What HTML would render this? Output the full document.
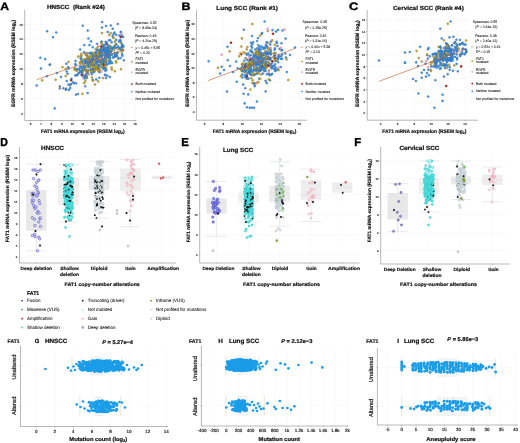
<!DOCTYPE html>
<html lang="en"><head><meta charset="utf-8"><title>FAT1 figure</title>
<style>html,body{margin:0;padding:0;background:#fff}body{width:520px;height:443px;overflow:hidden}svg{display:block}text{font-family:"Liberation Sans",Arial,sans-serif;text-rendering:geometricPrecision}
.c0{fill:#d0ac2c;stroke:#7a6414;stroke-width:0.34}
.c1{fill:#3c98ea;stroke:#2c5c9e;stroke-width:0.34}
.c2{fill:#f2a6cf;stroke:#c878a8;stroke-width:0.34}
.c3{fill:#b01818;stroke:#701010;stroke-width:0.34}
.c4{fill:#8a8a8a;stroke:#666;stroke-width:0.34}
.c5{fill:#c9a227;stroke:#8a6d10;stroke-width:0.2}
.c6{fill:#f2a6cf;stroke:#c878a8;stroke-width:0.2}
.c7{fill:#b01818;stroke:#701010;stroke-width:0.2}
.c8{fill:#3a9be6;stroke:#2a6fb8;stroke-width:0.2}
.c9{fill:#ededed;stroke:#dddddd;stroke-width:0.2}
.c10{fill:#dcdcf8;stroke:#3838bc;stroke-width:0.5}
.c11{fill:#111;stroke:#111;stroke-width:0.2}
.c12{fill:#52e4e0;stroke:#36c2c8;stroke-width:0.3}
.c13{fill:#111;stroke:#111;stroke-width:0.2}
.c14{fill:#c4f2f2;stroke:#8adcdc;stroke-width:0.25}
.c15{fill:#d4dde3;stroke:#aab8c0;stroke-width:0.28}
.c16{fill:#d0d0d0;stroke:#b0b0b0;stroke-width:0.3}
.c17{fill:#f8ccd6;stroke:#e69cb0;stroke-width:0.3}
.c18{fill:#e46060;stroke:#c84040;stroke-width:0.3}
.c19{fill:#8e8eea;stroke:#3a3abc;stroke-width:0.4}
.c20{fill:#d0d0d0;stroke:#b0b0b0;stroke-width:0.3}
.c21{fill:#7cc860;stroke:#50a040;stroke-width:0.3}
.c22{fill:#8aa830;stroke:#607818;stroke-width:0.3}
.c23{fill:#f8ccd6;stroke:#e69cb0;stroke-width:0.3}
.c24{fill:#8aa830;stroke:#607818;stroke-width:0.3}
.c25{fill:#8c8cc8;stroke:#5454a4;stroke-width:0.4}
.c26{fill:#2a2a90;stroke:#2a2a90;stroke-width:0.25}
.c27{fill:#38a838;stroke:#2a8a2a;stroke-width:0.25}
.c28{fill:#e05858;stroke:#c03030;stroke-width:0.25}
.c29{fill:#8adede;stroke:#60c0c0;stroke-width:0.25}
.c30{fill:#111;stroke:#111;stroke-width:0.25}
.c31{fill:#d0ecec;stroke:#c0dcdc;stroke-width:0.25}
.c32{fill:#f6c0cc;stroke:#e8a0b0;stroke-width:0.25}
.c33{fill:#e8e8fb;stroke:#3434b4;stroke-width:0.5}
.c34{fill:#7a8a18;stroke:#5c6c10;stroke-width:0.25}
.c35{fill:#e4e4e4;stroke:#d8d8d8;stroke-width:0.25}
.c36{fill:#d4dade;stroke:#c0c8cc;stroke-width:0.25}
.c37{fill:#1b9de8;stroke:none;stroke-width:0.3}
.c38{fill:#1b9de8;stroke:none;stroke-width:0.3}</style>
</head><body>
<svg width="520" height="443" viewBox="0 0 520 443" font-family="'Liberation Sans', Arial, sans-serif">
<rect width="520" height="443" fill="#fff"/>
<line x1="30.5" y1="12" x2="30.5" y2="120.5" stroke="#f5f5f5" stroke-width="0.5"/>
<line x1="40.96" y1="12" x2="40.96" y2="120.5" stroke="#f5f5f5" stroke-width="0.5"/>
<line x1="51.42" y1="12" x2="51.42" y2="120.5" stroke="#f5f5f5" stroke-width="0.5"/>
<line x1="61.88" y1="12" x2="61.88" y2="120.5" stroke="#f5f5f5" stroke-width="0.5"/>
<line x1="72.34" y1="12" x2="72.34" y2="120.5" stroke="#f5f5f5" stroke-width="0.5"/>
<line x1="82.8" y1="12" x2="82.8" y2="120.5" stroke="#f5f5f5" stroke-width="0.5"/>
<line x1="93.26" y1="12" x2="93.26" y2="120.5" stroke="#f5f5f5" stroke-width="0.5"/>
<line x1="103.72" y1="12" x2="103.72" y2="120.5" stroke="#f5f5f5" stroke-width="0.5"/>
<line x1="114.18" y1="12" x2="114.18" y2="120.5" stroke="#f5f5f5" stroke-width="0.5"/>
<line x1="124.64" y1="12" x2="124.64" y2="120.5" stroke="#f5f5f5" stroke-width="0.5"/>
<line x1="135.1" y1="12" x2="135.1" y2="120.5" stroke="#f5f5f5" stroke-width="0.5"/>
<line x1="24.7" y1="113.42" x2="135.5" y2="113.42" stroke="#f5f5f5" stroke-width="0.5"/>
<line x1="24.7" y1="98.6" x2="135.5" y2="98.6" stroke="#f5f5f5" stroke-width="0.5"/>
<line x1="24.7" y1="83.78" x2="135.5" y2="83.78" stroke="#f5f5f5" stroke-width="0.5"/>
<line x1="24.7" y1="68.96" x2="135.5" y2="68.96" stroke="#f5f5f5" stroke-width="0.5"/>
<line x1="24.7" y1="54.14" x2="135.5" y2="54.14" stroke="#f5f5f5" stroke-width="0.5"/>
<line x1="24.7" y1="39.32" x2="135.5" y2="39.32" stroke="#f5f5f5" stroke-width="0.5"/>
<line x1="24.7" y1="24.5" x2="135.5" y2="24.5" stroke="#f5f5f5" stroke-width="0.5"/>
<line x1="24.7" y1="10" x2="24.7" y2="120.5" stroke="#8a8a8a" stroke-width="0.6"/>
<line x1="24.7" y1="120.5" x2="136.5" y2="120.5" stroke="#8a8a8a" stroke-width="0.6"/>
<line x1="30.5" y1="120.5" x2="30.5" y2="121.7" stroke="#8a8a8a" stroke-width="0.4"/>
<text x="30.5" y="125.1" font-size="3" fill="#333" font-weight="bold" stroke="#333" stroke-width="0.11" text-anchor="middle">6</text>
<line x1="40.96" y1="120.5" x2="40.96" y2="121.7" stroke="#8a8a8a" stroke-width="0.4"/>
<text x="40.96" y="125.1" font-size="3" fill="#333" font-weight="bold" stroke="#333" stroke-width="0.11" text-anchor="middle">7</text>
<line x1="51.42" y1="120.5" x2="51.42" y2="121.7" stroke="#8a8a8a" stroke-width="0.4"/>
<text x="51.42" y="125.1" font-size="3" fill="#333" font-weight="bold" stroke="#333" stroke-width="0.11" text-anchor="middle">8</text>
<line x1="61.88" y1="120.5" x2="61.88" y2="121.7" stroke="#8a8a8a" stroke-width="0.4"/>
<text x="61.88" y="125.1" font-size="3" fill="#333" font-weight="bold" stroke="#333" stroke-width="0.11" text-anchor="middle">9</text>
<line x1="72.34" y1="120.5" x2="72.34" y2="121.7" stroke="#8a8a8a" stroke-width="0.4"/>
<text x="72.34" y="125.1" font-size="3" fill="#333" font-weight="bold" stroke="#333" stroke-width="0.11" text-anchor="middle">10</text>
<line x1="82.8" y1="120.5" x2="82.8" y2="121.7" stroke="#8a8a8a" stroke-width="0.4"/>
<text x="82.8" y="125.1" font-size="3" fill="#333" font-weight="bold" stroke="#333" stroke-width="0.11" text-anchor="middle">11</text>
<line x1="93.26" y1="120.5" x2="93.26" y2="121.7" stroke="#8a8a8a" stroke-width="0.4"/>
<text x="93.26" y="125.1" font-size="3" fill="#333" font-weight="bold" stroke="#333" stroke-width="0.11" text-anchor="middle">12</text>
<line x1="103.72" y1="120.5" x2="103.72" y2="121.7" stroke="#8a8a8a" stroke-width="0.4"/>
<text x="103.72" y="125.1" font-size="3" fill="#333" font-weight="bold" stroke="#333" stroke-width="0.11" text-anchor="middle">13</text>
<line x1="114.18" y1="120.5" x2="114.18" y2="121.7" stroke="#8a8a8a" stroke-width="0.4"/>
<text x="114.18" y="125.1" font-size="3" fill="#333" font-weight="bold" stroke="#333" stroke-width="0.11" text-anchor="middle">14</text>
<line x1="124.64" y1="120.5" x2="124.64" y2="121.7" stroke="#8a8a8a" stroke-width="0.4"/>
<text x="124.64" y="125.1" font-size="3" fill="#333" font-weight="bold" stroke="#333" stroke-width="0.11" text-anchor="middle">15</text>
<line x1="135.1" y1="120.5" x2="135.1" y2="121.7" stroke="#8a8a8a" stroke-width="0.4"/>
<text x="135.1" y="125.1" font-size="3" fill="#333" font-weight="bold" stroke="#333" stroke-width="0.11" text-anchor="middle">16</text>
<line x1="23.5" y1="113.42" x2="24.7" y2="113.42" stroke="#8a8a8a" stroke-width="0.4"/>
<text x="22.7" y="114.52" font-size="3" fill="#333" font-weight="bold" stroke="#333" stroke-width="0.11" text-anchor="end">4</text>
<line x1="23.5" y1="98.6" x2="24.7" y2="98.6" stroke="#8a8a8a" stroke-width="0.4"/>
<text x="22.7" y="99.7" font-size="3" fill="#333" font-weight="bold" stroke="#333" stroke-width="0.11" text-anchor="end">6</text>
<line x1="23.5" y1="83.78" x2="24.7" y2="83.78" stroke="#8a8a8a" stroke-width="0.4"/>
<text x="22.7" y="84.88" font-size="3" fill="#333" font-weight="bold" stroke="#333" stroke-width="0.11" text-anchor="end">8</text>
<line x1="23.5" y1="68.96" x2="24.7" y2="68.96" stroke="#8a8a8a" stroke-width="0.4"/>
<text x="22.7" y="70.06" font-size="3" fill="#333" font-weight="bold" stroke="#333" stroke-width="0.11" text-anchor="end">10</text>
<line x1="23.5" y1="54.14" x2="24.7" y2="54.14" stroke="#8a8a8a" stroke-width="0.4"/>
<text x="22.7" y="55.24" font-size="3" fill="#333" font-weight="bold" stroke="#333" stroke-width="0.11" text-anchor="end">12</text>
<line x1="23.5" y1="39.32" x2="24.7" y2="39.32" stroke="#8a8a8a" stroke-width="0.4"/>
<text x="22.7" y="40.42" font-size="3" fill="#333" font-weight="bold" stroke="#333" stroke-width="0.11" text-anchor="end">14</text>
<line x1="23.5" y1="24.5" x2="24.7" y2="24.5" stroke="#8a8a8a" stroke-width="0.4"/>
<text x="22.7" y="25.6" font-size="3" fill="#333" font-weight="bold" stroke="#333" stroke-width="0.11" text-anchor="end">16</text>
<circle class="c0" r="1.05" cx="93.1" cy="60.1"/>
<circle class="c1" r="1.05" cx="89.6" cy="66.4"/>
<circle class="c1" r="1.05" cx="107.5" cy="53.3"/>
<circle class="c0" r="1.05" cx="109.4" cy="50.8"/>
<circle class="c1" r="1.05" cx="86.4" cy="60.3"/>
<circle class="c1" r="1.05" cx="113.7" cy="33.7"/>
<circle class="c0" r="1.05" cx="111.1" cy="51.3"/>
<circle class="c1" r="1.05" cx="104.7" cy="49"/>
<circle class="c1" r="1.05" cx="103.4" cy="66.2"/>
<circle class="c0" r="1.05" cx="76.7" cy="70.9"/>
<circle class="c2" r="1.05" cx="92" cy="60.2"/>
<circle class="c1" r="1.05" cx="98.9" cy="71.6"/>
<circle class="c0" r="1.05" cx="95.7" cy="49.3"/>
<circle class="c1" r="1.05" cx="91.6" cy="64.6"/>
<circle class="c0" r="1.05" cx="105.8" cy="59.3"/>
<circle class="c1" r="1.05" cx="105.1" cy="63.1"/>
<circle class="c0" r="1.05" cx="96.2" cy="55.9"/>
<circle class="c0" r="1.05" cx="99.5" cy="69.1"/>
<circle class="c0" r="1.05" cx="92.3" cy="56.3"/>
<circle class="c1" r="1.05" cx="112.8" cy="48.3"/>
<circle class="c1" r="1.05" cx="108.6" cy="56.5"/>
<circle class="c0" r="1.05" cx="82.3" cy="73.3"/>
<circle class="c0" r="1.05" cx="74.6" cy="69.8"/>
<circle class="c0" r="1.05" cx="82.3" cy="69.9"/>
<circle class="c1" r="1.05" cx="101.3" cy="66.3"/>
<circle class="c1" r="1.05" cx="111.7" cy="42.3"/>
<circle class="c1" r="1.05" cx="105.1" cy="58.6"/>
<circle class="c1" r="1.05" cx="100.4" cy="49.7"/>
<circle class="c1" r="1.05" cx="84.5" cy="67.7"/>
<circle class="c0" r="1.05" cx="90.2" cy="63.6"/>
<circle class="c1" r="1.05" cx="94.7" cy="65.2"/>
<circle class="c0" r="1.05" cx="80" cy="63.1"/>
<circle class="c0" r="1.05" cx="97.2" cy="68.5"/>
<circle class="c1" r="1.05" cx="100.5" cy="62.4"/>
<circle class="c1" r="1.05" cx="108.7" cy="53.9"/>
<circle class="c1" r="1.05" cx="93.3" cy="60"/>
<circle class="c1" r="1.05" cx="79.5" cy="72.7"/>
<circle class="c1" r="1.05" cx="113.3" cy="47.5"/>
<circle class="c1" r="1.05" cx="67.6" cy="73.8"/>
<circle class="c1" r="1.05" cx="87.3" cy="56"/>
<circle class="c0" r="1.05" cx="111.9" cy="69.7"/>
<circle class="c0" r="1.05" cx="96.7" cy="54.7"/>
<circle class="c3" r="1.05" cx="120.8" cy="37.1"/>
<circle class="c0" r="1.05" cx="98.5" cy="69.8"/>
<circle class="c1" r="1.05" cx="111.4" cy="51.4"/>
<circle class="c1" r="1.05" cx="73" cy="82.3"/>
<circle class="c1" r="1.05" cx="122.5" cy="46.8"/>
<circle class="c3" r="1.05" cx="101.1" cy="55.8"/>
<circle class="c1" r="1.05" cx="116.5" cy="52.9"/>
<circle class="c0" r="1.05" cx="100.2" cy="70.6"/>
<circle class="c1" r="1.05" cx="110.1" cy="51.1"/>
<circle class="c1" r="1.05" cx="98.6" cy="67.3"/>
<circle class="c1" r="1.05" cx="108.8" cy="63.6"/>
<circle class="c0" r="1.05" cx="83.3" cy="70.4"/>
<circle class="c1" r="1.05" cx="112.1" cy="54.6"/>
<circle class="c1" r="1.05" cx="122" cy="50"/>
<circle class="c0" r="1.05" cx="92.4" cy="57.8"/>
<circle class="c1" r="1.05" cx="110.8" cy="48.1"/>
<circle class="c0" r="1.05" cx="102.7" cy="54.6"/>
<circle class="c1" r="1.05" cx="94.7" cy="56.4"/>
<circle class="c1" r="1.05" cx="86.6" cy="77.1"/>
<circle class="c1" r="1.05" cx="89.6" cy="64.7"/>
<circle class="c1" r="1.05" cx="93.2" cy="63.4"/>
<circle class="c1" r="1.05" cx="103.6" cy="61.2"/>
<circle class="c1" r="1.05" cx="97.2" cy="49.8"/>
<circle class="c0" r="1.05" cx="82.9" cy="68.7"/>
<circle class="c1" r="1.05" cx="121.1" cy="32.5"/>
<circle class="c0" r="1.05" cx="94.5" cy="69.6"/>
<circle class="c1" r="1.05" cx="85.8" cy="62.8"/>
<circle class="c1" r="1.05" cx="123.8" cy="60.3"/>
<circle class="c1" r="1.05" cx="85.6" cy="61.6"/>
<circle class="c1" r="1.05" cx="86.6" cy="59.1"/>
<circle class="c0" r="1.05" cx="99" cy="51.4"/>
<circle class="c1" r="1.05" cx="88.7" cy="58.4"/>
<circle class="c0" r="1.05" cx="99.1" cy="59.2"/>
<circle class="c0" r="1.05" cx="91.8" cy="72.3"/>
<circle class="c0" r="1.05" cx="114.9" cy="41.7"/>
<circle class="c1" r="1.05" cx="104.5" cy="63.2"/>
<circle class="c0" r="1.05" cx="68.5" cy="61.9"/>
<circle class="c1" r="1.05" cx="96.9" cy="59.5"/>
<circle class="c1" r="1.05" cx="122.4" cy="44.6"/>
<circle class="c1" r="1.05" cx="121.6" cy="35.4"/>
<circle class="c1" r="1.05" cx="102" cy="63.7"/>
<circle class="c1" r="1.05" cx="121.8" cy="46.2"/>
<circle class="c1" r="1.05" cx="104.1" cy="49.1"/>
<circle class="c1" r="1.05" cx="92.7" cy="47.3"/>
<circle class="c0" r="1.05" cx="111.5" cy="67.6"/>
<circle class="c1" r="1.05" cx="106.2" cy="47.8"/>
<circle class="c1" r="1.05" cx="116.1" cy="39.9"/>
<circle class="c1" r="1.05" cx="111.7" cy="49.7"/>
<circle class="c1" r="1.05" cx="101.9" cy="51.1"/>
<circle class="c0" r="1.05" cx="102.5" cy="44.9"/>
<circle class="c0" r="1.05" cx="104" cy="49.2"/>
<circle class="c0" r="1.05" cx="105.1" cy="58"/>
<circle class="c1" r="1.05" cx="99.9" cy="51.7"/>
<circle class="c1" r="1.05" cx="106.2" cy="62.1"/>
<circle class="c1" r="1.05" cx="98.9" cy="54.1"/>
<circle class="c0" r="1.05" cx="107.6" cy="47.2"/>
<circle class="c1" r="1.05" cx="97.5" cy="59.2"/>
<circle class="c0" r="1.05" cx="93.9" cy="60"/>
<circle class="c1" r="1.05" cx="104" cy="50.3"/>
<circle class="c1" r="1.05" cx="84.3" cy="45.1"/>
<circle class="c1" r="1.05" cx="110.9" cy="49.5"/>
<circle class="c0" r="1.05" cx="92" cy="52.6"/>
<circle class="c0" r="1.05" cx="104" cy="61"/>
<circle class="c1" r="1.05" cx="107.6" cy="51.3"/>
<circle class="c0" r="1.05" cx="97.1" cy="66"/>
<circle class="c1" r="1.05" cx="105.2" cy="52.8"/>
<circle class="c1" r="1.05" cx="70.3" cy="88"/>
<circle class="c1" r="1.05" cx="99.6" cy="72.2"/>
<circle class="c3" r="1.05" cx="98.8" cy="61.2"/>
<circle class="c0" r="1.05" cx="87.7" cy="64.5"/>
<circle class="c0" r="1.05" cx="87" cy="53.2"/>
<circle class="c0" r="1.05" cx="91.1" cy="61.4"/>
<circle class="c0" r="1.05" cx="123.1" cy="36.9"/>
<circle class="c1" r="1.05" cx="96.7" cy="56.8"/>
<circle class="c3" r="1.05" cx="106.5" cy="43.9"/>
<circle class="c1" r="1.05" cx="68.1" cy="67.2"/>
<circle class="c1" r="1.05" cx="108.9" cy="50.8"/>
<circle class="c1" r="1.05" cx="91.8" cy="74.3"/>
<circle class="c0" r="1.05" cx="113" cy="37.4"/>
<circle class="c1" r="1.05" cx="106.5" cy="50.7"/>
<circle class="c0" r="1.05" cx="94.3" cy="70.5"/>
<circle class="c0" r="1.05" cx="96.7" cy="61.6"/>
<circle class="c1" r="1.05" cx="97.6" cy="49.9"/>
<circle class="c0" r="1.05" cx="100" cy="62.1"/>
<circle class="c1" r="1.05" cx="114.6" cy="47.4"/>
<circle class="c1" r="1.05" cx="85" cy="61.6"/>
<circle class="c1" r="1.05" cx="104.1" cy="50.3"/>
<circle class="c0" r="1.05" cx="86.8" cy="70.4"/>
<circle class="c0" r="1.05" cx="94.5" cy="70.5"/>
<circle class="c1" r="1.05" cx="105.6" cy="63.5"/>
<circle class="c1" r="1.05" cx="105.3" cy="70.8"/>
<circle class="c0" r="1.05" cx="109.2" cy="35"/>
<circle class="c0" r="1.05" cx="94.6" cy="70.8"/>
<circle class="c0" r="1.05" cx="97.7" cy="70.4"/>
<circle class="c0" r="1.05" cx="80.4" cy="62.3"/>
<circle class="c2" r="1.05" cx="109.7" cy="53.7"/>
<circle class="c1" r="1.05" cx="104.3" cy="63.7"/>
<circle class="c1" r="1.05" cx="94" cy="72.2"/>
<circle class="c1" r="1.05" cx="117" cy="56.3"/>
<circle class="c0" r="1.05" cx="116.2" cy="62.5"/>
<circle class="c1" r="1.05" cx="91.5" cy="61.9"/>
<circle class="c0" r="1.05" cx="86.2" cy="66.4"/>
<circle class="c0" r="1.05" cx="115.6" cy="54.1"/>
<circle class="c0" r="1.05" cx="101.7" cy="41.7"/>
<circle class="c1" r="1.05" cx="105.1" cy="51.3"/>
<circle class="c1" r="1.05" cx="82.3" cy="72.2"/>
<circle class="c3" r="1.05" cx="96.8" cy="56.7"/>
<circle class="c1" r="1.05" cx="86.5" cy="76.3"/>
<circle class="c1" r="1.05" cx="110.3" cy="52.6"/>
<circle class="c1" r="1.05" cx="114.8" cy="55.1"/>
<circle class="c0" r="1.05" cx="99.9" cy="64.9"/>
<circle class="c0" r="1.05" cx="90.7" cy="53.8"/>
<circle class="c0" r="1.05" cx="104.7" cy="59.9"/>
<circle class="c0" r="1.05" cx="106.6" cy="65.1"/>
<circle class="c1" r="1.05" cx="109.2" cy="54.7"/>
<circle class="c1" r="1.05" cx="70.1" cy="85.1"/>
<circle class="c1" r="1.05" cx="93.4" cy="64.2"/>
<circle class="c0" r="1.05" cx="78.2" cy="56.6"/>
<circle class="c0" r="1.05" cx="81.5" cy="55.7"/>
<circle class="c0" r="1.05" cx="66.2" cy="88.6"/>
<circle class="c0" r="1.05" cx="93" cy="55.2"/>
<circle class="c0" r="1.05" cx="92" cy="77.5"/>
<circle class="c2" r="1.05" cx="98.3" cy="46.3"/>
<circle class="c1" r="1.05" cx="88" cy="73.9"/>
<circle class="c1" r="1.05" cx="114.6" cy="32.6"/>
<circle class="c1" r="1.05" cx="89.2" cy="65.9"/>
<circle class="c1" r="1.05" cx="92.4" cy="60.1"/>
<circle class="c1" r="1.05" cx="112.2" cy="63"/>
<circle class="c1" r="1.05" cx="81.4" cy="59.5"/>
<circle class="c1" r="1.05" cx="102.1" cy="58.8"/>
<circle class="c0" r="1.05" cx="81.3" cy="61.7"/>
<circle class="c0" r="1.05" cx="98.1" cy="54.9"/>
<circle class="c0" r="1.05" cx="84.5" cy="66.2"/>
<circle class="c0" r="1.05" cx="80.7" cy="56"/>
<circle class="c1" r="1.05" cx="122.1" cy="54.2"/>
<circle class="c1" r="1.05" cx="100.4" cy="53.4"/>
<circle class="c1" r="1.05" cx="110.3" cy="40.3"/>
<circle class="c1" r="1.05" cx="87.6" cy="72.5"/>
<circle class="c1" r="1.05" cx="110.5" cy="55.2"/>
<circle class="c1" r="1.05" cx="106.8" cy="42.6"/>
<circle class="c1" r="1.05" cx="87.9" cy="62.2"/>
<circle class="c1" r="1.05" cx="86.2" cy="74.1"/>
<circle class="c1" r="1.05" cx="116" cy="48"/>
<circle class="c0" r="1.05" cx="96.6" cy="68.8"/>
<circle class="c0" r="1.05" cx="100.2" cy="60"/>
<circle class="c1" r="1.05" cx="109.1" cy="61.1"/>
<circle class="c1" r="1.05" cx="114.6" cy="53.3"/>
<circle class="c0" r="1.05" cx="92.3" cy="69.7"/>
<circle class="c0" r="1.05" cx="107.3" cy="60.3"/>
<circle class="c0" r="1.05" cx="90.3" cy="56.5"/>
<circle class="c1" r="1.05" cx="105" cy="75.1"/>
<circle class="c1" r="1.05" cx="106" cy="56"/>
<circle class="c1" r="1.05" cx="97.3" cy="59.2"/>
<circle class="c0" r="1.05" cx="120.4" cy="49.3"/>
<circle class="c1" r="1.05" cx="96.3" cy="58.9"/>
<circle class="c1" r="1.05" cx="66.3" cy="63.8"/>
<circle class="c1" r="1.05" cx="121" cy="49.1"/>
<circle class="c1" r="1.05" cx="104.7" cy="62.9"/>
<circle class="c1" r="1.05" cx="113.5" cy="57.2"/>
<circle class="c1" r="1.05" cx="119.3" cy="35.5"/>
<circle class="c1" r="1.05" cx="100.1" cy="52"/>
<circle class="c1" r="1.05" cx="101.3" cy="56"/>
<circle class="c1" r="1.05" cx="107.4" cy="75.8"/>
<circle class="c1" r="1.05" cx="87.4" cy="64"/>
<circle class="c1" r="1.05" cx="119.9" cy="48.1"/>
<circle class="c1" r="1.05" cx="116.8" cy="55.2"/>
<circle class="c1" r="1.05" cx="120.8" cy="42.8"/>
<circle class="c1" r="1.05" cx="83.2" cy="76.5"/>
<circle class="c1" r="1.05" cx="91.5" cy="72.5"/>
<circle class="c1" r="1.05" cx="105.7" cy="41.8"/>
<circle class="c1" r="1.05" cx="103.1" cy="60.1"/>
<circle class="c1" r="1.05" cx="96.6" cy="61.4"/>
<circle class="c0" r="1.05" cx="107.9" cy="52.5"/>
<circle class="c0" r="1.05" cx="85.3" cy="81.1"/>
<circle class="c0" r="1.05" cx="69.6" cy="85.2"/>
<circle class="c0" r="1.05" cx="81.3" cy="53.8"/>
<circle class="c1" r="1.05" cx="107.8" cy="47.9"/>
<circle class="c1" r="1.05" cx="102.6" cy="67.4"/>
<circle class="c0" r="1.05" cx="110.4" cy="46.6"/>
<circle class="c0" r="1.05" cx="98.7" cy="59.7"/>
<circle class="c2" r="1.05" cx="100.1" cy="59.1"/>
<circle class="c1" r="1.05" cx="99.9" cy="55.5"/>
<circle class="c1" r="1.05" cx="110.8" cy="25.5"/>
<circle class="c0" r="1.05" cx="82.4" cy="93.8"/>
<circle class="c0" r="1.05" cx="100.1" cy="54.2"/>
<circle class="c1" r="1.05" cx="120.7" cy="40.6"/>
<circle class="c0" r="1.05" cx="74.5" cy="68"/>
<circle class="c1" r="1.05" cx="84.2" cy="78.4"/>
<circle class="c0" r="1.05" cx="96.4" cy="66.9"/>
<circle class="c0" r="1.05" cx="85.2" cy="69"/>
<circle class="c0" r="1.05" cx="104.6" cy="55.2"/>
<circle class="c0" r="1.05" cx="85.1" cy="53.4"/>
<circle class="c1" r="1.05" cx="122.6" cy="50.2"/>
<circle class="c1" r="1.05" cx="92.5" cy="69.8"/>
<circle class="c1" r="1.05" cx="96.7" cy="61.5"/>
<circle class="c1" r="1.05" cx="101.2" cy="50.6"/>
<circle class="c1" r="1.05" cx="120.8" cy="31.9"/>
<circle class="c1" r="1.05" cx="108.9" cy="52"/>
<circle class="c1" r="1.05" cx="89" cy="58"/>
<circle class="c0" r="1.05" cx="93" cy="68.8"/>
<circle class="c1" r="1.05" cx="98.3" cy="65.9"/>
<circle class="c0" r="1.05" cx="90.2" cy="63.9"/>
<circle class="c0" r="1.05" cx="104.1" cy="67"/>
<circle class="c0" r="1.05" cx="105.9" cy="68.3"/>
<circle class="c1" r="1.05" cx="110.1" cy="52"/>
<circle class="c1" r="1.05" cx="108" cy="45.2"/>
<circle class="c1" r="1.05" cx="104" cy="50.5"/>
<circle class="c1" r="1.05" cx="94" cy="53.8"/>
<circle class="c2" r="1.05" cx="101.4" cy="71.6"/>
<circle class="c0" r="1.05" cx="98.7" cy="53.7"/>
<circle class="c0" r="1.05" cx="93.7" cy="63.1"/>
<circle class="c1" r="1.05" cx="93.4" cy="65.1"/>
<circle class="c2" r="1.05" cx="121.5" cy="33.6"/>
<circle class="c2" r="1.05" cx="85.1" cy="53.9"/>
<circle class="c1" r="1.05" cx="79.3" cy="69.6"/>
<circle class="c0" r="1.05" cx="86.8" cy="78.2"/>
<circle class="c1" r="1.05" cx="88.4" cy="67.1"/>
<circle class="c1" r="1.05" cx="120.6" cy="58"/>
<circle class="c1" r="1.05" cx="122.1" cy="45.5"/>
<circle class="c2" r="1.05" cx="98.4" cy="55.5"/>
<circle class="c0" r="1.05" cx="103.4" cy="52.6"/>
<circle class="c0" r="1.05" cx="98.9" cy="70.4"/>
<circle class="c0" r="1.05" cx="80.3" cy="62.8"/>
<circle class="c0" r="1.05" cx="121.4" cy="42.9"/>
<circle class="c1" r="1.05" cx="74.2" cy="83.3"/>
<circle class="c1" r="1.05" cx="103" cy="61.2"/>
<circle class="c1" r="1.05" cx="98.1" cy="56.2"/>
<circle class="c1" r="1.05" cx="119.7" cy="40.3"/>
<circle class="c1" r="1.05" cx="82.7" cy="60.7"/>
<circle class="c1" r="1.05" cx="106.5" cy="51.7"/>
<circle class="c1" r="1.05" cx="114.5" cy="46.3"/>
<circle class="c0" r="1.05" cx="101" cy="58.1"/>
<circle class="c1" r="1.05" cx="98" cy="67.4"/>
<circle class="c1" r="1.05" cx="90.4" cy="52.8"/>
<circle class="c1" r="1.05" cx="89.5" cy="61.5"/>
<circle class="c1" r="1.05" cx="81.6" cy="67.6"/>
<circle class="c1" r="1.05" cx="105.5" cy="57.2"/>
<circle class="c1" r="1.05" cx="76.1" cy="83.2"/>
<circle class="c0" r="1.05" cx="86.1" cy="77.9"/>
<circle class="c0" r="1.05" cx="97.9" cy="54"/>
<circle class="c1" r="1.05" cx="103.4" cy="68.9"/>
<circle class="c0" r="1.05" cx="96.9" cy="63.9"/>
<circle class="c1" r="1.05" cx="104.1" cy="68.5"/>
<circle class="c0" r="1.05" cx="114.2" cy="50.2"/>
<circle class="c0" r="1.05" cx="107.3" cy="54.1"/>
<circle class="c0" r="1.05" cx="94.2" cy="53.5"/>
<circle class="c1" r="1.05" cx="98.5" cy="60.8"/>
<circle class="c0" r="1.05" cx="89.7" cy="66.6"/>
<circle class="c1" r="1.05" cx="95.8" cy="59"/>
<circle class="c1" r="1.05" cx="123.1" cy="50"/>
<circle class="c1" r="1.05" cx="122.4" cy="55.7"/>
<circle class="c0" r="1.05" cx="110" cy="46.2"/>
<circle class="c1" r="1.05" cx="110.8" cy="61.3"/>
<circle class="c0" r="1.05" cx="95.4" cy="55.5"/>
<circle class="c1" r="1.05" cx="107.4" cy="48.3"/>
<circle class="c1" r="1.05" cx="98.4" cy="61.7"/>
<circle class="c1" r="1.05" cx="94.1" cy="68.8"/>
<circle class="c1" r="1.05" cx="102.7" cy="47.8"/>
<circle class="c1" r="1.05" cx="91.1" cy="41.4"/>
<circle class="c0" r="1.05" cx="65.7" cy="68.8"/>
<circle class="c1" r="1.05" cx="111.2" cy="48.1"/>
<circle class="c2" r="1.05" cx="83.5" cy="77"/>
<circle class="c1" r="1.05" cx="85" cy="75.8"/>
<circle class="c1" r="1.05" cx="112.6" cy="35.7"/>
<circle class="c0" r="1.05" cx="84.2" cy="83"/>
<circle class="c1" r="1.05" cx="99.3" cy="59.4"/>
<circle class="c1" r="1.05" cx="82.2" cy="66.7"/>
<circle class="c1" r="1.05" cx="119.1" cy="41.5"/>
<circle class="c1" r="1.05" cx="116.3" cy="44.1"/>
<circle class="c0" r="1.05" cx="99.7" cy="58.6"/>
<circle class="c0" r="1.05" cx="84.3" cy="59.1"/>
<circle class="c1" r="1.05" cx="106.5" cy="54"/>
<circle class="c1" r="1.05" cx="81.1" cy="58.2"/>
<circle class="c0" r="1.05" cx="102.5" cy="55.1"/>
<circle class="c1" r="1.05" cx="123.5" cy="46.4"/>
<circle class="c1" r="1.05" cx="71.4" cy="78.8"/>
<circle class="c0" r="1.05" cx="82.3" cy="75.2"/>
<circle class="c1" r="1.05" cx="106.7" cy="51.6"/>
<circle class="c1" r="1.05" cx="104.4" cy="50.7"/>
<circle class="c0" r="1.05" cx="97.5" cy="47.6"/>
<circle class="c0" r="1.05" cx="86.7" cy="58.7"/>
<circle class="c1" r="1.05" cx="100.9" cy="59.6"/>
<circle class="c0" r="1.05" cx="95.5" cy="61.7"/>
<circle class="c2" r="1.05" cx="88.9" cy="74.4"/>
<circle class="c1" r="1.05" cx="105.4" cy="74.7"/>
<circle class="c1" r="1.05" cx="115.4" cy="45.2"/>
<circle class="c1" r="1.05" cx="110" cy="58.8"/>
<circle class="c0" r="1.05" cx="101.3" cy="48.8"/>
<circle class="c1" r="1.05" cx="98.9" cy="64.8"/>
<circle class="c1" r="1.05" cx="121.8" cy="48.5"/>
<circle class="c0" r="1.05" cx="97.8" cy="59.4"/>
<circle class="c1" r="1.05" cx="104.1" cy="45"/>
<circle class="c1" r="1.05" cx="104.5" cy="46.8"/>
<circle class="c1" r="1.05" cx="108.9" cy="49.8"/>
<circle class="c1" r="1.05" cx="95.6" cy="54.5"/>
<circle class="c1" r="1.05" cx="85.5" cy="77.7"/>
<circle class="c0" r="1.05" cx="83.9" cy="65.5"/>
<circle class="c1" r="1.05" cx="84.6" cy="66.3"/>
<circle class="c1" r="1.05" cx="76" cy="69"/>
<circle class="c1" r="1.05" cx="92.5" cy="63.9"/>
<circle class="c3" r="1.05" cx="103.7" cy="64.6"/>
<circle class="c1" r="1.05" cx="109.7" cy="57.4"/>
<circle class="c1" r="1.05" cx="68.9" cy="89.9"/>
<circle class="c1" r="1.05" cx="80.5" cy="66.2"/>
<circle class="c0" r="1.05" cx="86" cy="55.1"/>
<circle class="c1" r="1.05" cx="106.2" cy="54.9"/>
<circle class="c0" r="1.05" cx="94.5" cy="67.7"/>
<circle class="c0" r="1.05" cx="86.5" cy="66.9"/>
<circle class="c1" r="1.05" cx="109.6" cy="58.4"/>
<circle class="c0" r="1.05" cx="114.8" cy="71.3"/>
<circle class="c1" r="1.05" cx="96.6" cy="62.5"/>
<circle class="c0" r="1.05" cx="104.1" cy="59.5"/>
<circle class="c1" r="1.05" cx="89.3" cy="59.8"/>
<circle class="c0" r="1.05" cx="121" cy="69.3"/>
<circle class="c0" r="1.05" cx="96.1" cy="57.5"/>
<circle class="c1" r="1.05" cx="75.7" cy="64.9"/>
<circle class="c1" r="1.05" cx="99.9" cy="49.7"/>
<circle class="c1" r="1.05" cx="117.7" cy="52.9"/>
<circle class="c1" r="1.05" cx="100.6" cy="52.1"/>
<circle class="c1" r="1.05" cx="88.7" cy="57.7"/>
<circle class="c1" r="1.05" cx="89" cy="65.5"/>
<circle class="c1" r="1.05" cx="82.8" cy="25.8"/>
<circle class="c1" r="1.05" cx="90.3" cy="60.2"/>
<circle class="c0" r="1.05" cx="92.2" cy="58.5"/>
<circle class="c1" r="1.05" cx="92.4" cy="54.7"/>
<circle class="c1" r="1.05" cx="102.1" cy="55.2"/>
<circle class="c0" r="1.05" cx="90.1" cy="61.9"/>
<circle class="c0" r="1.05" cx="95.1" cy="59.2"/>
<circle class="c1" r="1.05" cx="109.9" cy="50"/>
<circle class="c1" r="1.05" cx="102.6" cy="47"/>
<circle class="c1" r="1.05" cx="107.5" cy="57.4"/>
<circle class="c1" r="1.05" cx="93.1" cy="59.2"/>
<circle class="c1" r="1.05" cx="109.7" cy="50.3"/>
<circle class="c0" r="1.05" cx="101.5" cy="66.9"/>
<circle class="c1" r="1.05" cx="96.1" cy="52.1"/>
<circle class="c0" r="1.05" cx="92" cy="62.7"/>
<circle class="c1" r="1.05" cx="108.5" cy="55.3"/>
<circle class="c0" r="1.05" cx="92.1" cy="62.4"/>
<circle class="c1" r="1.05" cx="68.5" cy="84.6"/>
<circle class="c1" r="1.05" cx="118.3" cy="47.5"/>
<circle class="c1" r="1.05" cx="106.3" cy="55.6"/>
<circle class="c3" r="1.05" cx="86.5" cy="70.8"/>
<circle class="c0" r="1.05" cx="86.5" cy="54"/>
<circle class="c1" r="1.05" cx="92.7" cy="66.2"/>
<circle class="c1" r="1.05" cx="120.8" cy="48.9"/>
<circle class="c1" r="1.05" cx="104.7" cy="50.9"/>
<circle class="c1" r="1.05" cx="102" cy="49.1"/>
<circle class="c1" r="1.05" cx="100" cy="53"/>
<circle class="c1" r="1.05" cx="92.6" cy="80"/>
<circle class="c0" r="1.05" cx="113.8" cy="37.8"/>
<circle class="c1" r="1.05" cx="93.9" cy="55.4"/>
<circle class="c1" r="1.05" cx="97.5" cy="58.1"/>
<circle class="c1" r="1.05" cx="99.1" cy="57.7"/>
<circle class="c0" r="1.05" cx="93.2" cy="66.4"/>
<circle class="c1" r="1.05" cx="108.6" cy="52.9"/>
<circle class="c1" r="1.05" cx="106.8" cy="49.9"/>
<circle class="c0" r="1.05" cx="90.2" cy="65.5"/>
<circle class="c1" r="1.05" cx="102.6" cy="62.3"/>
<circle class="c1" r="1.05" cx="80.1" cy="71.4"/>
<circle class="c1" r="1.05" cx="91.8" cy="64.6"/>
<circle class="c1" r="1.05" cx="109.8" cy="62.5"/>
<circle class="c0" r="1.05" cx="94.6" cy="68.1"/>
<circle class="c1" r="1.05" cx="91" cy="61.9"/>
<circle class="c1" r="1.05" cx="101.8" cy="51.4"/>
<circle class="c1" r="1.05" cx="75.6" cy="60.9"/>
<circle class="c1" r="1.05" cx="68.7" cy="68.4"/>
<circle class="c0" r="1.05" cx="110.6" cy="33.1"/>
<circle class="c1" r="1.05" cx="122.5" cy="37"/>
<circle class="c0" r="1.05" cx="93.5" cy="66.5"/>
<circle class="c0" r="1.05" cx="83.3" cy="64.2"/>
<circle class="c1" r="1.05" cx="91" cy="68.9"/>
<circle class="c0" r="1.05" cx="103.9" cy="59.6"/>
<circle class="c1" r="1.05" cx="106.9" cy="64.4"/>
<circle class="c2" r="1.05" cx="96" cy="60.2"/>
<circle class="c1" r="1.05" cx="79.6" cy="68.1"/>
<circle class="c0" r="1.05" cx="95" cy="84.5"/>
<circle class="c0" r="1.05" cx="98.1" cy="52"/>
<circle class="c1" r="1.05" cx="87.3" cy="70.8"/>
<circle class="c1" r="1.05" cx="97.7" cy="56.4"/>
<circle class="c1" r="1.05" cx="78.3" cy="73.5"/>
<circle class="c3" r="1.05" cx="81.7" cy="74.8"/>
<circle class="c1" r="1.05" cx="77.5" cy="69.2"/>
<circle class="c0" r="1.05" cx="115.1" cy="45.1"/>
<circle class="c0" r="1.05" cx="121.7" cy="51.8"/>
<circle class="c1" r="1.05" cx="95.5" cy="52.6"/>
<circle class="c0" r="1.05" cx="91.3" cy="71.2"/>
<circle class="c1" r="1.05" cx="83.2" cy="75.5"/>
<circle class="c0" r="1.05" cx="89.1" cy="56.7"/>
<circle class="c0" r="1.05" cx="118.4" cy="58.7"/>
<circle class="c1" r="1.05" cx="63.3" cy="88.2"/>
<circle class="c0" r="1.05" cx="103.2" cy="54.7"/>
<circle class="c0" r="1.05" cx="94.3" cy="54.6"/>
<circle class="c1" r="1.05" cx="91.9" cy="62.6"/>
<circle class="c1" r="1.05" cx="82.3" cy="62.3"/>
<circle class="c1" r="1.05" cx="75.2" cy="64"/>
<circle class="c0" r="1.05" cx="105.2" cy="63.6"/>
<circle class="c1" r="1.05" cx="89.5" cy="45.1"/>
<circle class="c0" r="1.05" cx="105" cy="66.2"/>
<circle class="c1" r="1.05" cx="105.2" cy="49.1"/>
<circle class="c1" r="1.05" cx="81.6" cy="71.3"/>
<circle class="c1" r="1.05" cx="75.3" cy="75.5"/>
<circle class="c1" r="1.05" cx="99.9" cy="54.8"/>
<circle class="c0" r="1.05" cx="116.1" cy="61.3"/>
<circle class="c0" r="1.05" cx="98" cy="54.8"/>
<circle class="c1" r="1.05" cx="97.1" cy="43.8"/>
<circle class="c0" r="1.05" cx="104.5" cy="59.2"/>
<circle class="c0" r="1.05" cx="99.2" cy="58.2"/>
<circle class="c1" r="1.05" cx="104.7" cy="54.7"/>
<circle class="c1" r="1.05" cx="88.8" cy="70.3"/>
<circle class="c1" r="1.05" cx="101.1" cy="56"/>
<circle class="c1" r="1.05" cx="88.4" cy="38.5"/>
<circle class="c1" r="1.05" cx="104.3" cy="45"/>
<circle class="c0" r="1.05" cx="88.7" cy="60.1"/>
<circle class="c0" r="1.05" cx="102.1" cy="62.4"/>
<circle class="c0" r="1.05" cx="96.9" cy="66.2"/>
<circle class="c1" r="1.05" cx="92.3" cy="58.7"/>
<circle class="c1" r="1.05" cx="109.9" cy="77"/>
<circle class="c1" r="1.05" cx="91.7" cy="69.3"/>
<circle class="c0" r="1.05" cx="93.2" cy="80.7"/>
<circle class="c1" r="1.05" cx="102.2" cy="63.3"/>
<circle class="c2" r="1.05" cx="100.3" cy="58.4"/>
<circle class="c1" r="1.05" cx="93.2" cy="58"/>
<circle class="c1" r="1.05" cx="108.4" cy="48.5"/>
<circle class="c3" r="1.05" cx="101.1" cy="46.5"/>
<circle class="c1" r="1.05" cx="109" cy="40.2"/>
<circle class="c1" r="1.05" cx="96.3" cy="63.4"/>
<circle class="c1" r="1.05" cx="84" cy="52.3"/>
<circle class="c1" r="1.05" cx="105.1" cy="68"/>
<circle class="c0" r="1.05" cx="81.7" cy="60.2"/>
<circle class="c1" r="1.05" cx="86.3" cy="60.3"/>
<circle class="c1" r="1.05" cx="117.9" cy="46.5"/>
<circle class="c1" r="1.05" cx="109" cy="46.1"/>
<circle class="c1" r="1.05" cx="118.5" cy="58.2"/>
<circle class="c1" r="1.05" cx="83.6" cy="69.5"/>
<circle class="c1" r="1.05" cx="99.4" cy="77.8"/>
<circle class="c0" r="1.05" cx="88.1" cy="57.3"/>
<circle class="c1" r="1.05" cx="109.1" cy="55.8"/>
<circle class="c1" r="1.05" cx="90.2" cy="60.3"/>
<circle class="c0" r="1.05" cx="110.8" cy="49.9"/>
<circle class="c1" r="1.05" cx="88.8" cy="62.2"/>
<circle class="c1" r="1.05" cx="116.2" cy="34.8"/>
<circle class="c1" r="1.05" cx="113.1" cy="57.6"/>
<circle class="c1" r="1.05" cx="77.4" cy="75.2"/>
<circle class="c1" r="1.05" cx="101.9" cy="55.6"/>
<circle class="c0" r="1.05" cx="98.2" cy="81.4"/>
<circle class="c1" r="1.05" cx="101.3" cy="56.6"/>
<circle class="c1" r="1.05" cx="85.3" cy="63.1"/>
<circle class="c1" r="1.05" cx="89.1" cy="62.3"/>
<circle class="c1" r="1.05" cx="102" cy="61.4"/>
<circle class="c0" r="1.05" cx="65.7" cy="76.1"/>
<circle class="c1" r="1.05" cx="95.9" cy="60.4"/>
<circle class="c1" r="1.05" cx="115.1" cy="56.8"/>
<circle class="c1" r="1.05" cx="80.6" cy="58.3"/>
<circle class="c1" r="1.05" cx="85.2" cy="61.1"/>
<circle class="c1" r="1.05" cx="86.9" cy="73.5"/>
<circle class="c1" r="1.05" cx="104.5" cy="58.7"/>
<circle class="c0" r="1.05" cx="122" cy="49.1"/>
<circle class="c0" r="1.05" cx="118.4" cy="49.3"/>
<circle class="c0" r="1.05" cx="85.7" cy="71.1"/>
<circle class="c1" r="1.05" cx="89.3" cy="53.3"/>
<circle class="c1" r="1.05" cx="80.1" cy="49.5"/>
<circle class="c1" r="1.05" cx="96.2" cy="79.4"/>
<circle class="c1" r="1.05" cx="106.4" cy="70.1"/>
<circle class="c0" r="1.05" cx="87.7" cy="70.4"/>
<circle class="c1" r="1.05" cx="76.5" cy="75"/>
<circle class="c0" r="1.05" cx="92.6" cy="63.8"/>
<circle class="c1" r="1.05" cx="115.6" cy="55.7"/>
<circle class="c0" r="1.05" cx="87.4" cy="74"/>
<circle class="c0" r="1.05" cx="101.2" cy="43.3"/>
<circle class="c1" r="1.05" cx="101.6" cy="41.7"/>
<circle class="c0" r="1.05" cx="91.2" cy="71.3"/>
<circle class="c1" r="1.05" cx="110.8" cy="63.3"/>
<circle class="c1" r="1.05" cx="103.4" cy="51.3"/>
<circle class="c1" r="1.05" cx="47.2" cy="31.2"/>
<circle class="c1" r="1.05" cx="56.2" cy="32.5"/>
<circle class="c1" r="1.05" cx="53" cy="37.2"/>
<circle class="c1" r="1.05" cx="40.3" cy="57.7"/>
<circle class="c1" r="1.05" cx="45.2" cy="59.1"/>
<circle class="c1" r="1.05" cx="49.8" cy="64.6"/>
<circle class="c1" r="1.05" cx="36.7" cy="85.5"/>
<circle class="c0" r="1.05" cx="42.1" cy="80.4"/>
<circle class="c1" r="1.05" cx="40.9" cy="68.5"/>
<circle class="c1" r="1.05" cx="49.8" cy="64.8"/>
<circle class="c1" r="1.05" cx="46.9" cy="76.3"/>
<circle class="c0" r="1.05" cx="55.6" cy="79.7"/>
<circle class="c0" r="1.05" cx="62.5" cy="67.2"/>
<circle class="c4" r="1.05" cx="59.8" cy="86.4"/>
<circle class="c4" r="1.05" cx="59.8" cy="88.4"/>
<circle class="c1" r="1.05" cx="65.9" cy="89.6"/>
<circle class="c1" r="1.05" cx="66.8" cy="81"/>
<circle class="c1" r="1.05" cx="66.8" cy="71.5"/>
<circle class="c3" r="1.05" cx="71.2" cy="80.2"/>
<circle class="c1" r="1.05" cx="71.2" cy="84"/>
<circle class="c1" r="1.05" cx="54.7" cy="108.4"/>
<circle class="c1" r="1.05" cx="102.2" cy="22"/>
<circle class="c1" r="1.05" cx="117.8" cy="24"/>
<circle class="c1" r="1.05" cx="106" cy="26"/>
<circle class="c1" r="1.05" cx="102" cy="27.5"/>
<circle class="c1" r="1.05" cx="112.7" cy="28.7"/>
<circle class="c1" r="1.05" cx="87.7" cy="30.6"/>
<circle class="c0" r="1.05" cx="102" cy="33"/>
<circle class="c1" r="1.05" cx="107.7" cy="32"/>
<circle class="c1" r="1.05" cx="75.9" cy="94.7"/>
<circle class="c1" r="1.05" cx="78" cy="94"/>
<circle class="c1" r="1.05" cx="87.7" cy="93"/>
<circle class="c1" r="1.05" cx="65.8" cy="89.6"/>
<circle class="c1" r="1.05" cx="85.3" cy="86.3"/>
<circle class="c0" r="1.05" cx="103" cy="78"/>
<circle class="c1" r="1.05" cx="106" cy="78"/>
<circle class="c1" r="1.05" cx="57" cy="73"/>
<circle class="c1" r="1.05" cx="61" cy="77"/>
<line x1="36.5" y1="79.7" x2="122.6" y2="50.2" stroke="#c0562a" stroke-width="0.6"/>
<text x="0.3" y="9.5" font-size="10.8" fill="#000" font-weight="bold" stroke="#000" stroke-width="0.38" textLength="8.8" lengthAdjust="spacingAndGlyphs">A</text>
<text x="47" y="8.9" font-size="5.9" fill="#111" font-weight="bold" stroke="#111" stroke-width="0.21" textLength="57.8" lengthAdjust="spacingAndGlyphs">HNSCC&#160; (Rank #24)</text>
<text x="41" y="133.1" font-size="5.1" fill="#111" font-weight="bold" stroke="#111" stroke-width="0.18" textLength="83.6" lengthAdjust="spacingAndGlyphs">FAT1 mRNA expression (RSEM log<tspan font-size="70%" dy="0.8">2</tspan><tspan dy="-0.8">)</tspan></text>
<text x="0" y="0" font-size="5" fill="#111" font-weight="bold" stroke="#111" stroke-width="0.18" textLength="87" lengthAdjust="spacingAndGlyphs" transform="translate(14.7 106.8) rotate(-90)">EGFR mRNA expression (RSEM log<tspan font-size="70%" dy="0.8">2</tspan><tspan dy="-0.8">)</tspan></text>
<text x="132.3" y="23.6" font-size="3.45" fill="#222" stroke="#222" stroke-width="0.08">Spearman: 0.52</text>
<text x="134.9" y="28.7" font-size="3.45" fill="#222" stroke="#222" stroke-width="0.08">(<tspan font-style="italic">P</tspan> = 8.68e-34)</text>
<text x="134.9" y="37" font-size="3.45" fill="#222" stroke="#222" stroke-width="0.08">Pearson: 0.49</text>
<text x="134.9" y="42.1" font-size="3.45" fill="#222" stroke="#222" stroke-width="0.08">(<tspan font-style="italic">P</tspan> = 4.21e-29)</text>
<line x1="130.6" y1="47.4" x2="133" y2="47.4" stroke="#c0562a" stroke-width="0.5"/>
<text x="135.5" y="48.5" font-size="3.45" fill="#222" stroke="#222" stroke-width="0.08"><tspan font-style="italic">y</tspan> = 0.45x + 5.95</text>
<text x="135.5" y="53.6" font-size="3.45" fill="#222" stroke="#222" stroke-width="0.08"><tspan font-style="italic">R</tspan>² = 0.23</text>
<circle class="c5" r="0.8" cx="131.9" cy="61.7"/>
<text x="135.5" y="60.4" font-size="3.45" fill="#222" stroke="#222" stroke-width="0.08">FAT1</text>
<text x="135.5" y="63.8" font-size="3.45" fill="#222" stroke="#222" stroke-width="0.08">mutated</text>
<circle class="c6" r="0.8" cx="131.9" cy="72.3"/>
<text x="135.5" y="71" font-size="3.45" fill="#222" stroke="#222" stroke-width="0.08">EGFR</text>
<text x="135.5" y="74.4" font-size="3.45" fill="#222" stroke="#222" stroke-width="0.08">mutated</text>
<circle class="c7" r="0.8" cx="131.9" cy="84.1"/>
<text x="135.5" y="85.2" font-size="3.45" fill="#222" stroke="#222" stroke-width="0.08">Both mutated</text>
<circle class="c8" r="0.8" cx="131.9" cy="91.7"/>
<text x="135.5" y="92.8" font-size="3.45" fill="#222" stroke="#222" stroke-width="0.08">Neither mutated</text>
<circle class="c9" r="0.8" cx="131.9" cy="99.3"/>
<text x="135.5" y="100.4" font-size="3.45" fill="#222" stroke="#222" stroke-width="0.08">Not profiled for mutations</text>
<line x1="204.5" y1="12" x2="204.5" y2="120.2" stroke="#f5f5f5" stroke-width="0.5"/>
<line x1="223.44" y1="12" x2="223.44" y2="120.2" stroke="#f5f5f5" stroke-width="0.5"/>
<line x1="242.38" y1="12" x2="242.38" y2="120.2" stroke="#f5f5f5" stroke-width="0.5"/>
<line x1="261.32" y1="12" x2="261.32" y2="120.2" stroke="#f5f5f5" stroke-width="0.5"/>
<line x1="280.26" y1="12" x2="280.26" y2="120.2" stroke="#f5f5f5" stroke-width="0.5"/>
<line x1="299.2" y1="12" x2="299.2" y2="120.2" stroke="#f5f5f5" stroke-width="0.5"/>
<line x1="196.5" y1="111.8" x2="306" y2="111.8" stroke="#f5f5f5" stroke-width="0.5"/>
<line x1="196.5" y1="97.2" x2="306" y2="97.2" stroke="#f5f5f5" stroke-width="0.5"/>
<line x1="196.5" y1="82.6" x2="306" y2="82.6" stroke="#f5f5f5" stroke-width="0.5"/>
<line x1="196.5" y1="68" x2="306" y2="68" stroke="#f5f5f5" stroke-width="0.5"/>
<line x1="196.5" y1="53.4" x2="306" y2="53.4" stroke="#f5f5f5" stroke-width="0.5"/>
<line x1="196.5" y1="38.8" x2="306" y2="38.8" stroke="#f5f5f5" stroke-width="0.5"/>
<line x1="196.5" y1="24.2" x2="306" y2="24.2" stroke="#f5f5f5" stroke-width="0.5"/>
<line x1="196.5" y1="10" x2="196.5" y2="120.2" stroke="#8a8a8a" stroke-width="0.6"/>
<line x1="196.5" y1="120.2" x2="307" y2="120.2" stroke="#8a8a8a" stroke-width="0.6"/>
<line x1="204.5" y1="120.2" x2="204.5" y2="121.4" stroke="#8a8a8a" stroke-width="0.4"/>
<text x="204.5" y="124.8" font-size="3" fill="#333" font-weight="bold" stroke="#333" stroke-width="0.11" text-anchor="middle">6</text>
<line x1="223.44" y1="120.2" x2="223.44" y2="121.4" stroke="#8a8a8a" stroke-width="0.4"/>
<text x="223.44" y="124.8" font-size="3" fill="#333" font-weight="bold" stroke="#333" stroke-width="0.11" text-anchor="middle">8</text>
<line x1="242.38" y1="120.2" x2="242.38" y2="121.4" stroke="#8a8a8a" stroke-width="0.4"/>
<text x="242.38" y="124.8" font-size="3" fill="#333" font-weight="bold" stroke="#333" stroke-width="0.11" text-anchor="middle">10</text>
<line x1="261.32" y1="120.2" x2="261.32" y2="121.4" stroke="#8a8a8a" stroke-width="0.4"/>
<text x="261.32" y="124.8" font-size="3" fill="#333" font-weight="bold" stroke="#333" stroke-width="0.11" text-anchor="middle">12</text>
<line x1="280.26" y1="120.2" x2="280.26" y2="121.4" stroke="#8a8a8a" stroke-width="0.4"/>
<text x="280.26" y="124.8" font-size="3" fill="#333" font-weight="bold" stroke="#333" stroke-width="0.11" text-anchor="middle">14</text>
<line x1="299.2" y1="120.2" x2="299.2" y2="121.4" stroke="#8a8a8a" stroke-width="0.4"/>
<text x="299.2" y="124.8" font-size="3" fill="#333" font-weight="bold" stroke="#333" stroke-width="0.11" text-anchor="middle">16</text>
<line x1="195.3" y1="111.8" x2="196.5" y2="111.8" stroke="#8a8a8a" stroke-width="0.4"/>
<text x="194.5" y="112.9" font-size="3" fill="#333" font-weight="bold" stroke="#333" stroke-width="0.11" text-anchor="end">4</text>
<line x1="195.3" y1="97.2" x2="196.5" y2="97.2" stroke="#8a8a8a" stroke-width="0.4"/>
<text x="194.5" y="98.3" font-size="3" fill="#333" font-weight="bold" stroke="#333" stroke-width="0.11" text-anchor="end">6</text>
<line x1="195.3" y1="82.6" x2="196.5" y2="82.6" stroke="#8a8a8a" stroke-width="0.4"/>
<text x="194.5" y="83.7" font-size="3" fill="#333" font-weight="bold" stroke="#333" stroke-width="0.11" text-anchor="end">8</text>
<line x1="195.3" y1="68" x2="196.5" y2="68" stroke="#8a8a8a" stroke-width="0.4"/>
<text x="194.5" y="69.1" font-size="3" fill="#333" font-weight="bold" stroke="#333" stroke-width="0.11" text-anchor="end">10</text>
<line x1="195.3" y1="53.4" x2="196.5" y2="53.4" stroke="#8a8a8a" stroke-width="0.4"/>
<text x="194.5" y="54.5" font-size="3" fill="#333" font-weight="bold" stroke="#333" stroke-width="0.11" text-anchor="end">12</text>
<line x1="195.3" y1="38.8" x2="196.5" y2="38.8" stroke="#8a8a8a" stroke-width="0.4"/>
<text x="194.5" y="39.9" font-size="3" fill="#333" font-weight="bold" stroke="#333" stroke-width="0.11" text-anchor="end">14</text>
<line x1="195.3" y1="24.2" x2="196.5" y2="24.2" stroke="#8a8a8a" stroke-width="0.4"/>
<text x="194.5" y="25.3" font-size="3" fill="#333" font-weight="bold" stroke="#333" stroke-width="0.11" text-anchor="end">16</text>
<circle class="c1" r="1.05" cx="266.1" cy="44.5"/>
<circle class="c1" r="1.05" cx="263" cy="60.4"/>
<circle class="c1" r="1.05" cx="245.8" cy="65.5"/>
<circle class="c0" r="1.05" cx="245" cy="72.5"/>
<circle class="c0" r="1.05" cx="240.9" cy="76.1"/>
<circle class="c1" r="1.05" cx="278.1" cy="62.3"/>
<circle class="c1" r="1.05" cx="258.9" cy="55.1"/>
<circle class="c1" r="1.05" cx="270" cy="80.2"/>
<circle class="c1" r="1.05" cx="261" cy="59.8"/>
<circle class="c1" r="1.05" cx="268.2" cy="57.2"/>
<circle class="c1" r="1.05" cx="272.7" cy="61.7"/>
<circle class="c1" r="1.05" cx="271.2" cy="68"/>
<circle class="c0" r="1.05" cx="261.2" cy="74.5"/>
<circle class="c1" r="1.05" cx="246" cy="70.4"/>
<circle class="c1" r="1.05" cx="261.5" cy="61.4"/>
<circle class="c0" r="1.05" cx="288.3" cy="80"/>
<circle class="c1" r="1.05" cx="261.7" cy="56.9"/>
<circle class="c1" r="1.05" cx="257.5" cy="55.7"/>
<circle class="c0" r="1.05" cx="252.5" cy="80.3"/>
<circle class="c1" r="1.05" cx="253.5" cy="62.2"/>
<circle class="c1" r="1.05" cx="266.3" cy="64.6"/>
<circle class="c1" r="1.05" cx="251.3" cy="46.2"/>
<circle class="c1" r="1.05" cx="255.2" cy="63.2"/>
<circle class="c0" r="1.05" cx="253.5" cy="75"/>
<circle class="c0" r="1.05" cx="246.9" cy="66.7"/>
<circle class="c3" r="1.05" cx="250" cy="72"/>
<circle class="c1" r="1.05" cx="248.3" cy="53.4"/>
<circle class="c1" r="1.05" cx="254.1" cy="70"/>
<circle class="c1" r="1.05" cx="250.2" cy="74.3"/>
<circle class="c1" r="1.05" cx="250.9" cy="50.4"/>
<circle class="c0" r="1.05" cx="241.9" cy="64.9"/>
<circle class="c0" r="1.05" cx="241.9" cy="67.3"/>
<circle class="c1" r="1.05" cx="262.4" cy="47.1"/>
<circle class="c0" r="1.05" cx="273.5" cy="57.6"/>
<circle class="c2" r="1.05" cx="270.7" cy="47.8"/>
<circle class="c1" r="1.05" cx="253.6" cy="64.6"/>
<circle class="c1" r="1.05" cx="250.1" cy="58.8"/>
<circle class="c1" r="1.05" cx="258.2" cy="56.9"/>
<circle class="c1" r="1.05" cx="261.9" cy="33.7"/>
<circle class="c0" r="1.05" cx="258.6" cy="73.4"/>
<circle class="c3" r="1.05" cx="272.1" cy="61.2"/>
<circle class="c0" r="1.05" cx="261.9" cy="61.1"/>
<circle class="c1" r="1.05" cx="250.9" cy="60.7"/>
<circle class="c1" r="1.05" cx="263.8" cy="55.2"/>
<circle class="c1" r="1.05" cx="264.2" cy="53.3"/>
<circle class="c3" r="1.05" cx="241.2" cy="54.3"/>
<circle class="c1" r="1.05" cx="254.2" cy="55.7"/>
<circle class="c1" r="1.05" cx="268.5" cy="62.6"/>
<circle class="c1" r="1.05" cx="264.8" cy="70.6"/>
<circle class="c1" r="1.05" cx="244.3" cy="60.7"/>
<circle class="c1" r="1.05" cx="266.8" cy="56.5"/>
<circle class="c1" r="1.05" cx="254.4" cy="69.6"/>
<circle class="c1" r="1.05" cx="258.5" cy="58.4"/>
<circle class="c0" r="1.05" cx="251.2" cy="78.2"/>
<circle class="c1" r="1.05" cx="278" cy="59.5"/>
<circle class="c1" r="1.05" cx="249.5" cy="55.7"/>
<circle class="c0" r="1.05" cx="251.5" cy="75.3"/>
<circle class="c1" r="1.05" cx="253.6" cy="75.1"/>
<circle class="c1" r="1.05" cx="253.8" cy="68.5"/>
<circle class="c1" r="1.05" cx="253.8" cy="66.2"/>
<circle class="c1" r="1.05" cx="262.1" cy="67.3"/>
<circle class="c1" r="1.05" cx="252.6" cy="71.8"/>
<circle class="c1" r="1.05" cx="263" cy="66"/>
<circle class="c1" r="1.05" cx="262.3" cy="66.9"/>
<circle class="c0" r="1.05" cx="256.2" cy="64.2"/>
<circle class="c3" r="1.05" cx="250.6" cy="59"/>
<circle class="c1" r="1.05" cx="259.1" cy="68.1"/>
<circle class="c0" r="1.05" cx="268.6" cy="73.9"/>
<circle class="c1" r="1.05" cx="241.8" cy="70.9"/>
<circle class="c0" r="1.05" cx="252" cy="60.7"/>
<circle class="c1" r="1.05" cx="259.3" cy="47.4"/>
<circle class="c0" r="1.05" cx="263.5" cy="64.2"/>
<circle class="c0" r="1.05" cx="255.4" cy="63.4"/>
<circle class="c1" r="1.05" cx="259.8" cy="58.6"/>
<circle class="c1" r="1.05" cx="250.6" cy="70.3"/>
<circle class="c1" r="1.05" cx="275.4" cy="71.1"/>
<circle class="c1" r="1.05" cx="263.6" cy="48.7"/>
<circle class="c2" r="1.05" cx="259.1" cy="60.8"/>
<circle class="c0" r="1.05" cx="258.1" cy="54.8"/>
<circle class="c1" r="1.05" cx="258.4" cy="63.5"/>
<circle class="c1" r="1.05" cx="266.1" cy="51.5"/>
<circle class="c0" r="1.05" cx="246.7" cy="49.4"/>
<circle class="c0" r="1.05" cx="262.7" cy="58.4"/>
<circle class="c1" r="1.05" cx="237.6" cy="68.4"/>
<circle class="c1" r="1.05" cx="251.1" cy="70.3"/>
<circle class="c3" r="1.05" cx="257.9" cy="70"/>
<circle class="c0" r="1.05" cx="252.5" cy="83.1"/>
<circle class="c1" r="1.05" cx="260.6" cy="61.6"/>
<circle class="c1" r="1.05" cx="259.2" cy="78.7"/>
<circle class="c1" r="1.05" cx="255.2" cy="55.3"/>
<circle class="c1" r="1.05" cx="259.4" cy="51.1"/>
<circle class="c1" r="1.05" cx="259.3" cy="57.3"/>
<circle class="c1" r="1.05" cx="256.5" cy="61.5"/>
<circle class="c1" r="1.05" cx="260.1" cy="60.8"/>
<circle class="c0" r="1.05" cx="253" cy="52.8"/>
<circle class="c1" r="1.05" cx="272.1" cy="66.3"/>
<circle class="c0" r="1.05" cx="257.8" cy="52.7"/>
<circle class="c1" r="1.05" cx="248.5" cy="78.7"/>
<circle class="c0" r="1.05" cx="242.5" cy="63.8"/>
<circle class="c1" r="1.05" cx="281.5" cy="43.3"/>
<circle class="c1" r="1.05" cx="252.7" cy="58.6"/>
<circle class="c1" r="1.05" cx="282.1" cy="50"/>
<circle class="c1" r="1.05" cx="262.9" cy="61.5"/>
<circle class="c1" r="1.05" cx="245.4" cy="65"/>
<circle class="c1" r="1.05" cx="257.2" cy="59.5"/>
<circle class="c2" r="1.05" cx="259.9" cy="59.5"/>
<circle class="c1" r="1.05" cx="247.5" cy="66.9"/>
<circle class="c1" r="1.05" cx="261.7" cy="65.7"/>
<circle class="c1" r="1.05" cx="249.2" cy="60.8"/>
<circle class="c1" r="1.05" cx="236.8" cy="81.7"/>
<circle class="c1" r="1.05" cx="253.9" cy="54.9"/>
<circle class="c1" r="1.05" cx="263.9" cy="58.9"/>
<circle class="c2" r="1.05" cx="254.3" cy="65.2"/>
<circle class="c1" r="1.05" cx="276.6" cy="41.7"/>
<circle class="c1" r="1.05" cx="259" cy="68"/>
<circle class="c1" r="1.05" cx="253.2" cy="42.3"/>
<circle class="c1" r="1.05" cx="253.2" cy="64.4"/>
<circle class="c1" r="1.05" cx="269.1" cy="73.9"/>
<circle class="c1" r="1.05" cx="253.7" cy="70.3"/>
<circle class="c1" r="1.05" cx="257.2" cy="52.6"/>
<circle class="c0" r="1.05" cx="274.2" cy="53.1"/>
<circle class="c0" r="1.05" cx="266.3" cy="68.1"/>
<circle class="c1" r="1.05" cx="245.3" cy="77.3"/>
<circle class="c1" r="1.05" cx="272.4" cy="30.1"/>
<circle class="c1" r="1.05" cx="247.1" cy="78.5"/>
<circle class="c3" r="1.05" cx="257.1" cy="56"/>
<circle class="c0" r="1.05" cx="263.7" cy="59.8"/>
<circle class="c0" r="1.05" cx="256" cy="66.4"/>
<circle class="c1" r="1.05" cx="251.3" cy="60.8"/>
<circle class="c0" r="1.05" cx="252.4" cy="64.1"/>
<circle class="c1" r="1.05" cx="258.8" cy="49.4"/>
<circle class="c1" r="1.05" cx="269.9" cy="59.7"/>
<circle class="c1" r="1.05" cx="257.1" cy="41"/>
<circle class="c1" r="1.05" cx="252" cy="51.8"/>
<circle class="c1" r="1.05" cx="259.7" cy="67.6"/>
<circle class="c0" r="1.05" cx="241.5" cy="69.6"/>
<circle class="c1" r="1.05" cx="247.9" cy="66.2"/>
<circle class="c0" r="1.05" cx="260.3" cy="62.7"/>
<circle class="c1" r="1.05" cx="281.6" cy="50.4"/>
<circle class="c1" r="1.05" cx="260.7" cy="70.3"/>
<circle class="c0" r="1.05" cx="269.8" cy="59.1"/>
<circle class="c1" r="1.05" cx="242.2" cy="74.5"/>
<circle class="c1" r="1.05" cx="265.8" cy="58.2"/>
<circle class="c1" r="1.05" cx="261.1" cy="57.8"/>
<circle class="c1" r="1.05" cx="258.6" cy="69.4"/>
<circle class="c1" r="1.05" cx="259.3" cy="69.8"/>
<circle class="c0" r="1.05" cx="256" cy="63.7"/>
<circle class="c2" r="1.05" cx="245.9" cy="58.3"/>
<circle class="c1" r="1.05" cx="265.9" cy="63.9"/>
<circle class="c2" r="1.05" cx="257.6" cy="69.4"/>
<circle class="c1" r="1.05" cx="261.3" cy="56"/>
<circle class="c1" r="1.05" cx="265.7" cy="61.9"/>
<circle class="c1" r="1.05" cx="285.3" cy="53.5"/>
<circle class="c1" r="1.05" cx="256.8" cy="68.6"/>
<circle class="c1" r="1.05" cx="262.3" cy="63"/>
<circle class="c0" r="1.05" cx="243.2" cy="63.5"/>
<circle class="c1" r="1.05" cx="255.1" cy="49.5"/>
<circle class="c1" r="1.05" cx="259.4" cy="52.7"/>
<circle class="c1" r="1.05" cx="259.2" cy="64.2"/>
<circle class="c0" r="1.05" cx="257.3" cy="63.1"/>
<circle class="c0" r="1.05" cx="263.2" cy="69.6"/>
<circle class="c0" r="1.05" cx="254.3" cy="68.5"/>
<circle class="c0" r="1.05" cx="263.9" cy="58.6"/>
<circle class="c1" r="1.05" cx="274.6" cy="49.8"/>
<circle class="c1" r="1.05" cx="247.8" cy="73.1"/>
<circle class="c1" r="1.05" cx="252.1" cy="36.1"/>
<circle class="c1" r="1.05" cx="265.8" cy="53.6"/>
<circle class="c0" r="1.05" cx="252.4" cy="65.1"/>
<circle class="c1" r="1.05" cx="265.1" cy="57.7"/>
<circle class="c1" r="1.05" cx="258.5" cy="55.2"/>
<circle class="c1" r="1.05" cx="260.5" cy="65"/>
<circle class="c1" r="1.05" cx="249.4" cy="64"/>
<circle class="c2" r="1.05" cx="269.4" cy="57.5"/>
<circle class="c0" r="1.05" cx="246.7" cy="54"/>
<circle class="c0" r="1.05" cx="252.3" cy="61.1"/>
<circle class="c1" r="1.05" cx="248.8" cy="68.7"/>
<circle class="c0" r="1.05" cx="271.4" cy="53.4"/>
<circle class="c1" r="1.05" cx="263.5" cy="54.8"/>
<circle class="c1" r="1.05" cx="275.6" cy="67.4"/>
<circle class="c0" r="1.05" cx="248.9" cy="66.4"/>
<circle class="c1" r="1.05" cx="261.8" cy="63.3"/>
<circle class="c0" r="1.05" cx="261.1" cy="64.8"/>
<circle class="c0" r="1.05" cx="245" cy="64.4"/>
<circle class="c1" r="1.05" cx="259.9" cy="69.9"/>
<circle class="c1" r="1.05" cx="256.6" cy="56.2"/>
<circle class="c1" r="1.05" cx="277.3" cy="58.1"/>
<circle class="c1" r="1.05" cx="271.4" cy="74.6"/>
<circle class="c0" r="1.05" cx="263.9" cy="66.5"/>
<circle class="c1" r="1.05" cx="246.9" cy="54.8"/>
<circle class="c1" r="1.05" cx="259.4" cy="60.7"/>
<circle class="c1" r="1.05" cx="248.8" cy="66.1"/>
<circle class="c1" r="1.05" cx="256.1" cy="52.5"/>
<circle class="c1" r="1.05" cx="270.8" cy="51.2"/>
<circle class="c1" r="1.05" cx="262.3" cy="66.9"/>
<circle class="c1" r="1.05" cx="272.2" cy="73.8"/>
<circle class="c1" r="1.05" cx="260.9" cy="49.3"/>
<circle class="c1" r="1.05" cx="267.5" cy="52.9"/>
<circle class="c0" r="1.05" cx="260.3" cy="78.7"/>
<circle class="c1" r="1.05" cx="268.1" cy="48.1"/>
<circle class="c1" r="1.05" cx="247.5" cy="67.6"/>
<circle class="c1" r="1.05" cx="258.7" cy="69.6"/>
<circle class="c1" r="1.05" cx="280.9" cy="58.7"/>
<circle class="c1" r="1.05" cx="270.7" cy="54.5"/>
<circle class="c0" r="1.05" cx="256.2" cy="83.2"/>
<circle class="c1" r="1.05" cx="259.1" cy="65"/>
<circle class="c1" r="1.05" cx="251.2" cy="66.2"/>
<circle class="c1" r="1.05" cx="269.7" cy="75.3"/>
<circle class="c1" r="1.05" cx="244" cy="69.5"/>
<circle class="c3" r="1.05" cx="261.9" cy="67.2"/>
<circle class="c2" r="1.05" cx="278.6" cy="67.5"/>
<circle class="c1" r="1.05" cx="245.1" cy="69.3"/>
<circle class="c0" r="1.05" cx="267.9" cy="42.8"/>
<circle class="c1" r="1.05" cx="268.3" cy="53.9"/>
<circle class="c1" r="1.05" cx="264.8" cy="68.8"/>
<circle class="c0" r="1.05" cx="261.4" cy="56.7"/>
<circle class="c1" r="1.05" cx="281" cy="56.3"/>
<circle class="c1" r="1.05" cx="250" cy="61.4"/>
<circle class="c3" r="1.05" cx="259.1" cy="57.3"/>
<circle class="c0" r="1.05" cx="251.1" cy="65.1"/>
<circle class="c1" r="1.05" cx="270" cy="53.2"/>
<circle class="c2" r="1.05" cx="255.4" cy="59.7"/>
<circle class="c1" r="1.05" cx="256.8" cy="69.6"/>
<circle class="c1" r="1.05" cx="252.1" cy="47.8"/>
<circle class="c1" r="1.05" cx="265.6" cy="46.4"/>
<circle class="c0" r="1.05" cx="265.1" cy="63.7"/>
<circle class="c1" r="1.05" cx="275.4" cy="53.3"/>
<circle class="c1" r="1.05" cx="277.5" cy="46"/>
<circle class="c1" r="1.05" cx="278.4" cy="57.1"/>
<circle class="c0" r="1.05" cx="259.9" cy="65.4"/>
<circle class="c1" r="1.05" cx="260.5" cy="70.2"/>
<circle class="c0" r="1.05" cx="251.9" cy="59.1"/>
<circle class="c0" r="1.05" cx="267.9" cy="62.1"/>
<circle class="c1" r="1.05" cx="248.6" cy="70.9"/>
<circle class="c0" r="1.05" cx="257.7" cy="55.4"/>
<circle class="c1" r="1.05" cx="266.7" cy="59.5"/>
<circle class="c1" r="1.05" cx="257.2" cy="73.5"/>
<circle class="c1" r="1.05" cx="266.8" cy="74.2"/>
<circle class="c1" r="1.05" cx="244.9" cy="68.2"/>
<circle class="c1" r="1.05" cx="245.7" cy="66.6"/>
<circle class="c1" r="1.05" cx="244.9" cy="65.1"/>
<circle class="c1" r="1.05" cx="257" cy="58.1"/>
<circle class="c0" r="1.05" cx="266.8" cy="64"/>
<circle class="c1" r="1.05" cx="261.1" cy="62.1"/>
<circle class="c1" r="1.05" cx="247.9" cy="64.4"/>
<circle class="c1" r="1.05" cx="259.1" cy="60.9"/>
<circle class="c1" r="1.05" cx="282.2" cy="58.8"/>
<circle class="c1" r="1.05" cx="255.1" cy="56.9"/>
<circle class="c1" r="1.05" cx="261.5" cy="52.7"/>
<circle class="c1" r="1.05" cx="264.9" cy="66.9"/>
<circle class="c1" r="1.05" cx="247" cy="64.6"/>
<circle class="c1" r="1.05" cx="250.2" cy="70.3"/>
<circle class="c0" r="1.05" cx="286.6" cy="59.4"/>
<circle class="c2" r="1.05" cx="257.5" cy="82.6"/>
<circle class="c1" r="1.05" cx="250.8" cy="74.2"/>
<circle class="c1" r="1.05" cx="260.6" cy="55.9"/>
<circle class="c1" r="1.05" cx="255.8" cy="62.5"/>
<circle class="c1" r="1.05" cx="270.5" cy="49.7"/>
<circle class="c1" r="1.05" cx="250.2" cy="62.6"/>
<circle class="c0" r="1.05" cx="260" cy="62.6"/>
<circle class="c0" r="1.05" cx="264.7" cy="54.3"/>
<circle class="c1" r="1.05" cx="278.9" cy="57.3"/>
<circle class="c1" r="1.05" cx="240.2" cy="68.7"/>
<circle class="c0" r="1.05" cx="264.6" cy="66"/>
<circle class="c1" r="1.05" cx="255.3" cy="57.8"/>
<circle class="c1" r="1.05" cx="265.5" cy="62.4"/>
<circle class="c1" r="1.05" cx="265.8" cy="66.4"/>
<circle class="c1" r="1.05" cx="269" cy="57.8"/>
<circle class="c0" r="1.05" cx="250.6" cy="72.9"/>
<circle class="c0" r="1.05" cx="272.2" cy="40.4"/>
<circle class="c0" r="1.05" cx="244" cy="69"/>
<circle class="c1" r="1.05" cx="274.3" cy="55.3"/>
<circle class="c1" r="1.05" cx="264.2" cy="71.1"/>
<circle class="c1" r="1.05" cx="278.8" cy="55.4"/>
<circle class="c1" r="1.05" cx="236.2" cy="61.6"/>
<circle class="c1" r="1.05" cx="259.9" cy="63.1"/>
<circle class="c0" r="1.05" cx="256.4" cy="63.4"/>
<circle class="c1" r="1.05" cx="270.3" cy="58.9"/>
<circle class="c0" r="1.05" cx="245.3" cy="53.3"/>
<circle class="c1" r="1.05" cx="251" cy="55.2"/>
<circle class="c1" r="1.05" cx="263.1" cy="67.5"/>
<circle class="c0" r="1.05" cx="246.9" cy="64.9"/>
<circle class="c0" r="1.05" cx="246.5" cy="78.4"/>
<circle class="c0" r="1.05" cx="268.6" cy="64.5"/>
<circle class="c1" r="1.05" cx="271.5" cy="63.7"/>
<circle class="c1" r="1.05" cx="249.9" cy="68.4"/>
<circle class="c0" r="1.05" cx="239.2" cy="56.3"/>
<circle class="c1" r="1.05" cx="251.4" cy="70"/>
<circle class="c1" r="1.05" cx="255.4" cy="74.4"/>
<circle class="c1" r="1.05" cx="265.5" cy="53.2"/>
<circle class="c0" r="1.05" cx="247.3" cy="69.4"/>
<circle class="c0" r="1.05" cx="241.4" cy="70.3"/>
<circle class="c0" r="1.05" cx="250.4" cy="65.8"/>
<circle class="c0" r="1.05" cx="246.2" cy="68.4"/>
<circle class="c1" r="1.05" cx="267.9" cy="58.9"/>
<circle class="c1" r="1.05" cx="275" cy="64.2"/>
<circle class="c1" r="1.05" cx="252.8" cy="57.5"/>
<circle class="c0" r="1.05" cx="251.5" cy="73.1"/>
<circle class="c1" r="1.05" cx="260.7" cy="69.7"/>
<circle class="c0" r="1.05" cx="241.4" cy="46.6"/>
<circle class="c1" r="1.05" cx="253.3" cy="60.1"/>
<circle class="c0" r="1.05" cx="258.3" cy="68.8"/>
<circle class="c1" r="1.05" cx="261" cy="61.5"/>
<circle class="c0" r="1.05" cx="278.1" cy="69.5"/>
<circle class="c1" r="1.05" cx="262.5" cy="68.4"/>
<circle class="c3" r="1.05" cx="274.9" cy="58.5"/>
<circle class="c1" r="1.05" cx="246.7" cy="75.1"/>
<circle class="c1" r="1.05" cx="266.6" cy="42.1"/>
<circle class="c0" r="1.05" cx="259.5" cy="61.4"/>
<circle class="c0" r="1.05" cx="259.8" cy="62"/>
<circle class="c3" r="1.05" cx="245.1" cy="66.4"/>
<circle class="c1" r="1.05" cx="259.7" cy="60.6"/>
<circle class="c1" r="1.05" cx="263.8" cy="48.1"/>
<circle class="c1" r="1.05" cx="246.2" cy="66.4"/>
<circle class="c1" r="1.05" cx="282.5" cy="30.5"/>
<circle class="c0" r="1.05" cx="254.5" cy="58.5"/>
<circle class="c0" r="1.05" cx="240.5" cy="53.3"/>
<circle class="c1" r="1.05" cx="250.4" cy="66.2"/>
<circle class="c1" r="1.05" cx="261.2" cy="53.4"/>
<circle class="c0" r="1.05" cx="250" cy="68.4"/>
<circle class="c0" r="1.05" cx="256.9" cy="50.9"/>
<circle class="c0" r="1.05" cx="251.6" cy="63.9"/>
<circle class="c1" r="1.05" cx="279.6" cy="48.9"/>
<circle class="c0" r="1.05" cx="270.1" cy="66.2"/>
<circle class="c2" r="1.05" cx="280.9" cy="47.7"/>
<circle class="c1" r="1.05" cx="265.6" cy="70.8"/>
<circle class="c1" r="1.05" cx="270.7" cy="41.7"/>
<circle class="c0" r="1.05" cx="275.2" cy="53.6"/>
<circle class="c1" r="1.05" cx="268.4" cy="64.6"/>
<circle class="c1" r="1.05" cx="265.8" cy="64.6"/>
<circle class="c1" r="1.05" cx="242.9" cy="66.9"/>
<circle class="c1" r="1.05" cx="274.9" cy="56.5"/>
<circle class="c1" r="1.05" cx="258.2" cy="45.2"/>
<circle class="c0" r="1.05" cx="245.6" cy="58.2"/>
<circle class="c1" r="1.05" cx="261.7" cy="54.9"/>
<circle class="c2" r="1.05" cx="249.3" cy="57.6"/>
<circle class="c1" r="1.05" cx="254.3" cy="60.5"/>
<circle class="c0" r="1.05" cx="261.5" cy="55.3"/>
<circle class="c1" r="1.05" cx="265.4" cy="48.2"/>
<circle class="c0" r="1.05" cx="248.1" cy="66.7"/>
<circle class="c0" r="1.05" cx="260.2" cy="35.6"/>
<circle class="c1" r="1.05" cx="250.9" cy="42.7"/>
<circle class="c0" r="1.05" cx="260.3" cy="55.2"/>
<circle class="c0" r="1.05" cx="249.2" cy="62.7"/>
<circle class="c1" r="1.05" cx="259.4" cy="50.6"/>
<circle class="c1" r="1.05" cx="256.7" cy="63.9"/>
<circle class="c1" r="1.05" cx="255.9" cy="53.2"/>
<circle class="c1" r="1.05" cx="247.6" cy="73"/>
<circle class="c0" r="1.05" cx="256.9" cy="53.3"/>
<circle class="c0" r="1.05" cx="267.7" cy="63.4"/>
<circle class="c1" r="1.05" cx="244.7" cy="75.2"/>
<circle class="c1" r="1.05" cx="257.8" cy="58.7"/>
<circle class="c1" r="1.05" cx="246.4" cy="63.4"/>
<circle class="c1" r="1.05" cx="274.1" cy="68.7"/>
<circle class="c0" r="1.05" cx="278.5" cy="70.3"/>
<circle class="c1" r="1.05" cx="263.5" cy="59.1"/>
<circle class="c0" r="1.05" cx="268.4" cy="50.1"/>
<circle class="c1" r="1.05" cx="282.2" cy="54.6"/>
<circle class="c1" r="1.05" cx="259.6" cy="57.2"/>
<circle class="c1" r="1.05" cx="256.9" cy="65.4"/>
<circle class="c1" r="1.05" cx="269.9" cy="58.2"/>
<circle class="c1" r="1.05" cx="243.3" cy="71.4"/>
<circle class="c1" r="1.05" cx="270" cy="64.3"/>
<circle class="c1" r="1.05" cx="259.5" cy="71"/>
<circle class="c0" r="1.05" cx="258.8" cy="53"/>
<circle class="c0" r="1.05" cx="249.3" cy="66"/>
<circle class="c1" r="1.05" cx="266.6" cy="54.7"/>
<circle class="c3" r="1.05" cx="247" cy="76.4"/>
<circle class="c0" r="1.05" cx="243.5" cy="52.4"/>
<circle class="c0" r="1.05" cx="269" cy="70.5"/>
<circle class="c1" r="1.05" cx="257.4" cy="63"/>
<circle class="c1" r="1.05" cx="275.7" cy="60.5"/>
<circle class="c0" r="1.05" cx="247.7" cy="63.9"/>
<circle class="c1" r="1.05" cx="259.7" cy="71.2"/>
<circle class="c1" r="1.05" cx="262.9" cy="73.5"/>
<circle class="c0" r="1.05" cx="252.4" cy="62.6"/>
<circle class="c1" r="1.05" cx="274" cy="65.9"/>
<circle class="c1" r="1.05" cx="268.9" cy="52.6"/>
<circle class="c1" r="1.05" cx="271.7" cy="66"/>
<circle class="c0" r="1.05" cx="274.9" cy="44.8"/>
<circle class="c0" r="1.05" cx="257" cy="68.8"/>
<circle class="c0" r="1.05" cx="241.6" cy="69.7"/>
<circle class="c1" r="1.05" cx="249.8" cy="73.2"/>
<circle class="c1" r="1.05" cx="275.1" cy="48.2"/>
<circle class="c0" r="1.05" cx="274.8" cy="59.5"/>
<circle class="c1" r="1.05" cx="250.6" cy="51.3"/>
<circle class="c1" r="1.05" cx="245.7" cy="71.1"/>
<circle class="c1" r="1.05" cx="261" cy="65.9"/>
<circle class="c1" r="1.05" cx="242.4" cy="77.4"/>
<circle class="c1" r="1.05" cx="253.1" cy="59.4"/>
<circle class="c1" r="1.05" cx="254.4" cy="64.1"/>
<circle class="c0" r="1.05" cx="259.1" cy="56"/>
<circle class="c1" r="1.05" cx="261.4" cy="55.1"/>
<circle class="c0" r="1.05" cx="265.2" cy="51.3"/>
<circle class="c1" r="1.05" cx="243.6" cy="69.9"/>
<circle class="c1" r="1.05" cx="257.2" cy="48.4"/>
<circle class="c1" r="1.05" cx="275.7" cy="60.9"/>
<circle class="c1" r="1.05" cx="268.9" cy="53.1"/>
<circle class="c1" r="1.05" cx="266.3" cy="56.9"/>
<circle class="c1" r="1.05" cx="262" cy="61.2"/>
<circle class="c0" r="1.05" cx="263.4" cy="64.6"/>
<circle class="c1" r="1.05" cx="267.2" cy="46.5"/>
<circle class="c0" r="1.05" cx="254" cy="73.7"/>
<circle class="c1" r="1.05" cx="270.3" cy="44.4"/>
<circle class="c1" r="1.05" cx="250.7" cy="68.8"/>
<circle class="c1" r="1.05" cx="250.8" cy="66.5"/>
<circle class="c1" r="1.05" cx="253.8" cy="62.8"/>
<circle class="c2" r="1.05" cx="268.6" cy="71.8"/>
<circle class="c1" r="1.05" cx="264.6" cy="59"/>
<circle class="c2" r="1.05" cx="268.1" cy="56.4"/>
<circle class="c1" r="1.05" cx="259.8" cy="63.2"/>
<circle class="c2" r="1.05" cx="271.8" cy="68.7"/>
<circle class="c1" r="1.05" cx="260.6" cy="46.2"/>
<circle class="c1" r="1.05" cx="265.6" cy="80.9"/>
<circle class="c0" r="1.05" cx="268.5" cy="48"/>
<circle class="c1" r="1.05" cx="285.6" cy="38.6"/>
<circle class="c0" r="1.05" cx="268.7" cy="79.4"/>
<circle class="c0" r="1.05" cx="257.7" cy="53.3"/>
<circle class="c3" r="1.05" cx="268.1" cy="65.9"/>
<circle class="c1" r="1.05" cx="246.9" cy="77.9"/>
<circle class="c1" r="1.05" cx="247.3" cy="59.9"/>
<circle class="c1" r="1.05" cx="259" cy="57.3"/>
<circle class="c1" r="1.05" cx="272.2" cy="68"/>
<circle class="c0" r="1.05" cx="257" cy="72"/>
<circle class="c1" r="1.05" cx="270.4" cy="58.2"/>
<circle class="c1" r="1.05" cx="268" cy="57.4"/>
<circle class="c1" r="1.05" cx="255.6" cy="70.7"/>
<circle class="c0" r="1.05" cx="265.7" cy="58.7"/>
<circle class="c0" r="1.05" cx="266.8" cy="67"/>
<circle class="c0" r="1.05" cx="250.3" cy="62.1"/>
<circle class="c1" r="1.05" cx="276.8" cy="43.1"/>
<circle class="c1" r="1.05" cx="268.9" cy="58.3"/>
<circle class="c1" r="1.05" cx="262.3" cy="59.6"/>
<circle class="c1" r="1.05" cx="256.7" cy="68.4"/>
<circle class="c0" r="1.05" cx="266.7" cy="57.1"/>
<circle class="c1" r="1.05" cx="286.8" cy="72"/>
<circle class="c0" r="1.05" cx="277" cy="60.4"/>
<circle class="c1" r="1.05" cx="208.7" cy="61.2"/>
<circle class="c2" r="1.05" cx="221.7" cy="54.7"/>
<circle class="c3" r="1.05" cx="231" cy="42.7"/>
<circle class="c1" r="1.05" cx="227.5" cy="46.8"/>
<circle class="c0" r="1.05" cx="229.6" cy="51.4"/>
<circle class="c0" r="1.05" cx="241.9" cy="38.4"/>
<circle class="c1" r="1.05" cx="243.8" cy="29.7"/>
<circle class="c0" r="1.05" cx="252.3" cy="24"/>
<circle class="c1" r="1.05" cx="264.6" cy="21.5"/>
<circle class="c2" r="1.05" cx="267.6" cy="28.7"/>
<circle class="c0" r="1.05" cx="267.8" cy="31"/>
<circle class="c3" r="1.05" cx="273" cy="33.8"/>
<circle class="c1" r="1.05" cx="227.7" cy="60.2"/>
<circle class="c0" r="1.05" cx="218" cy="67.7"/>
<circle class="c1" r="1.05" cx="221.7" cy="66.7"/>
<circle class="c1" r="1.05" cx="220.2" cy="73.5"/>
<circle class="c0" r="1.05" cx="247.4" cy="47"/>
<circle class="c1" r="1.05" cx="252.3" cy="44.3"/>
<circle class="c1" r="1.05" cx="243.2" cy="84.6"/>
<circle class="c1" r="1.05" cx="245.3" cy="88.2"/>
<circle class="c1" r="1.05" cx="254" cy="83"/>
<circle class="c1" r="1.05" cx="254.4" cy="84.6"/>
<circle class="c1" r="1.05" cx="254.8" cy="86.2"/>
<circle class="c0" r="1.05" cx="250.4" cy="89.6"/>
<circle class="c0" r="1.05" cx="258.4" cy="82"/>
<circle class="c1" r="1.05" cx="266.7" cy="83.1"/>
<circle class="c1" r="1.05" cx="265.6" cy="91.4"/>
<circle class="c1" r="1.05" cx="243.6" cy="93.7"/>
<circle class="c1" r="1.05" cx="248.2" cy="94.4"/>
<circle class="c1" r="1.05" cx="256.9" cy="101.5"/>
<circle class="c1" r="1.05" cx="244.6" cy="103.4"/>
<circle class="c1" r="1.05" cx="247" cy="107.3"/>
<circle class="c1" r="1.05" cx="249.7" cy="107.7"/>
<circle class="c1" r="1.05" cx="251.9" cy="107.7"/>
<circle class="c1" r="1.05" cx="254" cy="107.7"/>
<circle class="c1" r="1.05" cx="227" cy="91.5"/>
<circle class="c1" r="1.05" cx="280.8" cy="67"/>
<circle class="c1" r="1.05" cx="275" cy="70.4"/>
<circle class="c1" r="1.05" cx="276.5" cy="69.5"/>
<circle class="c1" r="1.05" cx="295" cy="47.5"/>
<circle class="c1" r="1.05" cx="290" cy="55"/>
<circle class="c1" r="1.05" cx="286" cy="57.5"/>
<circle class="c1" r="1.05" cx="224" cy="70"/>
<circle class="c1" r="1.05" cx="230" cy="66"/>
<circle class="c1" r="1.05" cx="233" cy="72"/>
<circle class="c1" r="1.05" cx="278" cy="30"/>
<circle class="c2" r="1.05" cx="284.5" cy="29.5"/>
<circle class="c1" r="1.05" cx="276" cy="31.5"/>
<circle class="c1" r="1.05" cx="262" cy="33"/>
<circle class="c1" r="1.05" cx="258" cy="38"/>
<line x1="207.9" y1="80.6" x2="295.2" y2="48.4" stroke="#c0562a" stroke-width="0.6"/>
<text x="181.6" y="9.5" font-size="10.8" fill="#000" font-weight="bold" stroke="#000" stroke-width="0.38" textLength="9" lengthAdjust="spacingAndGlyphs">B</text>
<text x="216.3" y="9.7" font-size="5.9" fill="#111" font-weight="bold" stroke="#111" stroke-width="0.21" textLength="61.7" lengthAdjust="spacingAndGlyphs">Lung SCC (Rank #1)</text>
<text x="212.7" y="132.8" font-size="5.1" fill="#111" font-weight="bold" stroke="#111" stroke-width="0.18" textLength="83.6" lengthAdjust="spacingAndGlyphs">FAT1 mRNA expression (RSEM log<tspan font-size="70%" dy="0.8">2</tspan><tspan dy="-0.8">)</tspan></text>
<text x="0" y="0" font-size="5" fill="#111" font-weight="bold" stroke="#111" stroke-width="0.18" textLength="87" lengthAdjust="spacingAndGlyphs" transform="translate(188.6 106.8) rotate(-90)">EGFR mRNA expression (RSEM log<tspan font-size="70%" dy="0.8">2</tspan><tspan dy="-0.8">)</tspan></text>
<text x="302.4" y="23.4" font-size="3.45" fill="#222" stroke="#222" stroke-width="0.08">Spearman: 0.45</text>
<text x="305" y="28.5" font-size="3.45" fill="#222" stroke="#222" stroke-width="0.08">(<tspan font-style="italic">P</tspan> = 1.25e-25)</text>
<text x="305" y="36.8" font-size="3.45" fill="#222" stroke="#222" stroke-width="0.08">Pearson: 0.36</text>
<text x="305" y="41.9" font-size="3.45" fill="#222" stroke="#222" stroke-width="0.08">(<tspan font-style="italic">P</tspan> = 1.31e-16)</text>
<line x1="300.7" y1="47.2" x2="303.1" y2="47.2" stroke="#c0562a" stroke-width="0.5"/>
<text x="305.6" y="48.3" font-size="3.45" fill="#222" stroke="#222" stroke-width="0.08"><tspan font-style="italic">y</tspan> = 0.40x + 5.98</text>
<text x="305.6" y="53.4" font-size="3.45" fill="#222" stroke="#222" stroke-width="0.08"><tspan font-style="italic">R</tspan>² = 0.13</text>
<circle class="c5" r="0.8" cx="302" cy="61.5"/>
<text x="305.6" y="60.2" font-size="3.45" fill="#222" stroke="#222" stroke-width="0.08">FAT1</text>
<text x="305.6" y="63.6" font-size="3.45" fill="#222" stroke="#222" stroke-width="0.08">mutated</text>
<circle class="c6" r="0.8" cx="302" cy="72.1"/>
<text x="305.6" y="70.8" font-size="3.45" fill="#222" stroke="#222" stroke-width="0.08">EGFR</text>
<text x="305.6" y="74.2" font-size="3.45" fill="#222" stroke="#222" stroke-width="0.08">mutated</text>
<circle class="c7" r="0.8" cx="302" cy="83.9"/>
<text x="305.6" y="85" font-size="3.45" fill="#222" stroke="#222" stroke-width="0.08">Both mutated</text>
<circle class="c8" r="0.8" cx="302" cy="91.5"/>
<text x="305.6" y="92.6" font-size="3.45" fill="#222" stroke="#222" stroke-width="0.08">Neither mutated</text>
<circle class="c9" r="0.8" cx="302" cy="99.1"/>
<text x="305.6" y="100.2" font-size="3.45" fill="#222" stroke="#222" stroke-width="0.08">Not profiled for mutations</text>
<line x1="380.7" y1="12" x2="380.7" y2="120.2" stroke="#f5f5f5" stroke-width="0.5"/>
<line x1="397.56" y1="12" x2="397.56" y2="120.2" stroke="#f5f5f5" stroke-width="0.5"/>
<line x1="414.42" y1="12" x2="414.42" y2="120.2" stroke="#f5f5f5" stroke-width="0.5"/>
<line x1="431.28" y1="12" x2="431.28" y2="120.2" stroke="#f5f5f5" stroke-width="0.5"/>
<line x1="448.14" y1="12" x2="448.14" y2="120.2" stroke="#f5f5f5" stroke-width="0.5"/>
<line x1="465" y1="12" x2="465" y2="120.2" stroke="#f5f5f5" stroke-width="0.5"/>
<line x1="367.2" y1="113.08" x2="477" y2="113.08" stroke="#f5f5f5" stroke-width="0.5"/>
<line x1="367.2" y1="101.42" x2="477" y2="101.42" stroke="#f5f5f5" stroke-width="0.5"/>
<line x1="367.2" y1="89.76" x2="477" y2="89.76" stroke="#f5f5f5" stroke-width="0.5"/>
<line x1="367.2" y1="78.1" x2="477" y2="78.1" stroke="#f5f5f5" stroke-width="0.5"/>
<line x1="367.2" y1="66.44" x2="477" y2="66.44" stroke="#f5f5f5" stroke-width="0.5"/>
<line x1="367.2" y1="54.78" x2="477" y2="54.78" stroke="#f5f5f5" stroke-width="0.5"/>
<line x1="367.2" y1="43.12" x2="477" y2="43.12" stroke="#f5f5f5" stroke-width="0.5"/>
<line x1="367.2" y1="31.46" x2="477" y2="31.46" stroke="#f5f5f5" stroke-width="0.5"/>
<line x1="367.2" y1="19.8" x2="477" y2="19.8" stroke="#f5f5f5" stroke-width="0.5"/>
<line x1="367.2" y1="10" x2="367.2" y2="120.2" stroke="#8a8a8a" stroke-width="0.6"/>
<line x1="367.2" y1="120.2" x2="478" y2="120.2" stroke="#8a8a8a" stroke-width="0.6"/>
<line x1="380.7" y1="120.2" x2="380.7" y2="121.4" stroke="#8a8a8a" stroke-width="0.4"/>
<text x="380.7" y="124.8" font-size="3" fill="#333" font-weight="bold" stroke="#333" stroke-width="0.11" text-anchor="middle">4</text>
<line x1="397.56" y1="120.2" x2="397.56" y2="121.4" stroke="#8a8a8a" stroke-width="0.4"/>
<text x="397.56" y="124.8" font-size="3" fill="#333" font-weight="bold" stroke="#333" stroke-width="0.11" text-anchor="middle">6</text>
<line x1="414.42" y1="120.2" x2="414.42" y2="121.4" stroke="#8a8a8a" stroke-width="0.4"/>
<text x="414.42" y="124.8" font-size="3" fill="#333" font-weight="bold" stroke="#333" stroke-width="0.11" text-anchor="middle">8</text>
<line x1="431.28" y1="120.2" x2="431.28" y2="121.4" stroke="#8a8a8a" stroke-width="0.4"/>
<text x="431.28" y="124.8" font-size="3" fill="#333" font-weight="bold" stroke="#333" stroke-width="0.11" text-anchor="middle">10</text>
<line x1="448.14" y1="120.2" x2="448.14" y2="121.4" stroke="#8a8a8a" stroke-width="0.4"/>
<text x="448.14" y="124.8" font-size="3" fill="#333" font-weight="bold" stroke="#333" stroke-width="0.11" text-anchor="middle">12</text>
<line x1="465" y1="120.2" x2="465" y2="121.4" stroke="#8a8a8a" stroke-width="0.4"/>
<text x="465" y="124.8" font-size="3" fill="#333" font-weight="bold" stroke="#333" stroke-width="0.11" text-anchor="middle">14</text>
<line x1="366" y1="113.08" x2="367.2" y2="113.08" stroke="#8a8a8a" stroke-width="0.4"/>
<text x="365.2" y="114.18" font-size="3" fill="#333" font-weight="bold" stroke="#333" stroke-width="0.11" text-anchor="end">0</text>
<line x1="366" y1="101.42" x2="367.2" y2="101.42" stroke="#8a8a8a" stroke-width="0.4"/>
<text x="365.2" y="102.52" font-size="3" fill="#333" font-weight="bold" stroke="#333" stroke-width="0.11" text-anchor="end">2</text>
<line x1="366" y1="89.76" x2="367.2" y2="89.76" stroke="#8a8a8a" stroke-width="0.4"/>
<text x="365.2" y="90.86" font-size="3" fill="#333" font-weight="bold" stroke="#333" stroke-width="0.11" text-anchor="end">4</text>
<line x1="366" y1="78.1" x2="367.2" y2="78.1" stroke="#8a8a8a" stroke-width="0.4"/>
<text x="365.2" y="79.2" font-size="3" fill="#333" font-weight="bold" stroke="#333" stroke-width="0.11" text-anchor="end">6</text>
<line x1="366" y1="66.44" x2="367.2" y2="66.44" stroke="#8a8a8a" stroke-width="0.4"/>
<text x="365.2" y="67.54" font-size="3" fill="#333" font-weight="bold" stroke="#333" stroke-width="0.11" text-anchor="end">8</text>
<line x1="366" y1="54.78" x2="367.2" y2="54.78" stroke="#8a8a8a" stroke-width="0.4"/>
<text x="365.2" y="55.88" font-size="3" fill="#333" font-weight="bold" stroke="#333" stroke-width="0.11" text-anchor="end">10</text>
<line x1="366" y1="43.12" x2="367.2" y2="43.12" stroke="#8a8a8a" stroke-width="0.4"/>
<text x="365.2" y="44.22" font-size="3" fill="#333" font-weight="bold" stroke="#333" stroke-width="0.11" text-anchor="end">12</text>
<line x1="366" y1="31.46" x2="367.2" y2="31.46" stroke="#8a8a8a" stroke-width="0.4"/>
<text x="365.2" y="32.56" font-size="3" fill="#333" font-weight="bold" stroke="#333" stroke-width="0.11" text-anchor="end">14</text>
<line x1="366" y1="19.8" x2="367.2" y2="19.8" stroke="#8a8a8a" stroke-width="0.4"/>
<text x="365.2" y="20.9" font-size="3" fill="#333" font-weight="bold" stroke="#333" stroke-width="0.11" text-anchor="end">16</text>
<circle class="c1" r="1.05" cx="445.4" cy="51.1"/>
<circle class="c1" r="1.05" cx="455" cy="47"/>
<circle class="c0" r="1.05" cx="441" cy="48.2"/>
<circle class="c0" r="1.05" cx="434.3" cy="60.8"/>
<circle class="c1" r="1.05" cx="460.6" cy="54.8"/>
<circle class="c1" r="1.05" cx="449.2" cy="47.3"/>
<circle class="c1" r="1.05" cx="441" cy="56.1"/>
<circle class="c1" r="1.05" cx="445.9" cy="51.6"/>
<circle class="c1" r="1.05" cx="444.7" cy="53.1"/>
<circle class="c1" r="1.05" cx="438.5" cy="51"/>
<circle class="c1" r="1.05" cx="451.2" cy="60.4"/>
<circle class="c1" r="1.05" cx="445" cy="68.1"/>
<circle class="c1" r="1.05" cx="452.4" cy="58.9"/>
<circle class="c1" r="1.05" cx="449.6" cy="58.2"/>
<circle class="c1" r="1.05" cx="451" cy="57.2"/>
<circle class="c1" r="1.05" cx="457.7" cy="49.6"/>
<circle class="c1" r="1.05" cx="452.7" cy="60.5"/>
<circle class="c1" r="1.05" cx="451.6" cy="49.7"/>
<circle class="c1" r="1.05" cx="435.6" cy="57.6"/>
<circle class="c1" r="1.05" cx="445.6" cy="65.5"/>
<circle class="c1" r="1.05" cx="450.3" cy="49.8"/>
<circle class="c1" r="1.05" cx="451.1" cy="50.8"/>
<circle class="c1" r="1.05" cx="441.8" cy="53.6"/>
<circle class="c1" r="1.05" cx="442.1" cy="53.2"/>
<circle class="c2" r="1.05" cx="451.8" cy="58.3"/>
<circle class="c1" r="1.05" cx="441.9" cy="55.9"/>
<circle class="c3" r="1.05" cx="461.2" cy="66.4"/>
<circle class="c1" r="1.05" cx="449.5" cy="37.4"/>
<circle class="c1" r="1.05" cx="437.8" cy="60.7"/>
<circle class="c1" r="1.05" cx="448.5" cy="45.7"/>
<circle class="c1" r="1.05" cx="447.2" cy="60.4"/>
<circle class="c1" r="1.05" cx="451.8" cy="54.9"/>
<circle class="c1" r="1.05" cx="439.4" cy="52.2"/>
<circle class="c1" r="1.05" cx="465.5" cy="44.6"/>
<circle class="c1" r="1.05" cx="453.9" cy="49.6"/>
<circle class="c1" r="1.05" cx="437.3" cy="56.5"/>
<circle class="c0" r="1.05" cx="446.1" cy="51.3"/>
<circle class="c1" r="1.05" cx="454.2" cy="43"/>
<circle class="c1" r="1.05" cx="433.4" cy="54.3"/>
<circle class="c1" r="1.05" cx="459.9" cy="40"/>
<circle class="c1" r="1.05" cx="428" cy="49.2"/>
<circle class="c1" r="1.05" cx="441.5" cy="59.4"/>
<circle class="c1" r="1.05" cx="441.5" cy="58.5"/>
<circle class="c1" r="1.05" cx="446.2" cy="64.6"/>
<circle class="c1" r="1.05" cx="444.7" cy="58.3"/>
<circle class="c1" r="1.05" cx="436.1" cy="54.9"/>
<circle class="c0" r="1.05" cx="440.3" cy="52.4"/>
<circle class="c1" r="1.05" cx="432.7" cy="54.2"/>
<circle class="c1" r="1.05" cx="451.7" cy="54.9"/>
<circle class="c1" r="1.05" cx="437.4" cy="59"/>
<circle class="c1" r="1.05" cx="435" cy="54"/>
<circle class="c0" r="1.05" cx="437.2" cy="54.3"/>
<circle class="c1" r="1.05" cx="445.8" cy="55.9"/>
<circle class="c1" r="1.05" cx="442.4" cy="57.4"/>
<circle class="c1" r="1.05" cx="441.3" cy="57.1"/>
<circle class="c1" r="1.05" cx="456.6" cy="51.3"/>
<circle class="c1" r="1.05" cx="441.1" cy="63.4"/>
<circle class="c1" r="1.05" cx="450.8" cy="55.1"/>
<circle class="c1" r="1.05" cx="450" cy="51.8"/>
<circle class="c1" r="1.05" cx="451.3" cy="53.7"/>
<circle class="c1" r="1.05" cx="443.5" cy="51.2"/>
<circle class="c0" r="1.05" cx="449.2" cy="64.7"/>
<circle class="c1" r="1.05" cx="462.2" cy="52.4"/>
<circle class="c1" r="1.05" cx="453.7" cy="50.8"/>
<circle class="c1" r="1.05" cx="443.9" cy="57.5"/>
<circle class="c1" r="1.05" cx="463.2" cy="48.6"/>
<circle class="c2" r="1.05" cx="454.2" cy="50.5"/>
<circle class="c0" r="1.05" cx="448.9" cy="51.3"/>
<circle class="c0" r="1.05" cx="442.6" cy="64.2"/>
<circle class="c1" r="1.05" cx="435.2" cy="63.1"/>
<circle class="c1" r="1.05" cx="450.8" cy="61"/>
<circle class="c1" r="1.05" cx="445.4" cy="60.1"/>
<circle class="c0" r="1.05" cx="437.6" cy="60.8"/>
<circle class="c1" r="1.05" cx="436.5" cy="63.1"/>
<circle class="c1" r="1.05" cx="443.1" cy="59.3"/>
<circle class="c0" r="1.05" cx="434.1" cy="59.4"/>
<circle class="c1" r="1.05" cx="445.7" cy="46.7"/>
<circle class="c1" r="1.05" cx="443.2" cy="58.7"/>
<circle class="c1" r="1.05" cx="444.2" cy="65.6"/>
<circle class="c1" r="1.05" cx="446.9" cy="43.9"/>
<circle class="c1" r="1.05" cx="447.5" cy="45"/>
<circle class="c1" r="1.05" cx="433.4" cy="66.4"/>
<circle class="c1" r="1.05" cx="451.3" cy="49.6"/>
<circle class="c1" r="1.05" cx="440.2" cy="47.1"/>
<circle class="c0" r="1.05" cx="455.8" cy="43.8"/>
<circle class="c0" r="1.05" cx="445.9" cy="55.7"/>
<circle class="c0" r="1.05" cx="430.7" cy="64.5"/>
<circle class="c1" r="1.05" cx="464.4" cy="54.2"/>
<circle class="c1" r="1.05" cx="434.8" cy="64.2"/>
<circle class="c1" r="1.05" cx="453.5" cy="36.8"/>
<circle class="c0" r="1.05" cx="435" cy="65.5"/>
<circle class="c1" r="1.05" cx="433.3" cy="54.5"/>
<circle class="c1" r="1.05" cx="441.1" cy="51.9"/>
<circle class="c2" r="1.05" cx="440.9" cy="57.9"/>
<circle class="c1" r="1.05" cx="440.1" cy="62.2"/>
<circle class="c1" r="1.05" cx="438.6" cy="66.4"/>
<circle class="c1" r="1.05" cx="443.3" cy="58.3"/>
<circle class="c1" r="1.05" cx="457.1" cy="57.9"/>
<circle class="c1" r="1.05" cx="445.7" cy="48.8"/>
<circle class="c1" r="1.05" cx="427.3" cy="55.2"/>
<circle class="c1" r="1.05" cx="427.9" cy="58.6"/>
<circle class="c1" r="1.05" cx="462.1" cy="53.7"/>
<circle class="c1" r="1.05" cx="455.9" cy="48.2"/>
<circle class="c1" r="1.05" cx="436.9" cy="65.6"/>
<circle class="c1" r="1.05" cx="466.1" cy="52.2"/>
<circle class="c1" r="1.05" cx="435.1" cy="66.7"/>
<circle class="c1" r="1.05" cx="446" cy="55.3"/>
<circle class="c1" r="1.05" cx="459.9" cy="44.4"/>
<circle class="c0" r="1.05" cx="444.5" cy="53.9"/>
<circle class="c1" r="1.05" cx="428.3" cy="69.8"/>
<circle class="c1" r="1.05" cx="447.1" cy="58.1"/>
<circle class="c1" r="1.05" cx="448.7" cy="47.9"/>
<circle class="c1" r="1.05" cx="441.7" cy="38.5"/>
<circle class="c1" r="1.05" cx="449.7" cy="69.8"/>
<circle class="c0" r="1.05" cx="427.2" cy="54.5"/>
<circle class="c0" r="1.05" cx="440.7" cy="55.9"/>
<circle class="c1" r="1.05" cx="446.5" cy="59.2"/>
<circle class="c1" r="1.05" cx="444.5" cy="56.5"/>
<circle class="c0" r="1.05" cx="458.7" cy="48.9"/>
<circle class="c1" r="1.05" cx="437.2" cy="54"/>
<circle class="c1" r="1.05" cx="449.6" cy="67.1"/>
<circle class="c0" r="1.05" cx="446.8" cy="68"/>
<circle class="c1" r="1.05" cx="455.2" cy="42"/>
<circle class="c1" r="1.05" cx="441.9" cy="57.8"/>
<circle class="c1" r="1.05" cx="459.7" cy="44.4"/>
<circle class="c1" r="1.05" cx="431.3" cy="66.5"/>
<circle class="c1" r="1.05" cx="440.7" cy="68.4"/>
<circle class="c1" r="1.05" cx="452" cy="45.4"/>
<circle class="c0" r="1.05" cx="453.1" cy="56.6"/>
<circle class="c1" r="1.05" cx="450.8" cy="58"/>
<circle class="c1" r="1.05" cx="437" cy="58"/>
<circle class="c1" r="1.05" cx="461.7" cy="43.7"/>
<circle class="c0" r="1.05" cx="457.6" cy="47.6"/>
<circle class="c0" r="1.05" cx="434.9" cy="62"/>
<circle class="c1" r="1.05" cx="436.5" cy="53.5"/>
<circle class="c1" r="1.05" cx="464.1" cy="44.6"/>
<circle class="c0" r="1.05" cx="438.1" cy="54.6"/>
<circle class="c1" r="1.05" cx="448.2" cy="51.6"/>
<circle class="c1" r="1.05" cx="446.8" cy="62.4"/>
<circle class="c1" r="1.05" cx="441.4" cy="56.1"/>
<circle class="c1" r="1.05" cx="456.4" cy="39.7"/>
<circle class="c0" r="1.05" cx="438.7" cy="46.9"/>
<circle class="c1" r="1.05" cx="441.4" cy="58.3"/>
<circle class="c1" r="1.05" cx="443.9" cy="48.1"/>
<circle class="c1" r="1.05" cx="441.4" cy="55.8"/>
<circle class="c0" r="1.05" cx="443.8" cy="64.1"/>
<circle class="c1" r="1.05" cx="451" cy="52.3"/>
<circle class="c1" r="1.05" cx="451.8" cy="58.3"/>
<circle class="c1" r="1.05" cx="451.7" cy="54.4"/>
<circle class="c1" r="1.05" cx="435.2" cy="53.6"/>
<circle class="c1" r="1.05" cx="439.7" cy="68.6"/>
<circle class="c1" r="1.05" cx="452.9" cy="70.8"/>
<circle class="c1" r="1.05" cx="451.2" cy="52.7"/>
<circle class="c1" r="1.05" cx="447.6" cy="55.3"/>
<circle class="c1" r="1.05" cx="440.3" cy="54.5"/>
<circle class="c0" r="1.05" cx="441" cy="54.3"/>
<circle class="c0" r="1.05" cx="433.5" cy="56.8"/>
<circle class="c0" r="1.05" cx="447.7" cy="54.4"/>
<circle class="c0" r="1.05" cx="432.5" cy="62.3"/>
<circle class="c0" r="1.05" cx="454.3" cy="65.4"/>
<circle class="c1" r="1.05" cx="434.4" cy="59.7"/>
<circle class="c1" r="1.05" cx="440.4" cy="55.8"/>
<circle class="c1" r="1.05" cx="435.7" cy="62.2"/>
<circle class="c0" r="1.05" cx="441.5" cy="65.6"/>
<circle class="c1" r="1.05" cx="434.8" cy="61.6"/>
<circle class="c0" r="1.05" cx="439.6" cy="60.3"/>
<circle class="c1" r="1.05" cx="448" cy="58.7"/>
<circle class="c0" r="1.05" cx="448.4" cy="49.3"/>
<circle class="c1" r="1.05" cx="451.7" cy="57.3"/>
<circle class="c1" r="1.05" cx="444.6" cy="55.3"/>
<circle class="c1" r="1.05" cx="454" cy="50.8"/>
<circle class="c1" r="1.05" cx="446.1" cy="50.6"/>
<circle class="c1" r="1.05" cx="460.1" cy="54.6"/>
<circle class="c1" r="1.05" cx="445.2" cy="51"/>
<circle class="c1" r="1.05" cx="443.5" cy="57.9"/>
<circle class="c2" r="1.05" cx="462.8" cy="53.9"/>
<circle class="c1" r="1.05" cx="447.1" cy="47.7"/>
<circle class="c1" r="1.05" cx="442.2" cy="59.6"/>
<circle class="c1" r="1.05" cx="436.6" cy="67.6"/>
<circle class="c1" r="1.05" cx="457" cy="59.4"/>
<circle class="c1" r="1.05" cx="448.5" cy="50.7"/>
<circle class="c0" r="1.05" cx="447.5" cy="45.7"/>
<circle class="c1" r="1.05" cx="436.1" cy="63.2"/>
<circle class="c0" r="1.05" cx="439.2" cy="53.4"/>
<circle class="c1" r="1.05" cx="442.3" cy="56.2"/>
<circle class="c1" r="1.05" cx="450.8" cy="59"/>
<circle class="c0" r="1.05" cx="466.1" cy="40.5"/>
<circle class="c1" r="1.05" cx="444.3" cy="54.4"/>
<circle class="c1" r="1.05" cx="425.5" cy="63.7"/>
<circle class="c2" r="1.05" cx="426.4" cy="60.9"/>
<circle class="c1" r="1.05" cx="453.4" cy="53.6"/>
<circle class="c1" r="1.05" cx="446" cy="43.2"/>
<circle class="c1" r="1.05" cx="443.5" cy="57.4"/>
<circle class="c1" r="1.05" cx="445.5" cy="51.5"/>
<circle class="c0" r="1.05" cx="443.6" cy="57.6"/>
<circle class="c1" r="1.05" cx="441.5" cy="53.7"/>
<circle class="c1" r="1.05" cx="439.5" cy="60"/>
<circle class="c1" r="1.05" cx="456.2" cy="48.9"/>
<circle class="c1" r="1.05" cx="435.8" cy="57.9"/>
<circle class="c1" r="1.05" cx="455" cy="56.9"/>
<circle class="c1" r="1.05" cx="444.5" cy="55"/>
<circle class="c1" r="1.05" cx="440.1" cy="57.4"/>
<circle class="c1" r="1.05" cx="451.2" cy="55"/>
<circle class="c1" r="1.05" cx="462.4" cy="42.7"/>
<circle class="c1" r="1.05" cx="457.2" cy="44.6"/>
<circle class="c1" r="1.05" cx="465.5" cy="49.4"/>
<circle class="c1" r="1.05" cx="443.1" cy="65.5"/>
<circle class="c1" r="1.05" cx="462.4" cy="49.3"/>
<circle class="c1" r="1.05" cx="456.6" cy="63.9"/>
<circle class="c1" r="1.05" cx="447.2" cy="55"/>
<circle class="c1" r="1.05" cx="440.2" cy="51.9"/>
<circle class="c1" r="1.05" cx="444" cy="54.7"/>
<circle class="c1" r="1.05" cx="464.7" cy="53.8"/>
<circle class="c1" r="1.05" cx="429.9" cy="56.3"/>
<circle class="c1" r="1.05" cx="435.9" cy="64.3"/>
<circle class="c0" r="1.05" cx="430.6" cy="69.9"/>
<circle class="c1" r="1.05" cx="450.7" cy="52"/>
<circle class="c1" r="1.05" cx="443.1" cy="60.6"/>
<circle class="c1" r="1.05" cx="456.8" cy="54.4"/>
<circle class="c1" r="1.05" cx="437.1" cy="60.9"/>
<circle class="c1" r="1.05" cx="449" cy="48.3"/>
<circle class="c1" r="1.05" cx="450" cy="54.5"/>
<circle class="c1" r="1.05" cx="460.1" cy="56.2"/>
<circle class="c1" r="1.05" cx="462.4" cy="43.4"/>
<circle class="c1" r="1.05" cx="447" cy="60.6"/>
<circle class="c0" r="1.05" cx="443.5" cy="54.9"/>
<circle class="c1" r="1.05" cx="448.4" cy="58.7"/>
<circle class="c1" r="1.05" cx="447.3" cy="65.7"/>
<circle class="c1" r="1.05" cx="428.9" cy="75.2"/>
<circle class="c1" r="1.05" cx="447.5" cy="60.9"/>
<circle class="c1" r="1.05" cx="444.2" cy="57.6"/>
<circle class="c1" r="1.05" cx="443.2" cy="54.6"/>
<circle class="c1" r="1.05" cx="440.1" cy="64.6"/>
<circle class="c1" r="1.05" cx="448.9" cy="60.3"/>
<circle class="c0" r="1.05" cx="431.1" cy="62.3"/>
<circle class="c1" r="1.05" cx="438.5" cy="60.4"/>
<circle class="c1" r="1.05" cx="451.5" cy="53.9"/>
<circle class="c2" r="1.05" cx="428.2" cy="67"/>
<circle class="c1" r="1.05" cx="457" cy="46.1"/>
<circle class="c1" r="1.05" cx="452.1" cy="45.2"/>
<circle class="c1" r="1.05" cx="451.6" cy="55"/>
<circle class="c1" r="1.05" cx="436.8" cy="59.9"/>
<circle class="c1" r="1.05" cx="441.1" cy="53.9"/>
<circle class="c1" r="1.05" cx="440.4" cy="50.6"/>
<circle class="c1" r="1.05" cx="454.3" cy="53.7"/>
<circle class="c1" r="1.05" cx="451.2" cy="48.8"/>
<circle class="c1" r="1.05" cx="441.4" cy="50.7"/>
<circle class="c1" r="1.05" cx="448.5" cy="47.8"/>
<circle class="c0" r="1.05" cx="446.3" cy="52.5"/>
<circle class="c0" r="1.05" cx="447.2" cy="46.5"/>
<circle class="c1" r="1.05" cx="457" cy="50.9"/>
<circle class="c1" r="1.05" cx="461.5" cy="53.8"/>
<circle class="c0" r="1.05" cx="444.7" cy="56"/>
<circle class="c1" r="1.05" cx="466.5" cy="51.8"/>
<circle class="c1" r="1.05" cx="444.5" cy="64.6"/>
<circle class="c0" r="1.05" cx="437.5" cy="57.5"/>
<circle class="c1" r="1.05" cx="452" cy="57.5"/>
<circle class="c1" r="1.05" cx="440.4" cy="46.6"/>
<circle class="c1" r="1.05" cx="448.8" cy="52.2"/>
<circle class="c1" r="1.05" cx="466.1" cy="50"/>
<circle class="c1" r="1.05" cx="450.3" cy="52.4"/>
<circle class="c1" r="1.05" cx="443.3" cy="60.7"/>
<circle class="c1" r="1.05" cx="449.7" cy="60.1"/>
<circle class="c1" r="1.05" cx="379" cy="60.5"/>
<circle class="c1" r="1.05" cx="450.6" cy="21.5"/>
<circle class="c0" r="1.05" cx="447.7" cy="23.7"/>
<circle class="c1" r="1.05" cx="440.2" cy="28.7"/>
<circle class="c0" r="1.05" cx="444" cy="40.3"/>
<circle class="c1" r="1.05" cx="405" cy="52.6"/>
<circle class="c1" r="1.05" cx="409.8" cy="52"/>
<circle class="c0" r="1.05" cx="416.6" cy="51"/>
<circle class="c1" r="1.05" cx="420.2" cy="46.8"/>
<circle class="c1" r="1.05" cx="428.6" cy="48"/>
<circle class="c1" r="1.05" cx="405" cy="62.7"/>
<circle class="c0" r="1.05" cx="418.8" cy="58"/>
<circle class="c0" r="1.05" cx="421.7" cy="61.5"/>
<circle class="c1" r="1.05" cx="416.2" cy="62.4"/>
<circle class="c3" r="1.05" cx="446.2" cy="86"/>
<circle class="c1" r="1.05" cx="418.4" cy="93.5"/>
<circle class="c1" r="1.05" cx="428.2" cy="96.6"/>
<circle class="c1" r="1.05" cx="442.6" cy="94.7"/>
<circle class="c1" r="1.05" cx="442.6" cy="100.9"/>
<circle class="c1" r="1.05" cx="434.4" cy="107.7"/>
<circle class="c1" r="1.05" cx="413" cy="79"/>
<circle class="c1" r="1.05" cx="415.9" cy="81"/>
<circle class="c1" r="1.05" cx="421.7" cy="77.8"/>
<circle class="c1" r="1.05" cx="426" cy="76.6"/>
<circle class="c1" r="1.05" cx="435.4" cy="80.2"/>
<circle class="c1" r="1.05" cx="444" cy="76.6"/>
<circle class="c1" r="1.05" cx="457.8" cy="71.3"/>
<circle class="c1" r="1.05" cx="447.7" cy="74.2"/>
<circle class="c1" r="1.05" cx="421.7" cy="72.7"/>
<circle class="c1" r="1.05" cx="405" cy="62.6"/>
<circle class="c1" r="1.05" cx="418" cy="66"/>
<circle class="c1" r="1.05" cx="424" cy="70"/>
<circle class="c1" r="1.05" cx="427" cy="73"/>
<circle class="c0" r="1.05" cx="431" cy="71"/>
<line x1="378.8" y1="81.4" x2="465.5" y2="49.2" stroke="#c0562a" stroke-width="0.6"/>
<text x="349" y="9.5" font-size="10.8" fill="#000" font-weight="bold" stroke="#000" stroke-width="0.38" textLength="9.3" lengthAdjust="spacingAndGlyphs">C</text>
<text x="393" y="9.6" font-size="5.9" fill="#111" font-weight="bold" stroke="#111" stroke-width="0.21" textLength="70.8" lengthAdjust="spacingAndGlyphs">Cervical SCC (Rank #4)</text>
<text x="382.3" y="132.8" font-size="5.1" fill="#111" font-weight="bold" stroke="#111" stroke-width="0.18" textLength="84" lengthAdjust="spacingAndGlyphs">FAT1 mRNA expression (RSEM log<tspan font-size="70%" dy="0.8">2</tspan><tspan dy="-0.8">)</tspan></text>
<text x="0" y="0" font-size="5" fill="#111" font-weight="bold" stroke="#111" stroke-width="0.18" textLength="86.5" lengthAdjust="spacingAndGlyphs" transform="translate(359.3 106.8) rotate(-90)">EGFR mRNA expression (RSEM log<tspan font-size="70%" dy="0.8">2</tspan><tspan dy="-0.8">)</tspan></text>
<text x="472.7" y="23.1" font-size="3.45" fill="#222" stroke="#222" stroke-width="0.08">Spearman: 0.55</text>
<text x="475.3" y="28.2" font-size="3.45" fill="#222" stroke="#222" stroke-width="0.08">(<tspan font-style="italic">P</tspan> = 2.34e-20)</text>
<text x="475.3" y="36.5" font-size="3.45" fill="#222" stroke="#222" stroke-width="0.08">Pearson: 0.38</text>
<text x="475.3" y="41.6" font-size="3.45" fill="#222" stroke="#222" stroke-width="0.08">(<tspan font-style="italic">P</tspan> = 2.40e-12)</text>
<line x1="471" y1="46.9" x2="473.4" y2="46.9" stroke="#c0562a" stroke-width="0.5"/>
<text x="475.9" y="48" font-size="3.45" fill="#222" stroke="#222" stroke-width="0.08"><tspan font-style="italic">y</tspan> = 0.52x + 3.61</text>
<text x="475.9" y="53.1" font-size="3.45" fill="#222" stroke="#222" stroke-width="0.08"><tspan font-style="italic">R</tspan>² = 0.15</text>
<circle class="c5" r="0.8" cx="472.3" cy="61.2"/>
<text x="475.9" y="59.9" font-size="3.45" fill="#222" stroke="#222" stroke-width="0.08">FAT1</text>
<text x="475.9" y="63.3" font-size="3.45" fill="#222" stroke="#222" stroke-width="0.08">mutated</text>
<circle class="c6" r="0.8" cx="472.3" cy="71.8"/>
<text x="475.9" y="70.5" font-size="3.45" fill="#222" stroke="#222" stroke-width="0.08">EGFR</text>
<text x="475.9" y="73.9" font-size="3.45" fill="#222" stroke="#222" stroke-width="0.08">mutated</text>
<circle class="c7" r="0.8" cx="472.3" cy="83.6"/>
<text x="475.9" y="84.7" font-size="3.45" fill="#222" stroke="#222" stroke-width="0.08">Both mutated</text>
<circle class="c8" r="0.8" cx="472.3" cy="91.2"/>
<text x="475.9" y="92.3" font-size="3.45" fill="#222" stroke="#222" stroke-width="0.08">Neither mutated</text>
<circle class="c9" r="0.8" cx="472.3" cy="98.8"/>
<text x="475.9" y="99.9" font-size="3.45" fill="#222" stroke="#222" stroke-width="0.08">Not profiled for mutations</text>
<line x1="19.5" y1="257.25" x2="176" y2="257.25" stroke="#f5f5f5" stroke-width="0.5"/>
<line x1="19.5" y1="246.2" x2="176" y2="246.2" stroke="#f5f5f5" stroke-width="0.5"/>
<line x1="19.5" y1="235.15" x2="176" y2="235.15" stroke="#f5f5f5" stroke-width="0.5"/>
<line x1="19.5" y1="224.1" x2="176" y2="224.1" stroke="#f5f5f5" stroke-width="0.5"/>
<line x1="19.5" y1="213.05" x2="176" y2="213.05" stroke="#f5f5f5" stroke-width="0.5"/>
<line x1="19.5" y1="202" x2="176" y2="202" stroke="#f5f5f5" stroke-width="0.5"/>
<line x1="19.5" y1="190.95" x2="176" y2="190.95" stroke="#f5f5f5" stroke-width="0.5"/>
<line x1="19.5" y1="179.9" x2="176" y2="179.9" stroke="#f5f5f5" stroke-width="0.5"/>
<line x1="19.5" y1="168.85" x2="176" y2="168.85" stroke="#f5f5f5" stroke-width="0.5"/>
<line x1="19.5" y1="157.8" x2="176" y2="157.8" stroke="#f5f5f5" stroke-width="0.5"/>
<line x1="36.3" y1="151" x2="36.3" y2="263" stroke="#f5f5f5" stroke-width="0.5"/>
<line x1="68.5" y1="151" x2="68.5" y2="263" stroke="#f5f5f5" stroke-width="0.5"/>
<line x1="99.1" y1="151" x2="99.1" y2="263" stroke="#f5f5f5" stroke-width="0.5"/>
<line x1="130.5" y1="151" x2="130.5" y2="263" stroke="#f5f5f5" stroke-width="0.5"/>
<line x1="161.7" y1="151" x2="161.7" y2="263" stroke="#f5f5f5" stroke-width="0.5"/>
<line x1="19.5" y1="147" x2="19.5" y2="263" stroke="#8a8a8a" stroke-width="0.6"/>
<line x1="19.5" y1="263" x2="176" y2="263" stroke="#8a8a8a" stroke-width="0.6"/>
<line x1="18.3" y1="257.25" x2="19.5" y2="257.25" stroke="#8a8a8a" stroke-width="0.4"/>
<text x="17.3" y="258.25" font-size="2.8" fill="#333" font-weight="bold" stroke="#333" stroke-width="0.1" text-anchor="end">6</text>
<line x1="18.3" y1="246.2" x2="19.5" y2="246.2" stroke="#8a8a8a" stroke-width="0.4"/>
<text x="17.3" y="247.2" font-size="2.8" fill="#333" font-weight="bold" stroke="#333" stroke-width="0.1" text-anchor="end">7</text>
<line x1="18.3" y1="235.15" x2="19.5" y2="235.15" stroke="#8a8a8a" stroke-width="0.4"/>
<text x="17.3" y="236.15" font-size="2.8" fill="#333" font-weight="bold" stroke="#333" stroke-width="0.1" text-anchor="end">8</text>
<line x1="18.3" y1="224.1" x2="19.5" y2="224.1" stroke="#8a8a8a" stroke-width="0.4"/>
<text x="17.3" y="225.1" font-size="2.8" fill="#333" font-weight="bold" stroke="#333" stroke-width="0.1" text-anchor="end">9</text>
<line x1="18.3" y1="213.05" x2="19.5" y2="213.05" stroke="#8a8a8a" stroke-width="0.4"/>
<text x="17.3" y="214.05" font-size="2.8" fill="#333" font-weight="bold" stroke="#333" stroke-width="0.1" text-anchor="end">10</text>
<line x1="18.3" y1="202" x2="19.5" y2="202" stroke="#8a8a8a" stroke-width="0.4"/>
<text x="17.3" y="203" font-size="2.8" fill="#333" font-weight="bold" stroke="#333" stroke-width="0.1" text-anchor="end">11</text>
<line x1="18.3" y1="190.95" x2="19.5" y2="190.95" stroke="#8a8a8a" stroke-width="0.4"/>
<text x="17.3" y="191.95" font-size="2.8" fill="#333" font-weight="bold" stroke="#333" stroke-width="0.1" text-anchor="end">12</text>
<line x1="18.3" y1="179.9" x2="19.5" y2="179.9" stroke="#8a8a8a" stroke-width="0.4"/>
<text x="17.3" y="180.9" font-size="2.8" fill="#333" font-weight="bold" stroke="#333" stroke-width="0.1" text-anchor="end">13</text>
<line x1="18.3" y1="168.85" x2="19.5" y2="168.85" stroke="#8a8a8a" stroke-width="0.4"/>
<text x="17.3" y="169.85" font-size="2.8" fill="#333" font-weight="bold" stroke="#333" stroke-width="0.1" text-anchor="end">14</text>
<line x1="18.3" y1="157.8" x2="19.5" y2="157.8" stroke="#8a8a8a" stroke-width="0.4"/>
<text x="17.3" y="158.8" font-size="2.8" fill="#333" font-weight="bold" stroke="#333" stroke-width="0.1" text-anchor="end">15</text>
<line x1="36.3" y1="263" x2="36.3" y2="264.2" stroke="#8a8a8a" stroke-width="0.4"/>
<line x1="36.3" y1="164.2" x2="36.3" y2="190" stroke="#d0d0d0" stroke-width="0.4"/>
<line x1="36.3" y1="230.8" x2="36.3" y2="250.8" stroke="#d0d0d0" stroke-width="0.4"/>
<line x1="26.1" y1="164.2" x2="46.5" y2="164.2" stroke="#d4d4d4" stroke-width="0.5"/>
<line x1="26.1" y1="250.8" x2="46.5" y2="250.8" stroke="#d4d4d4" stroke-width="0.5"/>
<rect x="26.1" y="190" width="20.4" height="40.8" fill="#e8e8e8" stroke="none" stroke-width="0.4"/>
<line x1="26.1" y1="204.8" x2="46.5" y2="204.8" stroke="#d2d2d2" stroke-width="0.5" stroke-dasharray="1.2 0.8"/>
<circle class="c10" r="1.25" cx="38.8" cy="180"/>
<circle class="c10" r="1.25" cx="38.3" cy="180.5"/>
<circle class="c10" r="1.25" cx="40" cy="218.7"/>
<circle class="c10" r="1.25" cx="39.7" cy="203.4"/>
<circle class="c10" r="1.25" cx="36.7" cy="187.4"/>
<circle class="c10" r="1.25" cx="32.2" cy="202.5"/>
<circle class="c10" r="1.25" cx="38.5" cy="193"/>
<circle class="c10" r="1.25" cx="38.8" cy="237.2"/>
<circle class="c10" r="1.25" cx="32.1" cy="193.5"/>
<circle class="c10" r="1.25" cx="33.9" cy="194"/>
<circle class="c10" r="1.25" cx="34.5" cy="234.3"/>
<circle class="c10" r="1.25" cx="36.6" cy="196.2"/>
<circle class="c10" r="1.25" cx="37.9" cy="211.3"/>
<circle class="c10" r="1.25" cx="39.6" cy="238.8"/>
<circle class="c10" r="1.25" cx="33.3" cy="193.4"/>
<circle class="c10" r="1.25" cx="34.6" cy="207.8"/>
<circle class="c10" r="1.25" cx="34.9" cy="225.6"/>
<circle class="c10" r="1.25" cx="39" cy="200.5"/>
<circle class="c10" r="1.25" cx="38" cy="192.2"/>
<circle class="c10" r="1.25" cx="40.3" cy="217.8"/>
<circle class="c10" r="1.25" cx="32.3" cy="200"/>
<circle class="c10" r="1.25" cx="35.2" cy="170"/>
<circle class="c10" r="1.25" cx="33.6" cy="205.3"/>
<circle class="c10" r="1.25" cx="33.8" cy="200.3"/>
<circle class="c10" r="1.25" cx="35" cy="236.7"/>
<circle class="c10" r="1.25" cx="36.5" cy="182.6"/>
<circle class="c10" r="1.25" cx="38.8" cy="222"/>
<circle class="c10" r="1.25" cx="32.4" cy="217.7"/>
<circle class="c10" r="1.25" cx="37.2" cy="213"/>
<circle class="c10" r="1.25" cx="35" cy="208.4"/>
<circle class="c10" r="1.25" cx="34.8" cy="185.9"/>
<circle class="c10" r="1.25" cx="32.8" cy="195.9"/>
<circle class="c10" r="1.25" cx="33.5" cy="178.6"/>
<circle class="c10" r="1.25" cx="40.4" cy="170"/>
<circle class="c10" r="1.25" cx="37.1" cy="189.6"/>
<circle class="c10" r="1.25" cx="35.9" cy="207"/>
<circle class="c10" r="1.25" cx="32.4" cy="235.5"/>
<circle class="c10" r="1.25" cx="39.1" cy="213"/>
<circle class="c10" r="1.25" cx="37.4" cy="195.2"/>
<circle class="c10" r="1.25" cx="33" cy="170"/>
<circle class="c10" r="1.25" cx="34.6" cy="219.4"/>
<circle class="c10" r="1.25" cx="40.5" cy="226.5"/>
<circle class="c11" r="0.9" cx="40.5" cy="164.2"/>
<circle class="c11" r="0.9" cx="36.5" cy="174.5"/>
<circle class="c11" r="0.9" cx="33" cy="194.5"/>
<circle class="c11" r="0.9" cx="35.5" cy="231"/>
<circle class="c11" r="0.9" cx="40" cy="245.5"/>
<circle class="c10" r="1.25" cx="37.5" cy="250.8"/>
<circle class="c10" r="1.25" cx="38" cy="171.5"/>
<text x="36.3" y="270.2" font-size="4.7" fill="#111" font-weight="bold" stroke="#111" stroke-width="0.16" text-anchor="middle" textLength="31.4" lengthAdjust="spacingAndGlyphs">Deep deletion</text>
<line x1="68.5" y1="263" x2="68.5" y2="264.2" stroke="#8a8a8a" stroke-width="0.4"/>
<line x1="68.5" y1="164.5" x2="68.5" y2="178" stroke="#d0d0d0" stroke-width="0.4"/>
<line x1="68.5" y1="205" x2="68.5" y2="222" stroke="#d0d0d0" stroke-width="0.4"/>
<line x1="58" y1="164.5" x2="79" y2="164.5" stroke="#d4d4d4" stroke-width="0.5"/>
<line x1="58" y1="222" x2="79" y2="222" stroke="#d4d4d4" stroke-width="0.5"/>
<rect x="58" y="178" width="21" height="27" fill="#f2eeee" stroke="none" stroke-width="0.4"/>
<line x1="58" y1="186" x2="79" y2="186" stroke="#d2d2d2" stroke-width="0.5" stroke-dasharray="1.2 0.8"/>
<circle class="c12" r="1.15" cx="68.4" cy="206.3"/>
<circle class="c13" r="0.85" cx="68.3" cy="187.5"/>
<circle class="c12" r="1.15" cx="67.4" cy="183.1"/>
<circle class="c12" r="1.15" cx="72.5" cy="194.8"/>
<circle class="c12" r="1.15" cx="64.9" cy="176.4"/>
<circle class="c12" r="1.15" cx="71.7" cy="190.1"/>
<circle class="c12" r="1.15" cx="70.2" cy="195.8"/>
<circle class="c12" r="1.15" cx="70.8" cy="165"/>
<circle class="c12" r="1.15" cx="70.9" cy="186.7"/>
<circle class="c12" r="1.15" cx="66.7" cy="207"/>
<circle class="c12" r="1.15" cx="64.2" cy="178.3"/>
<circle class="c14" r="1.15" cx="66.3" cy="174"/>
<circle class="c12" r="1.15" cx="71.1" cy="198.8"/>
<circle class="c12" r="1.15" cx="69.8" cy="170.2"/>
<circle class="c12" r="1.15" cx="71.8" cy="173"/>
<circle class="c12" r="1.15" cx="72.5" cy="213.3"/>
<circle class="c12" r="1.15" cx="71.5" cy="181.1"/>
<circle class="c12" r="1.15" cx="68.3" cy="188.3"/>
<circle class="c12" r="1.15" cx="65.6" cy="185.4"/>
<circle class="c14" r="1.15" cx="69.2" cy="166.2"/>
<circle class="c14" r="1.15" cx="69.7" cy="171.5"/>
<circle class="c12" r="1.15" cx="65.5" cy="171.8"/>
<circle class="c13" r="0.85" cx="69.7" cy="194.4"/>
<circle class="c13" r="0.85" cx="68.2" cy="212.4"/>
<circle class="c13" r="0.85" cx="66.9" cy="197.6"/>
<circle class="c13" r="0.85" cx="65.8" cy="192.7"/>
<circle class="c14" r="1.15" cx="69.5" cy="175.7"/>
<circle class="c13" r="0.85" cx="72" cy="193.2"/>
<circle class="c12" r="1.15" cx="67.7" cy="180"/>
<circle class="c12" r="1.15" cx="71.4" cy="196.8"/>
<circle class="c12" r="1.15" cx="64.9" cy="210.2"/>
<circle class="c12" r="1.15" cx="67.1" cy="194.6"/>
<circle class="c12" r="1.15" cx="67.8" cy="216.8"/>
<circle class="c12" r="1.15" cx="69.8" cy="182.8"/>
<circle class="c12" r="1.15" cx="69.1" cy="202.7"/>
<circle class="c12" r="1.15" cx="72.6" cy="205.7"/>
<circle class="c14" r="1.15" cx="64.1" cy="171.2"/>
<circle class="c13" r="0.85" cx="69.5" cy="215.6"/>
<circle class="c14" r="1.15" cx="67.4" cy="168.3"/>
<circle class="c14" r="1.15" cx="66.7" cy="167"/>
<circle class="c13" r="0.85" cx="69.3" cy="220"/>
<circle class="c12" r="1.15" cx="72.7" cy="182"/>
<circle class="c12" r="1.15" cx="72.8" cy="178.7"/>
<circle class="c12" r="1.15" cx="66.6" cy="196.7"/>
<circle class="c13" r="0.85" cx="68" cy="205.1"/>
<circle class="c12" r="1.15" cx="71" cy="204.5"/>
<circle class="c12" r="1.15" cx="66.5" cy="208.4"/>
<circle class="c13" r="0.85" cx="71" cy="191.5"/>
<circle class="c13" r="0.85" cx="72.8" cy="189"/>
<circle class="c12" r="1.15" cx="69.5" cy="198.6"/>
<circle class="c12" r="1.15" cx="70.6" cy="177.5"/>
<circle class="c14" r="1.15" cx="70.8" cy="173.9"/>
<circle class="c12" r="1.15" cx="68.8" cy="183.5"/>
<circle class="c12" r="1.15" cx="67.3" cy="200.8"/>
<circle class="c12" r="1.15" cx="66.3" cy="186.6"/>
<circle class="c12" r="1.15" cx="72.2" cy="187.8"/>
<circle class="c12" r="1.15" cx="70.9" cy="187.5"/>
<circle class="c12" r="1.15" cx="69.2" cy="189.3"/>
<circle class="c12" r="1.15" cx="72.1" cy="178.4"/>
<circle class="c12" r="1.15" cx="67.5" cy="177.3"/>
<circle class="c13" r="0.85" cx="71.4" cy="194.2"/>
<circle class="c12" r="1.15" cx="71.5" cy="201.9"/>
<circle class="c12" r="1.15" cx="71" cy="178.8"/>
<circle class="c12" r="1.15" cx="65.4" cy="195"/>
<circle class="c14" r="1.15" cx="67" cy="173.2"/>
<circle class="c13" r="0.85" cx="71.2" cy="184.7"/>
<circle class="c12" r="1.15" cx="71.1" cy="193.5"/>
<circle class="c12" r="1.15" cx="64.3" cy="217.5"/>
<circle class="c13" r="0.85" cx="70.3" cy="220"/>
<circle class="c13" r="0.85" cx="71.5" cy="182.8"/>
<circle class="c14" r="1.15" cx="70.4" cy="167.5"/>
<circle class="c12" r="1.15" cx="72.2" cy="165"/>
<circle class="c13" r="0.85" cx="69.6" cy="182.4"/>
<circle class="c12" r="1.15" cx="65.1" cy="194.6"/>
<circle class="c12" r="1.15" cx="69.2" cy="194.6"/>
<circle class="c13" r="0.85" cx="71.8" cy="192.3"/>
<circle class="c12" r="1.15" cx="69.4" cy="178.1"/>
<circle class="c12" r="1.15" cx="72.4" cy="195.4"/>
<circle class="c12" r="1.15" cx="65.4" cy="211.8"/>
<circle class="c12" r="1.15" cx="68.6" cy="198"/>
<circle class="c14" r="1.15" cx="66.4" cy="170.3"/>
<circle class="c12" r="1.15" cx="70.7" cy="182.9"/>
<circle class="c12" r="1.15" cx="67.4" cy="197.3"/>
<circle class="c12" r="1.15" cx="65.7" cy="198.2"/>
<circle class="c13" r="0.85" cx="70" cy="186.4"/>
<circle class="c12" r="1.15" cx="65.2" cy="184.8"/>
<circle class="c12" r="1.15" cx="68.3" cy="192.2"/>
<circle class="c13" r="0.85" cx="71.1" cy="220"/>
<circle class="c12" r="1.15" cx="65.4" cy="189.2"/>
<circle class="c13" r="0.85" cx="70.1" cy="185.1"/>
<circle class="c12" r="1.15" cx="70" cy="220"/>
<circle class="c12" r="1.15" cx="65.3" cy="216.8"/>
<circle class="c12" r="1.15" cx="67" cy="183.3"/>
<circle class="c12" r="1.15" cx="67.2" cy="198.7"/>
<circle class="c12" r="1.15" cx="69.8" cy="208.5"/>
<circle class="c12" r="1.15" cx="67.9" cy="211.4"/>
<circle class="c14" r="1.15" cx="69.1" cy="170"/>
<circle class="c13" r="0.85" cx="65" cy="187.8"/>
<circle class="c12" r="1.15" cx="71.9" cy="191.3"/>
<circle class="c13" r="0.85" cx="70.8" cy="194.1"/>
<circle class="c14" r="1.15" cx="69.6" cy="165"/>
<circle class="c13" r="0.85" cx="65" cy="195.9"/>
<circle class="c12" r="1.15" cx="67.5" cy="197.9"/>
<circle class="c13" r="0.85" cx="65.4" cy="202.2"/>
<circle class="c13" r="0.85" cx="66.6" cy="188.5"/>
<circle class="c13" r="0.85" cx="68.3" cy="198.8"/>
<circle class="c12" r="1.15" cx="72.4" cy="202.8"/>
<circle class="c12" r="1.15" cx="70" cy="183.4"/>
<circle class="c13" r="0.85" cx="70" cy="197.1"/>
<circle class="c12" r="1.15" cx="70" cy="187.5"/>
<circle class="c13" r="0.85" cx="64.3" cy="195.2"/>
<circle class="c12" r="1.15" cx="64.8" cy="198.6"/>
<circle class="c12" r="1.15" cx="66.8" cy="204.1"/>
<circle class="c12" r="1.15" cx="66.6" cy="187.6"/>
<circle class="c12" r="1.15" cx="66.2" cy="188.2"/>
<circle class="c12" r="1.15" cx="72.4" cy="181.2"/>
<circle class="c13" r="0.85" cx="64.2" cy="165"/>
<circle class="c12" r="1.15" cx="71" cy="207.2"/>
<circle class="c12" r="1.15" cx="72.8" cy="208.2"/>
<circle class="c13" r="0.85" cx="67.2" cy="195.3"/>
<circle class="c12" r="1.15" cx="68.4" cy="218.9"/>
<circle class="c13" r="0.85" cx="64.6" cy="203.9"/>
<circle class="c13" r="0.85" cx="64.6" cy="204.3"/>
<circle class="c12" r="1.15" cx="67.7" cy="194.7"/>
<circle class="c13" r="0.85" cx="72.7" cy="193.9"/>
<circle class="c12" r="1.15" cx="68.6" cy="191.3"/>
<circle class="c13" r="0.85" cx="66.9" cy="183.8"/>
<circle class="c12" r="1.15" cx="68.9" cy="188.8"/>
<circle class="c13" r="0.85" cx="66" cy="165.9"/>
<circle class="c14" r="1.15" cx="68.8" cy="172.9"/>
<circle class="c14" r="1.15" cx="70.5" cy="175"/>
<circle class="c12" r="1.15" cx="68.1" cy="204.7"/>
<circle class="c13" r="0.85" cx="66.8" cy="191.2"/>
<circle class="c12" r="1.15" cx="70.9" cy="197.3"/>
<circle class="c13" r="0.85" cx="64.8" cy="187"/>
<circle class="c12" r="1.15" cx="64.8" cy="197.3"/>
<circle class="c12" r="1.15" cx="64.6" cy="180"/>
<circle class="c13" r="0.85" cx="64.5" cy="184.8"/>
<circle class="c12" r="1.15" cx="65" cy="186.7"/>
<circle class="c12" r="1.15" cx="66.9" cy="204.1"/>
<circle class="c14" r="1.15" cx="69.9" cy="165"/>
<circle class="c12" r="1.15" cx="68" cy="179"/>
<circle class="c14" r="1.15" cx="70.5" cy="169.1"/>
<circle class="c14" r="1.15" cx="71.2" cy="165"/>
<circle class="c12" r="1.15" cx="66.4" cy="198.4"/>
<circle class="c13" r="0.85" cx="66.6" cy="193.7"/>
<circle class="c13" r="0.85" cx="64.3" cy="191.7"/>
<circle class="c12" r="1.15" cx="65.2" cy="170.9"/>
<circle class="c12" r="1.15" cx="66.1" cy="209.6"/>
<circle class="c12" r="1.15" cx="67.3" cy="183.5"/>
<circle class="c12" r="1.15" cx="71.4" cy="209.8"/>
<circle class="c12" r="1.15" cx="64.9" cy="191.6"/>
<circle class="c12" r="1.15" cx="68" cy="201.2"/>
<circle class="c13" r="0.85" cx="71.1" cy="210.8"/>
<circle class="c14" r="1.15" cx="68.2" cy="176.4"/>
<circle class="c12" r="1.15" cx="70.9" cy="220"/>
<circle class="c12" r="1.15" cx="69.3" cy="165"/>
<circle class="c13" r="0.85" cx="67.8" cy="181.9"/>
<circle class="c12" r="1.15" cx="69.2" cy="193.8"/>
<circle class="c12" r="1.15" cx="71.9" cy="189.5"/>
<circle class="c12" r="1.15" cx="65.9" cy="192.6"/>
<circle class="c12" r="1.15" cx="67.2" cy="201.8"/>
<circle class="c12" r="1.15" cx="66.3" cy="190.7"/>
<circle class="c12" r="1.15" cx="71.5" cy="203.9"/>
<circle class="c12" r="1.15" cx="65.4" cy="178.8"/>
<circle class="c13" r="0.85" cx="68.4" cy="179.7"/>
<circle class="c12" r="1.15" cx="70.4" cy="193.3"/>
<circle class="c12" r="1.15" cx="65.9" cy="196"/>
<circle class="c12" r="1.15" cx="71.7" cy="179.8"/>
<circle class="c12" r="1.15" cx="71.1" cy="210.3"/>
<circle class="c13" r="0.85" cx="69.3" cy="207.9"/>
<circle class="c12" r="1.15" cx="67.5" cy="191.1"/>
<circle class="c12" r="1.15" cx="67.5" cy="202.8"/>
<circle class="c12" r="1.15" cx="70.3" cy="192.2"/>
<circle class="c12" r="1.15" cx="72.2" cy="217.4"/>
<circle class="c12" r="1.15" cx="70" cy="187"/>
<circle class="c12" r="1.15" cx="69.3" cy="194.3"/>
<circle class="c14" r="1.15" cx="68.7" cy="176.4"/>
<circle class="c12" r="1.15" cx="69.2" cy="202"/>
<circle class="c12" r="1.15" cx="70.4" cy="197.3"/>
<circle class="c13" r="0.85" cx="70.4" cy="200.8"/>
<circle class="c12" r="1.15" cx="70.7" cy="184.8"/>
<circle class="c12" r="1.15" cx="70.2" cy="220"/>
<circle class="c12" r="1.15" cx="70.6" cy="181.4"/>
<circle class="c13" r="0.85" cx="72" cy="194.6"/>
<circle class="c12" r="1.15" cx="72.7" cy="207.5"/>
<circle class="c13" r="0.85" cx="67.5" cy="189.1"/>
<circle class="c12" r="1.15" cx="69.8" cy="190.7"/>
<circle class="c13" r="0.85" cx="67.5" cy="207.5"/>
<circle class="c12" r="1.15" cx="70.2" cy="178.9"/>
<circle class="c13" r="0.85" cx="71.9" cy="186.9"/>
<circle class="c12" r="1.15" cx="66.8" cy="175.8"/>
<circle class="c12" r="1.15" cx="69.7" cy="197.3"/>
<circle class="c13" r="0.85" cx="66.1" cy="184.5"/>
<circle class="c14" r="1.15" cx="71.8" cy="165"/>
<circle class="c12" r="1.15" cx="67.8" cy="178.6"/>
<circle class="c12" r="1.15" cx="66.6" cy="200.5"/>
<circle class="c13" r="0.85" cx="72.6" cy="182.8"/>
<circle class="c12" r="1.15" cx="69.1" cy="197.3"/>
<circle class="c13" r="0.85" cx="65.7" cy="191.4"/>
<circle class="c14" r="1.15" cx="70.2" cy="172.1"/>
<circle class="c12" r="1.15" cx="68.4" cy="177.9"/>
<circle class="c12" r="1.15" cx="71.6" cy="202.7"/>
<circle class="c13" r="0.85" cx="72.3" cy="186.5"/>
<circle class="c12" r="1.15" cx="68.3" cy="180.6"/>
<circle class="c14" r="1.15" cx="65.8" cy="165"/>
<circle class="c12" r="1.15" cx="65" cy="202"/>
<circle class="c12" r="1.15" cx="70.6" cy="206.9"/>
<circle class="c12" r="1.15" cx="72.2" cy="197.8"/>
<circle class="c14" r="1.15" cx="69.6" cy="167.6"/>
<circle class="c12" r="1.15" cx="65.9" cy="194.4"/>
<circle class="c12" r="1.15" cx="68.1" cy="193.3"/>
<circle class="c12" r="1.15" cx="67.6" cy="189.7"/>
<circle class="c13" r="0.85" cx="67.4" cy="183.7"/>
<circle class="c12" r="1.15" cx="70.1" cy="178.1"/>
<circle class="c12" r="1.15" cx="72.6" cy="181.7"/>
<circle class="c13" r="0.85" cx="70.4" cy="212.8"/>
<circle class="c12" r="1.15" cx="65.1" cy="201.1"/>
<circle class="c14" r="1.15" cx="72.2" cy="175.1"/>
<circle class="c12" r="1.15" cx="68.5" cy="209.5"/>
<circle class="c12" r="1.15" cx="66.7" cy="194.8"/>
<circle class="c14" r="1.15" cx="71.6" cy="170.9"/>
<circle class="c12" r="1.15" cx="70" cy="180.3"/>
<circle class="c13" r="0.85" cx="66.5" cy="195.3"/>
<circle class="c12" r="1.15" cx="68.9" cy="165"/>
<circle class="c12" r="1.15" cx="64.9" cy="196.1"/>
<circle class="c12" r="1.15" cx="70.8" cy="190.6"/>
<circle class="c13" r="0.85" cx="64.2" cy="188.6"/>
<circle class="c13" r="0.85" cx="68.6" cy="175.8"/>
<circle class="c12" r="1.15" cx="66" cy="193.8"/>
<circle class="c12" r="1.15" cx="64.9" cy="174.1"/>
<circle class="c12" r="1.15" cx="70.1" cy="196"/>
<circle class="c12" r="1.15" cx="71" cy="204.2"/>
<circle class="c12" r="1.15" cx="69.3" cy="194.9"/>
<circle class="c13" r="0.85" cx="64.4" cy="176.9"/>
<circle class="c12" r="1.15" cx="70.9" cy="173.1"/>
<circle class="c12" r="1.15" cx="67.4" cy="205.3"/>
<circle class="c14" r="1.15" cx="70.8" cy="165"/>
<circle class="c12" r="1.15" cx="72.7" cy="193"/>
<circle class="c14" r="1.15" cx="66" cy="174.6"/>
<circle class="c12" r="1.15" cx="70" cy="177.9"/>
<circle class="c12" r="1.15" cx="65.6" cy="192.3"/>
<circle class="c12" r="1.15" cx="72" cy="203.1"/>
<circle class="c13" r="0.85" cx="65.8" cy="196.6"/>
<circle class="c13" r="0.85" cx="69.4" cy="208"/>
<circle class="c12" r="1.15" cx="66.2" cy="165"/>
<circle class="c13" r="0.85" cx="67.9" cy="199.4"/>
<circle class="c12" r="1.15" cx="70.7" cy="191.9"/>
<circle class="c12" r="1.15" cx="68.7" cy="191.4"/>
<circle class="c13" r="0.85" cx="70.3" cy="181.5"/>
<circle class="c12" r="1.15" cx="67.4" cy="206.5"/>
<circle class="c12" r="1.15" cx="68.3" cy="203.8"/>
<circle class="c13" r="0.85" cx="69.1" cy="200.9"/>
<circle class="c12" r="1.15" cx="68.9" cy="187.6"/>
<circle class="c13" r="0.85" cx="70.3" cy="201.5"/>
<circle class="c12" r="1.15" cx="70.9" cy="202.8"/>
<circle class="c13" r="0.85" cx="71.1" cy="169.4"/>
<circle class="c13" r="0.85" cx="68.5" cy="189.5"/>
<circle class="c12" r="1.15" cx="64.3" cy="179.6"/>
<circle class="c12" r="1.15" cx="68.1" cy="199.1"/>
<circle class="c12" r="1.15" cx="68.8" cy="202.8"/>
<circle class="c12" r="1.15" cx="72.3" cy="183.4"/>
<circle class="c12" r="1.15" cx="65.6" cy="202.7"/>
<circle class="c12" r="1.15" cx="64.8" cy="189"/>
<circle class="c12" r="1.15" cx="67.5" cy="188.4"/>
<circle class="c12" r="1.15" cx="66.7" cy="171.7"/>
<circle class="c12" r="1.15" cx="68.4" cy="199"/>
<circle class="c12" r="1.15" cx="65.9" cy="200.6"/>
<circle class="c13" r="0.85" cx="67.1" cy="196"/>
<circle class="c13" r="0.85" cx="72.6" cy="192.4"/>
<circle class="c13" r="0.85" cx="70.6" cy="185.8"/>
<circle class="c12" r="1.15" cx="71.4" cy="215.9"/>
<circle class="c12" r="1.15" cx="66.3" cy="173.8"/>
<circle class="c12" r="1.15" cx="68" cy="203.6"/>
<circle class="c12" r="1.15" cx="64.6" cy="193.6"/>
<circle class="c13" r="0.85" cx="69" cy="197.3"/>
<circle class="c12" r="1.15" cx="68.5" cy="216.9"/>
<circle class="c12" r="1.15" cx="64.4" cy="197.5"/>
<circle class="c12" r="1.15" cx="69.5" cy="207.7"/>
<circle class="c12" r="1.15" cx="66" cy="206.1"/>
<circle class="c12" r="1.15" cx="65.5" cy="227.5"/>
<circle class="c11" r="0.9" cx="66" cy="221.5"/>
<circle class="c12" r="1.15" cx="69.5" cy="236.5"/>
<text x="69.5" y="270.2" font-size="4.7" fill="#111" font-weight="bold" stroke="#111" stroke-width="0.16" text-anchor="middle" textLength="18.5" lengthAdjust="spacingAndGlyphs">Shallow</text>
<text x="69.5" y="275.6" font-size="4.7" fill="#111" font-weight="bold" stroke="#111" stroke-width="0.16" text-anchor="middle" textLength="19" lengthAdjust="spacingAndGlyphs">deletion</text>
<line x1="99.1" y1="263" x2="99.1" y2="264.2" stroke="#8a8a8a" stroke-width="0.4"/>
<line x1="99.1" y1="161.2" x2="99.1" y2="176" stroke="#d0d0d0" stroke-width="0.4"/>
<line x1="99.1" y1="190" x2="99.1" y2="218.2" stroke="#d0d0d0" stroke-width="0.4"/>
<line x1="88.7" y1="161.2" x2="109.5" y2="161.2" stroke="#d4d4d4" stroke-width="0.5"/>
<line x1="88.7" y1="218.2" x2="109.5" y2="218.2" stroke="#d4d4d4" stroke-width="0.5"/>
<rect x="88.7" y="176" width="20.8" height="14" fill="#ebebeb" stroke="none" stroke-width="0.4"/>
<line x1="88.7" y1="182.7" x2="109.5" y2="182.7" stroke="#d2d2d2" stroke-width="0.5" stroke-dasharray="1.2 0.8"/>
<circle class="c13" r="0.85" cx="100.7" cy="190.9"/>
<circle class="c15" r="1.15" cx="95.3" cy="190.3"/>
<circle class="c13" r="0.85" cx="101" cy="169.5"/>
<circle class="c15" r="1.15" cx="100.4" cy="163.2"/>
<circle class="c13" r="0.85" cx="97" cy="204.1"/>
<circle class="c15" r="1.15" cx="94.7" cy="203.1"/>
<circle class="c15" r="1.15" cx="98.8" cy="162"/>
<circle class="c13" r="0.85" cx="96.6" cy="184"/>
<circle class="c13" r="0.85" cx="95.5" cy="196"/>
<circle class="c15" r="1.15" cx="95.4" cy="183.9"/>
<circle class="c15" r="1.15" cx="96.2" cy="172.3"/>
<circle class="c15" r="1.15" cx="99" cy="173"/>
<circle class="c15" r="1.15" cx="102.7" cy="169.7"/>
<circle class="c15" r="1.15" cx="97.1" cy="193"/>
<circle class="c15" r="1.15" cx="99.6" cy="162"/>
<circle class="c15" r="1.15" cx="98.4" cy="180.2"/>
<circle class="c13" r="0.85" cx="95.6" cy="193"/>
<circle class="c15" r="1.15" cx="97.8" cy="177"/>
<circle class="c15" r="1.15" cx="100.3" cy="185.2"/>
<circle class="c15" r="1.15" cx="95.7" cy="206.6"/>
<circle class="c15" r="1.15" cx="100.3" cy="183.6"/>
<circle class="c13" r="0.85" cx="99.8" cy="192.6"/>
<circle class="c15" r="1.15" cx="100.3" cy="200.6"/>
<circle class="c15" r="1.15" cx="97" cy="184.6"/>
<circle class="c15" r="1.15" cx="95.3" cy="184"/>
<circle class="c15" r="1.15" cx="98.3" cy="192.5"/>
<circle class="c15" r="1.15" cx="96.3" cy="197.9"/>
<circle class="c15" r="1.15" cx="101.7" cy="191.6"/>
<circle class="c13" r="0.85" cx="98.4" cy="180.4"/>
<circle class="c15" r="1.15" cx="94.9" cy="186.7"/>
<circle class="c15" r="1.15" cx="99.2" cy="185.3"/>
<circle class="c15" r="1.15" cx="103" cy="193.5"/>
<circle class="c15" r="1.15" cx="95.7" cy="206.1"/>
<circle class="c15" r="1.15" cx="95.4" cy="201.4"/>
<circle class="c15" r="1.15" cx="97.1" cy="172.5"/>
<circle class="c15" r="1.15" cx="103.3" cy="183"/>
<circle class="c15" r="1.15" cx="102.8" cy="191.3"/>
<circle class="c15" r="1.15" cx="100.3" cy="203.3"/>
<circle class="c15" r="1.15" cx="99.4" cy="175.3"/>
<circle class="c15" r="1.15" cx="95.2" cy="209.7"/>
<circle class="c15" r="1.15" cx="102.8" cy="172.2"/>
<circle class="c13" r="0.85" cx="99.1" cy="190.2"/>
<circle class="c15" r="1.15" cx="98.8" cy="186.6"/>
<circle class="c15" r="1.15" cx="100" cy="176.2"/>
<circle class="c13" r="0.85" cx="101.1" cy="193.3"/>
<circle class="c13" r="0.85" cx="103.5" cy="207.6"/>
<circle class="c15" r="1.15" cx="98.6" cy="190"/>
<circle class="c13" r="0.85" cx="102.2" cy="192.3"/>
<circle class="c13" r="0.85" cx="99.8" cy="184.9"/>
<circle class="c13" r="0.85" cx="97.8" cy="180.7"/>
<circle class="c13" r="0.85" cx="101.4" cy="185.7"/>
<circle class="c15" r="1.15" cx="99.9" cy="180"/>
<circle class="c15" r="1.15" cx="102.8" cy="162"/>
<circle class="c15" r="1.15" cx="97.6" cy="189"/>
<circle class="c15" r="1.15" cx="98.3" cy="196.8"/>
<circle class="c15" r="1.15" cx="95.8" cy="197.8"/>
<circle class="c15" r="1.15" cx="94.7" cy="188"/>
<circle class="c15" r="1.15" cx="97.4" cy="164.4"/>
<circle class="c15" r="1.15" cx="102.1" cy="179.3"/>
<circle class="c15" r="1.15" cx="97.7" cy="174.6"/>
<circle class="c15" r="1.15" cx="100.1" cy="164.9"/>
<circle class="c15" r="1.15" cx="96.1" cy="186.3"/>
<circle class="c15" r="1.15" cx="101.5" cy="211.8"/>
<circle class="c15" r="1.15" cx="95.1" cy="187.2"/>
<circle class="c15" r="1.15" cx="96.5" cy="180"/>
<circle class="c13" r="0.85" cx="102.2" cy="187.9"/>
<circle class="c15" r="1.15" cx="98.1" cy="196.7"/>
<circle class="c15" r="1.15" cx="96.7" cy="169.1"/>
<circle class="c15" r="1.15" cx="99.8" cy="207.4"/>
<circle class="c15" r="1.15" cx="99.1" cy="188.3"/>
<circle class="c15" r="1.15" cx="98" cy="179.1"/>
<circle class="c15" r="1.15" cx="101.4" cy="208.4"/>
<circle class="c15" r="1.15" cx="97" cy="185.1"/>
<circle class="c13" r="0.85" cx="96" cy="182.4"/>
<circle class="c15" r="1.15" cx="95.6" cy="210.8"/>
<circle class="c15" r="1.15" cx="98.6" cy="189.2"/>
<circle class="c15" r="1.15" cx="94.9" cy="170.2"/>
<circle class="c15" r="1.15" cx="101.5" cy="189.5"/>
<circle class="c15" r="1.15" cx="101" cy="196.8"/>
<circle class="c13" r="0.85" cx="100.1" cy="170.4"/>
<circle class="c13" r="0.85" cx="96.5" cy="218"/>
<circle class="c15" r="1.15" cx="97.7" cy="162"/>
<circle class="c13" r="0.85" cx="96.6" cy="182.9"/>
<circle class="c13" r="0.85" cx="98.5" cy="191.4"/>
<circle class="c15" r="1.15" cx="96.2" cy="185.2"/>
<circle class="c15" r="1.15" cx="102.6" cy="173.2"/>
<circle class="c15" r="1.15" cx="98.7" cy="189.9"/>
<circle class="c15" r="1.15" cx="94.9" cy="200.9"/>
<circle class="c15" r="1.15" cx="102.3" cy="189.4"/>
<circle class="c15" r="1.15" cx="101.4" cy="165.6"/>
<circle class="c15" r="1.15" cx="98.4" cy="208.6"/>
<circle class="c15" r="1.15" cx="100.5" cy="174.6"/>
<circle class="c13" r="0.85" cx="96.4" cy="183.6"/>
<circle class="c15" r="1.15" cx="96.9" cy="172.2"/>
<circle class="c15" r="1.15" cx="99.4" cy="188.1"/>
<circle class="c15" r="1.15" cx="97.9" cy="177.9"/>
<circle class="c15" r="1.15" cx="96" cy="176.5"/>
<circle class="c13" r="0.85" cx="94.8" cy="178.8"/>
<circle class="c15" r="1.15" cx="94.8" cy="181.1"/>
<circle class="c15" r="1.15" cx="103.1" cy="190"/>
<circle class="c15" r="1.15" cx="95.4" cy="172.3"/>
<circle class="c13" r="0.85" cx="94.8" cy="215.2"/>
<circle class="c15" r="1.15" cx="98.9" cy="168.1"/>
<circle class="c15" r="1.15" cx="98.7" cy="172.9"/>
<circle class="c15" r="1.15" cx="96.2" cy="173.5"/>
<circle class="c15" r="1.15" cx="98.6" cy="176.1"/>
<circle class="c13" r="0.85" cx="101.9" cy="188.5"/>
<circle class="c13" r="0.85" cx="99.4" cy="198.6"/>
<circle class="c15" r="1.15" cx="95.5" cy="177.4"/>
<circle class="c15" r="1.15" cx="98.3" cy="170.8"/>
<circle class="c15" r="1.15" cx="97.4" cy="202.1"/>
<circle class="c15" r="1.15" cx="95.8" cy="167.9"/>
<circle class="c15" r="1.15" cx="102.8" cy="204.4"/>
<circle class="c15" r="1.15" cx="95.1" cy="196.9"/>
<circle class="c15" r="1.15" cx="96" cy="172.1"/>
<circle class="c13" r="0.85" cx="98.7" cy="189.9"/>
<circle class="c13" r="0.85" cx="97.3" cy="182.2"/>
<circle class="c15" r="1.15" cx="97.4" cy="177.7"/>
<circle class="c15" r="1.15" cx="97.7" cy="185.4"/>
<circle class="c13" r="0.85" cx="95.5" cy="193.1"/>
<circle class="c13" r="0.85" cx="98.8" cy="192.4"/>
<circle class="c13" r="0.85" cx="102.3" cy="207.5"/>
<circle class="c13" r="0.85" cx="102.4" cy="181"/>
<circle class="c15" r="1.15" cx="96.7" cy="172.8"/>
<circle class="c13" r="0.85" cx="99.1" cy="184.7"/>
<circle class="c15" r="1.15" cx="99.2" cy="212.9"/>
<circle class="c15" r="1.15" cx="100.5" cy="173.1"/>
<circle class="c15" r="1.15" cx="98.3" cy="180.5"/>
<circle class="c13" r="0.85" cx="102.4" cy="197.2"/>
<circle class="c15" r="1.15" cx="97.9" cy="198.1"/>
<circle class="c15" r="1.15" cx="98.6" cy="179.7"/>
<circle class="c13" r="0.85" cx="95.1" cy="182.3"/>
<circle class="c13" r="0.85" cx="95.3" cy="188"/>
<circle class="c15" r="1.15" cx="100.2" cy="162"/>
<circle class="c13" r="0.85" cx="98.7" cy="185"/>
<circle class="c15" r="1.15" cx="97.6" cy="183.9"/>
<circle class="c15" r="1.15" cx="102.1" cy="162"/>
<circle class="c13" r="0.85" cx="102.2" cy="185.3"/>
<circle class="c15" r="1.15" cx="100.2" cy="174.9"/>
<circle class="c15" r="1.15" cx="102.5" cy="189"/>
<circle class="c15" r="1.15" cx="103" cy="194.1"/>
<circle class="c15" r="1.15" cx="102.2" cy="162"/>
<circle class="c15" r="1.15" cx="101.1" cy="202.9"/>
<circle class="c13" r="0.85" cx="97.1" cy="203.9"/>
<circle class="c15" r="1.15" cx="98.2" cy="162"/>
<circle class="c15" r="1.15" cx="100.2" cy="204.1"/>
<circle class="c13" r="0.85" cx="97.2" cy="175.3"/>
<circle class="c15" r="1.15" cx="101.9" cy="176.9"/>
<circle class="c15" r="1.15" cx="99.8" cy="187.7"/>
<circle class="c15" r="1.15" cx="102.6" cy="203.5"/>
<circle class="c13" r="0.85" cx="100.1" cy="182.6"/>
<circle class="c13" r="0.85" cx="102.9" cy="198.9"/>
<circle class="c13" r="0.85" cx="99.3" cy="175.8"/>
<circle class="c15" r="1.15" cx="96.7" cy="187"/>
<circle class="c13" r="0.85" cx="98.7" cy="189.3"/>
<circle class="c15" r="1.15" cx="95.8" cy="177.4"/>
<circle class="c13" r="0.85" cx="96.9" cy="199"/>
<circle class="c15" r="1.15" cx="95.7" cy="185.8"/>
<circle class="c15" r="1.15" cx="102.1" cy="185.1"/>
<circle class="c15" r="1.15" cx="96.9" cy="162"/>
<circle class="c15" r="1.15" cx="96.2" cy="186.4"/>
<circle class="c13" r="0.85" cx="99" cy="192.1"/>
<circle class="c15" r="1.15" cx="102.2" cy="177.8"/>
<circle class="c15" r="1.15" cx="101.1" cy="212.7"/>
<circle class="c15" r="1.15" cx="99.7" cy="174.1"/>
<circle class="c13" r="0.85" cx="95" cy="182.2"/>
<circle class="c13" r="0.85" cx="95.4" cy="180.2"/>
<circle class="c15" r="1.15" cx="97.9" cy="188.9"/>
<circle class="c15" r="1.15" cx="101.3" cy="162"/>
<circle class="c15" r="1.15" cx="97.5" cy="189.2"/>
<circle class="c15" r="1.15" cx="102.2" cy="178.9"/>
<circle class="c13" r="0.85" cx="97.3" cy="205.1"/>
<circle class="c13" r="0.85" cx="96.7" cy="205.5"/>
<circle class="c13" r="0.85" cx="97.4" cy="188"/>
<circle class="c13" r="0.85" cx="99.8" cy="192.7"/>
<circle class="c13" r="0.85" cx="101.1" cy="206.9"/>
<circle class="c15" r="1.15" cx="99.9" cy="193.2"/>
<circle class="c15" r="1.15" cx="101.1" cy="183.7"/>
<circle class="c13" r="0.85" cx="100.8" cy="200.6"/>
<circle class="c15" r="1.15" cx="96.3" cy="172.8"/>
<circle class="c13" r="0.85" cx="101.2" cy="181"/>
<circle class="c15" r="1.15" cx="98.9" cy="185.2"/>
<circle class="c15" r="1.15" cx="99.6" cy="193.3"/>
<circle class="c15" r="1.15" cx="100.5" cy="176.9"/>
<circle class="c15" r="1.15" cx="100" cy="184.1"/>
<circle class="c15" r="1.15" cx="95.9" cy="202.5"/>
<circle class="c15" r="1.15" cx="95.6" cy="178.4"/>
<circle class="c15" r="1.15" cx="94.9" cy="183.6"/>
<circle class="c13" r="0.85" cx="97.1" cy="186"/>
<circle class="c15" r="1.15" cx="98.2" cy="190.4"/>
<circle class="c11" r="0.9" cx="102" cy="226.5"/>
<circle class="c16" r="1.15" cx="100" cy="230"/>
<circle class="c16" r="1.15" cx="117" cy="210.5"/>
<circle class="c16" r="1.15" cx="117" cy="213.5"/>
<text x="99.1" y="270.2" font-size="4.7" fill="#111" font-weight="bold" stroke="#111" stroke-width="0.16" text-anchor="middle" textLength="16.6" lengthAdjust="spacingAndGlyphs">Diploid</text>
<line x1="130.5" y1="263" x2="130.5" y2="264.2" stroke="#8a8a8a" stroke-width="0.4"/>
<line x1="130.5" y1="159.5" x2="130.5" y2="168.5" stroke="#d0d0d0" stroke-width="0.4"/>
<line x1="130.5" y1="191.2" x2="130.5" y2="226.7" stroke="#d0d0d0" stroke-width="0.4"/>
<line x1="120.2" y1="159.5" x2="140.8" y2="159.5" stroke="#d4d4d4" stroke-width="0.5"/>
<line x1="120.2" y1="226.7" x2="140.8" y2="226.7" stroke="#d4d4d4" stroke-width="0.5"/>
<rect x="120.2" y="168.5" width="20.6" height="22.7" fill="#ededed" stroke="none" stroke-width="0.4"/>
<line x1="120.2" y1="177.6" x2="140.8" y2="177.6" stroke="#d2d2d2" stroke-width="0.5" stroke-dasharray="1.2 0.8"/>
<circle class="c17" r="1.15" cx="132" cy="187"/>
<circle class="c17" r="1.15" cx="126.9" cy="182.9"/>
<circle class="c17" r="1.15" cx="130.1" cy="173.5"/>
<circle class="c17" r="1.15" cx="130.3" cy="200.9"/>
<circle class="c17" r="1.15" cx="132.2" cy="187.6"/>
<circle class="c17" r="1.15" cx="130.8" cy="191.2"/>
<circle class="c17" r="1.15" cx="127" cy="192.6"/>
<circle class="c17" r="1.15" cx="131.7" cy="173.9"/>
<circle class="c17" r="1.15" cx="131.4" cy="173.8"/>
<circle class="c17" r="1.15" cx="131.8" cy="168.4"/>
<circle class="c17" r="1.15" cx="132.1" cy="173.5"/>
<circle class="c17" r="1.15" cx="131.4" cy="161.3"/>
<circle class="c17" r="1.15" cx="128.4" cy="195.1"/>
<circle class="c17" r="1.15" cx="130.7" cy="184.9"/>
<circle class="c17" r="1.15" cx="133.8" cy="179.2"/>
<circle class="c17" r="1.15" cx="131" cy="165.7"/>
<circle class="c17" r="1.15" cx="134" cy="170.2"/>
<circle class="c17" r="1.15" cx="132.6" cy="193.6"/>
<circle class="c17" r="1.15" cx="133.2" cy="160"/>
<circle class="c17" r="1.15" cx="130.4" cy="173.2"/>
<circle class="c17" r="1.15" cx="132.8" cy="169.2"/>
<circle class="c17" r="1.15" cx="127.2" cy="160"/>
<circle class="c17" r="1.15" cx="132.4" cy="200.7"/>
<circle class="c17" r="1.15" cx="132.6" cy="164.2"/>
<circle class="c17" r="1.15" cx="133.3" cy="170.2"/>
<circle class="c17" r="1.15" cx="134.1" cy="164.4"/>
<circle class="c17" r="1.15" cx="131" cy="161.9"/>
<circle class="c17" r="1.15" cx="134" cy="178.7"/>
<circle class="c17" r="1.15" cx="128.1" cy="174.8"/>
<circle class="c17" r="1.15" cx="128.8" cy="178"/>
<circle class="c17" r="1.15" cx="131.8" cy="181.1"/>
<circle class="c17" r="1.15" cx="133.5" cy="170.4"/>
<circle class="c17" r="1.15" cx="129.5" cy="174"/>
<circle class="c17" r="1.15" cx="127.6" cy="185.5"/>
<circle class="c11" r="0.9" cx="134" cy="176.5"/>
<circle class="c11" r="0.9" cx="133" cy="196"/>
<circle class="c11" r="0.9" cx="133" cy="199.5"/>
<circle class="c11" r="0.9" cx="126.5" cy="213"/>
<circle class="c11" r="0.9" cx="130" cy="220.5"/>
<circle class="c16" r="1.15" cx="128" cy="246.2"/>
<circle class="c17" r="1.15" cx="131.5" cy="206"/>
<circle class="c17" r="1.15" cx="130" cy="211"/>
<text x="130.5" y="270.2" font-size="4.7" fill="#111" font-weight="bold" stroke="#111" stroke-width="0.16" text-anchor="middle" textLength="10.4" lengthAdjust="spacingAndGlyphs">Gain</text>
<line x1="161.7" y1="263" x2="161.7" y2="264.2" stroke="#8a8a8a" stroke-width="0.4"/>
<rect x="151.7" y="175.6" width="20" height="3.4" fill="#eeeeee" stroke="none" stroke-width="0.4"/>
<line x1="151.7" y1="177.3" x2="171.7" y2="177.3" stroke="#d2d2d2" stroke-width="0.5" stroke-dasharray="1.2 0.8"/>
<circle class="c18" r="1.05" cx="159" cy="163.7"/>
<circle class="c18" r="1.05" cx="161" cy="178.4"/>
<circle class="c18" r="1.05" cx="163.2" cy="177.5"/>
<text x="163.2" y="270.2" font-size="4.7" fill="#111" font-weight="bold" stroke="#111" stroke-width="0.16" text-anchor="middle" textLength="32" lengthAdjust="spacingAndGlyphs">Amplification</text>
<text x="0.2" y="145.8" font-size="11.5" fill="#000" font-weight="bold" stroke="#000" stroke-width="0.4" textLength="7.6" lengthAdjust="spacingAndGlyphs">D</text>
<text x="41" y="150.2" font-size="6.1" fill="#111" font-weight="bold" stroke="#111" stroke-width="0.21" textLength="23" lengthAdjust="spacingAndGlyphs">HNSCC</text>
<text x="64.5" y="286.4" font-size="4.9" fill="#111" font-weight="bold" stroke="#111" stroke-width="0.17" textLength="75.3" lengthAdjust="spacingAndGlyphs">FAT1 copy-number alterations</text>
<text x="0" y="0" font-size="4.8" fill="#111" font-weight="bold" stroke="#111" stroke-width="0.17" textLength="87.4" lengthAdjust="spacingAndGlyphs" transform="translate(8.6 242.2) rotate(-90)">FAT1 mRNA expression (RSEM log<tspan font-size="70%" dy="0.8">2</tspan><tspan dy="-0.8">)</tspan></text>
<line x1="199.7" y1="254.9" x2="359.6" y2="254.9" stroke="#f5f5f5" stroke-width="0.5"/>
<line x1="199.7" y1="234.8" x2="359.6" y2="234.8" stroke="#f5f5f5" stroke-width="0.5"/>
<line x1="199.7" y1="214.7" x2="359.6" y2="214.7" stroke="#f5f5f5" stroke-width="0.5"/>
<line x1="199.7" y1="194.6" x2="359.6" y2="194.6" stroke="#f5f5f5" stroke-width="0.5"/>
<line x1="199.7" y1="174.5" x2="359.6" y2="174.5" stroke="#f5f5f5" stroke-width="0.5"/>
<line x1="199.7" y1="154.4" x2="359.6" y2="154.4" stroke="#f5f5f5" stroke-width="0.5"/>
<line x1="216.4" y1="151" x2="216.4" y2="263" stroke="#f5f5f5" stroke-width="0.5"/>
<line x1="248.7" y1="151" x2="248.7" y2="263" stroke="#f5f5f5" stroke-width="0.5"/>
<line x1="279.6" y1="151" x2="279.6" y2="263" stroke="#f5f5f5" stroke-width="0.5"/>
<line x1="311" y1="151" x2="311" y2="263" stroke="#f5f5f5" stroke-width="0.5"/>
<line x1="342.2" y1="151" x2="342.2" y2="263" stroke="#f5f5f5" stroke-width="0.5"/>
<line x1="199.7" y1="147" x2="199.7" y2="263" stroke="#8a8a8a" stroke-width="0.6"/>
<line x1="199.7" y1="263" x2="359.6" y2="263" stroke="#8a8a8a" stroke-width="0.6"/>
<line x1="198.5" y1="254.9" x2="199.7" y2="254.9" stroke="#8a8a8a" stroke-width="0.4"/>
<text x="197.5" y="255.9" font-size="2.8" fill="#333" font-weight="bold" stroke="#333" stroke-width="0.1" text-anchor="end">6</text>
<line x1="198.5" y1="234.8" x2="199.7" y2="234.8" stroke="#8a8a8a" stroke-width="0.4"/>
<text x="197.5" y="235.8" font-size="2.8" fill="#333" font-weight="bold" stroke="#333" stroke-width="0.1" text-anchor="end">8</text>
<line x1="198.5" y1="214.7" x2="199.7" y2="214.7" stroke="#8a8a8a" stroke-width="0.4"/>
<text x="197.5" y="215.7" font-size="2.8" fill="#333" font-weight="bold" stroke="#333" stroke-width="0.1" text-anchor="end">10</text>
<line x1="198.5" y1="194.6" x2="199.7" y2="194.6" stroke="#8a8a8a" stroke-width="0.4"/>
<text x="197.5" y="195.6" font-size="2.8" fill="#333" font-weight="bold" stroke="#333" stroke-width="0.1" text-anchor="end">12</text>
<line x1="198.5" y1="174.5" x2="199.7" y2="174.5" stroke="#8a8a8a" stroke-width="0.4"/>
<text x="197.5" y="175.5" font-size="2.8" fill="#333" font-weight="bold" stroke="#333" stroke-width="0.1" text-anchor="end">14</text>
<line x1="198.5" y1="154.4" x2="199.7" y2="154.4" stroke="#8a8a8a" stroke-width="0.4"/>
<text x="197.5" y="155.4" font-size="2.8" fill="#333" font-weight="bold" stroke="#333" stroke-width="0.1" text-anchor="end">16</text>
<line x1="216.4" y1="263" x2="216.4" y2="264.2" stroke="#8a8a8a" stroke-width="0.4"/>
<line x1="216.4" y1="181.5" x2="216.4" y2="198.5" stroke="#d0d0d0" stroke-width="0.4"/>
<line x1="216.4" y1="213.5" x2="216.4" y2="236.3" stroke="#d0d0d0" stroke-width="0.4"/>
<line x1="206.2" y1="181.5" x2="226.6" y2="181.5" stroke="#d4d4d4" stroke-width="0.5"/>
<line x1="206.2" y1="236.3" x2="226.6" y2="236.3" stroke="#d4d4d4" stroke-width="0.5"/>
<rect x="206.2" y="198.5" width="20.4" height="15" fill="#e8e8e8" stroke="none" stroke-width="0.4"/>
<line x1="206.2" y1="203.5" x2="226.6" y2="203.5" stroke="#d2d2d2" stroke-width="0.5" stroke-dasharray="1.2 0.8"/>
<circle class="c19" r="1.25" cx="213.6" cy="206"/>
<circle class="c19" r="1.25" cx="213.2" cy="222"/>
<circle class="c19" r="1.25" cx="217.5" cy="208.5"/>
<circle class="c19" r="1.25" cx="216" cy="203"/>
<circle class="c19" r="1.25" cx="213.3" cy="208.4"/>
<circle class="c19" r="1.25" cx="212.8" cy="217.1"/>
<circle class="c19" r="1.25" cx="215.5" cy="188.6"/>
<circle class="c19" r="1.25" cx="214.6" cy="212.5"/>
<circle class="c19" r="1.25" cx="215.5" cy="213.3"/>
<circle class="c19" r="1.25" cx="215.2" cy="207.3"/>
<circle class="c19" r="1.25" cx="219.5" cy="191.4"/>
<circle class="c19" r="1.25" cx="213.7" cy="203.2"/>
<circle class="c19" r="1.25" cx="214.1" cy="211.7"/>
<circle class="c19" r="1.25" cx="217" cy="199.9"/>
<circle class="c19" r="1.25" cx="215.3" cy="207.8"/>
<circle class="c19" r="1.25" cx="213.6" cy="198.5"/>
<circle class="c19" r="1.25" cx="217.9" cy="213"/>
<circle class="c19" r="1.25" cx="219" cy="210"/>
<circle class="c19" r="1.25" cx="216.6" cy="204.5"/>
<circle class="c19" r="1.25" cx="213.1" cy="207.3"/>
<circle class="c19" r="1.25" cx="214.3" cy="190.6"/>
<circle class="c19" r="1.25" cx="212.7" cy="202.4"/>
<circle class="c19" r="1.25" cx="215.5" cy="202.1"/>
<circle class="c19" r="1.25" cx="219.4" cy="211.3"/>
<circle class="c19" r="1.25" cx="217.6" cy="199.2"/>
<circle class="c19" r="1.25" cx="214.1" cy="205.9"/>
<circle class="c19" r="1.25" cx="218.4" cy="202.6"/>
<circle class="c19" r="1.25" cx="213.9" cy="204.2"/>
<circle class="c19" r="1.25" cx="216" cy="203.9"/>
<circle class="c19" r="1.25" cx="217.1" cy="211.2"/>
<circle class="c19" r="1.25" cx="213.4" cy="205.8"/>
<circle class="c19" r="1.25" cx="215.3" cy="204.9"/>
<circle class="c19" r="1.25" cx="220" cy="190.5"/>
<circle class="c19" r="1.25" cx="212.7" cy="202.6"/>
<circle class="c19" r="1.25" cx="213.3" cy="181.5"/>
<circle class="c19" r="1.25" cx="219.5" cy="187.5"/>
<circle class="c20" r="1.25" cx="213" cy="250.7"/>
<circle class="c11" r="0.9" cx="218" cy="213.5"/>
<text x="218.4" y="270.2" font-size="4.7" fill="#111" font-weight="bold" stroke="#111" stroke-width="0.16" text-anchor="middle" textLength="32" lengthAdjust="spacingAndGlyphs">Deep Deletion</text>
<line x1="248.7" y1="263" x2="248.7" y2="264.2" stroke="#8a8a8a" stroke-width="0.4"/>
<line x1="248.7" y1="177" x2="248.7" y2="192.5" stroke="#d0d0d0" stroke-width="0.4"/>
<line x1="248.7" y1="203" x2="248.7" y2="222" stroke="#d0d0d0" stroke-width="0.4"/>
<line x1="238.5" y1="177" x2="258.9" y2="177" stroke="#d4d4d4" stroke-width="0.5"/>
<line x1="238.5" y1="222" x2="258.9" y2="222" stroke="#d4d4d4" stroke-width="0.5"/>
<rect x="238.5" y="192.5" width="20.4" height="10.5" fill="#f2eeee" stroke="none" stroke-width="0.4"/>
<line x1="238.5" y1="196.8" x2="258.9" y2="196.8" stroke="#d2d2d2" stroke-width="0.5" stroke-dasharray="1.2 0.8"/>
<circle class="c12" r="1.15" cx="250.7" cy="187.1"/>
<circle class="c12" r="1.15" cx="244.5" cy="207.4"/>
<circle class="c12" r="1.15" cx="244.8" cy="203.6"/>
<circle class="c12" r="1.15" cx="250.9" cy="219.7"/>
<circle class="c12" r="1.15" cx="252.6" cy="192"/>
<circle class="c12" r="1.15" cx="245.2" cy="194.7"/>
<circle class="c14" r="1.15" cx="245.8" cy="185.5"/>
<circle class="c13" r="0.85" cx="248.3" cy="198.2"/>
<circle class="c14" r="1.15" cx="250.5" cy="181.6"/>
<circle class="c13" r="0.85" cx="247.5" cy="204.6"/>
<circle class="c12" r="1.15" cx="245.4" cy="201.9"/>
<circle class="c12" r="1.15" cx="250.4" cy="209.3"/>
<circle class="c13" r="0.85" cx="248.1" cy="208.4"/>
<circle class="c12" r="1.15" cx="252.6" cy="199.5"/>
<circle class="c14" r="1.15" cx="246.2" cy="180.8"/>
<circle class="c12" r="1.15" cx="250.7" cy="197.7"/>
<circle class="c12" r="1.15" cx="252.1" cy="213.1"/>
<circle class="c12" r="1.15" cx="252.3" cy="198.6"/>
<circle class="c12" r="1.15" cx="249.1" cy="199.5"/>
<circle class="c12" r="1.15" cx="247.6" cy="207.1"/>
<circle class="c12" r="1.15" cx="249.8" cy="205.8"/>
<circle class="c12" r="1.15" cx="251.1" cy="187.3"/>
<circle class="c12" r="1.15" cx="252.6" cy="201.5"/>
<circle class="c13" r="0.85" cx="247.1" cy="208"/>
<circle class="c12" r="1.15" cx="250.2" cy="182"/>
<circle class="c14" r="1.15" cx="251.4" cy="184.2"/>
<circle class="c14" r="1.15" cx="248.9" cy="186.5"/>
<circle class="c12" r="1.15" cx="245.1" cy="203.6"/>
<circle class="c12" r="1.15" cx="245.5" cy="196.5"/>
<circle class="c13" r="0.85" cx="246.8" cy="209.4"/>
<circle class="c12" r="1.15" cx="246.8" cy="202.4"/>
<circle class="c12" r="1.15" cx="248" cy="185.7"/>
<circle class="c12" r="1.15" cx="246.6" cy="202.6"/>
<circle class="c14" r="1.15" cx="249.5" cy="180.3"/>
<circle class="c12" r="1.15" cx="247.8" cy="201.8"/>
<circle class="c12" r="1.15" cx="251.1" cy="178.8"/>
<circle class="c12" r="1.15" cx="249.6" cy="199.3"/>
<circle class="c12" r="1.15" cx="245.2" cy="192.2"/>
<circle class="c13" r="0.85" cx="252.3" cy="214.2"/>
<circle class="c12" r="1.15" cx="249.6" cy="180.5"/>
<circle class="c12" r="1.15" cx="252.2" cy="196.7"/>
<circle class="c13" r="0.85" cx="250" cy="200.8"/>
<circle class="c12" r="1.15" cx="250.6" cy="207.6"/>
<circle class="c14" r="1.15" cx="247.2" cy="180.2"/>
<circle class="c12" r="1.15" cx="245.5" cy="191.8"/>
<circle class="c13" r="0.85" cx="247.4" cy="209.8"/>
<circle class="c12" r="1.15" cx="248.1" cy="197.7"/>
<circle class="c13" r="0.85" cx="245.3" cy="208.9"/>
<circle class="c13" r="0.85" cx="250.8" cy="196.2"/>
<circle class="c12" r="1.15" cx="244.9" cy="204.6"/>
<circle class="c13" r="0.85" cx="249.2" cy="196.2"/>
<circle class="c14" r="1.15" cx="251.9" cy="178"/>
<circle class="c14" r="1.15" cx="252.9" cy="178"/>
<circle class="c14" r="1.15" cx="247.2" cy="188.1"/>
<circle class="c12" r="1.15" cx="252" cy="198.3"/>
<circle class="c12" r="1.15" cx="249.7" cy="194.1"/>
<circle class="c12" r="1.15" cx="252" cy="211.3"/>
<circle class="c12" r="1.15" cx="250.3" cy="192.4"/>
<circle class="c14" r="1.15" cx="251.6" cy="187.5"/>
<circle class="c12" r="1.15" cx="250.2" cy="198.7"/>
<circle class="c12" r="1.15" cx="248.7" cy="212.6"/>
<circle class="c12" r="1.15" cx="249" cy="213.1"/>
<circle class="c12" r="1.15" cx="248.9" cy="196.1"/>
<circle class="c12" r="1.15" cx="251.4" cy="205.5"/>
<circle class="c13" r="0.85" cx="244.8" cy="205.8"/>
<circle class="c13" r="0.85" cx="252.4" cy="205.7"/>
<circle class="c12" r="1.15" cx="245.7" cy="193.2"/>
<circle class="c14" r="1.15" cx="245.2" cy="183.5"/>
<circle class="c12" r="1.15" cx="248.1" cy="217.8"/>
<circle class="c13" r="0.85" cx="252.6" cy="218.4"/>
<circle class="c12" r="1.15" cx="249.6" cy="201.1"/>
<circle class="c13" r="0.85" cx="252.8" cy="198"/>
<circle class="c13" r="0.85" cx="248.5" cy="213.1"/>
<circle class="c13" r="0.85" cx="246.5" cy="192.8"/>
<circle class="c13" r="0.85" cx="251.3" cy="192"/>
<circle class="c13" r="0.85" cx="249.8" cy="206.7"/>
<circle class="c13" r="0.85" cx="252" cy="209"/>
<circle class="c13" r="0.85" cx="244.8" cy="211.4"/>
<circle class="c12" r="1.15" cx="249.2" cy="191.3"/>
<circle class="c12" r="1.15" cx="249.9" cy="206.1"/>
<circle class="c13" r="0.85" cx="249.4" cy="201.7"/>
<circle class="c12" r="1.15" cx="251.6" cy="180.3"/>
<circle class="c14" r="1.15" cx="248.7" cy="183.4"/>
<circle class="c12" r="1.15" cx="249.4" cy="203.1"/>
<circle class="c12" r="1.15" cx="248.3" cy="188.4"/>
<circle class="c12" r="1.15" cx="247.7" cy="209.4"/>
<circle class="c12" r="1.15" cx="245.7" cy="196.3"/>
<circle class="c12" r="1.15" cx="245.2" cy="191.4"/>
<circle class="c13" r="0.85" cx="249.8" cy="198.4"/>
<circle class="c12" r="1.15" cx="251.9" cy="190.3"/>
<circle class="c13" r="0.85" cx="250.5" cy="200.2"/>
<circle class="c12" r="1.15" cx="247.1" cy="200"/>
<circle class="c12" r="1.15" cx="249.3" cy="196.4"/>
<circle class="c14" r="1.15" cx="244.6" cy="180.1"/>
<circle class="c13" r="0.85" cx="252.2" cy="205"/>
<circle class="c12" r="1.15" cx="252.7" cy="189"/>
<circle class="c12" r="1.15" cx="252.8" cy="185.4"/>
<circle class="c12" r="1.15" cx="252.1" cy="197.1"/>
<circle class="c12" r="1.15" cx="250.5" cy="201.7"/>
<circle class="c13" r="0.85" cx="250.1" cy="202.9"/>
<circle class="c14" r="1.15" cx="246.6" cy="184.8"/>
<circle class="c13" r="0.85" cx="244.7" cy="188.8"/>
<circle class="c12" r="1.15" cx="246.4" cy="181.1"/>
<circle class="c12" r="1.15" cx="246.7" cy="199.3"/>
<circle class="c12" r="1.15" cx="246.3" cy="189"/>
<circle class="c12" r="1.15" cx="250.4" cy="191.2"/>
<circle class="c12" r="1.15" cx="251.8" cy="203.7"/>
<circle class="c14" r="1.15" cx="248.7" cy="183"/>
<circle class="c12" r="1.15" cx="247.4" cy="195.4"/>
<circle class="c12" r="1.15" cx="251.9" cy="194.3"/>
<circle class="c12" r="1.15" cx="252.7" cy="216.7"/>
<circle class="c14" r="1.15" cx="249.7" cy="186"/>
<circle class="c13" r="0.85" cx="245.9" cy="202.4"/>
<circle class="c14" r="1.15" cx="246.4" cy="183.5"/>
<circle class="c13" r="0.85" cx="249.2" cy="203.1"/>
<circle class="c12" r="1.15" cx="248.2" cy="214"/>
<circle class="c12" r="1.15" cx="249.5" cy="203.1"/>
<circle class="c12" r="1.15" cx="252.2" cy="204.3"/>
<circle class="c12" r="1.15" cx="247.7" cy="198.7"/>
<circle class="c12" r="1.15" cx="250.1" cy="192.5"/>
<circle class="c12" r="1.15" cx="249.1" cy="187.6"/>
<circle class="c12" r="1.15" cx="246.2" cy="190.6"/>
<circle class="c13" r="0.85" cx="248.7" cy="212.1"/>
<circle class="c12" r="1.15" cx="248.6" cy="192.9"/>
<circle class="c13" r="0.85" cx="252.9" cy="193.9"/>
<circle class="c13" r="0.85" cx="249.1" cy="194.5"/>
<circle class="c13" r="0.85" cx="247.3" cy="195.1"/>
<circle class="c12" r="1.15" cx="247.1" cy="194.8"/>
<circle class="c12" r="1.15" cx="251.2" cy="205"/>
<circle class="c12" r="1.15" cx="252.6" cy="208.7"/>
<circle class="c14" r="1.15" cx="250.9" cy="185.8"/>
<circle class="c12" r="1.15" cx="250.1" cy="199.7"/>
<circle class="c14" r="1.15" cx="247.9" cy="184.9"/>
<circle class="c13" r="0.85" cx="251.2" cy="196.9"/>
<circle class="c12" r="1.15" cx="248.8" cy="216.4"/>
<circle class="c12" r="1.15" cx="252.2" cy="214.8"/>
<circle class="c14" r="1.15" cx="249.7" cy="178"/>
<circle class="c12" r="1.15" cx="245.8" cy="187"/>
<circle class="c12" r="1.15" cx="250.2" cy="189.6"/>
<circle class="c12" r="1.15" cx="246.8" cy="208.6"/>
<circle class="c12" r="1.15" cx="250.3" cy="181.5"/>
<circle class="c12" r="1.15" cx="246.1" cy="192.4"/>
<circle class="c12" r="1.15" cx="247" cy="189"/>
<circle class="c14" r="1.15" cx="245.4" cy="185.4"/>
<circle class="c12" r="1.15" cx="250.4" cy="183.8"/>
<circle class="c13" r="0.85" cx="244.7" cy="199.3"/>
<circle class="c12" r="1.15" cx="249.3" cy="207.7"/>
<circle class="c13" r="0.85" cx="248.2" cy="207"/>
<circle class="c12" r="1.15" cx="246.1" cy="195.5"/>
<circle class="c13" r="0.85" cx="249.3" cy="202.6"/>
<circle class="c12" r="1.15" cx="245.6" cy="199.5"/>
<circle class="c12" r="1.15" cx="247.3" cy="195.8"/>
<circle class="c12" r="1.15" cx="251.1" cy="192.6"/>
<circle class="c14" r="1.15" cx="250.2" cy="184.3"/>
<circle class="c13" r="0.85" cx="248.2" cy="204.2"/>
<circle class="c12" r="1.15" cx="249.2" cy="201.1"/>
<circle class="c13" r="0.85" cx="252.5" cy="203.5"/>
<circle class="c12" r="1.15" cx="252" cy="195"/>
<circle class="c12" r="1.15" cx="248.7" cy="185"/>
<circle class="c13" r="0.85" cx="252.4" cy="212.8"/>
<circle class="c12" r="1.15" cx="249.5" cy="202.6"/>
<circle class="c12" r="1.15" cx="246.4" cy="222"/>
<circle class="c12" r="1.15" cx="246.9" cy="201.3"/>
<circle class="c12" r="1.15" cx="247.8" cy="203.2"/>
<circle class="c12" r="1.15" cx="248.2" cy="196.9"/>
<circle class="c12" r="1.15" cx="247.3" cy="202.2"/>
<circle class="c14" r="1.15" cx="252.1" cy="186.7"/>
<circle class="c12" r="1.15" cx="249.2" cy="222"/>
<circle class="c12" r="1.15" cx="250.6" cy="191.2"/>
<circle class="c13" r="0.85" cx="250.4" cy="188.6"/>
<circle class="c14" r="1.15" cx="249.1" cy="187.3"/>
<circle class="c14" r="1.15" cx="244.6" cy="186.9"/>
<circle class="c12" r="1.15" cx="247.5" cy="211.2"/>
<circle class="c12" r="1.15" cx="251.2" cy="213.4"/>
<circle class="c12" r="1.15" cx="252.7" cy="195.1"/>
<circle class="c12" r="1.15" cx="252.2" cy="201.5"/>
<circle class="c13" r="0.85" cx="248" cy="195"/>
<circle class="c12" r="1.15" cx="245.4" cy="213.2"/>
<circle class="c12" r="1.15" cx="252.7" cy="203.2"/>
<circle class="c12" r="1.15" cx="251.9" cy="205"/>
<circle class="c12" r="1.15" cx="249.7" cy="198.5"/>
<circle class="c12" r="1.15" cx="251.1" cy="191.4"/>
<circle class="c13" r="0.85" cx="244.7" cy="191.5"/>
<circle class="c12" r="1.15" cx="251.5" cy="191.3"/>
<circle class="c12" r="1.15" cx="247" cy="183.9"/>
<circle class="c13" r="0.85" cx="249.5" cy="184.1"/>
<circle class="c13" r="0.85" cx="250.9" cy="192.2"/>
<circle class="c12" r="1.15" cx="246.8" cy="181.4"/>
<circle class="c14" r="1.15" cx="247" cy="181.5"/>
<circle class="c12" r="1.15" cx="248.3" cy="221.8"/>
<circle class="c12" r="1.15" cx="251.9" cy="191.7"/>
<circle class="c14" r="1.15" cx="249.1" cy="180.6"/>
<circle class="c13" r="0.85" cx="244.5" cy="216"/>
<circle class="c13" r="0.85" cx="251.9" cy="193.1"/>
<circle class="c12" r="1.15" cx="250.3" cy="212.5"/>
<circle class="c12" r="1.15" cx="252.6" cy="199.4"/>
<circle class="c12" r="1.15" cx="251.6" cy="193.8"/>
<circle class="c14" r="1.15" cx="245.6" cy="185.1"/>
<circle class="c13" r="0.85" cx="252.2" cy="192.9"/>
<circle class="c12" r="1.15" cx="247.7" cy="206.5"/>
<circle class="c12" r="1.15" cx="247" cy="201.4"/>
<circle class="c12" r="1.15" cx="251.2" cy="209.6"/>
<circle class="c13" r="0.85" cx="250.8" cy="206.6"/>
<circle class="c12" r="1.15" cx="247.8" cy="188.6"/>
<circle class="c12" r="1.15" cx="247.7" cy="207.8"/>
<circle class="c12" r="1.15" cx="252.5" cy="189.6"/>
<circle class="c12" r="1.15" cx="251.3" cy="203.4"/>
<circle class="c14" r="1.15" cx="247.8" cy="182.6"/>
<circle class="c12" r="1.15" cx="251.7" cy="191.3"/>
<circle class="c13" r="0.85" cx="247.8" cy="209.1"/>
<circle class="c12" r="1.15" cx="249.7" cy="194.1"/>
<circle class="c13" r="0.85" cx="252.2" cy="198.4"/>
<circle class="c13" r="0.85" cx="250.8" cy="206.7"/>
<circle class="c12" r="1.15" cx="245" cy="213.6"/>
<circle class="c12" r="1.15" cx="249.2" cy="188.3"/>
<circle class="c13" r="0.85" cx="245.6" cy="207.2"/>
<circle class="c12" r="1.15" cx="245.2" cy="214.4"/>
<circle class="c12" r="1.15" cx="249.6" cy="201.6"/>
<circle class="c12" r="1.15" cx="245.5" cy="195.6"/>
<circle class="c12" r="1.15" cx="251.5" cy="220.1"/>
<circle class="c12" r="1.15" cx="246.9" cy="203.1"/>
<circle class="c12" r="1.15" cx="245.7" cy="199.6"/>
<circle class="c12" r="1.15" cx="251.9" cy="208.8"/>
<circle class="c12" r="1.15" cx="245.8" cy="188.6"/>
<circle class="c12" r="1.15" cx="252.8" cy="209.7"/>
<circle class="c13" r="0.85" cx="250.1" cy="199.8"/>
<circle class="c12" r="1.15" cx="252.2" cy="193.5"/>
<circle class="c12" r="1.15" cx="246.8" cy="189.2"/>
<circle class="c12" r="1.15" cx="250.7" cy="206.8"/>
<circle class="c13" r="0.85" cx="248.3" cy="202.5"/>
<circle class="c13" r="0.85" cx="247.9" cy="208.3"/>
<circle class="c12" r="1.15" cx="248.1" cy="178"/>
<circle class="c13" r="0.85" cx="251.9" cy="198.7"/>
<circle class="c12" r="1.15" cx="249.7" cy="203.1"/>
<circle class="c12" r="1.15" cx="251.7" cy="202.9"/>
<circle class="c13" r="0.85" cx="245.1" cy="208.8"/>
<circle class="c13" r="0.85" cx="252.3" cy="197.8"/>
<circle class="c12" r="1.15" cx="247.6" cy="201.5"/>
<circle class="c12" r="1.15" cx="245" cy="190.2"/>
<circle class="c12" r="1.15" cx="247.1" cy="199.8"/>
<circle class="c12" r="1.15" cx="246.7" cy="185.2"/>
<circle class="c12" r="1.15" cx="245.5" cy="203.6"/>
<circle class="c13" r="0.85" cx="250.5" cy="193.6"/>
<circle class="c12" r="1.15" cx="248.6" cy="208.5"/>
<circle class="c13" r="0.85" cx="247.8" cy="193.7"/>
<circle class="c13" r="0.85" cx="248" cy="198.4"/>
<circle class="c13" r="0.85" cx="245.1" cy="180.9"/>
<circle class="c12" r="1.15" cx="249" cy="203.7"/>
<circle class="c12" r="1.15" cx="244.6" cy="198.9"/>
<circle class="c12" r="1.15" cx="246.3" cy="195.3"/>
<circle class="c13" r="0.85" cx="249.2" cy="196.7"/>
<circle class="c12" r="1.15" cx="248.6" cy="202.5"/>
<circle class="c14" r="1.15" cx="247" cy="178"/>
<circle class="c12" r="1.15" cx="247" cy="204.5"/>
<circle class="c12" r="1.15" cx="246.3" cy="210.8"/>
<circle class="c13" r="0.85" cx="246.3" cy="210.1"/>
<circle class="c12" r="1.15" cx="245.3" cy="218.7"/>
<circle class="c12" r="1.15" cx="248.4" cy="222"/>
<circle class="c13" r="0.85" cx="250.2" cy="204.3"/>
<circle class="c12" r="1.15" cx="249.7" cy="211.2"/>
<circle class="c12" r="1.15" cx="249.6" cy="195.7"/>
<circle class="c12" r="1.15" cx="248.3" cy="199.3"/>
<circle class="c12" r="1.15" cx="248.1" cy="190.6"/>
<circle class="c12" r="1.15" cx="245.1" cy="207.5"/>
<circle class="c13" r="0.85" cx="252.1" cy="203.4"/>
<circle class="c13" r="0.85" cx="248" cy="193.5"/>
<circle class="c12" r="1.15" cx="251.9" cy="212.4"/>
<circle class="c12" r="1.15" cx="245.6" cy="198.7"/>
<circle class="c13" r="0.85" cx="250.8" cy="206.5"/>
<circle class="c13" r="0.85" cx="247.2" cy="207"/>
<circle class="c12" r="1.15" cx="250.6" cy="197.5"/>
<circle class="c13" r="0.85" cx="246.1" cy="199.9"/>
<circle class="c12" r="1.15" cx="249.4" cy="210"/>
<circle class="c12" r="1.15" cx="248.2" cy="201.2"/>
<circle class="c12" r="1.15" cx="249.2" cy="202.3"/>
<circle class="c12" r="1.15" cx="247" cy="203.9"/>
<circle class="c14" r="1.15" cx="250.3" cy="183.9"/>
<circle class="c13" r="0.85" cx="252.8" cy="196.7"/>
<circle class="c13" r="0.85" cx="250.9" cy="183.2"/>
<circle class="c13" r="0.85" cx="245.5" cy="201.3"/>
<circle class="c12" r="1.15" cx="244.8" cy="194.2"/>
<circle class="c12" r="1.15" cx="245.8" cy="191.5"/>
<circle class="c12" r="1.15" cx="249.3" cy="215.5"/>
<circle class="c12" r="1.15" cx="244.7" cy="192.2"/>
<circle class="c12" r="1.15" cx="247.9" cy="188.8"/>
<circle class="c13" r="0.85" cx="247.6" cy="196.8"/>
<circle class="c12" r="1.15" cx="244.9" cy="178"/>
<circle class="c13" r="0.85" cx="248.9" cy="207.3"/>
<circle class="c12" r="1.15" cx="245.6" cy="189.6"/>
<circle class="c12" r="1.15" cx="250.3" cy="212.7"/>
<circle class="c12" r="1.15" cx="247.2" cy="199.1"/>
<circle class="c12" r="1.15" cx="248.9" cy="199.8"/>
<circle class="c13" r="0.85" cx="245.8" cy="222"/>
<circle class="c13" r="0.85" cx="245.6" cy="203.7"/>
<circle class="c13" r="0.85" cx="247.5" cy="207.2"/>
<circle class="c12" r="1.15" cx="247.6" cy="212.8"/>
<circle class="c12" r="1.15" cx="249.4" cy="194.1"/>
<circle class="c12" r="1.15" cx="248.9" cy="196.8"/>
<circle class="c12" r="1.15" cx="251" cy="208.5"/>
<circle class="c13" r="0.85" cx="247.7" cy="211.4"/>
<circle class="c12" r="1.15" cx="246" cy="229"/>
<circle class="c12" r="1.15" cx="249" cy="226"/>
<circle class="c12" r="1.15" cx="252" cy="225"/>
<circle class="c12" r="1.15" cx="247" cy="237.5"/>
<circle class="c12" r="1.15" cx="249.5" cy="236.5"/>
<circle class="c12" r="1.15" cx="251" cy="236"/>
<circle class="c12" r="1.15" cx="245.5" cy="231"/>
<circle class="c12" r="1.15" cx="252" cy="177"/>
<text x="251.4" y="270.2" font-size="4.7" fill="#111" font-weight="bold" stroke="#111" stroke-width="0.16" text-anchor="middle" textLength="18.5" lengthAdjust="spacingAndGlyphs">Shallow</text>
<text x="251.4" y="275.6" font-size="4.7" fill="#111" font-weight="bold" stroke="#111" stroke-width="0.16" text-anchor="middle" textLength="19" lengthAdjust="spacingAndGlyphs">deletion</text>
<line x1="279.6" y1="263" x2="279.6" y2="264.2" stroke="#8a8a8a" stroke-width="0.4"/>
<line x1="279.6" y1="161.7" x2="279.6" y2="185.7" stroke="#d0d0d0" stroke-width="0.4"/>
<line x1="279.6" y1="201.8" x2="279.6" y2="226.2" stroke="#d0d0d0" stroke-width="0.4"/>
<line x1="269.4" y1="161.7" x2="289.8" y2="161.7" stroke="#d4d4d4" stroke-width="0.5"/>
<line x1="269.4" y1="226.2" x2="289.8" y2="226.2" stroke="#d4d4d4" stroke-width="0.5"/>
<rect x="269.4" y="185.7" width="20.4" height="16.1" fill="#ebebeb" stroke="none" stroke-width="0.4"/>
<line x1="269.4" y1="192.5" x2="289.8" y2="192.5" stroke="#d2d2d2" stroke-width="0.5" stroke-dasharray="1.2 0.8"/>
<circle class="c15" r="1.15" cx="283.2" cy="186.3"/>
<circle class="c15" r="1.15" cx="278.2" cy="174"/>
<circle class="c15" r="1.15" cx="282.3" cy="201.5"/>
<circle class="c15" r="1.15" cx="281.4" cy="204.6"/>
<circle class="c21" r="1.15" cx="281" cy="192.2"/>
<circle class="c21" r="1.15" cx="277.1" cy="188"/>
<circle class="c15" r="1.15" cx="281.1" cy="193.6"/>
<circle class="c13" r="0.85" cx="282.2" cy="194.9"/>
<circle class="c13" r="0.85" cx="280.2" cy="189.2"/>
<circle class="c15" r="1.15" cx="283" cy="194.2"/>
<circle class="c15" r="1.15" cx="278.2" cy="198.3"/>
<circle class="c15" r="1.15" cx="278.9" cy="202.3"/>
<circle class="c15" r="1.15" cx="280" cy="192.7"/>
<circle class="c15" r="1.15" cx="278.5" cy="197.1"/>
<circle class="c15" r="1.15" cx="276.9" cy="199.2"/>
<circle class="c15" r="1.15" cx="281.9" cy="186.3"/>
<circle class="c15" r="1.15" cx="279.8" cy="188.7"/>
<circle class="c21" r="1.15" cx="281.4" cy="197.8"/>
<circle class="c15" r="1.15" cx="278" cy="204.9"/>
<circle class="c15" r="1.15" cx="276.3" cy="191.5"/>
<circle class="c15" r="1.15" cx="276.2" cy="188.1"/>
<circle class="c15" r="1.15" cx="281.9" cy="192.5"/>
<circle class="c15" r="1.15" cx="279.7" cy="205.9"/>
<circle class="c15" r="1.15" cx="278.5" cy="190.7"/>
<circle class="c15" r="1.15" cx="279.8" cy="188"/>
<circle class="c15" r="1.15" cx="276.5" cy="199.8"/>
<circle class="c15" r="1.15" cx="276.3" cy="202.8"/>
<circle class="c15" r="1.15" cx="281" cy="197.1"/>
<circle class="c21" r="1.15" cx="280.5" cy="193.2"/>
<circle class="c21" r="1.15" cx="279.1" cy="185.7"/>
<circle class="c15" r="1.15" cx="277.7" cy="207.1"/>
<circle class="c15" r="1.15" cx="278.8" cy="191.3"/>
<circle class="c15" r="1.15" cx="280.5" cy="187.7"/>
<circle class="c15" r="1.15" cx="280.1" cy="181.4"/>
<circle class="c13" r="0.85" cx="278.2" cy="193.4"/>
<circle class="c15" r="1.15" cx="280.1" cy="194.6"/>
<circle class="c15" r="1.15" cx="277.7" cy="207.9"/>
<circle class="c15" r="1.15" cx="276.9" cy="205.4"/>
<circle class="c15" r="1.15" cx="275.9" cy="181.3"/>
<circle class="c15" r="1.15" cx="276.9" cy="187.9"/>
<circle class="c15" r="1.15" cx="281.4" cy="200.3"/>
<circle class="c15" r="1.15" cx="276" cy="177.6"/>
<circle class="c15" r="1.15" cx="278.7" cy="179.3"/>
<circle class="c15" r="1.15" cx="278.2" cy="193.1"/>
<circle class="c15" r="1.15" cx="282.8" cy="186.2"/>
<circle class="c15" r="1.15" cx="280.8" cy="197.5"/>
<circle class="c15" r="1.15" cx="281.5" cy="193.6"/>
<circle class="c15" r="1.15" cx="279.8" cy="187"/>
<circle class="c15" r="1.15" cx="278" cy="197.7"/>
<circle class="c15" r="1.15" cx="276.5" cy="187.5"/>
<circle class="c15" r="1.15" cx="281.7" cy="196.3"/>
<circle class="c21" r="1.15" cx="277.8" cy="201.4"/>
<circle class="c15" r="1.15" cx="278.9" cy="188.2"/>
<circle class="c21" r="1.15" cx="283.2" cy="183.1"/>
<circle class="c15" r="1.15" cx="277.7" cy="198.3"/>
<circle class="c15" r="1.15" cx="276.8" cy="189"/>
<circle class="c15" r="1.15" cx="278.4" cy="196.6"/>
<circle class="c15" r="1.15" cx="276.1" cy="200.7"/>
<circle class="c21" r="1.15" cx="283.2" cy="191.5"/>
<circle class="c15" r="1.15" cx="276" cy="206.9"/>
<circle class="c15" r="1.15" cx="278.3" cy="192.4"/>
<circle class="c15" r="1.15" cx="282.4" cy="187.7"/>
<circle class="c15" r="1.15" cx="278.2" cy="197.1"/>
<circle class="c15" r="1.15" cx="282.1" cy="207.5"/>
<circle class="c15" r="1.15" cx="281" cy="180.9"/>
<circle class="c21" r="1.15" cx="281.2" cy="193.9"/>
<circle class="c13" r="0.85" cx="276.5" cy="199"/>
<circle class="c21" r="1.15" cx="280.4" cy="187.4"/>
<circle class="c15" r="1.15" cx="281" cy="191.8"/>
<circle class="c15" r="1.15" cx="276" cy="195.5"/>
<circle class="c15" r="1.15" cx="283.2" cy="187.1"/>
<circle class="c15" r="1.15" cx="282.6" cy="184.8"/>
<circle class="c15" r="1.15" cx="276.6" cy="195.2"/>
<circle class="c15" r="1.15" cx="277.5" cy="201.2"/>
<circle class="c15" r="1.15" cx="280.8" cy="195"/>
<circle class="c15" r="1.15" cx="279.1" cy="187.2"/>
<circle class="c21" r="1.15" cx="276.5" cy="189.5"/>
<circle class="c15" r="1.15" cx="281.3" cy="196.2"/>
<circle class="c15" r="1.15" cx="275.9" cy="207.7"/>
<circle class="c15" r="1.15" cx="279.4" cy="210.9"/>
<circle class="c15" r="1.15" cx="277.5" cy="179.9"/>
<circle class="c15" r="1.15" cx="281.7" cy="183.8"/>
<circle class="c15" r="1.15" cx="278.4" cy="192.9"/>
<circle class="c15" r="1.15" cx="281" cy="184.7"/>
<circle class="c21" r="1.15" cx="276.3" cy="200"/>
<circle class="c15" r="1.15" cx="279.6" cy="195.5"/>
<circle class="c21" r="1.15" cx="282.3" cy="192.4"/>
<circle class="c15" r="1.15" cx="281.7" cy="189.6"/>
<circle class="c15" r="1.15" cx="282.7" cy="176.9"/>
<circle class="c15" r="1.15" cx="276.3" cy="192.3"/>
<circle class="c15" r="1.15" cx="282.6" cy="190.2"/>
<circle class="c15" r="1.15" cx="276.6" cy="177.8"/>
<circle class="c15" r="1.15" cx="278.4" cy="189.7"/>
<circle class="c15" r="1.15" cx="281.3" cy="196.2"/>
<circle class="c15" r="1.15" cx="281.3" cy="187.3"/>
<circle class="c15" r="1.15" cx="276.4" cy="190.6"/>
<circle class="c15" r="1.15" cx="276.5" cy="199.3"/>
<circle class="c15" r="1.15" cx="282.3" cy="198.3"/>
<circle class="c15" r="1.15" cx="282.3" cy="195.4"/>
<circle class="c15" r="1.15" cx="280.7" cy="177.9"/>
<circle class="c15" r="1.15" cx="283.3" cy="200.2"/>
<circle class="c15" r="1.15" cx="282.9" cy="195.3"/>
<circle class="c15" r="1.15" cx="281.4" cy="200.6"/>
<circle class="c15" r="1.15" cx="283.4" cy="179.4"/>
<circle class="c13" r="0.85" cx="276.5" cy="215.3"/>
<circle class="c15" r="1.15" cx="278.9" cy="193.4"/>
<circle class="c21" r="1.15" cx="281.5" cy="189.5"/>
<circle class="c15" r="1.15" cx="280.3" cy="197.4"/>
<circle class="c15" r="1.15" cx="275.9" cy="187.7"/>
<circle class="c15" r="1.15" cx="279.3" cy="204.5"/>
<circle class="c15" r="1.15" cx="275.9" cy="202.7"/>
<circle class="c15" r="1.15" cx="278.4" cy="175.9"/>
<circle class="c15" r="1.15" cx="279.6" cy="191.2"/>
<circle class="c15" r="1.15" cx="276.4" cy="203.2"/>
<circle class="c15" r="1.15" cx="278.5" cy="194.8"/>
<circle class="c13" r="0.85" cx="282.9" cy="203.4"/>
<circle class="c15" r="1.15" cx="277.4" cy="208.2"/>
<circle class="c15" r="1.15" cx="280.6" cy="197.2"/>
<circle class="c21" r="1.15" cx="283.1" cy="208.4"/>
<circle class="c13" r="0.85" cx="277.3" cy="189.9"/>
<circle class="c15" r="1.15" cx="281.2" cy="210.2"/>
<circle class="c21" r="1.15" cx="276.9" cy="194.1"/>
<circle class="c15" r="1.15" cx="275.8" cy="174"/>
<circle class="c15" r="1.15" cx="281.1" cy="191.9"/>
<circle class="c15" r="1.15" cx="281.7" cy="205.1"/>
<circle class="c15" r="1.15" cx="283.1" cy="210.8"/>
<circle class="c15" r="1.15" cx="279.3" cy="201.6"/>
<circle class="c15" r="1.15" cx="276.5" cy="182.2"/>
<circle class="c15" r="1.15" cx="278.2" cy="192.9"/>
<circle class="c15" r="1.15" cx="276.4" cy="186.1"/>
<circle class="c15" r="1.15" cx="282.2" cy="186.5"/>
<circle class="c15" r="1.15" cx="278.9" cy="184"/>
<circle class="c21" r="1.15" cx="283.2" cy="196.1"/>
<circle class="c15" r="1.15" cx="277.6" cy="208.8"/>
<circle class="c15" r="1.15" cx="278.8" cy="192.7"/>
<circle class="c15" r="1.15" cx="279" cy="183.2"/>
<circle class="c15" r="1.15" cx="283.4" cy="217.5"/>
<circle class="c15" r="1.15" cx="280.3" cy="198.8"/>
<circle class="c15" r="1.15" cx="278.5" cy="204.7"/>
<circle class="c15" r="1.15" cx="277.6" cy="190.5"/>
<circle class="c15" r="1.15" cx="278.7" cy="196.4"/>
<circle class="c13" r="0.85" cx="282" cy="200.1"/>
<circle class="c15" r="1.15" cx="276.5" cy="176.7"/>
<circle class="c15" r="1.15" cx="280.7" cy="194.1"/>
<circle class="c15" r="1.15" cx="280.9" cy="195.9"/>
<circle class="c15" r="1.15" cx="277.8" cy="192.7"/>
<circle class="c13" r="0.85" cx="279.6" cy="193"/>
<circle class="c21" r="1.15" cx="280.2" cy="197.5"/>
<circle class="c15" r="1.15" cx="281" cy="174"/>
<circle class="c15" r="1.15" cx="281.8" cy="195.2"/>
<circle class="c22" r="1.15" cx="276.8" cy="240.6"/>
<circle class="c15" r="1.15" cx="280.2" cy="159.5"/>
<circle class="c15" r="1.15" cx="281.5" cy="166"/>
<circle class="c11" r="0.9" cx="277.3" cy="214"/>
<circle class="c11" r="0.9" cx="281" cy="217"/>
<circle class="c11" r="0.9" cx="282" cy="202"/>
<circle class="c11" r="0.9" cx="283" cy="203.5"/>
<circle class="c15" r="1.15" cx="276" cy="231"/>
<circle class="c15" r="1.15" cx="280" cy="230"/>
<circle class="c15" r="1.15" cx="278" cy="228.5"/>
<circle class="c16" r="1.15" cx="276.5" cy="217.5"/>
<text x="280" y="270.2" font-size="4.7" fill="#111" font-weight="bold" stroke="#111" stroke-width="0.16" text-anchor="middle" textLength="16.6" lengthAdjust="spacingAndGlyphs">Diploid</text>
<line x1="311" y1="263" x2="311" y2="264.2" stroke="#8a8a8a" stroke-width="0.4"/>
<line x1="311" y1="169.1" x2="311" y2="179.8" stroke="#d0d0d0" stroke-width="0.4"/>
<line x1="311" y1="199.6" x2="311" y2="221.4" stroke="#d0d0d0" stroke-width="0.4"/>
<line x1="300.8" y1="169.1" x2="321.2" y2="169.1" stroke="#d4d4d4" stroke-width="0.5"/>
<line x1="300.8" y1="221.4" x2="321.2" y2="221.4" stroke="#d4d4d4" stroke-width="0.5"/>
<rect x="300.8" y="179.8" width="20.4" height="19.8" fill="#ededed" stroke="none" stroke-width="0.4"/>
<line x1="300.8" y1="195" x2="321.2" y2="195" stroke="#d2d2d2" stroke-width="0.5" stroke-dasharray="1.2 0.8"/>
<circle class="c23" r="1.05" cx="314.1" cy="171.9"/>
<circle class="c23" r="1.05" cx="311.8" cy="182.4"/>
<circle class="c23" r="1.05" cx="308.5" cy="200"/>
<circle class="c23" r="1.05" cx="309.5" cy="183.1"/>
<circle class="c23" r="1.05" cx="313.9" cy="196.6"/>
<circle class="c23" r="1.05" cx="312.9" cy="196.5"/>
<circle class="c23" r="1.05" cx="313.6" cy="182.1"/>
<circle class="c23" r="1.05" cx="312.2" cy="201.3"/>
<circle class="c23" r="1.05" cx="308.1" cy="205.8"/>
<circle class="c23" r="1.05" cx="310.9" cy="191.4"/>
<circle class="c23" r="1.05" cx="308.4" cy="193.3"/>
<circle class="c23" r="1.05" cx="311.9" cy="198.1"/>
<circle class="c23" r="1.05" cx="308.7" cy="214"/>
<circle class="c23" r="1.05" cx="310.6" cy="171"/>
<circle class="c23" r="1.05" cx="310.6" cy="197.3"/>
<circle class="c23" r="1.05" cx="308.2" cy="204.9"/>
<circle class="c23" r="1.05" cx="313.4" cy="197.5"/>
<circle class="c23" r="1.05" cx="313.7" cy="189.3"/>
<circle class="c23" r="1.05" cx="312.6" cy="195.2"/>
<circle class="c23" r="1.05" cx="308.1" cy="192.5"/>
<circle class="c23" r="1.05" cx="311.1" cy="188.7"/>
<circle class="c23" r="1.05" cx="311.1" cy="218.1"/>
<circle class="c23" r="1.05" cx="311.6" cy="213.4"/>
<circle class="c23" r="1.05" cx="313.2" cy="195"/>
<circle class="c24" r="1.05" cx="307.3" cy="177"/>
<circle class="c11" r="0.9" cx="315" cy="182.6"/>
<circle class="c11" r="0.9" cx="307" cy="203"/>
<circle class="c11" r="0.9" cx="313" cy="202"/>
<circle class="c23" r="1.05" cx="311" cy="169.5"/>
<circle class="c23" r="1.05" cx="312" cy="171"/>
<text x="311.5" y="270.2" font-size="4.7" fill="#111" font-weight="bold" stroke="#111" stroke-width="0.16" text-anchor="middle" textLength="10.4" lengthAdjust="spacingAndGlyphs">Gain</text>
<line x1="342.2" y1="263" x2="342.2" y2="264.2" stroke="#8a8a8a" stroke-width="0.4"/>
<rect x="332.1" y="182.3" width="20.2" height="10.5" fill="#eeeeee" stroke="none" stroke-width="0.4"/>
<line x1="332.1" y1="187.5" x2="352.3" y2="187.5" stroke="#d2d2d2" stroke-width="0.5" stroke-dasharray="1.2 0.8"/>
<circle class="c11" r="0.9" cx="341" cy="184.9"/>
<circle class="c18" r="1.05" cx="345.7" cy="182.3"/>
<circle class="c11" r="0.9" cx="342.7" cy="192.8"/>
<text x="344" y="270.2" font-size="4.7" fill="#111" font-weight="bold" stroke="#111" stroke-width="0.16" text-anchor="middle" textLength="32" lengthAdjust="spacingAndGlyphs">Amplification</text>
<text x="181.3" y="145.8" font-size="11.5" fill="#000" font-weight="bold" stroke="#000" stroke-width="0.4" textLength="7.6" lengthAdjust="spacingAndGlyphs">E</text>
<text x="223" y="151.6" font-size="6.1" fill="#111" font-weight="bold" stroke="#111" stroke-width="0.21" textLength="30.2" lengthAdjust="spacingAndGlyphs">Lung SCC</text>
<text x="243" y="286.4" font-size="4.9" fill="#111" font-weight="bold" stroke="#111" stroke-width="0.17" textLength="77" lengthAdjust="spacingAndGlyphs">FAT1 copy-number alterations</text>
<text x="0" y="0" font-size="4.8" fill="#111" font-weight="bold" stroke="#111" stroke-width="0.17" textLength="80.6" lengthAdjust="spacingAndGlyphs" transform="translate(189.9 242.2) rotate(-90)">FAT1 mRNA expression (RSEM log<tspan font-size="70%" dy="0.8">2</tspan><tspan dy="-0.8">)</tspan></text>
<line x1="380.7" y1="250.7" x2="510" y2="250.7" stroke="#f5f5f5" stroke-width="0.5"/>
<line x1="380.7" y1="232.7" x2="510" y2="232.7" stroke="#f5f5f5" stroke-width="0.5"/>
<line x1="380.7" y1="214.7" x2="510" y2="214.7" stroke="#f5f5f5" stroke-width="0.5"/>
<line x1="380.7" y1="196.7" x2="510" y2="196.7" stroke="#f5f5f5" stroke-width="0.5"/>
<line x1="380.7" y1="178.7" x2="510" y2="178.7" stroke="#f5f5f5" stroke-width="0.5"/>
<line x1="380.7" y1="160.7" x2="510" y2="160.7" stroke="#f5f5f5" stroke-width="0.5"/>
<line x1="397.7" y1="151" x2="397.7" y2="264" stroke="#f5f5f5" stroke-width="0.5"/>
<line x1="429" y1="151" x2="429" y2="264" stroke="#f5f5f5" stroke-width="0.5"/>
<line x1="461" y1="151" x2="461" y2="264" stroke="#f5f5f5" stroke-width="0.5"/>
<line x1="492.3" y1="151" x2="492.3" y2="264" stroke="#f5f5f5" stroke-width="0.5"/>
<line x1="380.7" y1="147" x2="380.7" y2="264" stroke="#8a8a8a" stroke-width="0.6"/>
<line x1="380.7" y1="264" x2="510" y2="264" stroke="#8a8a8a" stroke-width="0.6"/>
<line x1="379.5" y1="250.7" x2="380.7" y2="250.7" stroke="#8a8a8a" stroke-width="0.4"/>
<text x="378.5" y="251.7" font-size="2.8" fill="#333" font-weight="bold" stroke="#333" stroke-width="0.1" text-anchor="end">4</text>
<line x1="379.5" y1="232.7" x2="380.7" y2="232.7" stroke="#8a8a8a" stroke-width="0.4"/>
<text x="378.5" y="233.7" font-size="2.8" fill="#333" font-weight="bold" stroke="#333" stroke-width="0.1" text-anchor="end">6</text>
<line x1="379.5" y1="214.7" x2="380.7" y2="214.7" stroke="#8a8a8a" stroke-width="0.4"/>
<text x="378.5" y="215.7" font-size="2.8" fill="#333" font-weight="bold" stroke="#333" stroke-width="0.1" text-anchor="end">8</text>
<line x1="379.5" y1="196.7" x2="380.7" y2="196.7" stroke="#8a8a8a" stroke-width="0.4"/>
<text x="378.5" y="197.7" font-size="2.8" fill="#333" font-weight="bold" stroke="#333" stroke-width="0.1" text-anchor="end">10</text>
<line x1="379.5" y1="178.7" x2="380.7" y2="178.7" stroke="#8a8a8a" stroke-width="0.4"/>
<text x="378.5" y="179.7" font-size="2.8" fill="#333" font-weight="bold" stroke="#333" stroke-width="0.1" text-anchor="end">12</text>
<line x1="379.5" y1="160.7" x2="380.7" y2="160.7" stroke="#8a8a8a" stroke-width="0.4"/>
<text x="378.5" y="161.7" font-size="2.8" fill="#333" font-weight="bold" stroke="#333" stroke-width="0.1" text-anchor="end">14</text>
<line x1="397.7" y1="264" x2="397.7" y2="265.2" stroke="#8a8a8a" stroke-width="0.4"/>
<line x1="397.7" y1="183.7" x2="397.7" y2="192.9" stroke="#d0d0d0" stroke-width="0.4"/>
<line x1="397.7" y1="219.4" x2="397.7" y2="231.3" stroke="#d0d0d0" stroke-width="0.4"/>
<line x1="387.5" y1="183.7" x2="407.9" y2="183.7" stroke="#d4d4d4" stroke-width="0.5"/>
<line x1="387.5" y1="231.3" x2="407.9" y2="231.3" stroke="#d4d4d4" stroke-width="0.5"/>
<rect x="387.5" y="192.9" width="20.4" height="26.5" fill="#e8e8e8" stroke="none" stroke-width="0.4"/>
<line x1="387.5" y1="211.2" x2="407.9" y2="211.2" stroke="#d2d2d2" stroke-width="0.5" stroke-dasharray="1.2 0.8"/>
<circle class="c25" r="1.15" cx="395.5" cy="184.4"/>
<circle class="c25" r="1.15" cx="399.5" cy="183.8"/>
<circle class="c25" r="1.15" cx="401" cy="192.5"/>
<circle class="c25" r="1.15" cx="398.7" cy="201.5"/>
<circle class="c11" r="0.9" cx="394" cy="210"/>
<circle class="c25" r="1.15" cx="397.3" cy="212.3"/>
<circle class="c25" r="1.15" cx="400.5" cy="216.3"/>
<circle class="c25" r="1.15" cx="398.2" cy="220"/>
<circle class="c25" r="1.15" cx="401.5" cy="225"/>
<circle class="c25" r="1.15" cx="393.5" cy="231.3"/>
<text x="399.7" y="271.2" font-size="4.7" fill="#111" font-weight="bold" stroke="#111" stroke-width="0.16" text-anchor="middle" textLength="32" lengthAdjust="spacingAndGlyphs">Deep Deletion</text>
<line x1="429" y1="264" x2="429" y2="265.2" stroke="#8a8a8a" stroke-width="0.4"/>
<line x1="429" y1="161" x2="429" y2="178" stroke="#d0d0d0" stroke-width="0.4"/>
<line x1="429" y1="194" x2="429" y2="212" stroke="#d0d0d0" stroke-width="0.4"/>
<line x1="418.8" y1="161" x2="439.2" y2="161" stroke="#d4d4d4" stroke-width="0.5"/>
<line x1="418.8" y1="212" x2="439.2" y2="212" stroke="#d4d4d4" stroke-width="0.5"/>
<rect x="418.8" y="178" width="20.4" height="16" fill="#f2eeee" stroke="none" stroke-width="0.4"/>
<line x1="418.8" y1="184" x2="439.2" y2="184" stroke="#d2d2d2" stroke-width="0.5" stroke-dasharray="1.2 0.8"/>
<circle class="c12" r="1.15" cx="430.7" cy="183.1"/>
<circle class="c12" r="1.15" cx="426.1" cy="199.9"/>
<circle class="c12" r="1.15" cx="431.2" cy="188.5"/>
<circle class="c12" r="1.15" cx="429.3" cy="190"/>
<circle class="c12" r="1.15" cx="432.1" cy="180.9"/>
<circle class="c12" r="1.15" cx="424.5" cy="194.7"/>
<circle class="c12" r="1.15" cx="431.8" cy="196.9"/>
<circle class="c12" r="1.15" cx="432" cy="200.9"/>
<circle class="c12" r="1.15" cx="426.8" cy="201.7"/>
<circle class="c12" r="1.15" cx="428.9" cy="178.2"/>
<circle class="c14" r="1.15" cx="427.8" cy="173.8"/>
<circle class="c12" r="1.15" cx="425.5" cy="179.6"/>
<circle class="c12" r="1.15" cx="430.8" cy="193.1"/>
<circle class="c12" r="1.15" cx="431.3" cy="161"/>
<circle class="c12" r="1.15" cx="426.3" cy="177.9"/>
<circle class="c12" r="1.15" cx="426.7" cy="186.3"/>
<circle class="c12" r="1.15" cx="425.6" cy="175.7"/>
<circle class="c12" r="1.15" cx="426.6" cy="177.5"/>
<circle class="c12" r="1.15" cx="425.1" cy="187.4"/>
<circle class="c12" r="1.15" cx="433.2" cy="193.4"/>
<circle class="c12" r="1.15" cx="424.8" cy="179.3"/>
<circle class="c12" r="1.15" cx="431.8" cy="161"/>
<circle class="c12" r="1.15" cx="432.4" cy="189.8"/>
<circle class="c12" r="1.15" cx="431.8" cy="193.1"/>
<circle class="c12" r="1.15" cx="431" cy="190.2"/>
<circle class="c12" r="1.15" cx="433.3" cy="175.9"/>
<circle class="c12" r="1.15" cx="430.1" cy="182.8"/>
<circle class="c12" r="1.15" cx="429.8" cy="176.9"/>
<circle class="c12" r="1.15" cx="427.1" cy="182.7"/>
<circle class="c14" r="1.15" cx="430.7" cy="174.5"/>
<circle class="c12" r="1.15" cx="429.5" cy="197.7"/>
<circle class="c12" r="1.15" cx="424.8" cy="190.3"/>
<circle class="c12" r="1.15" cx="424.4" cy="181.4"/>
<circle class="c12" r="1.15" cx="425.5" cy="187.9"/>
<circle class="c12" r="1.15" cx="425.1" cy="182.3"/>
<circle class="c12" r="1.15" cx="427.8" cy="198.1"/>
<circle class="c12" r="1.15" cx="429" cy="193.5"/>
<circle class="c12" r="1.15" cx="429.2" cy="184.3"/>
<circle class="c12" r="1.15" cx="424.7" cy="179.7"/>
<circle class="c12" r="1.15" cx="432.8" cy="176.3"/>
<circle class="c12" r="1.15" cx="432.2" cy="183.2"/>
<circle class="c12" r="1.15" cx="429.8" cy="199.9"/>
<circle class="c12" r="1.15" cx="426.3" cy="184.3"/>
<circle class="c12" r="1.15" cx="424.8" cy="192.6"/>
<circle class="c13" r="0.85" cx="429.9" cy="199.1"/>
<circle class="c12" r="1.15" cx="431.5" cy="193.2"/>
<circle class="c14" r="1.15" cx="427.5" cy="170.7"/>
<circle class="c12" r="1.15" cx="425.7" cy="185.6"/>
<circle class="c12" r="1.15" cx="426.4" cy="198.9"/>
<circle class="c13" r="0.85" cx="428" cy="196.6"/>
<circle class="c12" r="1.15" cx="428.5" cy="190.9"/>
<circle class="c13" r="0.85" cx="433.5" cy="191.2"/>
<circle class="c12" r="1.15" cx="431.8" cy="178.6"/>
<circle class="c12" r="1.15" cx="432.6" cy="182.8"/>
<circle class="c12" r="1.15" cx="426.7" cy="184.7"/>
<circle class="c12" r="1.15" cx="425.8" cy="184.7"/>
<circle class="c12" r="1.15" cx="431.8" cy="177.3"/>
<circle class="c12" r="1.15" cx="431" cy="191"/>
<circle class="c12" r="1.15" cx="432.9" cy="195.7"/>
<circle class="c12" r="1.15" cx="429.7" cy="179"/>
<circle class="c12" r="1.15" cx="425.5" cy="196"/>
<circle class="c14" r="1.15" cx="429.3" cy="165"/>
<circle class="c12" r="1.15" cx="427.1" cy="175.8"/>
<circle class="c13" r="0.85" cx="424.9" cy="209.5"/>
<circle class="c12" r="1.15" cx="431" cy="183.3"/>
<circle class="c12" r="1.15" cx="433.6" cy="179.1"/>
<circle class="c14" r="1.15" cx="432.1" cy="171"/>
<circle class="c12" r="1.15" cx="431.4" cy="190.7"/>
<circle class="c12" r="1.15" cx="428.7" cy="171.4"/>
<circle class="c13" r="0.85" cx="428.5" cy="212"/>
<circle class="c12" r="1.15" cx="427.5" cy="192"/>
<circle class="c12" r="1.15" cx="426.7" cy="185.5"/>
<circle class="c12" r="1.15" cx="433.5" cy="190.6"/>
<circle class="c12" r="1.15" cx="428.9" cy="175.3"/>
<circle class="c14" r="1.15" cx="429.3" cy="162"/>
<circle class="c12" r="1.15" cx="428.8" cy="189.5"/>
<circle class="c12" r="1.15" cx="432" cy="181.5"/>
<circle class="c12" r="1.15" cx="425.3" cy="182.8"/>
<circle class="c12" r="1.15" cx="429" cy="176.3"/>
<circle class="c12" r="1.15" cx="432.1" cy="204.4"/>
<circle class="c12" r="1.15" cx="428.3" cy="183.6"/>
<circle class="c14" r="1.15" cx="424.6" cy="168.8"/>
<circle class="c12" r="1.15" cx="424.9" cy="187.2"/>
<circle class="c12" r="1.15" cx="432.9" cy="178.9"/>
<circle class="c14" r="1.15" cx="426.6" cy="169.7"/>
<circle class="c12" r="1.15" cx="428.5" cy="185.2"/>
<circle class="c12" r="1.15" cx="424.9" cy="180"/>
<circle class="c12" r="1.15" cx="428.3" cy="190.3"/>
<circle class="c12" r="1.15" cx="432.8" cy="183.7"/>
<circle class="c12" r="1.15" cx="431.9" cy="179.2"/>
<circle class="c12" r="1.15" cx="430.5" cy="177"/>
<circle class="c12" r="1.15" cx="426.8" cy="168.8"/>
<circle class="c12" r="1.15" cx="430.3" cy="181.1"/>
<circle class="c12" r="1.15" cx="429.1" cy="182"/>
<circle class="c12" r="1.15" cx="431.9" cy="191.3"/>
<circle class="c12" r="1.15" cx="429.7" cy="176.8"/>
<circle class="c12" r="1.15" cx="433.2" cy="194.4"/>
<circle class="c12" r="1.15" cx="430.6" cy="179.3"/>
<circle class="c12" r="1.15" cx="425.1" cy="179.9"/>
<circle class="c12" r="1.15" cx="428.2" cy="174.7"/>
<circle class="c12" r="1.15" cx="428.5" cy="190.6"/>
<circle class="c14" r="1.15" cx="429.6" cy="161"/>
<circle class="c12" r="1.15" cx="427.4" cy="185.3"/>
<circle class="c12" r="1.15" cx="433.3" cy="189.8"/>
<circle class="c12" r="1.15" cx="426.3" cy="192"/>
<circle class="c12" r="1.15" cx="425.2" cy="180.4"/>
<circle class="c12" r="1.15" cx="428" cy="186.7"/>
<circle class="c13" r="0.85" cx="425.9" cy="186.8"/>
<circle class="c12" r="1.15" cx="426.5" cy="182.9"/>
<circle class="c12" r="1.15" cx="432.5" cy="180.8"/>
<circle class="c12" r="1.15" cx="431.7" cy="179.8"/>
<circle class="c12" r="1.15" cx="425.8" cy="168.2"/>
<circle class="c12" r="1.15" cx="431.6" cy="171.3"/>
<circle class="c12" r="1.15" cx="428.3" cy="182.5"/>
<circle class="c12" r="1.15" cx="429.7" cy="184.3"/>
<circle class="c12" r="1.15" cx="432.7" cy="192.5"/>
<circle class="c12" r="1.15" cx="430.4" cy="183"/>
<circle class="c12" r="1.15" cx="432.3" cy="179.4"/>
<circle class="c12" r="1.15" cx="426.4" cy="183.5"/>
<circle class="c12" r="1.15" cx="425.3" cy="203.1"/>
<circle class="c12" r="1.15" cx="429.7" cy="197"/>
<circle class="c12" r="1.15" cx="430.9" cy="194"/>
<circle class="c12" r="1.15" cx="424.4" cy="179.1"/>
<circle class="c12" r="1.15" cx="425.2" cy="192.7"/>
<circle class="c12" r="1.15" cx="428.5" cy="189.7"/>
<circle class="c13" r="0.85" cx="425.7" cy="165.5"/>
<circle class="c12" r="1.15" cx="425.8" cy="176.2"/>
<circle class="c12" r="1.15" cx="424.6" cy="183"/>
<circle class="c12" r="1.15" cx="425.4" cy="184.2"/>
<circle class="c12" r="1.15" cx="429.6" cy="166.6"/>
<circle class="c12" r="1.15" cx="431.5" cy="188.3"/>
<circle class="c12" r="1.15" cx="429.5" cy="170.5"/>
<circle class="c12" r="1.15" cx="431.7" cy="182.5"/>
<circle class="c12" r="1.15" cx="428.3" cy="185.5"/>
<circle class="c14" r="1.15" cx="432.1" cy="174"/>
<circle class="c12" r="1.15" cx="431.6" cy="180.4"/>
<circle class="c12" r="1.15" cx="431" cy="167"/>
<circle class="c12" r="1.15" cx="429.5" cy="180"/>
<circle class="c12" r="1.15" cx="428.4" cy="186.9"/>
<circle class="c13" r="0.85" cx="432.7" cy="191.2"/>
<circle class="c14" r="1.15" cx="428.6" cy="173.9"/>
<circle class="c12" r="1.15" cx="431.5" cy="198"/>
<circle class="c12" r="1.15" cx="428.1" cy="180.7"/>
<circle class="c12" r="1.15" cx="431.2" cy="182.5"/>
<circle class="c12" r="1.15" cx="430.8" cy="181.4"/>
<circle class="c12" r="1.15" cx="431.1" cy="185.4"/>
<circle class="c14" r="1.15" cx="425.6" cy="166.5"/>
<circle class="c12" r="1.15" cx="433.3" cy="196.3"/>
<circle class="c14" r="1.15" cx="429.1" cy="161"/>
<circle class="c12" r="1.15" cx="431.7" cy="191.9"/>
<circle class="c12" r="1.15" cx="428.3" cy="184.3"/>
<circle class="c12" r="1.15" cx="432.4" cy="189.1"/>
<circle class="c12" r="1.15" cx="426.3" cy="203.2"/>
<circle class="c12" r="1.15" cx="429" cy="188.4"/>
<circle class="c13" r="0.85" cx="431" cy="195.2"/>
<circle class="c12" r="1.15" cx="429.6" cy="198.9"/>
<circle class="c12" r="1.15" cx="430.5" cy="175"/>
<circle class="c14" r="1.15" cx="430" cy="161"/>
<circle class="c12" r="1.15" cx="425" cy="196.5"/>
<circle class="c12" r="1.15" cx="426.1" cy="195.2"/>
<circle class="c12" r="1.15" cx="430.1" cy="186.3"/>
<circle class="c12" r="1.15" cx="432.6" cy="184.9"/>
<circle class="c12" r="1.15" cx="430.2" cy="189.8"/>
<circle class="c12" r="1.15" cx="426" cy="183.8"/>
<circle class="c12" r="1.15" cx="431.6" cy="184.8"/>
<circle class="c12" r="1.15" cx="429.7" cy="196.8"/>
<circle class="c12" r="1.15" cx="426" cy="181.8"/>
<circle class="c14" r="1.15" cx="426.7" cy="171.6"/>
<circle class="c12" r="1.15" cx="428.5" cy="184"/>
<circle class="c12" r="1.15" cx="430.6" cy="179"/>
<circle class="c12" r="1.15" cx="428.7" cy="182.5"/>
<circle class="c12" r="1.15" cx="426.9" cy="200.7"/>
<circle class="c12" r="1.15" cx="424.4" cy="189"/>
<circle class="c14" r="1.15" cx="429.7" cy="170.6"/>
<circle class="c12" r="1.15" cx="426.9" cy="169"/>
<circle class="c13" r="0.85" cx="428.5" cy="189.9"/>
<circle class="c12" r="1.15" cx="427.8" cy="187.9"/>
<circle class="c12" r="1.15" cx="430.5" cy="180.8"/>
<circle class="c12" r="1.15" cx="432.5" cy="190.1"/>
<circle class="c12" r="1.15" cx="431" cy="196.2"/>
<circle class="c12" r="1.15" cx="427.5" cy="178.5"/>
<circle class="c12" r="1.15" cx="427.6" cy="161"/>
<circle class="c12" r="1.15" cx="429.9" cy="197.4"/>
<circle class="c14" r="1.15" cx="425.8" cy="167.4"/>
<circle class="c14" r="1.15" cx="427" cy="170.1"/>
<circle class="c12" r="1.15" cx="426.2" cy="176"/>
<circle class="c12" r="1.15" cx="424.8" cy="174.9"/>
<circle class="c12" r="1.15" cx="433.4" cy="179.1"/>
<circle class="c12" r="1.15" cx="425.1" cy="179.5"/>
<circle class="c12" r="1.15" cx="426.3" cy="173.9"/>
<circle class="c13" r="0.85" cx="433.1" cy="183.3"/>
<circle class="c12" r="1.15" cx="425.9" cy="182.6"/>
<circle class="c12" r="1.15" cx="431.2" cy="189.1"/>
<circle class="c12" r="1.15" cx="432.8" cy="167.5"/>
<circle class="c12" r="1.15" cx="431.3" cy="189.8"/>
<circle class="c12" r="1.15" cx="430.6" cy="185.9"/>
<circle class="c12" r="1.15" cx="426.3" cy="192.5"/>
<circle class="c12" r="1.15" cx="433.5" cy="174.6"/>
<circle class="c12" r="1.15" cx="432.6" cy="185.9"/>
<circle class="c12" r="1.15" cx="432.1" cy="193.7"/>
<circle class="c12" r="1.15" cx="426.2" cy="201.1"/>
<circle class="c13" r="0.85" cx="433.3" cy="185.2"/>
<circle class="c12" r="1.15" cx="425.4" cy="183.1"/>
<circle class="c12" r="1.15" cx="428.5" cy="176.2"/>
<circle class="c12" r="1.15" cx="428.3" cy="180.4"/>
<circle class="c12" r="1.15" cx="432.4" cy="182.6"/>
<circle class="c12" r="1.15" cx="426.3" cy="187.9"/>
<circle class="c12" r="1.15" cx="426" cy="180.9"/>
<circle class="c12" r="1.15" cx="426.1" cy="178.1"/>
<circle class="c12" r="1.15" cx="425.5" cy="175.2"/>
<circle class="c12" r="1.15" cx="428.3" cy="195.5"/>
<circle class="c12" r="1.15" cx="427.8" cy="181.4"/>
<circle class="c12" r="1.15" cx="430.8" cy="187.8"/>
<circle class="c12" r="1.15" cx="425" cy="191.9"/>
<circle class="c12" r="1.15" cx="432" cy="189.3"/>
<circle class="c12" r="1.15" cx="430.2" cy="175.8"/>
<circle class="c14" r="1.15" cx="429.2" cy="174.5"/>
<circle class="c12" r="1.15" cx="426.4" cy="178.8"/>
<circle class="c12" r="1.15" cx="432.3" cy="201.2"/>
<circle class="c12" r="1.15" cx="431" cy="175.5"/>
<circle class="c12" r="1.15" cx="428.9" cy="190.1"/>
<circle class="c12" r="1.15" cx="426.3" cy="175.4"/>
<circle class="c12" r="1.15" cx="428.4" cy="191.4"/>
<circle class="c12" r="1.15" cx="426.2" cy="175.3"/>
<circle class="c12" r="1.15" cx="427.8" cy="198.3"/>
<circle class="c14" r="1.15" cx="427.5" cy="161"/>
<circle class="c12" r="1.15" cx="425.2" cy="187.8"/>
<circle class="c12" r="1.15" cx="426.5" cy="192.3"/>
<circle class="c12" r="1.15" cx="427.1" cy="191.3"/>
<circle class="c12" r="1.15" cx="424.7" cy="180.5"/>
<circle class="c14" r="1.15" cx="427.6" cy="173.5"/>
<circle class="c12" r="1.15" cx="426.8" cy="178.8"/>
<circle class="c13" r="0.85" cx="431.9" cy="184.3"/>
<circle class="c12" r="1.15" cx="428.2" cy="188"/>
<circle class="c12" r="1.15" cx="433.2" cy="189.1"/>
<circle class="c12" r="1.15" cx="427.4" cy="201"/>
<circle class="c12" r="1.15" cx="428.3" cy="180.1"/>
<circle class="c12" r="1.15" cx="428.1" cy="185.8"/>
<circle class="c12" r="1.15" cx="432.6" cy="175.7"/>
<circle class="c12" r="1.15" cx="426.7" cy="186.9"/>
<circle class="c12" r="1.15" cx="428.7" cy="169.8"/>
<circle class="c12" r="1.15" cx="428.5" cy="185.8"/>
<circle class="c12" r="1.15" cx="429.9" cy="186.8"/>
<circle class="c14" r="1.15" cx="429.3" cy="164.2"/>
<circle class="c12" r="1.15" cx="432.9" cy="183.3"/>
<circle class="c12" r="1.15" cx="425.2" cy="190"/>
<circle class="c14" r="1.15" cx="432.3" cy="167.1"/>
<circle class="c12" r="1.15" cx="428.3" cy="192.7"/>
<circle class="c14" r="1.15" cx="424.9" cy="172.4"/>
<circle class="c12" r="1.15" cx="432.8" cy="193.9"/>
<circle class="c12" r="1.15" cx="432.4" cy="184.1"/>
<circle class="c12" r="1.15" cx="425.1" cy="174.6"/>
<circle class="c12" r="1.15" cx="426.6" cy="175.5"/>
<circle class="c12" r="1.15" cx="426.3" cy="181.2"/>
<circle class="c13" r="0.85" cx="433.3" cy="195.6"/>
<circle class="c12" r="1.15" cx="425.4" cy="185.5"/>
<circle class="c12" r="1.15" cx="427.1" cy="194.7"/>
<circle class="c12" r="1.15" cx="431.1" cy="177.6"/>
<circle class="c12" r="1.15" cx="425.3" cy="168.8"/>
<circle class="c12" r="1.15" cx="432.8" cy="189.3"/>
<circle class="c12" r="1.15" cx="428.5" cy="225"/>
<circle class="c12" r="1.15" cx="430" cy="217.5"/>
<circle class="c11" r="0.9" cx="427" cy="207"/>
<text x="432" y="271.2" font-size="4.7" fill="#111" font-weight="bold" stroke="#111" stroke-width="0.16" text-anchor="middle" textLength="18.5" lengthAdjust="spacingAndGlyphs">Shallow</text>
<text x="432" y="276.6" font-size="4.7" fill="#111" font-weight="bold" stroke="#111" stroke-width="0.16" text-anchor="middle" textLength="19" lengthAdjust="spacingAndGlyphs">deletion</text>
<line x1="461" y1="264" x2="461" y2="265.2" stroke="#8a8a8a" stroke-width="0.4"/>
<line x1="461" y1="161.2" x2="461" y2="176.4" stroke="#d0d0d0" stroke-width="0.4"/>
<line x1="461" y1="184.4" x2="461" y2="199.6" stroke="#d0d0d0" stroke-width="0.4"/>
<line x1="450.8" y1="161.2" x2="471.2" y2="161.2" stroke="#d4d4d4" stroke-width="0.5"/>
<line x1="450.8" y1="199.6" x2="471.2" y2="199.6" stroke="#d4d4d4" stroke-width="0.5"/>
<rect x="450.8" y="176.4" width="20.4" height="8" fill="#ebebeb" stroke="none" stroke-width="0.4"/>
<line x1="450.8" y1="180.2" x2="471.2" y2="180.2" stroke="#d2d2d2" stroke-width="0.5" stroke-dasharray="1.2 0.8"/>
<circle class="c15" r="1.15" cx="461.2" cy="184.3"/>
<circle class="c15" r="1.15" cx="457.7" cy="164.7"/>
<circle class="c15" r="1.15" cx="457.2" cy="175.7"/>
<circle class="c15" r="1.15" cx="459.1" cy="189.2"/>
<circle class="c15" r="1.15" cx="458.6" cy="175.6"/>
<circle class="c15" r="1.15" cx="459.5" cy="175.8"/>
<circle class="c15" r="1.15" cx="464.3" cy="182"/>
<circle class="c15" r="1.15" cx="464.5" cy="183"/>
<circle class="c13" r="0.85" cx="458.9" cy="189.7"/>
<circle class="c15" r="1.15" cx="462" cy="178.6"/>
<circle class="c15" r="1.15" cx="457.6" cy="173.5"/>
<circle class="c15" r="1.15" cx="462.7" cy="165.2"/>
<circle class="c15" r="1.15" cx="457" cy="180.9"/>
<circle class="c15" r="1.15" cx="459.6" cy="199.5"/>
<circle class="c15" r="1.15" cx="459.7" cy="184.6"/>
<circle class="c15" r="1.15" cx="460.2" cy="188"/>
<circle class="c15" r="1.15" cx="465.1" cy="185.4"/>
<circle class="c15" r="1.15" cx="458.1" cy="188.8"/>
<circle class="c15" r="1.15" cx="465.2" cy="185.3"/>
<circle class="c15" r="1.15" cx="457.7" cy="186.6"/>
<circle class="c15" r="1.15" cx="464.8" cy="172.8"/>
<circle class="c15" r="1.15" cx="459.9" cy="176"/>
<circle class="c15" r="1.15" cx="461" cy="169.5"/>
<circle class="c15" r="1.15" cx="458.9" cy="174.5"/>
<circle class="c15" r="1.15" cx="462.8" cy="191.6"/>
<circle class="c13" r="0.85" cx="458.1" cy="180.4"/>
<circle class="c15" r="1.15" cx="462.6" cy="167.8"/>
<circle class="c15" r="1.15" cx="464" cy="169"/>
<circle class="c15" r="1.15" cx="463.8" cy="175.4"/>
<circle class="c15" r="1.15" cx="461.2" cy="183.7"/>
<circle class="c15" r="1.15" cx="458.6" cy="183.1"/>
<circle class="c15" r="1.15" cx="462.8" cy="179.7"/>
<circle class="c15" r="1.15" cx="459.3" cy="169.9"/>
<circle class="c15" r="1.15" cx="457.3" cy="185.2"/>
<circle class="c15" r="1.15" cx="461.1" cy="170.7"/>
<circle class="c15" r="1.15" cx="462.4" cy="168.8"/>
<circle class="c15" r="1.15" cx="457.9" cy="174.3"/>
<circle class="c15" r="1.15" cx="463.3" cy="183.1"/>
<circle class="c15" r="1.15" cx="458.3" cy="181.1"/>
<circle class="c15" r="1.15" cx="460.7" cy="174"/>
<circle class="c15" r="1.15" cx="459.9" cy="186.6"/>
<circle class="c15" r="1.15" cx="464.2" cy="175.3"/>
<circle class="c21" r="1.15" cx="464.5" cy="167"/>
<circle class="c15" r="1.15" cx="465" cy="171.6"/>
<circle class="c15" r="1.15" cx="465" cy="172.1"/>
<circle class="c15" r="1.15" cx="457.2" cy="178"/>
<circle class="c15" r="1.15" cx="460.4" cy="172.5"/>
<circle class="c15" r="1.15" cx="457" cy="183.4"/>
<circle class="c15" r="1.15" cx="465.2" cy="183"/>
<circle class="c15" r="1.15" cx="459.4" cy="190.2"/>
<circle class="c21" r="1.15" cx="458.3" cy="188.9"/>
<circle class="c15" r="1.15" cx="464.5" cy="188.6"/>
<circle class="c15" r="1.15" cx="458.3" cy="185.3"/>
<circle class="c15" r="1.15" cx="462.6" cy="177.4"/>
<circle class="c15" r="1.15" cx="461" cy="170.7"/>
<circle class="c21" r="1.15" cx="460.6" cy="180.9"/>
<circle class="c15" r="1.15" cx="463.8" cy="183.3"/>
<circle class="c21" r="1.15" cx="462.5" cy="182.6"/>
<circle class="c15" r="1.15" cx="463.6" cy="182.4"/>
<circle class="c15" r="1.15" cx="464.4" cy="179.7"/>
<circle class="c13" r="0.85" cx="458.9" cy="183.6"/>
<circle class="c15" r="1.15" cx="464.1" cy="181.2"/>
<circle class="c15" r="1.15" cx="462.7" cy="172.4"/>
<circle class="c15" r="1.15" cx="462.2" cy="163.8"/>
<circle class="c15" r="1.15" cx="461.5" cy="186.5"/>
<circle class="c15" r="1.15" cx="461.4" cy="180.1"/>
<circle class="c15" r="1.15" cx="462.7" cy="200"/>
<circle class="c15" r="1.15" cx="464.8" cy="174.9"/>
<circle class="c13" r="0.85" cx="457.7" cy="196.9"/>
<circle class="c15" r="1.15" cx="458.9" cy="186"/>
<circle class="c15" r="1.15" cx="458.1" cy="161.2"/>
<circle class="c21" r="1.15" cx="461" cy="183"/>
<circle class="c15" r="1.15" cx="459.7" cy="198.8"/>
<circle class="c15" r="1.15" cx="460.6" cy="180.6"/>
<circle class="c13" r="0.85" cx="459.8" cy="191.3"/>
<circle class="c15" r="1.15" cx="460.7" cy="176"/>
<circle class="c15" r="1.15" cx="456.9" cy="179.5"/>
<circle class="c15" r="1.15" cx="460.8" cy="191.4"/>
<circle class="c15" r="1.15" cx="459.2" cy="179.4"/>
<circle class="c15" r="1.15" cx="459.2" cy="175.4"/>
<circle class="c15" r="1.15" cx="461.7" cy="175.7"/>
<circle class="c15" r="1.15" cx="465" cy="175.8"/>
<circle class="c15" r="1.15" cx="459.8" cy="195"/>
<circle class="c15" r="1.15" cx="457.9" cy="178.6"/>
<circle class="c15" r="1.15" cx="461.9" cy="176.9"/>
<circle class="c15" r="1.15" cx="458.6" cy="180.9"/>
<circle class="c15" r="1.15" cx="459.1" cy="189"/>
<circle class="c15" r="1.15" cx="458" cy="185.6"/>
<circle class="c21" r="1.15" cx="463.8" cy="179.4"/>
<circle class="c13" r="0.85" cx="457.4" cy="174.4"/>
<circle class="c15" r="1.15" cx="461.3" cy="172.4"/>
<circle class="c15" r="1.15" cx="464.2" cy="177.8"/>
<circle class="c15" r="1.15" cx="463.8" cy="184.7"/>
<circle class="c13" r="0.85" cx="457.7" cy="185.8"/>
<circle class="c15" r="1.15" cx="459.1" cy="200"/>
<circle class="c15" r="1.15" cx="457.2" cy="179.6"/>
<circle class="c15" r="1.15" cx="458.1" cy="186.7"/>
<circle class="c15" r="1.15" cx="459.6" cy="191.7"/>
<circle class="c15" r="1.15" cx="465" cy="190.3"/>
<circle class="c15" r="1.15" cx="458.7" cy="178"/>
<circle class="c15" r="1.15" cx="458" cy="186.7"/>
<circle class="c15" r="1.15" cx="459.3" cy="168.4"/>
<circle class="c15" r="1.15" cx="458.3" cy="194.9"/>
<circle class="c15" r="1.15" cx="459" cy="169.8"/>
<circle class="c15" r="1.15" cx="463.2" cy="192.4"/>
<circle class="c15" r="1.15" cx="460.8" cy="178.5"/>
<circle class="c15" r="1.15" cx="464.2" cy="184.3"/>
<circle class="c15" r="1.15" cx="460.7" cy="170.4"/>
<circle class="c15" r="1.15" cx="459.4" cy="188.3"/>
<circle class="c15" r="1.15" cx="461.1" cy="188.7"/>
<circle class="c15" r="1.15" cx="462.3" cy="177.3"/>
<circle class="c15" r="1.15" cx="464.5" cy="172.9"/>
<circle class="c13" r="0.85" cx="464" cy="184.4"/>
<circle class="c13" r="0.85" cx="463.6" cy="176.2"/>
<circle class="c15" r="1.15" cx="458.2" cy="176"/>
<circle class="c15" r="1.15" cx="458" cy="176.9"/>
<circle class="c15" r="1.15" cx="460.1" cy="185.8"/>
<circle class="c15" r="1.15" cx="462.3" cy="183.7"/>
<circle class="c15" r="1.15" cx="458.4" cy="182.3"/>
<circle class="c15" r="1.15" cx="461.9" cy="179.6"/>
<circle class="c15" r="1.15" cx="462.2" cy="186.6"/>
<circle class="c15" r="1.15" cx="458.1" cy="176.2"/>
<circle class="c15" r="1.15" cx="461.2" cy="170.9"/>
<circle class="c15" r="1.15" cx="458.5" cy="184.8"/>
<circle class="c15" r="1.15" cx="464.3" cy="192.7"/>
<circle class="c15" r="1.15" cx="458.6" cy="188.1"/>
<circle class="c15" r="1.15" cx="458.9" cy="186.4"/>
<circle class="c15" r="1.15" cx="461.7" cy="182.1"/>
<circle class="c15" r="1.15" cx="463.1" cy="186"/>
<circle class="c15" r="1.15" cx="459.9" cy="189"/>
<circle class="c13" r="0.85" cx="461.9" cy="182.7"/>
<circle class="c15" r="1.15" cx="463.6" cy="179.2"/>
<circle class="c15" r="1.15" cx="464.7" cy="183.2"/>
<circle class="c15" r="1.15" cx="461.7" cy="182"/>
<circle class="c15" r="1.15" cx="462.9" cy="178.3"/>
<circle class="c15" r="1.15" cx="460.4" cy="183.5"/>
<circle class="c15" r="1.15" cx="459.6" cy="187.1"/>
<circle class="c15" r="1.15" cx="460.6" cy="178.5"/>
<circle class="c15" r="1.15" cx="459.2" cy="179.1"/>
<circle class="c15" r="1.15" cx="461.7" cy="182.9"/>
<circle class="c16" r="1.15" cx="458" cy="251.6"/>
<circle class="c15" r="1.15" cx="459.5" cy="205"/>
<circle class="c15" r="1.15" cx="460" cy="207.5"/>
<circle class="c22" r="1.15" cx="461.5" cy="198.5"/>
<circle class="c22" r="1.15" cx="463.5" cy="179"/>
<circle class="c22" r="1.15" cx="464" cy="181"/>
<circle class="c11" r="0.9" cx="457" cy="166.5"/>
<text x="461.8" y="271.2" font-size="4.7" fill="#111" font-weight="bold" stroke="#111" stroke-width="0.16" text-anchor="middle" textLength="16.6" lengthAdjust="spacingAndGlyphs">Diploid</text>
<line x1="492.3" y1="264" x2="492.3" y2="265.2" stroke="#8a8a8a" stroke-width="0.4"/>
<line x1="492.3" y1="167.1" x2="492.3" y2="174.7" stroke="#d0d0d0" stroke-width="0.4"/>
<line x1="492.3" y1="184.9" x2="492.3" y2="201.9" stroke="#d0d0d0" stroke-width="0.4"/>
<line x1="482.1" y1="167.1" x2="502.5" y2="167.1" stroke="#d4d4d4" stroke-width="0.5"/>
<line x1="482.1" y1="201.9" x2="502.5" y2="201.9" stroke="#d4d4d4" stroke-width="0.5"/>
<rect x="482.1" y="174.7" width="20.4" height="10.2" fill="#ededed" stroke="none" stroke-width="0.4"/>
<line x1="482.1" y1="179.8" x2="502.5" y2="179.8" stroke="#d2d2d2" stroke-width="0.5" stroke-dasharray="1.2 0.8"/>
<circle class="c23" r="1.05" cx="490.2" cy="181.9"/>
<circle class="c23" r="1.05" cx="489.2" cy="169.8"/>
<circle class="c23" r="1.05" cx="490.1" cy="180.8"/>
<circle class="c23" r="1.05" cx="489.2" cy="190"/>
<circle class="c23" r="1.05" cx="492.3" cy="176"/>
<circle class="c23" r="1.05" cx="493.6" cy="172.2"/>
<circle class="c23" r="1.05" cx="492.9" cy="177.8"/>
<circle class="c23" r="1.05" cx="495" cy="168.9"/>
<circle class="c23" r="1.05" cx="493.3" cy="188.7"/>
<circle class="c23" r="1.05" cx="494" cy="182.3"/>
<circle class="c23" r="1.05" cx="494.4" cy="177.3"/>
<circle class="c23" r="1.05" cx="489.4" cy="171.2"/>
<circle class="c23" r="1.05" cx="493.3" cy="169.4"/>
<circle class="c23" r="1.05" cx="491.5" cy="177"/>
<circle class="c23" r="1.05" cx="492.8" cy="174.2"/>
<circle class="c23" r="1.05" cx="494.2" cy="176.5"/>
<circle class="c23" r="1.05" cx="492.4" cy="188.2"/>
<circle class="c23" r="1.05" cx="491" cy="177"/>
<circle class="c23" r="1.05" cx="491.8" cy="181"/>
<circle class="c23" r="1.05" cx="493.7" cy="177.8"/>
<circle class="c23" r="1.05" cx="495.3" cy="176.8"/>
<circle class="c23" r="1.05" cx="493.2" cy="175.3"/>
<circle class="c11" r="0.9" cx="489.5" cy="179.3"/>
<circle class="c11" r="0.9" cx="493.2" cy="185.3"/>
<circle class="c23" r="1.05" cx="492" cy="201.9"/>
<text x="493.5" y="271.2" font-size="4.7" fill="#111" font-weight="bold" stroke="#111" stroke-width="0.16" text-anchor="middle" textLength="10.4" lengthAdjust="spacingAndGlyphs">Gain</text>
<text x="354.3" y="145.8" font-size="11.5" fill="#000" font-weight="bold" stroke="#000" stroke-width="0.4" textLength="6.9" lengthAdjust="spacingAndGlyphs">F</text>
<text x="399.4" y="150" font-size="6.1" fill="#111" font-weight="bold" stroke="#111" stroke-width="0.21" textLength="40" lengthAdjust="spacingAndGlyphs">Cervical SCC</text>
<text x="400" y="286.4" font-size="4.9" fill="#111" font-weight="bold" stroke="#111" stroke-width="0.17" textLength="77" lengthAdjust="spacingAndGlyphs">FAT1 copy-number alterations</text>
<text x="0" y="0" font-size="4.8" fill="#111" font-weight="bold" stroke="#111" stroke-width="0.17" textLength="83" lengthAdjust="spacingAndGlyphs" transform="translate(371.3 242.2) rotate(-90)">FAT1 mRNA expression (RSEM log<tspan font-size="70%" dy="0.8">2</tspan><tspan dy="-0.8">)</tspan></text>
<text x="27" y="295" font-size="5.4" fill="#111" font-weight="bold" stroke="#111" stroke-width="0.19" textLength="12.2" lengthAdjust="spacingAndGlyphs">FAT1</text>
<circle class="c26" r="0.75" cx="22.1" cy="300.7"/>
<text x="27" y="302.3" font-size="4.5" fill="#222" stroke="#222" stroke-width="0.08">Fusion</text>
<circle class="c27" r="0.75" cx="22.1" cy="309.6"/>
<text x="27" y="311.2" font-size="4.5" fill="#222" stroke="#222" stroke-width="0.08">Missense (VUS)</text>
<circle class="c28" r="0.95" cx="22.1" cy="318.6"/>
<text x="27" y="320.2" font-size="4.5" fill="#222" stroke="#222" stroke-width="0.08">Amplification</text>
<circle class="c29" r="0.95" cx="22.1" cy="327.4"/>
<text x="27" y="329" font-size="4.5" fill="#222" stroke="#222" stroke-width="0.08">Shallow deletion</text>
<circle class="c30" r="0.75" cx="82.7" cy="300.7"/>
<text x="87.8" y="302.3" font-size="4.5" fill="#222" stroke="#222" stroke-width="0.08">Truncating (driver)</text>
<circle class="c31" r="0.95" cx="82.7" cy="309.6"/>
<text x="87.8" y="311.2" font-size="4.5" fill="#222" stroke="#222" stroke-width="0.08">Not mutated</text>
<circle class="c32" r="0.95" cx="82.7" cy="318.6"/>
<text x="87.8" y="320.2" font-size="4.5" fill="#222" stroke="#222" stroke-width="0.08">Gain</text>
<circle class="c33" r="0.95" cx="82.7" cy="327.4"/>
<text x="87.8" y="329" font-size="4.5" fill="#222" stroke="#222" stroke-width="0.08">Deep deletion</text>
<circle class="c34" r="0.75" cx="151.1" cy="300.7"/>
<text x="156.1" y="302.3" font-size="4.5" fill="#222" stroke="#222" stroke-width="0.08">Inframe (VUS)</text>
<circle class="c35" r="0.95" cx="151.1" cy="309.6"/>
<text x="156.1" y="311.2" font-size="4.5" fill="#222" stroke="#222" stroke-width="0.08">Not profiled for mutations</text>
<circle class="c36" r="0.95" cx="151.1" cy="318.6"/>
<text x="156.1" y="320.2" font-size="4.5" fill="#222" stroke="#222" stroke-width="0.08">Diploid</text>
<line x1="36.2" y1="348.8" x2="36.2" y2="426.5" stroke="#f5f5f5" stroke-width="0.5"/>
<line x1="54.78" y1="348.8" x2="54.78" y2="426.5" stroke="#f5f5f5" stroke-width="0.5"/>
<line x1="73.36" y1="348.8" x2="73.36" y2="426.5" stroke="#f5f5f5" stroke-width="0.5"/>
<line x1="91.94" y1="348.8" x2="91.94" y2="426.5" stroke="#f5f5f5" stroke-width="0.5"/>
<line x1="110.52" y1="348.8" x2="110.52" y2="426.5" stroke="#f5f5f5" stroke-width="0.5"/>
<line x1="129.1" y1="348.8" x2="129.1" y2="426.5" stroke="#f5f5f5" stroke-width="0.5"/>
<line x1="147.68" y1="348.8" x2="147.68" y2="426.5" stroke="#f5f5f5" stroke-width="0.5"/>
<line x1="166.26" y1="348.8" x2="166.26" y2="426.5" stroke="#f5f5f5" stroke-width="0.5"/>
<line x1="20.5" y1="366" x2="168" y2="366" stroke="#f5f5f5" stroke-width="0.5"/>
<line x1="20.5" y1="406.4" x2="168" y2="406.4" stroke="#f5f5f5" stroke-width="0.5"/>
<line x1="20.5" y1="345.8" x2="20.5" y2="426.5" stroke="#8a8a8a" stroke-width="0.6"/>
<line x1="20.5" y1="426.5" x2="168" y2="426.5" stroke="#8a8a8a" stroke-width="0.6"/>
<line x1="36.2" y1="426.5" x2="36.2" y2="427.8" stroke="#8a8a8a" stroke-width="0.4"/>
<text x="36.2" y="432.8" font-size="4.5" fill="#222" text-anchor="middle" stroke="#222" stroke-width="0.16">0</text>
<line x1="54.78" y1="426.5" x2="54.78" y2="427.8" stroke="#8a8a8a" stroke-width="0.4"/>
<text x="54.78" y="432.8" font-size="4.5" fill="#222" text-anchor="middle" stroke="#222" stroke-width="0.16">2</text>
<line x1="73.36" y1="426.5" x2="73.36" y2="427.8" stroke="#8a8a8a" stroke-width="0.4"/>
<text x="73.36" y="432.8" font-size="4.5" fill="#222" text-anchor="middle" stroke="#222" stroke-width="0.16">4</text>
<line x1="91.94" y1="426.5" x2="91.94" y2="427.8" stroke="#8a8a8a" stroke-width="0.4"/>
<text x="91.94" y="432.8" font-size="4.5" fill="#222" text-anchor="middle" stroke="#222" stroke-width="0.16">6</text>
<line x1="110.52" y1="426.5" x2="110.52" y2="427.8" stroke="#8a8a8a" stroke-width="0.4"/>
<text x="110.52" y="432.8" font-size="4.5" fill="#222" text-anchor="middle" stroke="#222" stroke-width="0.16">8</text>
<line x1="129.1" y1="426.5" x2="129.1" y2="427.8" stroke="#8a8a8a" stroke-width="0.4"/>
<text x="129.1" y="432.8" font-size="4.5" fill="#222" text-anchor="middle" stroke="#222" stroke-width="0.16">10</text>
<line x1="147.68" y1="426.5" x2="147.68" y2="427.8" stroke="#8a8a8a" stroke-width="0.4"/>
<text x="147.68" y="432.8" font-size="4.5" fill="#222" text-anchor="middle" stroke="#222" stroke-width="0.16">12</text>
<line x1="166.26" y1="426.5" x2="166.26" y2="427.8" stroke="#8a8a8a" stroke-width="0.4"/>
<text x="166.26" y="432.8" font-size="4.5" fill="#222" text-anchor="middle" stroke="#222" stroke-width="0.16">14</text>
<line x1="19.2" y1="366" x2="20.5" y2="366" stroke="#8a8a8a" stroke-width="0.4"/>
<text x="0" y="0" font-size="5.8" fill="#111" text-anchor="middle" transform="translate(16.2 367) rotate(-90)" stroke="#111" stroke-width="0.18">Unaltered</text>
<line x1="71.97" y1="366" x2="91.01" y2="366" stroke="#e4d8c8" stroke-width="0.4"/>
<line x1="102.62" y1="366" x2="121.67" y2="366" stroke="#e4d8c8" stroke-width="0.4"/>
<line x1="71.97" y1="356.5" x2="71.97" y2="375.5" stroke="#dccdb8" stroke-width="0.5"/>
<line x1="121.67" y1="356.5" x2="121.67" y2="375.5" stroke="#dccdb8" stroke-width="0.5"/>
<rect x="91.01" y="357.1" width="11.61" height="17.8" fill="#f6f6f6" stroke="#cccccc" stroke-width="0.4" stroke-dasharray="0.7 0.7"/>
<line x1="96.58" y1="357.1" x2="96.58" y2="374.9" stroke="#c8c8c8" stroke-width="0.4" stroke-dasharray="0.7 0.7"/>
<circle class="c37" r="1.35" cx="101.6" cy="364.5"/>
<circle class="c37" r="1.35" cx="117.1" cy="367"/>
<circle class="c37" r="1.35" cx="96.8" cy="360.5"/>
<circle class="c37" r="1.35" cx="96.8" cy="369.8"/>
<circle class="c37" r="1.35" cx="99.7" cy="371.6"/>
<circle class="c37" r="1.35" cx="110.1" cy="365.7"/>
<circle class="c37" r="1.35" cx="108.2" cy="367.5"/>
<circle class="c37" r="1.35" cx="87.2" cy="362.4"/>
<circle class="c37" r="1.35" cx="82.4" cy="366.2"/>
<circle class="c37" r="1.35" cx="80" cy="368.2"/>
<circle class="c37" r="1.35" cx="98" cy="368.9"/>
<circle class="c37" r="1.35" cx="96" cy="367"/>
<circle class="c37" r="1.35" cx="99.2" cy="370.2"/>
<circle class="c37" r="1.35" cx="103.5" cy="365.7"/>
<circle class="c37" r="1.35" cx="94.9" cy="368.4"/>
<circle class="c37" r="1.35" cx="112.2" cy="369.2"/>
<circle class="c37" r="1.35" cx="93.9" cy="365.4"/>
<circle class="c37" r="1.35" cx="89.4" cy="361.7"/>
<circle class="c37" r="1.35" cx="106.5" cy="371.2"/>
<circle class="c37" r="1.35" cx="107.4" cy="365.3"/>
<circle class="c37" r="1.35" cx="92.3" cy="366.1"/>
<circle class="c37" r="1.35" cx="92.2" cy="364.8"/>
<circle class="c37" r="1.35" cx="89.7" cy="366.9"/>
<circle class="c37" r="1.35" cx="114.7" cy="370.1"/>
<circle class="c37" r="1.35" cx="87.5" cy="369.7"/>
<circle class="c37" r="1.35" cx="120.4" cy="362.9"/>
<circle class="c37" r="1.35" cx="99.2" cy="370.1"/>
<circle class="c37" r="1.35" cx="93.9" cy="366.8"/>
<circle class="c37" r="1.35" cx="98.2" cy="369.8"/>
<circle class="c37" r="1.35" cx="91.3" cy="366.8"/>
<circle class="c37" r="1.35" cx="99.2" cy="370"/>
<circle class="c37" r="1.35" cx="105.1" cy="371.5"/>
<circle class="c37" r="1.35" cx="120.8" cy="365.2"/>
<circle class="c37" r="1.35" cx="113.1" cy="362.4"/>
<circle class="c37" r="1.35" cx="94" cy="370.1"/>
<circle class="c37" r="1.35" cx="122.5" cy="361.9"/>
<circle class="c37" r="1.35" cx="97.2" cy="368.5"/>
<circle class="c37" r="1.35" cx="97.6" cy="364.1"/>
<circle class="c37" r="1.35" cx="98.6" cy="363.8"/>
<circle class="c37" r="1.35" cx="116.4" cy="361.4"/>
<circle class="c37" r="1.35" cx="108.8" cy="362.7"/>
<circle class="c37" r="1.35" cx="84.8" cy="362.6"/>
<circle class="c37" r="1.35" cx="110.4" cy="361.1"/>
<circle class="c37" r="1.35" cx="108.2" cy="371"/>
<circle class="c37" r="1.35" cx="91.7" cy="370.3"/>
<circle class="c37" r="1.35" cx="89.5" cy="366.2"/>
<circle class="c37" r="1.35" cx="110.7" cy="367.5"/>
<circle class="c37" r="1.35" cx="86.1" cy="367.2"/>
<circle class="c37" r="1.35" cx="90.6" cy="370.7"/>
<circle class="c37" r="1.35" cx="86" cy="368.2"/>
<circle class="c37" r="1.35" cx="99.7" cy="363"/>
<circle class="c37" r="1.35" cx="88.6" cy="366.2"/>
<circle class="c37" r="1.35" cx="98.3" cy="365"/>
<circle class="c37" r="1.35" cx="99.7" cy="366.9"/>
<circle class="c37" r="1.35" cx="118.8" cy="367.3"/>
<circle class="c37" r="1.35" cx="102.6" cy="361"/>
<circle class="c37" r="1.35" cx="89.8" cy="367.9"/>
<circle class="c37" r="1.35" cx="89.5" cy="364.4"/>
<circle class="c37" r="1.35" cx="94.4" cy="360.7"/>
<circle class="c37" r="1.35" cx="79.1" cy="362"/>
<circle class="c37" r="1.35" cx="84.8" cy="363.5"/>
<circle class="c37" r="1.35" cx="82.9" cy="364.3"/>
<circle class="c37" r="1.35" cx="105.2" cy="364.5"/>
<circle class="c37" r="1.35" cx="95.3" cy="367.1"/>
<circle class="c37" r="1.35" cx="112.2" cy="363.9"/>
<circle class="c37" r="1.35" cx="83.7" cy="361.4"/>
<circle class="c37" r="1.35" cx="116.5" cy="366.7"/>
<circle class="c37" r="1.35" cx="99.2" cy="362.8"/>
<circle class="c37" r="1.35" cx="88.7" cy="369.2"/>
<circle class="c37" r="1.35" cx="100.9" cy="365.3"/>
<circle class="c37" r="1.35" cx="109" cy="368.2"/>
<circle class="c37" r="1.35" cx="109.8" cy="364.2"/>
<circle class="c37" r="1.35" cx="107.4" cy="369.7"/>
<circle class="c37" r="1.35" cx="110.3" cy="362.4"/>
<circle class="c37" r="1.35" cx="90.2" cy="370.1"/>
<circle class="c37" r="1.35" cx="117" cy="365.5"/>
<circle class="c37" r="1.35" cx="101.4" cy="366.3"/>
<circle class="c37" r="1.35" cx="107.1" cy="362.6"/>
<circle class="c37" r="1.35" cx="109.3" cy="362.6"/>
<circle class="c37" r="1.35" cx="95.9" cy="367.6"/>
<circle class="c37" r="1.35" cx="124.4" cy="368.7"/>
<circle class="c37" r="1.35" cx="96.3" cy="363.7"/>
<circle class="c37" r="1.35" cx="106.2" cy="369.3"/>
<circle class="c37" r="1.35" cx="98.7" cy="365.1"/>
<circle class="c37" r="1.35" cx="112.6" cy="365.2"/>
<circle class="c37" r="1.35" cx="116.6" cy="362.6"/>
<circle class="c37" r="1.35" cx="101.2" cy="370.3"/>
<circle class="c37" r="1.35" cx="114.6" cy="370.6"/>
<circle class="c37" r="1.35" cx="99.1" cy="370.9"/>
<circle class="c37" r="1.35" cx="104.2" cy="369.8"/>
<circle class="c37" r="1.35" cx="122.2" cy="367.5"/>
<circle class="c37" r="1.35" cx="89.3" cy="364.3"/>
<circle class="c37" r="1.35" cx="99" cy="362.9"/>
<circle class="c37" r="1.35" cx="116.6" cy="363.9"/>
<circle class="c37" r="1.35" cx="107.7" cy="369.4"/>
<circle class="c37" r="1.35" cx="108.4" cy="368.1"/>
<circle class="c37" r="1.35" cx="87.1" cy="370.1"/>
<circle class="c37" r="1.35" cx="98.4" cy="368.8"/>
<circle class="c37" r="1.35" cx="99.3" cy="362.3"/>
<circle class="c37" r="1.35" cx="94.2" cy="366.3"/>
<circle class="c37" r="1.35" cx="119.2" cy="365.2"/>
<circle class="c37" r="1.35" cx="117.5" cy="364.5"/>
<circle class="c37" r="1.35" cx="93.4" cy="363.3"/>
<circle class="c37" r="1.35" cx="110.2" cy="369"/>
<circle class="c37" r="1.35" cx="88.6" cy="364.4"/>
<circle class="c37" r="1.35" cx="105.7" cy="369.5"/>
<circle class="c37" r="1.35" cx="116.1" cy="362.7"/>
<circle class="c37" r="1.35" cx="108.2" cy="369.4"/>
<circle class="c37" r="1.35" cx="101" cy="367.5"/>
<circle class="c37" r="1.35" cx="98.8" cy="370.1"/>
<circle class="c37" r="1.35" cx="110.5" cy="363.5"/>
<circle class="c37" r="1.35" cx="103.6" cy="366.3"/>
<circle class="c37" r="1.35" cx="86.8" cy="368.8"/>
<circle class="c37" r="1.35" cx="107.4" cy="360.5"/>
<circle class="c37" r="1.35" cx="106.9" cy="361.8"/>
<circle class="c37" r="1.35" cx="102.7" cy="361.1"/>
<circle class="c37" r="1.35" cx="96.1" cy="361.3"/>
<circle class="c37" r="1.35" cx="88.6" cy="364"/>
<circle class="c37" r="1.35" cx="100.1" cy="364.3"/>
<circle class="c37" r="1.35" cx="89.5" cy="364.5"/>
<circle class="c37" r="1.35" cx="86" cy="362.9"/>
<circle class="c37" r="1.35" cx="97" cy="366.6"/>
<circle class="c37" r="1.35" cx="106.4" cy="368.4"/>
<circle class="c37" r="1.35" cx="96.3" cy="362.4"/>
<circle class="c37" r="1.35" cx="104.1" cy="364.6"/>
<circle class="c37" r="1.35" cx="81.7" cy="364.9"/>
<circle class="c37" r="1.35" cx="85.9" cy="369.1"/>
<circle class="c37" r="1.35" cx="90" cy="364.6"/>
<circle class="c37" r="1.35" cx="90.3" cy="366"/>
<circle class="c37" r="1.35" cx="96.2" cy="368.2"/>
<circle class="c37" r="1.35" cx="86.8" cy="365.6"/>
<circle class="c37" r="1.35" cx="100.8" cy="368.2"/>
<circle class="c37" r="1.35" cx="117" cy="361.8"/>
<circle class="c37" r="1.35" cx="87.7" cy="369.9"/>
<circle class="c37" r="1.35" cx="106.8" cy="370.9"/>
<circle class="c37" r="1.35" cx="80.1" cy="368.7"/>
<circle class="c37" r="1.35" cx="120.7" cy="363.8"/>
<circle class="c37" r="1.35" cx="93.6" cy="369.5"/>
<circle class="c37" r="1.35" cx="101.8" cy="367.8"/>
<circle class="c37" r="1.35" cx="118.5" cy="367.6"/>
<circle class="c37" r="1.35" cx="84.8" cy="368.3"/>
<circle class="c37" r="1.35" cx="94.5" cy="367"/>
<circle class="c37" r="1.35" cx="97.8" cy="360.4"/>
<circle class="c37" r="1.35" cx="114.7" cy="361.4"/>
<circle class="c37" r="1.35" cx="118.5" cy="362.1"/>
<circle class="c37" r="1.35" cx="122.8" cy="363.1"/>
<circle class="c37" r="1.35" cx="116.5" cy="361.3"/>
<circle class="c37" r="1.35" cx="104" cy="369.9"/>
<circle class="c37" r="1.35" cx="94.6" cy="367.9"/>
<circle class="c37" r="1.35" cx="117.4" cy="366.8"/>
<circle class="c37" r="1.35" cx="101.4" cy="369"/>
<circle class="c37" r="1.35" cx="96.8" cy="366.1"/>
<circle class="c37" r="1.35" cx="98.9" cy="368.8"/>
<circle class="c37" r="1.35" cx="94.1" cy="370.8"/>
<circle class="c37" r="1.35" cx="111.4" cy="366.7"/>
<circle class="c37" r="1.35" cx="104.8" cy="369.7"/>
<circle class="c37" r="1.35" cx="100.7" cy="363.1"/>
<circle class="c37" r="1.35" cx="108.8" cy="367.3"/>
<circle class="c37" r="1.35" cx="100.6" cy="364.5"/>
<circle class="c37" r="1.35" cx="86.8" cy="364.9"/>
<circle class="c37" r="1.35" cx="92" cy="361.4"/>
<circle class="c37" r="1.35" cx="111.6" cy="366"/>
<circle class="c37" r="1.35" cx="114" cy="368.5"/>
<circle class="c37" r="1.35" cx="98" cy="362.1"/>
<circle class="c37" r="1.35" cx="92.1" cy="367.9"/>
<circle class="c37" r="1.35" cx="79.2" cy="366.2"/>
<circle class="c37" r="1.35" cx="81.1" cy="369.7"/>
<circle class="c37" r="1.35" cx="102.3" cy="362"/>
<circle class="c37" r="1.35" cx="118.7" cy="370"/>
<circle class="c37" r="1.35" cx="113" cy="366.2"/>
<circle class="c37" r="1.35" cx="80.2" cy="363.1"/>
<circle class="c37" r="1.35" cx="107.8" cy="363.4"/>
<circle class="c37" r="1.35" cx="105.9" cy="363.9"/>
<circle class="c37" r="1.35" cx="117.3" cy="363.4"/>
<circle class="c37" r="1.35" cx="88.2" cy="363.9"/>
<circle class="c37" r="1.35" cx="96.4" cy="370"/>
<circle class="c37" r="1.35" cx="86.9" cy="366.9"/>
<circle class="c37" r="1.35" cx="99.3" cy="360.6"/>
<circle class="c37" r="1.35" cx="109.7" cy="365.8"/>
<circle class="c37" r="1.35" cx="94.2" cy="364.4"/>
<circle class="c37" r="1.35" cx="105.9" cy="364"/>
<circle class="c37" r="1.35" cx="101.4" cy="371.6"/>
<circle class="c37" r="1.35" cx="92.9" cy="365.8"/>
<circle class="c37" r="1.35" cx="88" cy="369.5"/>
<circle class="c37" r="1.35" cx="91.5" cy="369.5"/>
<circle class="c37" r="1.35" cx="85.8" cy="368.2"/>
<circle class="c37" r="1.35" cx="94.9" cy="370"/>
<circle class="c37" r="1.35" cx="82.6" cy="370.4"/>
<circle class="c37" r="1.35" cx="113.1" cy="365.7"/>
<circle class="c37" r="1.35" cx="101.6" cy="368.5"/>
<circle class="c37" r="1.35" cx="110.1" cy="367.9"/>
<circle class="c37" r="1.35" cx="93.5" cy="363.1"/>
<circle class="c37" r="1.35" cx="104.2" cy="362.5"/>
<circle class="c37" r="1.35" cx="110" cy="368.2"/>
<circle class="c37" r="1.35" cx="118.5" cy="363.7"/>
<circle class="c37" r="1.35" cx="108" cy="365.2"/>
<circle class="c37" r="1.35" cx="91.5" cy="368.5"/>
<circle class="c37" r="1.35" cx="105.4" cy="369.7"/>
<circle class="c37" r="1.35" cx="103.4" cy="363.6"/>
<circle class="c37" r="1.35" cx="89.3" cy="367.9"/>
<circle class="c37" r="1.35" cx="114.2" cy="361"/>
<circle class="c37" r="1.35" cx="93" cy="365.8"/>
<circle class="c37" r="1.35" cx="112.7" cy="363"/>
<circle class="c37" r="1.35" cx="83.2" cy="364.9"/>
<circle class="c37" r="1.35" cx="93.8" cy="363.5"/>
<circle class="c37" r="1.35" cx="98.4" cy="367.9"/>
<circle class="c37" r="1.35" cx="121.7" cy="369.7"/>
<circle class="c37" r="1.35" cx="118.6" cy="362.1"/>
<circle class="c37" r="1.35" cx="112.5" cy="368.8"/>
<circle class="c37" r="1.35" cx="95.6" cy="368.9"/>
<circle class="c37" r="1.35" cx="94.6" cy="367.7"/>
<circle class="c37" r="1.35" cx="119.7" cy="368.9"/>
<circle class="c37" r="1.35" cx="98.1" cy="371.2"/>
<circle class="c37" r="1.35" cx="122.8" cy="367.5"/>
<circle class="c37" r="1.35" cx="93.9" cy="365.9"/>
<circle class="c37" r="1.35" cx="98.8" cy="364.3"/>
<circle class="c37" r="1.35" cx="96.3" cy="366.7"/>
<circle class="c37" r="1.35" cx="80.4" cy="363"/>
<circle class="c37" r="1.35" cx="88.7" cy="362.6"/>
<circle class="c37" r="1.35" cx="85.2" cy="369.9"/>
<circle class="c37" r="1.35" cx="96.4" cy="370.9"/>
<circle class="c37" r="1.35" cx="94.6" cy="362"/>
<circle class="c37" r="1.35" cx="89.8" cy="367"/>
<circle class="c37" r="1.35" cx="119" cy="366.5"/>
<circle class="c37" r="1.35" cx="91.4" cy="364"/>
<circle class="c37" r="1.35" cx="88.4" cy="362.6"/>
<circle class="c37" r="1.35" cx="119.7" cy="368.4"/>
<circle class="c37" r="1.35" cx="109.2" cy="366.5"/>
<circle class="c37" r="1.35" cx="99.5" cy="363.3"/>
<circle class="c37" r="1.35" cx="87.6" cy="364.8"/>
<circle class="c37" r="1.35" cx="103.1" cy="366.1"/>
<circle class="c37" r="1.35" cx="97.5" cy="363.1"/>
<circle class="c37" r="1.35" cx="101.8" cy="364.1"/>
<circle class="c37" r="1.35" cx="87.8" cy="365"/>
<circle class="c37" r="1.35" cx="94.3" cy="364.4"/>
<circle class="c37" r="1.35" cx="104.1" cy="363.4"/>
<circle class="c37" r="1.35" cx="94.9" cy="361.5"/>
<circle class="c37" r="1.35" cx="118.1" cy="368.2"/>
<circle class="c37" r="1.35" cx="115.5" cy="362.8"/>
<circle class="c37" r="1.35" cx="105.5" cy="368.7"/>
<circle class="c37" r="1.35" cx="113.3" cy="369.3"/>
<circle class="c37" r="1.35" cx="100.2" cy="362"/>
<circle class="c37" r="1.35" cx="82.3" cy="365"/>
<circle class="c37" r="1.35" cx="106" cy="366.8"/>
<circle class="c37" r="1.35" cx="115.8" cy="363"/>
<circle class="c37" r="1.35" cx="100.3" cy="360.6"/>
<circle class="c37" r="1.35" cx="123.8" cy="368.7"/>
<circle class="c37" r="1.35" cx="79.5" cy="364.9"/>
<circle class="c37" r="1.35" cx="83.4" cy="367.3"/>
<circle class="c37" r="1.35" cx="94.5" cy="371.3"/>
<circle class="c37" r="1.35" cx="95.9" cy="370.1"/>
<circle class="c37" r="1.35" cx="89.8" cy="365.8"/>
<circle class="c37" r="1.35" cx="82.9" cy="361.2"/>
<circle class="c37" r="1.35" cx="87.4" cy="368.8"/>
<circle class="c37" r="1.35" cx="92.1" cy="366.3"/>
<circle class="c37" r="1.35" cx="87" cy="365.6"/>
<circle class="c37" r="1.35" cx="106.1" cy="360.8"/>
<circle class="c37" r="1.35" cx="115.8" cy="366"/>
<circle class="c37" r="1.35" cx="91.4" cy="366.7"/>
<circle class="c37" r="1.35" cx="88.7" cy="370.8"/>
<circle class="c37" r="1.35" cx="106" cy="369.3"/>
<circle class="c37" r="1.35" cx="95.7" cy="367.4"/>
<circle class="c37" r="1.35" cx="112.4" cy="363.2"/>
<circle class="c37" r="1.35" cx="104.3" cy="361.2"/>
<circle class="c37" r="1.35" cx="92.8" cy="364.1"/>
<circle class="c37" r="1.35" cx="114.6" cy="362.3"/>
<circle class="c37" r="1.35" cx="85.2" cy="369.6"/>
<circle class="c37" r="1.35" cx="82" cy="368.1"/>
<circle class="c37" r="1.35" cx="99.5" cy="369.5"/>
<circle class="c37" r="1.35" cx="88" cy="370.5"/>
<circle class="c37" r="1.35" cx="109.6" cy="368.8"/>
<circle class="c37" r="1.35" cx="89.3" cy="365.8"/>
<circle class="c37" r="1.35" cx="103.4" cy="361.2"/>
<circle class="c37" r="1.35" cx="102.8" cy="362.6"/>
<circle class="c37" r="1.35" cx="108.7" cy="368.2"/>
<circle class="c37" r="1.35" cx="113.7" cy="366.4"/>
<circle class="c37" r="1.35" cx="83.1" cy="364.1"/>
<circle class="c37" r="1.35" cx="109.5" cy="365.6"/>
<circle class="c37" r="1.35" cx="100.9" cy="362.4"/>
<circle class="c37" r="1.35" cx="86.7" cy="370.1"/>
<circle class="c37" r="1.35" cx="97.9" cy="364.5"/>
<circle class="c37" r="1.35" cx="87.7" cy="366.3"/>
<circle class="c37" r="1.35" cx="92.4" cy="360.5"/>
<circle class="c37" r="1.35" cx="94.8" cy="362.7"/>
<circle class="c37" r="1.35" cx="101.9" cy="365.5"/>
<circle class="c37" r="1.35" cx="93" cy="362.6"/>
<circle class="c37" r="1.35" cx="102.4" cy="364.9"/>
<circle class="c37" r="1.35" cx="108.3" cy="362.4"/>
<circle class="c37" r="1.35" cx="106.7" cy="362.3"/>
<circle class="c37" r="1.35" cx="101.4" cy="365.9"/>
<circle class="c37" r="1.35" cx="103" cy="365.4"/>
<circle class="c37" r="1.35" cx="101.4" cy="364.9"/>
<circle class="c37" r="1.35" cx="99" cy="364.9"/>
<circle class="c37" r="1.35" cx="96.1" cy="364.8"/>
<circle class="c37" r="1.35" cx="106.1" cy="362.9"/>
<circle class="c37" r="1.35" cx="113" cy="362.5"/>
<circle class="c37" r="1.35" cx="108.8" cy="367.3"/>
<circle class="c37" r="1.35" cx="96.4" cy="360.9"/>
<circle class="c37" r="1.35" cx="106" cy="368.5"/>
<circle class="c37" r="1.35" cx="96.6" cy="365.6"/>
<circle class="c37" r="1.35" cx="123.7" cy="369.8"/>
<circle class="c37" r="1.35" cx="97.1" cy="363.3"/>
<circle class="c37" r="1.35" cx="110" cy="369.4"/>
<circle class="c37" r="1.35" cx="91.8" cy="361.6"/>
<circle class="c37" r="1.35" cx="91.3" cy="368"/>
<circle class="c37" r="1.35" cx="118" cy="361.2"/>
<circle class="c37" r="1.35" cx="96.8" cy="360.7"/>
<circle class="c37" r="1.35" cx="107.2" cy="360.9"/>
<circle class="c37" r="1.35" cx="104.7" cy="361"/>
<circle class="c37" r="1.35" cx="83.9" cy="363.1"/>
<circle class="c37" r="1.35" cx="115.4" cy="369"/>
<circle class="c37" r="1.35" cx="97.8" cy="370.7"/>
<circle class="c37" r="1.35" cx="103.6" cy="363.8"/>
<circle class="c37" r="1.35" cx="99" cy="367.2"/>
<circle class="c37" r="1.35" cx="105.8" cy="363.7"/>
<circle class="c37" r="1.35" cx="98.4" cy="370"/>
<circle class="c37" r="1.35" cx="110.4" cy="364.2"/>
<circle class="c37" r="1.35" cx="109.1" cy="368"/>
<circle class="c37" r="1.35" cx="107.8" cy="368.6"/>
<circle class="c37" r="1.35" cx="96.7" cy="368.6"/>
<circle class="c37" r="1.35" cx="109.1" cy="370.6"/>
<circle class="c37" r="1.35" cx="85.6" cy="364.6"/>
<circle class="c37" r="1.35" cx="91.9" cy="369.1"/>
<circle class="c37" r="1.35" cx="105.3" cy="365.8"/>
<circle class="c37" r="1.35" cx="99.3" cy="368.5"/>
<circle class="c37" r="1.35" cx="108.5" cy="367.2"/>
<circle class="c37" r="1.35" cx="97" cy="365.9"/>
<circle class="c37" r="1.35" cx="87.4" cy="362.4"/>
<circle class="c37" r="1.35" cx="99.6" cy="365.6"/>
<circle class="c37" r="1.35" cx="97.5" cy="368.9"/>
<circle class="c37" r="1.35" cx="97.6" cy="363"/>
<circle class="c37" r="1.35" cx="94.8" cy="369.8"/>
<circle class="c37" r="1.35" cx="83" cy="369.6"/>
<circle class="c37" r="1.35" cx="78.7" cy="365.5"/>
<circle class="c37" r="1.35" cx="117.8" cy="364.4"/>
<circle class="c37" r="1.35" cx="87.1" cy="364.7"/>
<circle class="c37" r="1.35" cx="112.5" cy="370.8"/>
<circle class="c37" r="1.35" cx="106.3" cy="361.6"/>
<circle class="c37" r="1.35" cx="94.4" cy="361.3"/>
<circle class="c37" r="1.35" cx="97.6" cy="367.7"/>
<circle class="c37" r="1.35" cx="100.6" cy="362"/>
<circle class="c37" r="1.35" cx="104.6" cy="367.6"/>
<circle class="c37" r="1.35" cx="98.5" cy="362.9"/>
<circle class="c37" r="1.35" cx="99.2" cy="371.3"/>
<circle class="c37" r="1.35" cx="103.5" cy="365.1"/>
<circle class="c37" r="1.35" cx="117.3" cy="368.7"/>
<circle class="c37" r="1.35" cx="81.5" cy="366.3"/>
<circle class="c37" r="1.35" cx="85.8" cy="362.8"/>
<circle class="c37" r="1.35" cx="102.7" cy="369.7"/>
<circle class="c37" r="1.35" cx="105.2" cy="361.6"/>
<circle class="c37" r="1.35" cx="105.6" cy="362.6"/>
<circle class="c37" r="1.35" cx="104.8" cy="365.6"/>
<circle class="c37" r="1.35" cx="96.8" cy="362.9"/>
<circle class="c37" r="1.35" cx="109.2" cy="367.5"/>
<circle class="c37" r="1.35" cx="84" cy="368.6"/>
<circle class="c37" r="1.35" cx="108.9" cy="367.1"/>
<circle class="c37" r="1.35" cx="91.3" cy="365.4"/>
<circle class="c37" r="1.35" cx="119.9" cy="366.9"/>
<circle class="c37" r="1.35" cx="116.7" cy="369.1"/>
<circle class="c37" r="1.35" cx="104.9" cy="365.6"/>
<circle class="c37" r="1.35" cx="116.4" cy="368.3"/>
<circle class="c37" r="1.35" cx="111.3" cy="365.8"/>
<circle class="c37" r="1.35" cx="106.1" cy="361.2"/>
<circle class="c37" r="1.35" cx="79.5" cy="365.3"/>
<circle class="c37" r="1.35" cx="93.2" cy="367.6"/>
<circle class="c37" r="1.35" cx="92.9" cy="364.4"/>
<circle class="c37" r="1.35" cx="94.5" cy="371.5"/>
<circle class="c37" r="1.35" cx="93" cy="361.4"/>
<circle class="c37" r="1.35" cx="112.6" cy="363.1"/>
<circle class="c37" r="1.35" cx="116.1" cy="368.2"/>
<circle class="c37" r="1.35" cx="80.1" cy="366.3"/>
<circle class="c37" r="1.35" cx="116.3" cy="370"/>
<circle class="c37" r="1.35" cx="115" cy="368.8"/>
<circle class="c37" r="1.35" cx="95.5" cy="365"/>
<circle class="c37" r="1.35" cx="99.8" cy="363.6"/>
<circle class="c37" r="1.35" cx="108.2" cy="361.6"/>
<circle class="c37" r="1.35" cx="96.8" cy="368.5"/>
<circle class="c37" r="1.35" cx="95.8" cy="367.6"/>
<circle class="c37" r="1.35" cx="116" cy="361.4"/>
<circle class="c37" r="1.35" cx="100" cy="365.2"/>
<circle class="c37" r="1.35" cx="89.5" cy="364.3"/>
<circle class="c37" r="1.35" cx="99.2" cy="363.6"/>
<circle class="c37" r="1.35" cx="109.3" cy="365"/>
<circle class="c37" r="1.35" cx="107.2" cy="361.3"/>
<circle class="c37" r="1.35" cx="113.4" cy="368.1"/>
<circle class="c37" r="1.35" cx="119.1" cy="370.5"/>
<circle class="c37" r="1.35" cx="96.8" cy="364.6"/>
<circle class="c37" r="1.35" cx="106.5" cy="365.6"/>
<circle class="c37" r="1.35" cx="110.2" cy="366.3"/>
<circle class="c37" r="1.35" cx="88" cy="369.7"/>
<circle class="c37" r="1.35" cx="97" cy="363.6"/>
<circle class="c37" r="1.35" cx="106.8" cy="369.4"/>
<circle class="c37" r="1.35" cx="97.4" cy="369.5"/>
<circle class="c37" r="1.35" cx="109.9" cy="360.7"/>
<circle class="c37" r="1.35" cx="111.5" cy="366.4"/>
<circle class="c37" r="1.35" cx="112.5" cy="362.5"/>
<circle class="c37" r="1.35" cx="108.9" cy="368.9"/>
<circle class="c37" r="1.35" cx="103.1" cy="365.6"/>
<circle class="c37" r="1.35" cx="123.7" cy="370.2"/>
<circle class="c37" r="1.35" cx="97.2" cy="360.7"/>
<circle class="c37" r="1.35" cx="45.4" cy="369"/>
<circle class="c37" r="1.35" cx="68" cy="367.8"/>
<circle class="c37" r="1.35" cx="71" cy="370.5"/>
<circle class="c37" r="1.35" cx="73.5" cy="366.5"/>
<circle class="c37" r="1.35" cx="75" cy="370"/>
<circle class="c37" r="1.35" cx="76.5" cy="364"/>
<circle class="c37" r="1.35" cx="127" cy="365"/>
<circle class="c37" r="1.35" cx="129" cy="369.5"/>
<circle class="c37" r="1.35" cx="134" cy="367.5"/>
<circle class="c37" r="1.35" cx="136.5" cy="370"/>
<circle class="c37" r="1.35" cx="138" cy="368.5"/>
<circle class="c37" r="1.35" cx="141.8" cy="365"/>
<line x1="19.2" y1="406.4" x2="20.5" y2="406.4" stroke="#8a8a8a" stroke-width="0.4"/>
<text x="0" y="0" font-size="5.8" fill="#111" text-anchor="middle" transform="translate(16.2 405.8) rotate(-90)" stroke="#111" stroke-width="0.18">Altered</text>
<line x1="79.86" y1="406.4" x2="94.73" y2="406.4" stroke="#e4d8c8" stroke-width="0.4"/>
<line x1="103.09" y1="406.4" x2="120.74" y2="406.4" stroke="#e4d8c8" stroke-width="0.4"/>
<line x1="79.86" y1="396.4" x2="79.86" y2="416.4" stroke="#dccdb8" stroke-width="0.5"/>
<line x1="120.74" y1="396.4" x2="120.74" y2="416.4" stroke="#dccdb8" stroke-width="0.5"/>
<rect x="94.73" y="397" width="8.36" height="18.8" fill="#f6f6f6" stroke="#cccccc" stroke-width="0.4" stroke-dasharray="0.7 0.7"/>
<line x1="98.91" y1="397" x2="98.91" y2="415.8" stroke="#c8c8c8" stroke-width="0.4" stroke-dasharray="0.7 0.7"/>
<circle class="c37" r="1.35" cx="101.3" cy="405.6"/>
<circle class="c37" r="1.35" cx="102.1" cy="404.5"/>
<circle class="c37" r="1.35" cx="111.3" cy="402.3"/>
<circle class="c37" r="1.35" cx="104.3" cy="404.3"/>
<circle class="c37" r="1.35" cx="101" cy="405.5"/>
<circle class="c37" r="1.35" cx="116.6" cy="404.3"/>
<circle class="c37" r="1.35" cx="109.8" cy="407.7"/>
<circle class="c37" r="1.35" cx="103.3" cy="408.4"/>
<circle class="c37" r="1.35" cx="114.5" cy="404"/>
<circle class="c37" r="1.35" cx="92.4" cy="402.6"/>
<circle class="c37" r="1.35" cx="101.6" cy="406.5"/>
<circle class="c37" r="1.35" cx="106.2" cy="403.9"/>
<circle class="c37" r="1.35" cx="91" cy="403"/>
<circle class="c37" r="1.35" cx="113.4" cy="410.2"/>
<circle class="c37" r="1.35" cx="102.1" cy="411.1"/>
<circle class="c37" r="1.35" cx="88" cy="410.5"/>
<circle class="c37" r="1.35" cx="103.4" cy="410"/>
<circle class="c37" r="1.35" cx="93.5" cy="406.6"/>
<circle class="c37" r="1.35" cx="95.3" cy="402.7"/>
<circle class="c37" r="1.35" cx="106.2" cy="411.9"/>
<circle class="c37" r="1.35" cx="113" cy="406.9"/>
<circle class="c37" r="1.35" cx="93.9" cy="405.9"/>
<circle class="c37" r="1.35" cx="105.3" cy="409.8"/>
<circle class="c37" r="1.35" cx="107.3" cy="402.6"/>
<circle class="c37" r="1.35" cx="96.5" cy="405.4"/>
<circle class="c37" r="1.35" cx="110.6" cy="410"/>
<circle class="c37" r="1.35" cx="110.3" cy="407.6"/>
<circle class="c37" r="1.35" cx="112.1" cy="406.9"/>
<circle class="c37" r="1.35" cx="103" cy="406.3"/>
<circle class="c37" r="1.35" cx="98.2" cy="411.1"/>
<circle class="c37" r="1.35" cx="114.4" cy="402.7"/>
<circle class="c37" r="1.35" cx="96.6" cy="406.6"/>
<circle class="c37" r="1.35" cx="93.3" cy="410.7"/>
<circle class="c37" r="1.35" cx="113.1" cy="403.5"/>
<circle class="c37" r="1.35" cx="97.6" cy="411.2"/>
<circle class="c37" r="1.35" cx="104.4" cy="410.1"/>
<circle class="c37" r="1.35" cx="108.6" cy="404.4"/>
<circle class="c37" r="1.35" cx="97.9" cy="411.5"/>
<circle class="c37" r="1.35" cx="97.1" cy="403.9"/>
<circle class="c37" r="1.35" cx="108.8" cy="402.5"/>
<circle class="c37" r="1.35" cx="100.7" cy="401.5"/>
<circle class="c37" r="1.35" cx="101.5" cy="401.5"/>
<circle class="c37" r="1.35" cx="106.6" cy="406.7"/>
<circle class="c37" r="1.35" cx="100" cy="407.9"/>
<circle class="c37" r="1.35" cx="101.1" cy="403.9"/>
<circle class="c37" r="1.35" cx="99.9" cy="411.7"/>
<circle class="c37" r="1.35" cx="107.1" cy="406.2"/>
<circle class="c37" r="1.35" cx="103.7" cy="403.7"/>
<circle class="c37" r="1.35" cx="98.1" cy="403.4"/>
<circle class="c37" r="1.35" cx="100" cy="411.7"/>
<circle class="c37" r="1.35" cx="112.6" cy="403.3"/>
<circle class="c37" r="1.35" cx="115.9" cy="410.8"/>
<circle class="c37" r="1.35" cx="95" cy="402.4"/>
<circle class="c37" r="1.35" cx="89.4" cy="402"/>
<circle class="c37" r="1.35" cx="101.1" cy="402.8"/>
<circle class="c37" r="1.35" cx="95.3" cy="410"/>
<circle class="c37" r="1.35" cx="102.7" cy="411.7"/>
<circle class="c37" r="1.35" cx="98.8" cy="406.8"/>
<circle class="c37" r="1.35" cx="97.7" cy="405.1"/>
<circle class="c37" r="1.35" cx="103.6" cy="412"/>
<circle class="c37" r="1.35" cx="99.9" cy="402.3"/>
<circle class="c37" r="1.35" cx="105.4" cy="402.2"/>
<circle class="c37" r="1.35" cx="89" cy="402.3"/>
<circle class="c37" r="1.35" cx="116.4" cy="403.7"/>
<circle class="c37" r="1.35" cx="89.6" cy="411.2"/>
<circle class="c37" r="1.35" cx="101" cy="411.6"/>
<circle class="c37" r="1.35" cx="109" cy="406.2"/>
<circle class="c37" r="1.35" cx="98.6" cy="400.9"/>
<circle class="c37" r="1.35" cx="93.4" cy="404.7"/>
<circle class="c37" r="1.35" cx="100.6" cy="407.2"/>
<circle class="c37" r="1.35" cx="90.1" cy="405.8"/>
<circle class="c37" r="1.35" cx="103.2" cy="406.8"/>
<circle class="c37" r="1.35" cx="103.7" cy="407.5"/>
<circle class="c37" r="1.35" cx="95.6" cy="411.2"/>
<circle class="c37" r="1.35" cx="104" cy="411.7"/>
<circle class="c37" r="1.35" cx="96.2" cy="410.2"/>
<circle class="c37" r="1.35" cx="104.2" cy="403"/>
<circle class="c37" r="1.35" cx="106.8" cy="401.5"/>
<circle class="c37" r="1.35" cx="109.7" cy="410.3"/>
<circle class="c37" r="1.35" cx="99.5" cy="401.9"/>
<circle class="c37" r="1.35" cx="102.3" cy="409.8"/>
<circle class="c37" r="1.35" cx="114.2" cy="406.6"/>
<circle class="c37" r="1.35" cx="100.1" cy="409.5"/>
<circle class="c37" r="1.35" cx="110" cy="405.8"/>
<circle class="c37" r="1.35" cx="106.8" cy="402.5"/>
<circle class="c37" r="1.35" cx="94.5" cy="406.5"/>
<circle class="c37" r="1.35" cx="96.2" cy="405"/>
<circle class="c37" r="1.35" cx="97.3" cy="407.6"/>
<circle class="c37" r="1.35" cx="108.3" cy="411.6"/>
<circle class="c37" r="1.35" cx="116.9" cy="409.4"/>
<circle class="c37" r="1.35" cx="93.9" cy="404.1"/>
<circle class="c37" r="1.35" cx="107.7" cy="402.3"/>
<circle class="c37" r="1.35" cx="99.7" cy="406.4"/>
<circle class="c37" r="1.35" cx="99.9" cy="408.1"/>
<circle class="c37" r="1.35" cx="92.8" cy="404.1"/>
<circle class="c37" r="1.35" cx="110.3" cy="406.2"/>
<circle class="c37" r="1.35" cx="98.8" cy="406.8"/>
<circle class="c37" r="1.35" cx="91.4" cy="407.6"/>
<circle class="c37" r="1.35" cx="99.1" cy="401.4"/>
<circle class="c37" r="1.35" cx="108.5" cy="409.4"/>
<circle class="c37" r="1.35" cx="116.9" cy="405.4"/>
<circle class="c37" r="1.35" cx="107.1" cy="411.7"/>
<circle class="c37" r="1.35" cx="96.7" cy="407"/>
<circle class="c37" r="1.35" cx="105.3" cy="410.7"/>
<circle class="c37" r="1.35" cx="108.2" cy="408.7"/>
<circle class="c37" r="1.35" cx="96" cy="406.5"/>
<circle class="c37" r="1.35" cx="106.5" cy="405.3"/>
<circle class="c37" r="1.35" cx="91.8" cy="410.3"/>
<circle class="c37" r="1.35" cx="110" cy="407.3"/>
<circle class="c37" r="1.35" cx="104.5" cy="404.9"/>
<circle class="c37" r="1.35" cx="105.7" cy="407.7"/>
<circle class="c37" r="1.35" cx="103.1" cy="404.3"/>
<circle class="c37" r="1.35" cx="103.6" cy="403.9"/>
<circle class="c37" r="1.35" cx="111.6" cy="410.6"/>
<circle class="c37" r="1.35" cx="102.8" cy="406.8"/>
<circle class="c37" r="1.35" cx="99.5" cy="410.3"/>
<circle class="c37" r="1.35" cx="108.9" cy="408.3"/>
<circle class="c37" r="1.35" cx="95.8" cy="402.2"/>
<circle class="c37" r="1.35" cx="107" cy="406.1"/>
<circle class="c37" r="1.35" cx="94.9" cy="410.7"/>
<circle class="c37" r="1.35" cx="99.5" cy="410.1"/>
<circle class="c37" r="1.35" cx="106.3" cy="407.5"/>
<circle class="c37" r="1.35" cx="102.6" cy="404.7"/>
<circle class="c37" r="1.35" cx="101.8" cy="400.7"/>
<circle class="c37" r="1.35" cx="103.5" cy="403.8"/>
<circle class="c37" r="1.35" cx="95.9" cy="405.2"/>
<circle class="c37" r="1.35" cx="91.4" cy="407.7"/>
<circle class="c37" r="1.35" cx="100.1" cy="408.3"/>
<circle class="c37" r="1.35" cx="97.1" cy="411.9"/>
<circle class="c37" r="1.35" cx="102.3" cy="408.6"/>
<circle class="c37" r="1.35" cx="109" cy="409.1"/>
<circle class="c37" r="1.35" cx="105.5" cy="411.9"/>
<circle class="c37" r="1.35" cx="101.9" cy="406.2"/>
<circle class="c37" r="1.35" cx="101.3" cy="405.5"/>
<circle class="c37" r="1.35" cx="113.8" cy="404.8"/>
<circle class="c37" r="1.35" cx="90.6" cy="405.6"/>
<circle class="c37" r="1.35" cx="91.7" cy="403.3"/>
<circle class="c37" r="1.35" cx="97.8" cy="408"/>
<circle class="c37" r="1.35" cx="103.2" cy="401"/>
<circle class="c37" r="1.35" cx="110.6" cy="407.2"/>
<circle class="c37" r="1.35" cx="96.5" cy="401.7"/>
<circle class="c37" r="1.35" cx="101.9" cy="410.5"/>
<circle class="c37" r="1.35" cx="110.6" cy="406.8"/>
<circle class="c37" r="1.35" cx="95.4" cy="408.2"/>
<circle class="c37" r="1.35" cx="94.9" cy="404.2"/>
<circle class="c37" r="1.35" cx="99.7" cy="411"/>
<circle class="c37" r="1.35" cx="108.1" cy="407.7"/>
<circle class="c37" r="1.35" cx="108.8" cy="404.9"/>
<circle class="c37" r="1.35" cx="103" cy="410.5"/>
<circle class="c37" r="1.35" cx="100.3" cy="401.3"/>
<circle class="c37" r="1.35" cx="76.7" cy="404.5"/>
<circle class="c37" r="1.35" cx="80.5" cy="407"/>
<circle class="c37" r="1.35" cx="83" cy="401.5"/>
<circle class="c37" r="1.35" cx="84.5" cy="408.5"/>
<circle class="c37" r="1.35" cx="117" cy="404"/>
<circle class="c37" r="1.35" cx="119.5" cy="402"/>
<circle class="c37" r="1.35" cx="122" cy="402.5"/>
<circle class="c37" r="1.35" cx="125" cy="407.5"/>
<circle class="c37" r="1.35" cx="116" cy="409.5"/>
<text x="7.6" y="343.1" font-size="5.2" fill="#111" font-weight="bold" stroke="#111" stroke-width="0.18" textLength="11.9" lengthAdjust="spacingAndGlyphs">FAT1</text>
<text x="34.7" y="343.3" font-size="6" fill="#111" font-weight="bold" stroke="#111" stroke-width="0.21" textLength="4.6" lengthAdjust="spacingAndGlyphs">G</text>
<text x="44.9" y="343.3" font-size="6.2" fill="#111" font-weight="bold" stroke="#111" stroke-width="0.22" textLength="22.5" lengthAdjust="spacingAndGlyphs">HNSCC</text>
<text x="102.2" y="343.6" font-size="5.6" fill="#111" font-weight="bold" stroke="#111" stroke-width="0.2" textLength="30.8" lengthAdjust="spacingAndGlyphs"><tspan font-style="italic">P</tspan> = 5.27e−4</text>
<text x="69.3" y="441.3" font-size="5.6" fill="#111" font-weight="bold" stroke="#111" stroke-width="0.2" textLength="58" lengthAdjust="spacingAndGlyphs">Mutation count (log<tspan font-size="70%" dy="0.8">2</tspan><tspan dy="-0.8">)</tspan></text>
<line x1="202.1" y1="349" x2="202.1" y2="426" stroke="#f5f5f5" stroke-width="0.5"/>
<line x1="214.2" y1="349" x2="214.2" y2="426" stroke="#f5f5f5" stroke-width="0.5"/>
<line x1="226.3" y1="349" x2="226.3" y2="426" stroke="#f5f5f5" stroke-width="0.5"/>
<line x1="238.4" y1="349" x2="238.4" y2="426" stroke="#f5f5f5" stroke-width="0.5"/>
<line x1="250.5" y1="349" x2="250.5" y2="426" stroke="#f5f5f5" stroke-width="0.5"/>
<line x1="262.6" y1="349" x2="262.6" y2="426" stroke="#f5f5f5" stroke-width="0.5"/>
<line x1="274.7" y1="349" x2="274.7" y2="426" stroke="#f5f5f5" stroke-width="0.5"/>
<line x1="286.8" y1="349" x2="286.8" y2="426" stroke="#f5f5f5" stroke-width="0.5"/>
<line x1="298.9" y1="349" x2="298.9" y2="426" stroke="#f5f5f5" stroke-width="0.5"/>
<line x1="311" y1="349" x2="311" y2="426" stroke="#f5f5f5" stroke-width="0.5"/>
<line x1="323.1" y1="349" x2="323.1" y2="426" stroke="#f5f5f5" stroke-width="0.5"/>
<line x1="335.2" y1="349" x2="335.2" y2="426" stroke="#f5f5f5" stroke-width="0.5"/>
<line x1="347.3" y1="349" x2="347.3" y2="426" stroke="#f5f5f5" stroke-width="0.5"/>
<line x1="201.4" y1="365.2" x2="348.4" y2="365.2" stroke="#f5f5f5" stroke-width="0.5"/>
<line x1="201.4" y1="405.8" x2="348.4" y2="405.8" stroke="#f5f5f5" stroke-width="0.5"/>
<line x1="201.4" y1="346" x2="201.4" y2="426" stroke="#8a8a8a" stroke-width="0.6"/>
<line x1="201.4" y1="426" x2="348.4" y2="426" stroke="#8a8a8a" stroke-width="0.6"/>
<line x1="202.1" y1="426" x2="202.1" y2="427.3" stroke="#8a8a8a" stroke-width="0.4"/>
<text x="202.1" y="432.3" font-size="4.5" fill="#222" text-anchor="middle" stroke="#222" stroke-width="0.16">-400</text>
<line x1="214.2" y1="426" x2="214.2" y2="427.3" stroke="#8a8a8a" stroke-width="0.4"/>
<text x="214.2" y="432.3" font-size="4.5" fill="#222" text-anchor="middle" stroke="#222" stroke-width="0.16">-200</text>
<line x1="226.3" y1="426" x2="226.3" y2="427.3" stroke="#8a8a8a" stroke-width="0.4"/>
<text x="226.3" y="432.3" font-size="4.5" fill="#222" text-anchor="middle" stroke="#222" stroke-width="0.16">0</text>
<line x1="238.4" y1="426" x2="238.4" y2="427.3" stroke="#8a8a8a" stroke-width="0.4"/>
<text x="238.4" y="432.3" font-size="4.5" fill="#222" text-anchor="middle" stroke="#222" stroke-width="0.16">200</text>
<line x1="250.5" y1="426" x2="250.5" y2="427.3" stroke="#8a8a8a" stroke-width="0.4"/>
<text x="250.5" y="432.3" font-size="4.5" fill="#222" text-anchor="middle" stroke="#222" stroke-width="0.16">400</text>
<line x1="262.6" y1="426" x2="262.6" y2="427.3" stroke="#8a8a8a" stroke-width="0.4"/>
<text x="262.6" y="432.3" font-size="4.5" fill="#222" text-anchor="middle" stroke="#222" stroke-width="0.16">600</text>
<line x1="274.7" y1="426" x2="274.7" y2="427.3" stroke="#8a8a8a" stroke-width="0.4"/>
<text x="274.7" y="432.3" font-size="4.5" fill="#222" text-anchor="middle" stroke="#222" stroke-width="0.16">800</text>
<line x1="286.8" y1="426" x2="286.8" y2="427.3" stroke="#8a8a8a" stroke-width="0.4"/>
<text x="286.8" y="432.3" font-size="4.5" fill="#222" text-anchor="middle" stroke="#222" stroke-width="0.16">1k</text>
<line x1="298.9" y1="426" x2="298.9" y2="427.3" stroke="#8a8a8a" stroke-width="0.4"/>
<text x="298.9" y="432.3" font-size="4.5" fill="#222" text-anchor="middle" stroke="#222" stroke-width="0.16">1.2k</text>
<line x1="311" y1="426" x2="311" y2="427.3" stroke="#8a8a8a" stroke-width="0.4"/>
<text x="311" y="432.3" font-size="4.5" fill="#222" text-anchor="middle" stroke="#222" stroke-width="0.16">1.4k</text>
<line x1="323.1" y1="426" x2="323.1" y2="427.3" stroke="#8a8a8a" stroke-width="0.4"/>
<text x="323.1" y="432.3" font-size="4.5" fill="#222" text-anchor="middle" stroke="#222" stroke-width="0.16">1.6k</text>
<line x1="335.2" y1="426" x2="335.2" y2="427.3" stroke="#8a8a8a" stroke-width="0.4"/>
<text x="335.2" y="432.3" font-size="4.5" fill="#222" text-anchor="middle" stroke="#222" stroke-width="0.16">1.8k</text>
<line x1="347.3" y1="426" x2="347.3" y2="427.3" stroke="#8a8a8a" stroke-width="0.4"/>
<text x="347.3" y="432.3" font-size="4.5" fill="#222" text-anchor="middle" stroke="#222" stroke-width="0.16">2k</text>
<line x1="200.1" y1="365.2" x2="201.4" y2="365.2" stroke="#8a8a8a" stroke-width="0.4"/>
<text x="0" y="0" font-size="5.8" fill="#111" text-anchor="middle" transform="translate(197.1 368.7) rotate(-90)" stroke="#111" stroke-width="0.18">Unaltered</text>
<line x1="225.82" y1="365.2" x2="237.19" y2="365.2" stroke="#e4d8c8" stroke-width="0.4"/>
<line x1="247.48" y1="365.2" x2="258.97" y2="365.2" stroke="#e4d8c8" stroke-width="0.4"/>
<line x1="225.82" y1="355.7" x2="225.82" y2="374.7" stroke="#dccdb8" stroke-width="0.5"/>
<line x1="258.97" y1="355.7" x2="258.97" y2="374.7" stroke="#dccdb8" stroke-width="0.5"/>
<rect x="237.19" y="356.3" width="10.29" height="17.8" fill="#f6f6f6" stroke="#cccccc" stroke-width="0.4" stroke-dasharray="0.7 0.7"/>
<line x1="241.43" y1="356.3" x2="241.43" y2="374.1" stroke="#c8c8c8" stroke-width="0.4" stroke-dasharray="0.7 0.7"/>
<circle class="c37" r="1.35" cx="240.8" cy="364"/>
<circle class="c37" r="1.35" cx="244" cy="361.4"/>
<circle class="c37" r="1.35" cx="247.5" cy="369.6"/>
<circle class="c37" r="1.35" cx="243.6" cy="368.6"/>
<circle class="c37" r="1.35" cx="241" cy="365.6"/>
<circle class="c37" r="1.35" cx="235.2" cy="362.8"/>
<circle class="c37" r="1.35" cx="242.2" cy="362"/>
<circle class="c37" r="1.35" cx="243.7" cy="370"/>
<circle class="c37" r="1.35" cx="247" cy="368.4"/>
<circle class="c37" r="1.35" cx="228.5" cy="362.4"/>
<circle class="c37" r="1.35" cx="236.6" cy="367.8"/>
<circle class="c37" r="1.35" cx="250.4" cy="368.6"/>
<circle class="c37" r="1.35" cx="242.9" cy="366.4"/>
<circle class="c37" r="1.35" cx="238.3" cy="367.1"/>
<circle class="c37" r="1.35" cx="235.8" cy="364.9"/>
<circle class="c37" r="1.35" cx="240.3" cy="360.5"/>
<circle class="c37" r="1.35" cx="254.4" cy="365.6"/>
<circle class="c37" r="1.35" cx="234.5" cy="363.1"/>
<circle class="c37" r="1.35" cx="248.8" cy="369.1"/>
<circle class="c37" r="1.35" cx="235.2" cy="369"/>
<circle class="c37" r="1.35" cx="232.7" cy="366.2"/>
<circle class="c37" r="1.35" cx="240.1" cy="364.4"/>
<circle class="c37" r="1.35" cx="243.9" cy="368.7"/>
<circle class="c37" r="1.35" cx="246" cy="360.3"/>
<circle class="c37" r="1.35" cx="250.7" cy="363.1"/>
<circle class="c37" r="1.35" cx="243.6" cy="365.6"/>
<circle class="c37" r="1.35" cx="233.7" cy="370.4"/>
<circle class="c37" r="1.35" cx="241.8" cy="361.7"/>
<circle class="c37" r="1.35" cx="236.2" cy="366.7"/>
<circle class="c37" r="1.35" cx="243.2" cy="362.7"/>
<circle class="c37" r="1.35" cx="232.8" cy="363.4"/>
<circle class="c37" r="1.35" cx="250.4" cy="365.8"/>
<circle class="c37" r="1.35" cx="243.4" cy="360.3"/>
<circle class="c37" r="1.35" cx="238.5" cy="362.1"/>
<circle class="c37" r="1.35" cx="241.5" cy="362.2"/>
<circle class="c37" r="1.35" cx="230.1" cy="363.6"/>
<circle class="c37" r="1.35" cx="244.2" cy="360.1"/>
<circle class="c37" r="1.35" cx="248" cy="367.2"/>
<circle class="c37" r="1.35" cx="255.5" cy="367.2"/>
<circle class="c37" r="1.35" cx="229.1" cy="369.5"/>
<circle class="c37" r="1.35" cx="246.7" cy="370.1"/>
<circle class="c37" r="1.35" cx="241.2" cy="368.3"/>
<circle class="c37" r="1.35" cx="250.2" cy="366.4"/>
<circle class="c37" r="1.35" cx="243.1" cy="361.7"/>
<circle class="c37" r="1.35" cx="234.8" cy="364.6"/>
<circle class="c37" r="1.35" cx="245.4" cy="370.2"/>
<circle class="c37" r="1.35" cx="246.1" cy="363.4"/>
<circle class="c37" r="1.35" cx="242.8" cy="361.5"/>
<circle class="c37" r="1.35" cx="240.7" cy="368.4"/>
<circle class="c37" r="1.35" cx="236.4" cy="360.8"/>
<circle class="c37" r="1.35" cx="245.3" cy="370.5"/>
<circle class="c37" r="1.35" cx="235.9" cy="360.4"/>
<circle class="c37" r="1.35" cx="242.9" cy="360.2"/>
<circle class="c37" r="1.35" cx="246.1" cy="361.4"/>
<circle class="c37" r="1.35" cx="250.4" cy="360.8"/>
<circle class="c37" r="1.35" cx="234.8" cy="370.5"/>
<circle class="c37" r="1.35" cx="240.9" cy="360.9"/>
<circle class="c37" r="1.35" cx="227.7" cy="364.4"/>
<circle class="c37" r="1.35" cx="238.1" cy="370.7"/>
<circle class="c37" r="1.35" cx="234.9" cy="364.2"/>
<circle class="c37" r="1.35" cx="241.3" cy="359.9"/>
<circle class="c37" r="1.35" cx="235.5" cy="369.4"/>
<circle class="c37" r="1.35" cx="243.2" cy="368.9"/>
<circle class="c37" r="1.35" cx="238.6" cy="362.4"/>
<circle class="c37" r="1.35" cx="240.5" cy="362.3"/>
<circle class="c37" r="1.35" cx="241.9" cy="369.4"/>
<circle class="c37" r="1.35" cx="245.8" cy="361.3"/>
<circle class="c37" r="1.35" cx="246" cy="365.9"/>
<circle class="c37" r="1.35" cx="248.2" cy="369.3"/>
<circle class="c37" r="1.35" cx="240.1" cy="367"/>
<circle class="c37" r="1.35" cx="243.7" cy="365.1"/>
<circle class="c37" r="1.35" cx="228.4" cy="361.5"/>
<circle class="c37" r="1.35" cx="244.3" cy="369.6"/>
<circle class="c37" r="1.35" cx="255.4" cy="368.8"/>
<circle class="c37" r="1.35" cx="234.8" cy="368.4"/>
<circle class="c37" r="1.35" cx="250" cy="366.6"/>
<circle class="c37" r="1.35" cx="244.2" cy="366.9"/>
<circle class="c37" r="1.35" cx="232" cy="367.1"/>
<circle class="c37" r="1.35" cx="238.6" cy="370.4"/>
<circle class="c37" r="1.35" cx="249.6" cy="369.8"/>
<circle class="c37" r="1.35" cx="239.4" cy="369.7"/>
<circle class="c37" r="1.35" cx="238.5" cy="361"/>
<circle class="c37" r="1.35" cx="251.5" cy="361.1"/>
<circle class="c37" r="1.35" cx="238.3" cy="361.4"/>
<circle class="c37" r="1.35" cx="234" cy="367.8"/>
<circle class="c37" r="1.35" cx="233.1" cy="369.6"/>
<circle class="c37" r="1.35" cx="240.6" cy="370"/>
<circle class="c37" r="1.35" cx="241.1" cy="359.7"/>
<circle class="c37" r="1.35" cx="243.2" cy="368.7"/>
<circle class="c37" r="1.35" cx="237.9" cy="368.4"/>
<circle class="c37" r="1.35" cx="247.4" cy="369.2"/>
<circle class="c37" r="1.35" cx="233.9" cy="362.1"/>
<circle class="c37" r="1.35" cx="237.3" cy="369.6"/>
<circle class="c37" r="1.35" cx="234.5" cy="368.1"/>
<circle class="c37" r="1.35" cx="231.4" cy="360.5"/>
<circle class="c37" r="1.35" cx="242.2" cy="359.9"/>
<circle class="c37" r="1.35" cx="233.3" cy="369"/>
<circle class="c37" r="1.35" cx="235.6" cy="366.4"/>
<circle class="c37" r="1.35" cx="245.1" cy="368.1"/>
<circle class="c37" r="1.35" cx="246" cy="365.4"/>
<circle class="c37" r="1.35" cx="254.9" cy="368"/>
<circle class="c37" r="1.35" cx="241.5" cy="360.5"/>
<circle class="c37" r="1.35" cx="233.4" cy="368.2"/>
<circle class="c37" r="1.35" cx="238.5" cy="363.1"/>
<circle class="c37" r="1.35" cx="241.4" cy="370.5"/>
<circle class="c37" r="1.35" cx="249.2" cy="361.2"/>
<circle class="c37" r="1.35" cx="248.4" cy="369.1"/>
<circle class="c37" r="1.35" cx="247.5" cy="365.3"/>
<circle class="c37" r="1.35" cx="226.8" cy="367.6"/>
<circle class="c37" r="1.35" cx="246.5" cy="360.6"/>
<circle class="c37" r="1.35" cx="244.2" cy="363"/>
<circle class="c37" r="1.35" cx="237.1" cy="369"/>
<circle class="c37" r="1.35" cx="228.6" cy="362.2"/>
<circle class="c37" r="1.35" cx="246.9" cy="369.2"/>
<circle class="c37" r="1.35" cx="242.4" cy="365.1"/>
<circle class="c37" r="1.35" cx="244.4" cy="363.4"/>
<circle class="c37" r="1.35" cx="236.3" cy="367.5"/>
<circle class="c37" r="1.35" cx="247.1" cy="365.7"/>
<circle class="c37" r="1.35" cx="240.7" cy="365"/>
<circle class="c37" r="1.35" cx="238.7" cy="360.4"/>
<circle class="c37" r="1.35" cx="232" cy="362.6"/>
<circle class="c37" r="1.35" cx="244.6" cy="368.1"/>
<circle class="c37" r="1.35" cx="234.7" cy="370.4"/>
<circle class="c37" r="1.35" cx="232.6" cy="366.3"/>
<circle class="c37" r="1.35" cx="232.4" cy="363.3"/>
<circle class="c37" r="1.35" cx="247.8" cy="369.5"/>
<circle class="c37" r="1.35" cx="236.1" cy="363.1"/>
<circle class="c37" r="1.35" cx="249.5" cy="366.3"/>
<circle class="c37" r="1.35" cx="230.7" cy="364.6"/>
<circle class="c37" r="1.35" cx="248.8" cy="363.8"/>
<circle class="c37" r="1.35" cx="250.6" cy="366.8"/>
<circle class="c37" r="1.35" cx="242.6" cy="361.2"/>
<circle class="c37" r="1.35" cx="242.8" cy="368.7"/>
<circle class="c37" r="1.35" cx="247.7" cy="363.9"/>
<circle class="c37" r="1.35" cx="255.2" cy="365.8"/>
<circle class="c37" r="1.35" cx="234.3" cy="360.9"/>
<circle class="c37" r="1.35" cx="249" cy="364.2"/>
<circle class="c37" r="1.35" cx="244.9" cy="366.9"/>
<circle class="c37" r="1.35" cx="238.7" cy="363.2"/>
<circle class="c37" r="1.35" cx="240" cy="359.7"/>
<circle class="c37" r="1.35" cx="242.1" cy="370.3"/>
<circle class="c37" r="1.35" cx="247" cy="368.4"/>
<circle class="c37" r="1.35" cx="228.6" cy="369.3"/>
<circle class="c37" r="1.35" cx="246" cy="365.1"/>
<circle class="c37" r="1.35" cx="248.9" cy="365.9"/>
<circle class="c37" r="1.35" cx="252.3" cy="369.5"/>
<circle class="c37" r="1.35" cx="235.7" cy="361"/>
<circle class="c37" r="1.35" cx="233.9" cy="367.8"/>
<circle class="c37" r="1.35" cx="231.3" cy="366.4"/>
<circle class="c37" r="1.35" cx="243.7" cy="370"/>
<circle class="c37" r="1.35" cx="234.9" cy="364.2"/>
<circle class="c37" r="1.35" cx="227.4" cy="367"/>
<circle class="c37" r="1.35" cx="231.1" cy="363.3"/>
<circle class="c37" r="1.35" cx="241.3" cy="366.6"/>
<circle class="c37" r="1.35" cx="247.2" cy="370.4"/>
<circle class="c37" r="1.35" cx="246.7" cy="364.1"/>
<circle class="c37" r="1.35" cx="236" cy="368.7"/>
<circle class="c37" r="1.35" cx="238.9" cy="359.7"/>
<circle class="c37" r="1.35" cx="248.1" cy="362"/>
<circle class="c37" r="1.35" cx="229.3" cy="366.3"/>
<circle class="c37" r="1.35" cx="237.6" cy="363.7"/>
<circle class="c37" r="1.35" cx="250.6" cy="361.9"/>
<circle class="c37" r="1.35" cx="237.3" cy="360.4"/>
<circle class="c37" r="1.35" cx="236.8" cy="369.9"/>
<circle class="c37" r="1.35" cx="235.3" cy="360.8"/>
<circle class="c37" r="1.35" cx="236.5" cy="362.5"/>
<circle class="c37" r="1.35" cx="243.5" cy="369.6"/>
<circle class="c37" r="1.35" cx="241.3" cy="362.2"/>
<circle class="c37" r="1.35" cx="236.3" cy="363"/>
<circle class="c37" r="1.35" cx="244.8" cy="368.4"/>
<circle class="c37" r="1.35" cx="239.1" cy="367.3"/>
<circle class="c37" r="1.35" cx="234.9" cy="362.6"/>
<circle class="c37" r="1.35" cx="236.1" cy="360.8"/>
<circle class="c37" r="1.35" cx="239.8" cy="359.9"/>
<circle class="c37" r="1.35" cx="239" cy="360.2"/>
<circle class="c37" r="1.35" cx="244" cy="370.7"/>
<circle class="c37" r="1.35" cx="236.7" cy="367.4"/>
<circle class="c37" r="1.35" cx="255.9" cy="367.1"/>
<circle class="c37" r="1.35" cx="230" cy="368.8"/>
<circle class="c37" r="1.35" cx="238.7" cy="367.4"/>
<circle class="c37" r="1.35" cx="231" cy="367.4"/>
<circle class="c37" r="1.35" cx="232.1" cy="361.7"/>
<circle class="c37" r="1.35" cx="237.6" cy="369.1"/>
<circle class="c37" r="1.35" cx="237.7" cy="361.5"/>
<circle class="c37" r="1.35" cx="240.8" cy="369.5"/>
<circle class="c37" r="1.35" cx="240.2" cy="367.3"/>
<circle class="c37" r="1.35" cx="248" cy="368.9"/>
<circle class="c37" r="1.35" cx="237" cy="364.3"/>
<circle class="c37" r="1.35" cx="247.1" cy="360.2"/>
<circle class="c37" r="1.35" cx="241.6" cy="370.4"/>
<circle class="c37" r="1.35" cx="239.5" cy="361.2"/>
<circle class="c37" r="1.35" cx="248.6" cy="368.5"/>
<circle class="c37" r="1.35" cx="252.8" cy="362.8"/>
<circle class="c37" r="1.35" cx="232.4" cy="367.4"/>
<circle class="c37" r="1.35" cx="237.7" cy="361.7"/>
<circle class="c37" r="1.35" cx="252.1" cy="367.1"/>
<circle class="c37" r="1.35" cx="256.2" cy="364.2"/>
<circle class="c37" r="1.35" cx="232.1" cy="368.7"/>
<circle class="c37" r="1.35" cx="245.6" cy="360.9"/>
<circle class="c37" r="1.35" cx="231.8" cy="366.4"/>
<circle class="c37" r="1.35" cx="246" cy="366.8"/>
<circle class="c37" r="1.35" cx="237.1" cy="369.6"/>
<circle class="c37" r="1.35" cx="238.8" cy="366.7"/>
<circle class="c37" r="1.35" cx="239.3" cy="362.4"/>
<circle class="c37" r="1.35" cx="247.5" cy="363.2"/>
<circle class="c37" r="1.35" cx="231.8" cy="369.2"/>
<circle class="c37" r="1.35" cx="235.7" cy="368.8"/>
<circle class="c37" r="1.35" cx="235.6" cy="369.5"/>
<circle class="c37" r="1.35" cx="252.8" cy="366.6"/>
<circle class="c37" r="1.35" cx="230.8" cy="367.1"/>
<circle class="c37" r="1.35" cx="233.2" cy="370.2"/>
<circle class="c37" r="1.35" cx="234.9" cy="363.6"/>
<circle class="c37" r="1.35" cx="250.9" cy="365.2"/>
<circle class="c37" r="1.35" cx="246.4" cy="365.7"/>
<circle class="c37" r="1.35" cx="235.8" cy="361.9"/>
<circle class="c37" r="1.35" cx="237.2" cy="360.4"/>
<circle class="c37" r="1.35" cx="243.8" cy="367.4"/>
<circle class="c37" r="1.35" cx="256.1" cy="367.9"/>
<circle class="c37" r="1.35" cx="254.6" cy="365.3"/>
<circle class="c37" r="1.35" cx="255.1" cy="366.2"/>
<circle class="c37" r="1.35" cx="240.6" cy="366.6"/>
<circle class="c37" r="1.35" cx="252.7" cy="361"/>
<circle class="c37" r="1.35" cx="241.9" cy="365"/>
<circle class="c37" r="1.35" cx="244.9" cy="369.5"/>
<circle class="c37" r="1.35" cx="246.2" cy="367.9"/>
<circle class="c37" r="1.35" cx="243.1" cy="363.9"/>
<circle class="c37" r="1.35" cx="234.7" cy="366.3"/>
<circle class="c37" r="1.35" cx="248.1" cy="370.1"/>
<circle class="c37" r="1.35" cx="242.2" cy="368.1"/>
<circle class="c37" r="1.35" cx="244.7" cy="367.3"/>
<circle class="c37" r="1.35" cx="235.7" cy="368.3"/>
<circle class="c37" r="1.35" cx="238.2" cy="361.5"/>
<circle class="c37" r="1.35" cx="232.7" cy="360.3"/>
<circle class="c37" r="1.35" cx="253.8" cy="363.2"/>
<circle class="c37" r="1.35" cx="229.1" cy="367.6"/>
<circle class="c37" r="1.35" cx="231.6" cy="368.6"/>
<circle class="c37" r="1.35" cx="246.4" cy="363.3"/>
<circle class="c37" r="1.35" cx="236.3" cy="365.3"/>
<circle class="c37" r="1.35" cx="236.5" cy="360"/>
<circle class="c37" r="1.35" cx="240" cy="369.9"/>
<circle class="c37" r="1.35" cx="246.7" cy="361.3"/>
<circle class="c37" r="1.35" cx="240.7" cy="370.7"/>
<circle class="c37" r="1.35" cx="237.3" cy="361.5"/>
<circle class="c37" r="1.35" cx="244.9" cy="370"/>
<circle class="c37" r="1.35" cx="243.4" cy="367.1"/>
<circle class="c37" r="1.35" cx="247.4" cy="361.2"/>
<circle class="c37" r="1.35" cx="234.9" cy="363.5"/>
<circle class="c37" r="1.35" cx="246.9" cy="361.7"/>
<circle class="c37" r="1.35" cx="241.1" cy="360.8"/>
<circle class="c37" r="1.35" cx="255.1" cy="369.2"/>
<circle class="c37" r="1.35" cx="237.7" cy="367"/>
<circle class="c37" r="1.35" cx="249.9" cy="369.2"/>
<circle class="c37" r="1.35" cx="253.5" cy="362.4"/>
<circle class="c37" r="1.35" cx="247.2" cy="367.5"/>
<circle class="c37" r="1.35" cx="253.2" cy="362.4"/>
<circle class="c37" r="1.35" cx="242.7" cy="361.9"/>
<circle class="c37" r="1.35" cx="247.1" cy="363.4"/>
<circle class="c37" r="1.35" cx="242" cy="370.7"/>
<circle class="c37" r="1.35" cx="234.9" cy="370.5"/>
<circle class="c37" r="1.35" cx="236" cy="361.6"/>
<circle class="c37" r="1.35" cx="244.6" cy="370.2"/>
<circle class="c37" r="1.35" cx="232.1" cy="360.8"/>
<circle class="c37" r="1.35" cx="250.2" cy="366.8"/>
<circle class="c37" r="1.35" cx="233.8" cy="368.8"/>
<circle class="c37" r="1.35" cx="244.5" cy="361.2"/>
<circle class="c37" r="1.35" cx="243.6" cy="365"/>
<circle class="c37" r="1.35" cx="231.5" cy="363.8"/>
<circle class="c37" r="1.35" cx="237.8" cy="367.9"/>
<circle class="c37" r="1.35" cx="247.2" cy="360.4"/>
<circle class="c37" r="1.35" cx="229.7" cy="361.9"/>
<circle class="c37" r="1.35" cx="241.6" cy="366"/>
<circle class="c37" r="1.35" cx="246" cy="361.9"/>
<circle class="c37" r="1.35" cx="235.6" cy="363.7"/>
<circle class="c37" r="1.35" cx="235.6" cy="367.5"/>
<circle class="c37" r="1.35" cx="245.1" cy="363.5"/>
<circle class="c37" r="1.35" cx="238.8" cy="370.7"/>
<circle class="c37" r="1.35" cx="240.9" cy="361.7"/>
<circle class="c37" r="1.35" cx="242.2" cy="368.9"/>
<circle class="c37" r="1.35" cx="238.4" cy="365.2"/>
<circle class="c37" r="1.35" cx="246.8" cy="367.5"/>
<circle class="c37" r="1.35" cx="242.2" cy="364"/>
<circle class="c37" r="1.35" cx="245.2" cy="364.8"/>
<circle class="c37" r="1.35" cx="246.2" cy="363.7"/>
<circle class="c37" r="1.35" cx="236.7" cy="360"/>
<circle class="c37" r="1.35" cx="241.9" cy="368.4"/>
<circle class="c37" r="1.35" cx="239.6" cy="360.8"/>
<circle class="c37" r="1.35" cx="232.7" cy="363.1"/>
<circle class="c37" r="1.35" cx="234.8" cy="365"/>
<circle class="c37" r="1.35" cx="249.6" cy="362.1"/>
<circle class="c37" r="1.35" cx="239" cy="366.5"/>
<circle class="c37" r="1.35" cx="232.2" cy="367.5"/>
<circle class="c37" r="1.35" cx="234.5" cy="360.1"/>
<circle class="c37" r="1.35" cx="228" cy="362"/>
<circle class="c37" r="1.35" cx="245.8" cy="360.3"/>
<circle class="c37" r="1.35" cx="243.1" cy="364.5"/>
<circle class="c37" r="1.35" cx="246.2" cy="363.2"/>
<circle class="c37" r="1.35" cx="237.5" cy="363.5"/>
<circle class="c37" r="1.35" cx="237.1" cy="367.2"/>
<circle class="c37" r="1.35" cx="235.3" cy="369.9"/>
<circle class="c37" r="1.35" cx="240.2" cy="365.6"/>
<circle class="c37" r="1.35" cx="247.3" cy="365.7"/>
<circle class="c37" r="1.35" cx="230.5" cy="362.3"/>
<circle class="c37" r="1.35" cx="251.8" cy="364.9"/>
<circle class="c37" r="1.35" cx="252" cy="366.1"/>
<circle class="c37" r="1.35" cx="251.2" cy="369.8"/>
<circle class="c37" r="1.35" cx="247.9" cy="366.2"/>
<circle class="c37" r="1.35" cx="249.9" cy="360.8"/>
<circle class="c37" r="1.35" cx="247.1" cy="360.8"/>
<circle class="c37" r="1.35" cx="226.6" cy="369"/>
<circle class="c37" r="1.35" cx="242.8" cy="365.7"/>
<circle class="c37" r="1.35" cx="230.5" cy="362.9"/>
<circle class="c37" r="1.35" cx="248.6" cy="368.9"/>
<circle class="c37" r="1.35" cx="243.5" cy="361.9"/>
<circle class="c37" r="1.35" cx="234.4" cy="367.2"/>
<circle class="c37" r="1.35" cx="241.6" cy="370.4"/>
<circle class="c37" r="1.35" cx="245.3" cy="364.3"/>
<circle class="c37" r="1.35" cx="236.5" cy="359.7"/>
<circle class="c37" r="1.35" cx="237.8" cy="369.1"/>
<circle class="c37" r="1.35" cx="247.8" cy="360.9"/>
<circle class="c37" r="1.35" cx="244" cy="364.4"/>
<circle class="c37" r="1.35" cx="245.8" cy="368.9"/>
<circle class="c37" r="1.35" cx="237.3" cy="370.3"/>
<circle class="c37" r="1.35" cx="242.6" cy="369.9"/>
<circle class="c37" r="1.35" cx="235.9" cy="369.8"/>
<circle class="c37" r="1.35" cx="241.6" cy="359.6"/>
<circle class="c37" r="1.35" cx="240.5" cy="362.8"/>
<circle class="c37" r="1.35" cx="232.6" cy="361"/>
<circle class="c37" r="1.35" cx="239.6" cy="366.8"/>
<circle class="c37" r="1.35" cx="235.2" cy="365.3"/>
<circle class="c37" r="1.35" cx="231.2" cy="365.7"/>
<circle class="c37" r="1.35" cx="239.5" cy="364.5"/>
<circle class="c37" r="1.35" cx="238" cy="361.1"/>
<circle class="c37" r="1.35" cx="250.7" cy="363.5"/>
<circle class="c37" r="1.35" cx="248.3" cy="363.6"/>
<circle class="c37" r="1.35" cx="238.8" cy="360.9"/>
<circle class="c37" r="1.35" cx="250.4" cy="366.6"/>
<circle class="c37" r="1.35" cx="248.6" cy="361.7"/>
<circle class="c37" r="1.35" cx="241.6" cy="364.3"/>
<circle class="c37" r="1.35" cx="231.1" cy="363.3"/>
<circle class="c37" r="1.35" cx="232.4" cy="365.5"/>
<circle class="c37" r="1.35" cx="250.4" cy="365.6"/>
<circle class="c37" r="1.35" cx="240.7" cy="361.4"/>
<circle class="c37" r="1.35" cx="251.1" cy="365"/>
<circle class="c37" r="1.35" cx="235" cy="366.1"/>
<circle class="c37" r="1.35" cx="232.8" cy="365.9"/>
<circle class="c37" r="1.35" cx="247.1" cy="367.1"/>
<circle class="c37" r="1.35" cx="237.6" cy="364.7"/>
<circle class="c37" r="1.35" cx="237.3" cy="363.1"/>
<circle class="c37" r="1.35" cx="246.1" cy="363.1"/>
<circle class="c37" r="1.35" cx="238.4" cy="365"/>
<circle class="c37" r="1.35" cx="245.3" cy="362.9"/>
<circle class="c37" r="1.35" cx="233" cy="363.3"/>
<circle class="c37" r="1.35" cx="248.7" cy="368.9"/>
<circle class="c37" r="1.35" cx="242.5" cy="369"/>
<circle class="c37" r="1.35" cx="234.1" cy="361.8"/>
<circle class="c37" r="1.35" cx="254.4" cy="361.2"/>
<circle class="c37" r="1.35" cx="255.7" cy="361"/>
<circle class="c37" r="1.35" cx="241.1" cy="367"/>
<circle class="c37" r="1.35" cx="235.5" cy="362.4"/>
<circle class="c37" r="1.35" cx="238.7" cy="370.5"/>
<circle class="c37" r="1.35" cx="236.1" cy="364.6"/>
<circle class="c37" r="1.35" cx="244" cy="367.8"/>
<circle class="c37" r="1.35" cx="239.7" cy="368.5"/>
<circle class="c37" r="1.35" cx="243.7" cy="360.7"/>
<circle class="c37" r="1.35" cx="241.2" cy="370.8"/>
<circle class="c37" r="1.35" cx="240.8" cy="364.4"/>
<circle class="c37" r="1.35" cx="239.7" cy="370.6"/>
<circle class="c37" r="1.35" cx="230.9" cy="363.7"/>
<circle class="c37" r="1.35" cx="233.8" cy="360"/>
<circle class="c37" r="1.35" cx="249.8" cy="363.9"/>
<circle class="c37" r="1.35" cx="241.1" cy="365.1"/>
<circle class="c37" r="1.35" cx="230.7" cy="369.4"/>
<circle class="c37" r="1.35" cx="229.3" cy="364.2"/>
<circle class="c37" r="1.35" cx="245.5" cy="360.7"/>
<circle class="c37" r="1.35" cx="236.6" cy="360"/>
<circle class="c37" r="1.35" cx="243.9" cy="362.8"/>
<circle class="c37" r="1.35" cx="246.4" cy="367.7"/>
<circle class="c37" r="1.35" cx="246.5" cy="368"/>
<circle class="c37" r="1.35" cx="245.4" cy="367"/>
<circle class="c37" r="1.35" cx="236.1" cy="369.5"/>
<circle class="c37" r="1.35" cx="227.2" cy="361.7"/>
<circle class="c37" r="1.35" cx="250.7" cy="369.2"/>
<circle class="c37" r="1.35" cx="256" cy="367.9"/>
<circle class="c37" r="1.35" cx="226.1" cy="367"/>
<circle class="c37" r="1.35" cx="229.5" cy="368.7"/>
<circle class="c37" r="1.35" cx="245.3" cy="366"/>
<circle class="c37" r="1.35" cx="228.1" cy="363.3"/>
<circle class="c37" r="1.35" cx="228.6" cy="363.7"/>
<circle class="c37" r="1.35" cx="255.6" cy="366.3"/>
<circle class="c37" r="1.35" cx="244" cy="367.1"/>
<circle class="c37" r="1.35" cx="240.9" cy="365"/>
<circle class="c37" r="1.35" cx="245.3" cy="369.3"/>
<circle class="c37" r="1.35" cx="235.7" cy="364.3"/>
<circle class="c37" r="1.35" cx="246.8" cy="368.8"/>
<circle class="c37" r="1.35" cx="251.3" cy="360.6"/>
<circle class="c37" r="1.35" cx="251.2" cy="367.1"/>
<circle class="c37" r="1.35" cx="241.2" cy="368"/>
<circle class="c37" r="1.35" cx="232" cy="363"/>
<circle class="c37" r="1.35" cx="245" cy="362.6"/>
<circle class="c37" r="1.35" cx="246.1" cy="367.5"/>
<circle class="c37" r="1.35" cx="230.3" cy="369.8"/>
<circle class="c37" r="1.35" cx="236.2" cy="368.2"/>
<circle class="c37" r="1.35" cx="245.7" cy="369.8"/>
<circle class="c37" r="1.35" cx="240.1" cy="365.3"/>
<circle class="c37" r="1.35" cx="233.5" cy="367.9"/>
<circle class="c37" r="1.35" cx="244.2" cy="367.9"/>
<circle class="c37" r="1.35" cx="237.7" cy="366.6"/>
<circle class="c37" r="1.35" cx="235.5" cy="361.8"/>
<circle class="c37" r="1.35" cx="237.7" cy="359.8"/>
<circle class="c37" r="1.35" cx="236.8" cy="370.3"/>
<circle class="c37" r="1.35" cx="244.9" cy="360.2"/>
<circle class="c37" r="1.35" cx="235.8" cy="368.7"/>
<circle class="c37" r="1.35" cx="241.1" cy="368.8"/>
<circle class="c37" r="1.35" cx="236.2" cy="368.9"/>
<circle class="c37" r="1.35" cx="235.1" cy="360.4"/>
<circle class="c37" r="1.35" cx="237.8" cy="360.3"/>
<circle class="c37" r="1.35" cx="229.2" cy="366.5"/>
<circle class="c37" r="1.35" cx="244.9" cy="362.2"/>
<circle class="c37" r="1.35" cx="241.3" cy="366.5"/>
<circle class="c37" r="1.35" cx="237.9" cy="361.5"/>
<circle class="c37" r="1.35" cx="251" cy="361"/>
<circle class="c37" r="1.35" cx="252.5" cy="368.5"/>
<circle class="c37" r="1.35" cx="253.5" cy="363.5"/>
<circle class="c37" r="1.35" cx="254.5" cy="366"/>
<circle class="c37" r="1.35" cx="255.5" cy="370"/>
<circle class="c37" r="1.35" cx="256.5" cy="362.5"/>
<circle class="c37" r="1.35" cx="249.5" cy="370.5"/>
<circle class="c37" r="1.35" cx="250" cy="359.5"/>
<circle class="c37" r="1.35" cx="257" cy="362"/>
<circle class="c37" r="1.35" cx="258.5" cy="364.5"/>
<circle class="c37" r="1.35" cx="259.5" cy="367"/>
<circle class="c37" r="1.35" cx="261" cy="363"/>
<circle class="c37" r="1.35" cx="262.5" cy="366.5"/>
<circle class="c37" r="1.35" cx="256" cy="369"/>
<circle class="c37" r="1.35" cx="267" cy="361.5"/>
<circle class="c37" r="1.35" cx="266" cy="363.5"/>
<circle class="c37" r="1.35" cx="280.5" cy="363.3"/>
<circle class="c37" r="1.35" cx="285" cy="364.4"/>
<circle class="c37" r="1.35" cx="275.8" cy="369.8"/>
<circle class="c37" r="1.35" cx="288.4" cy="368.4"/>
<circle class="c37" r="1.35" cx="298.4" cy="365"/>
<circle class="c37" r="1.35" cx="311.6" cy="362.6"/>
<circle class="c37" r="1.35" cx="322.3" cy="367.4"/>
<circle class="c37" r="1.35" cx="255" cy="364"/>
<circle class="c37" r="1.35" cx="260" cy="369"/>
<line x1="200.1" y1="405.8" x2="201.4" y2="405.8" stroke="#8a8a8a" stroke-width="0.4"/>
<text x="0" y="0" font-size="5.8" fill="#111" text-anchor="middle" transform="translate(197.1 406.7) rotate(-90)" stroke="#111" stroke-width="0.18">Altered</text>
<line x1="225.82" y1="405.8" x2="237.8" y2="405.8" stroke="#e4d8c8" stroke-width="0.4"/>
<line x1="248.08" y1="405.8" x2="264.42" y2="405.8" stroke="#e4d8c8" stroke-width="0.4"/>
<line x1="225.82" y1="395.8" x2="225.82" y2="415.8" stroke="#dccdb8" stroke-width="0.5"/>
<line x1="264.42" y1="395.8" x2="264.42" y2="415.8" stroke="#dccdb8" stroke-width="0.5"/>
<rect x="237.8" y="396.4" width="10.28" height="18.8" fill="#f6f6f6" stroke="#cccccc" stroke-width="0.4" stroke-dasharray="0.7 0.7"/>
<line x1="242.03" y1="396.4" x2="242.03" y2="415.2" stroke="#c8c8c8" stroke-width="0.4" stroke-dasharray="0.7 0.7"/>
<circle class="c37" r="1.35" cx="242.9" cy="409.2"/>
<circle class="c37" r="1.35" cx="240" cy="402.4"/>
<circle class="c37" r="1.35" cx="245.1" cy="404.2"/>
<circle class="c37" r="1.35" cx="240.4" cy="406.7"/>
<circle class="c37" r="1.35" cx="233.6" cy="410"/>
<circle class="c37" r="1.35" cx="236.6" cy="404"/>
<circle class="c37" r="1.35" cx="238.4" cy="402.9"/>
<circle class="c37" r="1.35" cx="238.2" cy="401"/>
<circle class="c37" r="1.35" cx="242.6" cy="408.2"/>
<circle class="c37" r="1.35" cx="236.8" cy="410.1"/>
<circle class="c37" r="1.35" cx="237.6" cy="402.9"/>
<circle class="c37" r="1.35" cx="242" cy="405.7"/>
<circle class="c37" r="1.35" cx="238.6" cy="410"/>
<circle class="c37" r="1.35" cx="241" cy="407.5"/>
<circle class="c37" r="1.35" cx="246" cy="408.1"/>
<circle class="c37" r="1.35" cx="233.6" cy="409"/>
<circle class="c37" r="1.35" cx="238.5" cy="409.6"/>
<circle class="c37" r="1.35" cx="235.3" cy="410.3"/>
<circle class="c37" r="1.35" cx="241.9" cy="401.9"/>
<circle class="c37" r="1.35" cx="241.5" cy="405.3"/>
<circle class="c37" r="1.35" cx="243.6" cy="409.8"/>
<circle class="c37" r="1.35" cx="235.7" cy="404.3"/>
<circle class="c37" r="1.35" cx="236.8" cy="407.4"/>
<circle class="c37" r="1.35" cx="238.5" cy="403.1"/>
<circle class="c37" r="1.35" cx="244.5" cy="406.5"/>
<circle class="c37" r="1.35" cx="240.1" cy="410.4"/>
<circle class="c37" r="1.35" cx="237.6" cy="409.4"/>
<circle class="c37" r="1.35" cx="244.2" cy="410.6"/>
<circle class="c37" r="1.35" cx="246.5" cy="410.4"/>
<circle class="c37" r="1.35" cx="238.3" cy="406.3"/>
<circle class="c37" r="1.35" cx="235.7" cy="407.5"/>
<circle class="c37" r="1.35" cx="237.7" cy="410.3"/>
<circle class="c37" r="1.35" cx="238" cy="406.3"/>
<circle class="c37" r="1.35" cx="243.4" cy="401.1"/>
<circle class="c37" r="1.35" cx="241.6" cy="405.3"/>
<circle class="c37" r="1.35" cx="244.5" cy="403.4"/>
<circle class="c37" r="1.35" cx="243" cy="409.5"/>
<circle class="c37" r="1.35" cx="240.3" cy="409.5"/>
<circle class="c37" r="1.35" cx="237" cy="406.7"/>
<circle class="c37" r="1.35" cx="238.7" cy="399.9"/>
<circle class="c37" r="1.35" cx="249.8" cy="404.9"/>
<circle class="c37" r="1.35" cx="237.7" cy="405.7"/>
<circle class="c37" r="1.35" cx="238.3" cy="410.3"/>
<circle class="c37" r="1.35" cx="236" cy="402.4"/>
<circle class="c37" r="1.35" cx="245.8" cy="410.6"/>
<circle class="c37" r="1.35" cx="242.6" cy="408.9"/>
<circle class="c37" r="1.35" cx="239.3" cy="403.8"/>
<circle class="c37" r="1.35" cx="243" cy="408.4"/>
<circle class="c37" r="1.35" cx="240.5" cy="405.4"/>
<circle class="c37" r="1.35" cx="237.6" cy="402"/>
<circle class="c37" r="1.35" cx="239.5" cy="404.2"/>
<circle class="c37" r="1.35" cx="231.5" cy="405.3"/>
<circle class="c37" r="1.35" cx="239.2" cy="403.7"/>
<circle class="c37" r="1.35" cx="245.9" cy="408.4"/>
<circle class="c37" r="1.35" cx="236.3" cy="409.2"/>
<circle class="c37" r="1.35" cx="236.4" cy="401.4"/>
<circle class="c37" r="1.35" cx="240.3" cy="407.7"/>
<circle class="c37" r="1.35" cx="239.8" cy="410.8"/>
<circle class="c37" r="1.35" cx="234.7" cy="410.7"/>
<circle class="c37" r="1.35" cx="239.8" cy="400.8"/>
<circle class="c37" r="1.35" cx="235.9" cy="406.9"/>
<circle class="c37" r="1.35" cx="243.9" cy="407"/>
<circle class="c37" r="1.35" cx="242.9" cy="402.1"/>
<circle class="c37" r="1.35" cx="244.4" cy="404.5"/>
<circle class="c37" r="1.35" cx="241.6" cy="407.3"/>
<circle class="c37" r="1.35" cx="243.5" cy="404.7"/>
<circle class="c37" r="1.35" cx="242.4" cy="407.8"/>
<circle class="c37" r="1.35" cx="244.4" cy="403.6"/>
<circle class="c37" r="1.35" cx="239.2" cy="408.1"/>
<circle class="c37" r="1.35" cx="244.7" cy="400.8"/>
<circle class="c37" r="1.35" cx="239.2" cy="410.5"/>
<circle class="c37" r="1.35" cx="238.6" cy="402.1"/>
<circle class="c37" r="1.35" cx="240.4" cy="405.7"/>
<circle class="c37" r="1.35" cx="238.8" cy="402.9"/>
<circle class="c37" r="1.35" cx="241.2" cy="401.4"/>
<circle class="c37" r="1.35" cx="232.2" cy="401.6"/>
<circle class="c37" r="1.35" cx="239.3" cy="404.3"/>
<circle class="c37" r="1.35" cx="235.2" cy="404.2"/>
<circle class="c37" r="1.35" cx="235.9" cy="404.6"/>
<circle class="c37" r="1.35" cx="244.3" cy="401.8"/>
<circle class="c37" r="1.35" cx="242.3" cy="408.9"/>
<circle class="c37" r="1.35" cx="237.9" cy="405.2"/>
<circle class="c37" r="1.35" cx="234.7" cy="401.6"/>
<circle class="c37" r="1.35" cx="246" cy="408.5"/>
<circle class="c37" r="1.35" cx="243.7" cy="406"/>
<circle class="c37" r="1.35" cx="245" cy="408.7"/>
<circle class="c37" r="1.35" cx="246.2" cy="409.1"/>
<circle class="c37" r="1.35" cx="242.5" cy="400.5"/>
<circle class="c37" r="1.35" cx="238.4" cy="408.7"/>
<circle class="c37" r="1.35" cx="236.6" cy="411.2"/>
<circle class="c37" r="1.35" cx="244.5" cy="405.8"/>
<circle class="c37" r="1.35" cx="240" cy="411.6"/>
<circle class="c37" r="1.35" cx="240.9" cy="401.5"/>
<circle class="c37" r="1.35" cx="239.4" cy="404.7"/>
<circle class="c37" r="1.35" cx="242.6" cy="406.4"/>
<circle class="c37" r="1.35" cx="232.4" cy="409.8"/>
<circle class="c37" r="1.35" cx="243.9" cy="407.3"/>
<circle class="c37" r="1.35" cx="231.5" cy="403.6"/>
<circle class="c37" r="1.35" cx="239.2" cy="410.9"/>
<circle class="c37" r="1.35" cx="232.7" cy="402.6"/>
<circle class="c37" r="1.35" cx="244" cy="403.1"/>
<circle class="c37" r="1.35" cx="240.5" cy="404.4"/>
<circle class="c37" r="1.35" cx="245.7" cy="405.1"/>
<circle class="c37" r="1.35" cx="242.2" cy="403.1"/>
<circle class="c37" r="1.35" cx="244.7" cy="401.5"/>
<circle class="c37" r="1.35" cx="243.4" cy="409.9"/>
<circle class="c37" r="1.35" cx="238.3" cy="401.4"/>
<circle class="c37" r="1.35" cx="249.5" cy="404.8"/>
<circle class="c37" r="1.35" cx="240.9" cy="405.2"/>
<circle class="c37" r="1.35" cx="234.5" cy="409.8"/>
<circle class="c37" r="1.35" cx="244.5" cy="406"/>
<circle class="c37" r="1.35" cx="247.5" cy="403.8"/>
<circle class="c37" r="1.35" cx="237.8" cy="407.4"/>
<circle class="c37" r="1.35" cx="242.9" cy="405.1"/>
<circle class="c37" r="1.35" cx="233.4" cy="409.4"/>
<circle class="c37" r="1.35" cx="239.2" cy="408.2"/>
<circle class="c37" r="1.35" cx="238" cy="408.1"/>
<circle class="c37" r="1.35" cx="246.4" cy="409.9"/>
<circle class="c37" r="1.35" cx="235.7" cy="408.6"/>
<circle class="c37" r="1.35" cx="243.6" cy="403.9"/>
<circle class="c37" r="1.35" cx="237" cy="404.3"/>
<circle class="c37" r="1.35" cx="245.5" cy="409.4"/>
<circle class="c37" r="1.35" cx="238.1" cy="407.1"/>
<circle class="c37" r="1.35" cx="242.5" cy="406.9"/>
<circle class="c37" r="1.35" cx="239.3" cy="404.9"/>
<circle class="c37" r="1.35" cx="233.7" cy="405.8"/>
<circle class="c37" r="1.35" cx="242" cy="406.8"/>
<circle class="c37" r="1.35" cx="232.6" cy="409.5"/>
<circle class="c37" r="1.35" cx="245.1" cy="408.9"/>
<circle class="c37" r="1.35" cx="239.9" cy="402.9"/>
<circle class="c37" r="1.35" cx="242.8" cy="401.2"/>
<circle class="c37" r="1.35" cx="238.8" cy="405.7"/>
<circle class="c37" r="1.35" cx="241.8" cy="407"/>
<circle class="c37" r="1.35" cx="242.8" cy="401.8"/>
<circle class="c37" r="1.35" cx="236.4" cy="410.8"/>
<circle class="c37" r="1.35" cx="242.5" cy="400.9"/>
<circle class="c37" r="1.35" cx="234.8" cy="402.2"/>
<circle class="c37" r="1.35" cx="239.6" cy="404"/>
<circle class="c37" r="1.35" cx="237.1" cy="406.5"/>
<circle class="c37" r="1.35" cx="243.1" cy="406.4"/>
<circle class="c37" r="1.35" cx="226.3" cy="407.5"/>
<circle class="c37" r="1.35" cx="229" cy="403"/>
<circle class="c37" r="1.35" cx="252" cy="402"/>
<circle class="c37" r="1.35" cx="254" cy="405"/>
<circle class="c37" r="1.35" cx="256" cy="408"/>
<circle class="c37" r="1.35" cx="258" cy="403.5"/>
<circle class="c37" r="1.35" cx="259.5" cy="406.5"/>
<circle class="c37" r="1.35" cx="261" cy="409"/>
<circle class="c37" r="1.35" cx="263.5" cy="408.6"/>
<circle class="c37" r="1.35" cx="267.4" cy="403.3"/>
<circle class="c37" r="1.35" cx="279.8" cy="401"/>
<circle class="c37" r="1.35" cx="274.4" cy="407"/>
<circle class="c37" r="1.35" cx="275.8" cy="409"/>
<circle class="c37" r="1.35" cx="282.6" cy="408"/>
<circle class="c37" r="1.35" cx="287.4" cy="408"/>
<circle class="c37" r="1.35" cx="291" cy="409.8"/>
<circle class="c37" r="1.35" cx="294.4" cy="406.3"/>
<circle class="c37" r="1.35" cx="253" cy="410.5"/>
<circle class="c37" r="1.35" cx="257" cy="411"/>
<text x="188.9" y="343.1" font-size="5.2" fill="#111" font-weight="bold" stroke="#111" stroke-width="0.18" textLength="12.4" lengthAdjust="spacingAndGlyphs">FAT1</text>
<text x="218.3" y="343.3" font-size="6" fill="#111" font-weight="bold" stroke="#111" stroke-width="0.21" textLength="4.6" lengthAdjust="spacingAndGlyphs">H</text>
<text x="228.9" y="343.3" font-size="6.2" fill="#111" font-weight="bold" stroke="#111" stroke-width="0.22" textLength="30.4" lengthAdjust="spacingAndGlyphs">Lung SCC</text>
<text x="281.2" y="342.5" font-size="5.6" fill="#111" font-weight="bold" stroke="#111" stroke-width="0.2" textLength="31.2" lengthAdjust="spacingAndGlyphs"><tspan font-style="italic">P</tspan> = 2.12e−3</text>
<text x="258.6" y="441.3" font-size="5.6" fill="#111" font-weight="bold" stroke="#111" stroke-width="0.2" textLength="41.4" lengthAdjust="spacingAndGlyphs">Mutation count</text>
<line x1="387.47" y1="351" x2="387.47" y2="425" stroke="#f5f5f5" stroke-width="0.5"/>
<line x1="401.7" y1="351" x2="401.7" y2="425" stroke="#f5f5f5" stroke-width="0.5"/>
<line x1="415.93" y1="351" x2="415.93" y2="425" stroke="#f5f5f5" stroke-width="0.5"/>
<line x1="430.15" y1="351" x2="430.15" y2="425" stroke="#f5f5f5" stroke-width="0.5"/>
<line x1="444.38" y1="351" x2="444.38" y2="425" stroke="#f5f5f5" stroke-width="0.5"/>
<line x1="458.6" y1="351" x2="458.6" y2="425" stroke="#f5f5f5" stroke-width="0.5"/>
<line x1="472.82" y1="351" x2="472.82" y2="425" stroke="#f5f5f5" stroke-width="0.5"/>
<line x1="487.05" y1="351" x2="487.05" y2="425" stroke="#f5f5f5" stroke-width="0.5"/>
<line x1="501.27" y1="351" x2="501.27" y2="425" stroke="#f5f5f5" stroke-width="0.5"/>
<line x1="515.5" y1="351" x2="515.5" y2="425" stroke="#f5f5f5" stroke-width="0.5"/>
<line x1="377.4" y1="367.6" x2="518" y2="367.6" stroke="#f5f5f5" stroke-width="0.5"/>
<line x1="377.4" y1="406.4" x2="518" y2="406.4" stroke="#f5f5f5" stroke-width="0.5"/>
<line x1="377.4" y1="348" x2="377.4" y2="425" stroke="#8a8a8a" stroke-width="0.6"/>
<line x1="377.4" y1="425" x2="518" y2="425" stroke="#8a8a8a" stroke-width="0.6"/>
<line x1="387.47" y1="425" x2="387.47" y2="426.3" stroke="#8a8a8a" stroke-width="0.4"/>
<text x="387.47" y="431.3" font-size="4.5" fill="#222" text-anchor="middle" stroke="#222" stroke-width="0.16">-5</text>
<line x1="401.7" y1="425" x2="401.7" y2="426.3" stroke="#8a8a8a" stroke-width="0.4"/>
<text x="401.7" y="431.3" font-size="4.5" fill="#222" text-anchor="middle" stroke="#222" stroke-width="0.16">0</text>
<line x1="415.93" y1="425" x2="415.93" y2="426.3" stroke="#8a8a8a" stroke-width="0.4"/>
<text x="415.93" y="431.3" font-size="4.5" fill="#222" text-anchor="middle" stroke="#222" stroke-width="0.16">5</text>
<line x1="430.15" y1="425" x2="430.15" y2="426.3" stroke="#8a8a8a" stroke-width="0.4"/>
<text x="430.15" y="431.3" font-size="4.5" fill="#222" text-anchor="middle" stroke="#222" stroke-width="0.16">10</text>
<line x1="444.38" y1="425" x2="444.38" y2="426.3" stroke="#8a8a8a" stroke-width="0.4"/>
<text x="444.38" y="431.3" font-size="4.5" fill="#222" text-anchor="middle" stroke="#222" stroke-width="0.16">15</text>
<line x1="458.6" y1="425" x2="458.6" y2="426.3" stroke="#8a8a8a" stroke-width="0.4"/>
<text x="458.6" y="431.3" font-size="4.5" fill="#222" text-anchor="middle" stroke="#222" stroke-width="0.16">20</text>
<line x1="472.82" y1="425" x2="472.82" y2="426.3" stroke="#8a8a8a" stroke-width="0.4"/>
<text x="472.82" y="431.3" font-size="4.5" fill="#222" text-anchor="middle" stroke="#222" stroke-width="0.16">25</text>
<line x1="487.05" y1="425" x2="487.05" y2="426.3" stroke="#8a8a8a" stroke-width="0.4"/>
<text x="487.05" y="431.3" font-size="4.5" fill="#222" text-anchor="middle" stroke="#222" stroke-width="0.16">30</text>
<line x1="501.27" y1="425" x2="501.27" y2="426.3" stroke="#8a8a8a" stroke-width="0.4"/>
<text x="501.27" y="431.3" font-size="4.5" fill="#222" text-anchor="middle" stroke="#222" stroke-width="0.16">35</text>
<line x1="515.5" y1="425" x2="515.5" y2="426.3" stroke="#8a8a8a" stroke-width="0.4"/>
<text x="515.5" y="431.3" font-size="4.5" fill="#222" text-anchor="middle" stroke="#222" stroke-width="0.16">40</text>
<line x1="376.1" y1="367.6" x2="377.4" y2="367.6" stroke="#8a8a8a" stroke-width="0.4"/>
<text x="0" y="0" font-size="5.8" fill="#111" text-anchor="middle" transform="translate(373.1 369.6) rotate(-90)" stroke="#111" stroke-width="0.18">Unaltered</text>
<line x1="401.7" y1="367.6" x2="437.26" y2="367.6" stroke="#e4d8c8" stroke-width="0.4"/>
<line x1="457.18" y1="367.6" x2="495.58" y2="367.6" stroke="#e4d8c8" stroke-width="0.4"/>
<line x1="401.7" y1="358.3" x2="401.7" y2="376.9" stroke="#dccdb8" stroke-width="0.5"/>
<line x1="495.58" y1="358.3" x2="495.58" y2="376.9" stroke="#dccdb8" stroke-width="0.5"/>
<rect x="437.26" y="358.9" width="19.92" height="17.4" fill="#f6f6f6" stroke="#cccccc" stroke-width="0.4" stroke-dasharray="0.7 0.7"/>
<line x1="447.22" y1="358.9" x2="447.22" y2="376.3" stroke="#c8c8c8" stroke-width="0.4" stroke-dasharray="0.7 0.7"/>
<circle class="c38" r="1.45" cx="413.5" cy="363.8"/>
<circle class="c38" r="1.45" cx="412.4" cy="365.5"/>
<circle class="c38" r="1.45" cx="413.4" cy="367"/>
<circle class="c38" r="1.45" cx="412.8" cy="368.8"/>
<circle class="c38" r="1.45" cx="413" cy="370.3"/>
<circle class="c38" r="1.45" cx="415.5" cy="363.7"/>
<circle class="c38" r="1.45" cx="415.6" cy="365.4"/>
<circle class="c38" r="1.45" cx="416.4" cy="366.8"/>
<circle class="c38" r="1.45" cx="416.3" cy="368.6"/>
<circle class="c38" r="1.45" cx="415.4" cy="370"/>
<circle class="c38" r="1.45" cx="418.5" cy="363.6"/>
<circle class="c38" r="1.45" cx="418.4" cy="365.1"/>
<circle class="c38" r="1.45" cx="419.4" cy="366.8"/>
<circle class="c38" r="1.45" cx="419" cy="368.4"/>
<circle class="c38" r="1.45" cx="419.4" cy="369.7"/>
<circle class="c38" r="1.45" cx="418.9" cy="371.4"/>
<circle class="c38" r="1.45" cx="421" cy="363.3"/>
<circle class="c38" r="1.45" cx="421.1" cy="364.9"/>
<circle class="c38" r="1.45" cx="421.2" cy="366.4"/>
<circle class="c38" r="1.45" cx="421.2" cy="368.2"/>
<circle class="c38" r="1.45" cx="420.9" cy="369.8"/>
<circle class="c38" r="1.45" cx="421.4" cy="371.5"/>
<circle class="c38" r="1.45" cx="424.2" cy="362.9"/>
<circle class="c38" r="1.45" cx="423.9" cy="364.8"/>
<circle class="c38" r="1.45" cx="424.4" cy="366.3"/>
<circle class="c38" r="1.45" cx="425.1" cy="367.7"/>
<circle class="c38" r="1.45" cx="424.7" cy="371.2"/>
<circle class="c38" r="1.45" cx="427.8" cy="362.9"/>
<circle class="c38" r="1.45" cx="427.3" cy="364.5"/>
<circle class="c38" r="1.45" cx="426.7" cy="366.1"/>
<circle class="c38" r="1.45" cx="427.3" cy="367.7"/>
<circle class="c38" r="1.45" cx="426.6" cy="369.1"/>
<circle class="c38" r="1.45" cx="427.1" cy="370.8"/>
<circle class="c38" r="1.45" cx="430.7" cy="362.5"/>
<circle class="c38" r="1.45" cx="430.7" cy="364.3"/>
<circle class="c38" r="1.45" cx="430.1" cy="365.8"/>
<circle class="c38" r="1.45" cx="430" cy="367.4"/>
<circle class="c38" r="1.45" cx="429.9" cy="369.1"/>
<circle class="c38" r="1.45" cx="430" cy="372.4"/>
<circle class="c38" r="1.45" cx="432.9" cy="362.4"/>
<circle class="c38" r="1.45" cx="433.6" cy="364"/>
<circle class="c38" r="1.45" cx="432.9" cy="365.5"/>
<circle class="c38" r="1.45" cx="433.4" cy="367.2"/>
<circle class="c38" r="1.45" cx="432.8" cy="369.1"/>
<circle class="c38" r="1.45" cx="432.4" cy="370.4"/>
<circle class="c38" r="1.45" cx="435.7" cy="362.5"/>
<circle class="c38" r="1.45" cx="435.8" cy="364"/>
<circle class="c38" r="1.45" cx="435.6" cy="365.4"/>
<circle class="c38" r="1.45" cx="436" cy="367.1"/>
<circle class="c38" r="1.45" cx="435.3" cy="368.7"/>
<circle class="c38" r="1.45" cx="435.8" cy="370.6"/>
<circle class="c38" r="1.45" cx="436.1" cy="371.9"/>
<circle class="c38" r="1.45" cx="438.1" cy="362.3"/>
<circle class="c38" r="1.45" cx="439.3" cy="364.1"/>
<circle class="c38" r="1.45" cx="439" cy="365.6"/>
<circle class="c38" r="1.45" cx="439.3" cy="367.3"/>
<circle class="c38" r="1.45" cx="439.1" cy="368.7"/>
<circle class="c38" r="1.45" cx="439" cy="370.2"/>
<circle class="c38" r="1.45" cx="439.4" cy="371.9"/>
<circle class="c38" r="1.45" cx="442" cy="363.8"/>
<circle class="c38" r="1.45" cx="442.1" cy="366.9"/>
<circle class="c38" r="1.45" cx="442" cy="368.8"/>
<circle class="c38" r="1.45" cx="440.9" cy="370.2"/>
<circle class="c38" r="1.45" cx="440.9" cy="372.2"/>
<circle class="c38" r="1.45" cx="445" cy="362.4"/>
<circle class="c38" r="1.45" cx="443.8" cy="364"/>
<circle class="c38" r="1.45" cx="444.4" cy="365.5"/>
<circle class="c38" r="1.45" cx="443.8" cy="367"/>
<circle class="c38" r="1.45" cx="443.7" cy="368.8"/>
<circle class="c38" r="1.45" cx="444.1" cy="370.2"/>
<circle class="c38" r="1.45" cx="444.2" cy="371.9"/>
<circle class="c38" r="1.45" cx="447.3" cy="362.5"/>
<circle class="c38" r="1.45" cx="446.7" cy="363.9"/>
<circle class="c38" r="1.45" cx="447.3" cy="365.7"/>
<circle class="c38" r="1.45" cx="446.8" cy="367.1"/>
<circle class="c38" r="1.45" cx="447.1" cy="368.8"/>
<circle class="c38" r="1.45" cx="447.4" cy="372.2"/>
<circle class="c38" r="1.45" cx="450.5" cy="362.4"/>
<circle class="c38" r="1.45" cx="450.7" cy="363.9"/>
<circle class="c38" r="1.45" cx="449.9" cy="365.5"/>
<circle class="c38" r="1.45" cx="450.4" cy="367.2"/>
<circle class="c38" r="1.45" cx="449.5" cy="368.9"/>
<circle class="c38" r="1.45" cx="450.1" cy="370.7"/>
<circle class="c38" r="1.45" cx="450.2" cy="372.3"/>
<circle class="c38" r="1.45" cx="452.9" cy="362.7"/>
<circle class="c38" r="1.45" cx="452.4" cy="364.3"/>
<circle class="c38" r="1.45" cx="452.4" cy="366"/>
<circle class="c38" r="1.45" cx="453.5" cy="367.6"/>
<circle class="c38" r="1.45" cx="453.2" cy="369.1"/>
<circle class="c38" r="1.45" cx="452.8" cy="370.6"/>
<circle class="c38" r="1.45" cx="453.3" cy="372.4"/>
<circle class="c38" r="1.45" cx="455.9" cy="362.7"/>
<circle class="c38" r="1.45" cx="456.1" cy="364.6"/>
<circle class="c38" r="1.45" cx="456" cy="366.1"/>
<circle class="c38" r="1.45" cx="455.9" cy="367.4"/>
<circle class="c38" r="1.45" cx="455.2" cy="369.4"/>
<circle class="c38" r="1.45" cx="456.3" cy="371.1"/>
<circle class="c38" r="1.45" cx="459.1" cy="362.8"/>
<circle class="c38" r="1.45" cx="457.9" cy="364.4"/>
<circle class="c38" r="1.45" cx="459.1" cy="366"/>
<circle class="c38" r="1.45" cx="458.3" cy="367.7"/>
<circle class="c38" r="1.45" cx="458.2" cy="369.6"/>
<circle class="c38" r="1.45" cx="458.7" cy="371.1"/>
<circle class="c38" r="1.45" cx="461.4" cy="363.1"/>
<circle class="c38" r="1.45" cx="462" cy="364.7"/>
<circle class="c38" r="1.45" cx="461.9" cy="366.5"/>
<circle class="c38" r="1.45" cx="461.5" cy="369.5"/>
<circle class="c38" r="1.45" cx="461.4" cy="371.4"/>
<circle class="c38" r="1.45" cx="464.6" cy="363.5"/>
<circle class="c38" r="1.45" cx="464.8" cy="365.2"/>
<circle class="c38" r="1.45" cx="464.9" cy="366.8"/>
<circle class="c38" r="1.45" cx="464.1" cy="368.2"/>
<circle class="c38" r="1.45" cx="464.1" cy="370"/>
<circle class="c38" r="1.45" cx="463.6" cy="371.4"/>
<circle class="c38" r="1.45" cx="467.3" cy="363.7"/>
<circle class="c38" r="1.45" cx="466.6" cy="365.2"/>
<circle class="c38" r="1.45" cx="467.7" cy="367"/>
<circle class="c38" r="1.45" cx="467.8" cy="368.5"/>
<circle class="c38" r="1.45" cx="467.1" cy="370.1"/>
<circle class="c38" r="1.45" cx="470.1" cy="365.6"/>
<circle class="c38" r="1.45" cx="470.4" cy="366.9"/>
<circle class="c38" r="1.45" cx="469.4" cy="368.7"/>
<circle class="c38" r="1.45" cx="469.5" cy="370.3"/>
<circle class="c38" r="1.45" cx="473.1" cy="364.2"/>
<circle class="c38" r="1.45" cx="473.5" cy="365.7"/>
<circle class="c38" r="1.45" cx="472.6" cy="367.2"/>
<circle class="c38" r="1.45" cx="473.4" cy="368.8"/>
<circle class="c38" r="1.45" cx="473" cy="370.7"/>
<circle class="c38" r="1.45" cx="475.6" cy="364.1"/>
<circle class="c38" r="1.45" cx="475.6" cy="366"/>
<circle class="c38" r="1.45" cx="476" cy="367.7"/>
<circle class="c38" r="1.45" cx="476.2" cy="369"/>
<circle class="c38" r="1.45" cx="476.2" cy="370.5"/>
<circle class="c38" r="1.45" cx="477.9" cy="365.9"/>
<circle class="c38" r="1.45" cx="478.4" cy="367.7"/>
<circle class="c38" r="1.45" cx="479" cy="369.2"/>
<circle class="c38" r="1.45" cx="480.9" cy="364.6"/>
<circle class="c38" r="1.45" cx="481.2" cy="366"/>
<circle class="c38" r="1.45" cx="481.8" cy="367.6"/>
<circle class="c38" r="1.45" cx="480.7" cy="369.6"/>
<circle class="c38" r="1.45" cx="401.7" cy="362"/>
<circle class="c38" r="1.45" cx="401.7" cy="364"/>
<circle class="c38" r="1.45" cx="401.7" cy="366"/>
<circle class="c38" r="1.45" cx="401.7" cy="368"/>
<circle class="c38" r="1.45" cx="401.7" cy="370"/>
<circle class="c38" r="1.45" cx="404.3" cy="366.5"/>
<circle class="c38" r="1.45" cx="480" cy="367"/>
<circle class="c38" r="1.45" cx="483" cy="366.5"/>
<circle class="c38" r="1.45" cx="486" cy="368.5"/>
<circle class="c38" r="1.45" cx="489" cy="367"/>
<circle class="c38" r="1.45" cx="492" cy="367.5"/>
<circle class="c38" r="1.45" cx="494.5" cy="364.5"/>
<circle class="c38" r="1.45" cx="495.6" cy="372"/>
<line x1="376.1" y1="406.4" x2="377.4" y2="406.4" stroke="#8a8a8a" stroke-width="0.4"/>
<text x="0" y="0" font-size="5.8" fill="#111" text-anchor="middle" transform="translate(373.1 407.9) rotate(-90)" stroke="#111" stroke-width="0.18">Altered</text>
<line x1="401.7" y1="406.4" x2="437.26" y2="406.4" stroke="#e4d8c8" stroke-width="0.4"/>
<line x1="467.13" y1="406.4" x2="489.89" y2="406.4" stroke="#e4d8c8" stroke-width="0.4"/>
<line x1="401.7" y1="396.8" x2="401.7" y2="416" stroke="#dccdb8" stroke-width="0.5"/>
<line x1="489.89" y1="396.8" x2="489.89" y2="416" stroke="#dccdb8" stroke-width="0.5"/>
<rect x="437.26" y="397.4" width="29.87" height="18" fill="#f6f6f6" stroke="#cccccc" stroke-width="0.4" stroke-dasharray="0.7 0.7"/>
<line x1="452.91" y1="397.4" x2="452.91" y2="415.4" stroke="#c8c8c8" stroke-width="0.4" stroke-dasharray="0.7 0.7"/>
<circle class="c38" r="1.45" cx="418.2" cy="406.1"/>
<circle class="c38" r="1.45" cx="421.3" cy="406"/>
<circle class="c38" r="1.45" cx="421.7" cy="407.8"/>
<circle class="c38" r="1.45" cx="422.3" cy="409.3"/>
<circle class="c38" r="1.45" cx="424.8" cy="402.7"/>
<circle class="c38" r="1.45" cx="425" cy="405.8"/>
<circle class="c38" r="1.45" cx="424" cy="407.2"/>
<circle class="c38" r="1.45" cx="424.1" cy="408.9"/>
<circle class="c38" r="1.45" cx="426.7" cy="402.5"/>
<circle class="c38" r="1.45" cx="427.6" cy="407.2"/>
<circle class="c38" r="1.45" cx="427.8" cy="408.7"/>
<circle class="c38" r="1.45" cx="426.9" cy="410.6"/>
<circle class="c38" r="1.45" cx="430" cy="402.2"/>
<circle class="c38" r="1.45" cx="430.4" cy="403.6"/>
<circle class="c38" r="1.45" cx="430.3" cy="405.4"/>
<circle class="c38" r="1.45" cx="429.8" cy="407"/>
<circle class="c38" r="1.45" cx="430.4" cy="410.3"/>
<circle class="c38" r="1.45" cx="432.7" cy="402.2"/>
<circle class="c38" r="1.45" cx="432.9" cy="403.5"/>
<circle class="c38" r="1.45" cx="433.5" cy="406.6"/>
<circle class="c38" r="1.45" cx="433.2" cy="408.3"/>
<circle class="c38" r="1.45" cx="435.2" cy="401.6"/>
<circle class="c38" r="1.45" cx="435.9" cy="403.3"/>
<circle class="c38" r="1.45" cx="435.1" cy="404.9"/>
<circle class="c38" r="1.45" cx="435.7" cy="406.6"/>
<circle class="c38" r="1.45" cx="438.7" cy="403.3"/>
<circle class="c38" r="1.45" cx="438" cy="406.2"/>
<circle class="c38" r="1.45" cx="439.2" cy="407.9"/>
<circle class="c38" r="1.45" cx="441.9" cy="406.1"/>
<circle class="c38" r="1.45" cx="441.4" cy="407.9"/>
<circle class="c38" r="1.45" cx="441.2" cy="409.3"/>
<circle class="c38" r="1.45" cx="441" cy="410.9"/>
<circle class="c38" r="1.45" cx="444.1" cy="401.3"/>
<circle class="c38" r="1.45" cx="444.4" cy="404.5"/>
<circle class="c38" r="1.45" cx="443.9" cy="406"/>
<circle class="c38" r="1.45" cx="444.6" cy="407.6"/>
<circle class="c38" r="1.45" cx="444.2" cy="409.4"/>
<circle class="c38" r="1.45" cx="447.4" cy="401.2"/>
<circle class="c38" r="1.45" cx="447.1" cy="406.1"/>
<circle class="c38" r="1.45" cx="447.4" cy="407.9"/>
<circle class="c38" r="1.45" cx="447.2" cy="409.2"/>
<circle class="c38" r="1.45" cx="449.9" cy="401.4"/>
<circle class="c38" r="1.45" cx="450.6" cy="402.8"/>
<circle class="c38" r="1.45" cx="449.8" cy="404.5"/>
<circle class="c38" r="1.45" cx="449.5" cy="406.2"/>
<circle class="c38" r="1.45" cx="450.2" cy="407.8"/>
<circle class="c38" r="1.45" cx="449.8" cy="409.3"/>
<circle class="c38" r="1.45" cx="453.4" cy="401.3"/>
<circle class="c38" r="1.45" cx="453.1" cy="403"/>
<circle class="c38" r="1.45" cx="452.7" cy="407.6"/>
<circle class="c38" r="1.45" cx="452.3" cy="410.9"/>
<circle class="c38" r="1.45" cx="455.5" cy="401.4"/>
<circle class="c38" r="1.45" cx="455.8" cy="403.1"/>
<circle class="c38" r="1.45" cx="456.4" cy="404.7"/>
<circle class="c38" r="1.45" cx="456.1" cy="406.1"/>
<circle class="c38" r="1.45" cx="455.6" cy="409.2"/>
<circle class="c38" r="1.45" cx="457.9" cy="401.6"/>
<circle class="c38" r="1.45" cx="458" cy="402.9"/>
<circle class="c38" r="1.45" cx="458.6" cy="406.4"/>
<circle class="c38" r="1.45" cx="458.2" cy="408.1"/>
<circle class="c38" r="1.45" cx="458" cy="409.4"/>
<circle class="c38" r="1.45" cx="461.2" cy="401.6"/>
<circle class="c38" r="1.45" cx="461.8" cy="403.3"/>
<circle class="c38" r="1.45" cx="461" cy="404.9"/>
<circle class="c38" r="1.45" cx="461.4" cy="406.3"/>
<circle class="c38" r="1.45" cx="462" cy="409.7"/>
<circle class="c38" r="1.45" cx="464.9" cy="403.5"/>
<circle class="c38" r="1.45" cx="463.7" cy="405"/>
<circle class="c38" r="1.45" cx="465" cy="408"/>
<circle class="c38" r="1.45" cx="464.3" cy="409.7"/>
<circle class="c38" r="1.45" cx="467.5" cy="403.7"/>
<circle class="c38" r="1.45" cx="466.9" cy="405.2"/>
<circle class="c38" r="1.45" cx="467.3" cy="406.6"/>
<circle class="c38" r="1.45" cx="467.2" cy="408.3"/>
<circle class="c38" r="1.45" cx="467" cy="410"/>
<circle class="c38" r="1.45" cx="470" cy="403.7"/>
<circle class="c38" r="1.45" cx="473.1" cy="403.9"/>
<circle class="c38" r="1.45" cx="472.7" cy="405.4"/>
<circle class="c38" r="1.45" cx="472.4" cy="407.1"/>
<circle class="c38" r="1.45" cx="473.2" cy="408.8"/>
<circle class="c38" r="1.45" cx="473.1" cy="410.4"/>
<circle class="c38" r="1.45" cx="475.5" cy="402.5"/>
<circle class="c38" r="1.45" cx="476.3" cy="404.2"/>
<circle class="c38" r="1.45" cx="475.7" cy="407.5"/>
<circle class="c38" r="1.45" cx="475.1" cy="409"/>
<circle class="c38" r="1.45" cx="477.8" cy="402.7"/>
<circle class="c38" r="1.45" cx="479.2" cy="404.5"/>
<circle class="c38" r="1.45" cx="478.4" cy="405.9"/>
<circle class="c38" r="1.45" cx="478.2" cy="407.8"/>
<circle class="c38" r="1.45" cx="481.8" cy="402.9"/>
<circle class="c38" r="1.45" cx="481.6" cy="406.2"/>
<circle class="c38" r="1.45" cx="481.9" cy="409.3"/>
<circle class="c38" r="1.45" cx="401.7" cy="407.5"/>
<circle class="c38" r="1.45" cx="410.5" cy="408.5"/>
<circle class="c38" r="1.45" cx="414" cy="409"/>
<circle class="c38" r="1.45" cx="416.5" cy="407"/>
<circle class="c38" r="1.45" cx="484" cy="404"/>
<circle class="c38" r="1.45" cx="486" cy="408"/>
<circle class="c38" r="1.45" cx="488.5" cy="407"/>
<circle class="c38" r="1.45" cx="490" cy="408.5"/>
<text x="366.2" y="343.1" font-size="5.2" fill="#111" font-weight="bold" stroke="#111" stroke-width="0.18" textLength="12.2" lengthAdjust="spacingAndGlyphs">FAT1</text>
<text x="397.3" y="343.3" font-size="6" fill="#111" font-weight="bold" stroke="#111" stroke-width="0.21" textLength="1.8" lengthAdjust="spacingAndGlyphs">I</text>
<text x="403.9" y="343.3" font-size="6.2" fill="#111" font-weight="bold" stroke="#111" stroke-width="0.22" textLength="30.4" lengthAdjust="spacingAndGlyphs">Lung SCC</text>
<text x="447.3" y="341.2" font-size="5.6" fill="#111" font-weight="bold" stroke="#111" stroke-width="0.2" textLength="31" lengthAdjust="spacingAndGlyphs"><tspan font-style="italic">P</tspan> = 5.86e−3</text>
<text x="426.3" y="441.3" font-size="5.6" fill="#111" font-weight="bold" stroke="#111" stroke-width="0.2" textLength="49.3" lengthAdjust="spacingAndGlyphs">Aneuploidy score</text>
</svg>
</body></html>
